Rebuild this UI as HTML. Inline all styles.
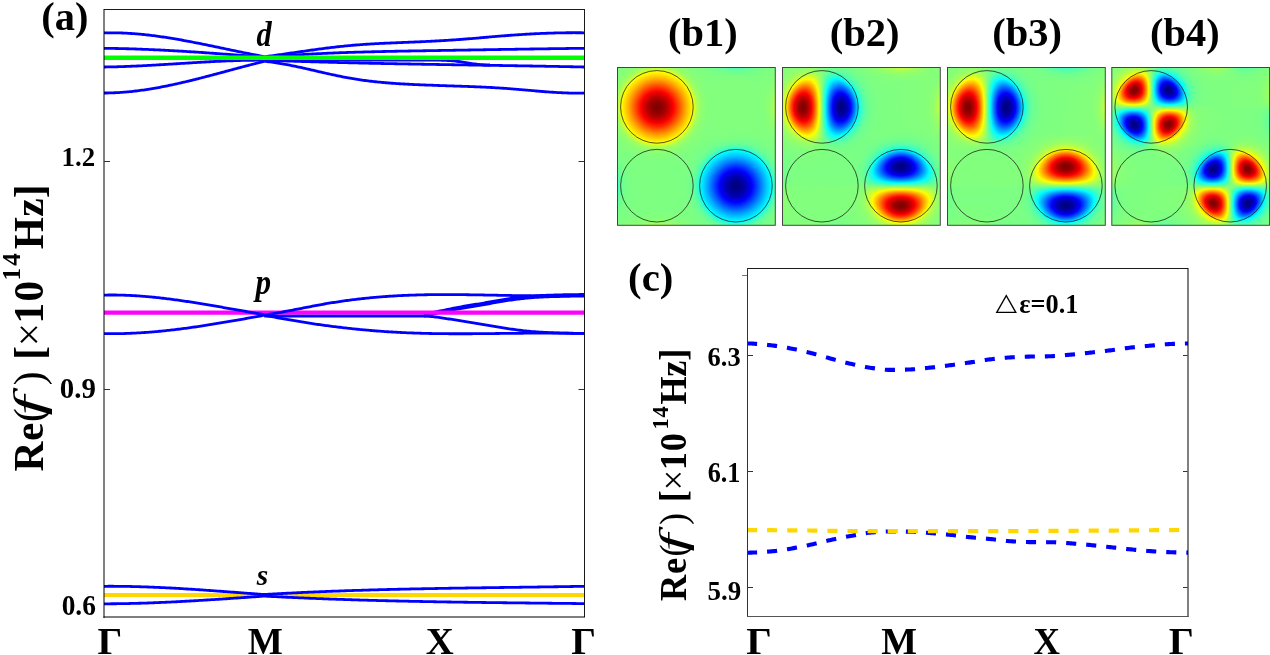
<!DOCTYPE html>
<html><head><meta charset="utf-8"><style>
html,body{margin:0;padding:0;background:#fff}
body{width:1270px;height:655px;position:relative;overflow:hidden}
.fm{position:absolute;overflow:hidden}
.fm i{position:absolute;left:0;width:100%;height:1px;display:block}
</style></head><body>
<div class="fm" style="left:617.5px;top:67.5px;width:157.8px;height:157.8px"><i style="top:0px;background:linear-gradient(90deg,#80ff7f 0.0%,#8dff72 10.5%,#beff41 23.1%,#bcff43 27.9%,#8bff74 40.2%,#7eff81 52.6%,#70ff8f 62.7%,#51ffae 73.5%,#56ffa9 79.2%,#78ff87 91.3%,#80ff7f 99.8%)"></i><i style="top:1px;background:linear-gradient(90deg,#80ff7f 0.0%,#8dff72 9.5%,#aeff51 16.5%,#cfff30 22.8%,#d0ff2f 26.9%,#afff50 33.3%,#8eff71 40.2%,#80ff7f 49.7%,#73ff8c 62.7%,#5affa5 74.1%,#64ff9b 81.4%,#7bff84 92.8%,#80ff7f 99.8%)"></i><i style="top:2px;background:linear-gradient(90deg,#80ff7f 0.0%,#8dff72 8.6%,#aaff55 14.3%,#e3ff1c 22.2%,#e9ff16 25.7%,#d9ff26 29.5%,#9aff65 38.3%,#86ff79 44.7%,#72ff8d 64.6%,#63ff9c 75.1%,#7eff81 95.7%,#80ff7f 99.8%)"></i><i style="top:3px;background:linear-gradient(90deg,#81ff7e 0.0%,#8eff71 7.9%,#aaff55 13.0%,#fbff04 21.5%,#fdff02 27.2%,#f5ff0a 29.2%,#a4ff5b 37.7%,#8bff74 43.1%,#7fff80 53.5%,#6dff92 69.7%,#6bff94 78.6%,#7fff80 96.3%,#81ff7e 99.8%)"></i><i style="top:4px;background:linear-gradient(90deg,#81ff7e 0.0%,#8fff70 7.3%,#a9ff56 11.7%,#daff25 16.2%,#fdff02 19.0%,#fff500 25.7%,#fcff03 31.1%,#b0ff4f 37.4%,#92ff6d 41.8%,#82ff7d 48.5%,#6eff91 77.0%,#81ff7e 99.8%)"></i><i style="top:5px;background:linear-gradient(90deg,#82ff7d 0.0%,#8fff70 6.7%,#a9ff56 10.8%,#d8ff27 14.6%,#fdff02 17.1%,#ffeb00 23.8%,#fff100 29.2%,#fcff03 33.0%,#b8ff47 37.7%,#98ff67 41.5%,#85ff7a 46.9%,#72ff8d 77.3%,#81ff7e 99.8%)"></i><i style="top:6px;background:linear-gradient(90deg,#82ff7d 0.0%,#91ff6e 6.3%,#acff53 10.1%,#d7ff28 13.3%,#fdff02 15.5%,#ffe200 22.5%,#ffe200 27.6%,#fffc00 33.6%,#f8ff07 34.9%,#c1ff3e 38.0%,#9dff62 41.5%,#88ff77 46.3%,#7dff82 60.8%,#76ff89 78.9%,#82ff7d 99.8%)"></i><i style="top:7px;background:linear-gradient(90deg,#83ff7c 0.0%,#91ff6e 5.7%,#abff54 9.2%,#d3ff2c 12.0%,#fdff02 14.3%,#ffda00 21.2%,#ffd500 26.3%,#ffe700 31.7%,#fcff03 35.8%,#c2ff3d 39.0%,#9eff61 42.1%,#89ff76 46.6%,#7eff81 58.0%,#79ff86 80.2%,#82ff7d 99.8%)"></i><i style="top:8px;background:linear-gradient(90deg,#83ff7c 0.0%,#93ff6c 5.4%,#b1ff4e 8.9%,#d9ff26 11.4%,#fcff03 13.0%,#ffd000 20.9%,#ffc800 25.7%,#ffd700 30.7%,#fdff02 36.8%,#f2ff0d 37.4%,#c0ff3f 39.9%,#9fff60 42.8%,#89ff76 46.9%,#7fff80 56.7%,#7bff84 81.7%,#83ff7c 99.8%)"></i><i style="top:9px;background:linear-gradient(90deg,#84ff7b 0.0%,#95ff6a 5.1%,#b2ff4d 8.2%,#deff21 10.8%,#fcff03 12.0%,#ffc800 20.0%,#ffbc00 24.7%,#ffc600 29.5%,#ffee00 35.5%,#feff01 37.7%,#f2ff0d 38.3%,#c3ff3c 40.6%,#9fff60 43.4%,#89ff76 47.5%,#7fff80 57.4%,#7cff83 84.0%,#84ff7b 99.8%)"></i><i style="top:10px;background:linear-gradient(90deg,#85ff7a 0.0%,#96ff69 4.8%,#b3ff4c 7.6%,#dbff24 9.8%,#fbff04 11.1%,#ffde00 15.2%,#ffb800 20.9%,#ffaf00 25.3%,#ffbd00 30.1%,#ffec00 36.4%,#fdff02 38.7%,#bfff40 41.5%,#9fff60 44.0%,#8aff75 47.8%,#80ff80 56.7%,#7eff81 86.8%,#84ff7b 99.8%)"></i><i style="top:11px;background:linear-gradient(90deg,#86ff79 0.0%,#98ff67 4.4%,#b8ff47 7.3%,#e6ff19 9.5%,#fdff02 10.5%,#ffb800 18.7%,#ffa300 23.4%,#ffa700 27.9%,#ffc400 33.0%,#fcff03 39.6%,#c6ff39 41.8%,#a2ff5d 44.4%,#8bff74 47.8%,#80ff7f 55.1%,#7fff80 89.4%,#85ff7a 99.8%)"></i><i style="top:12px;background:linear-gradient(90deg,#87ff78 0.0%,#9aff65 4.1%,#b7ff48 6.7%,#dfff20 8.6%,#fbff04 9.5%,#ffef00 11.4%,#ffae00 18.4%,#ff9700 22.8%,#ff9700 26.9%,#ffad00 31.4%,#fff100 38.7%,#fdff02 40.2%,#c6ff39 42.5%,#a5ff5a 44.7%,#8dff72 47.8%,#81ff7e 54.2%,#7fff80 91.3%,#86ff79 99.8%)"></i><i style="top:13px;background:linear-gradient(90deg,#88ff77 0.0%,#9bff64 3.8%,#bcff43 6.3%,#e8ff17 8.2%,#fbff04 8.9%,#ffe700 11.4%,#ffa200 18.4%,#ff8a00 22.8%,#ff8900 26.9%,#ffa000 31.4%,#ffe100 38.0%,#fdff02 40.9%,#c5ff3a 43.1%,#a3ff5c 45.3%,#8dff72 48.5%,#81ff7e 55.1%,#80ff7f 94.4%,#87ff78 99.8%)"></i><i style="top:14px;background:linear-gradient(90deg,#89ff76 0.0%,#9dff62 3.5%,#baff45 5.7%,#e7ff18 7.6%,#fbff04 8.2%,#ffed00 10.1%,#ff9b00 17.7%,#ff7e00 22.2%,#ff7a00 26.3%,#ff8d00 30.4%,#ffc300 36.1%,#fdff02 41.5%,#c4ff3b 43.7%,#a2ff5d 45.9%,#8cff73 49.1%,#80ff7f 56.1%,#82ff7d 95.7%,#88ff77 99.8%)"></i><i style="top:15px;background:linear-gradient(90deg,#8aff75 0.0%,#9eff61 3.2%,#bdff42 5.4%,#e4ff1b 7.0%,#f9ff06 7.6%,#fff800 8.6%,#ff9200 17.4%,#ff7200 21.9%,#ff6b00 25.7%,#ff7b00 29.8%,#ffaa00 34.9%,#fdff02 42.1%,#c8ff37 44.0%,#a3ff5c 46.3%,#8cff73 49.4%,#81ff7e 56.1%,#82ff7d 96.0%,#89ff76 99.8%)"></i><i style="top:16px;background:linear-gradient(90deg,#8cff73 0.0%,#a3ff5c 3.2%,#c1ff3e 5.1%,#ebff14 6.7%,#fdff02 7.3%,#ff8200 17.7%,#ff6400 21.9%,#ff5d00 25.7%,#ff6c00 29.5%,#ff9800 34.2%,#ffff00 42.5%,#fcff03 42.8%,#ccff33 44.4%,#a9ff56 46.3%,#90ff6f 49.1%,#82ff7d 54.5%,#81ff7e 94.7%,#8bff74 99.8%)"></i><i style="top:17px;background:linear-gradient(90deg,#8dff72 0.0%,#a4ff5b 2.9%,#c3ff3c 4.8%,#f0ff0f 6.3%,#fbff04 6.7%,#ffef00 8.2%,#ff7c00 17.1%,#ff5900 21.2%,#ff4e00 25.0%,#ff5a00 28.8%,#ff8100 33.3%,#feff01 43.1%,#ecff13 43.7%,#c1ff3e 45.3%,#9fff60 47.5%,#8aff75 50.7%,#80ff7f 58.3%,#83ff7c 96.0%,#8cff73 99.8%)"></i><i style="top:18px;background:linear-gradient(90deg,#8fff70 0.0%,#a5ff5a 2.5%,#c6ff39 4.4%,#fdff02 6.3%,#ff6d00 17.4%,#ff4a00 21.5%,#ff4000 25.0%,#ff4c00 28.8%,#ff7200 33.0%,#fffe00 43.4%,#fcff03 43.7%,#caff35 45.3%,#a7ff58 47.2%,#8eff71 50.1%,#82ff7d 55.4%,#82ff7d 95.1%,#8eff71 99.8%)"></i><i style="top:19px;background:linear-gradient(90deg,#91ff6e 0.0%,#aaff55 2.5%,#d0ff2f 4.4%,#faff05 5.7%,#fffb00 6.3%,#ff6400 17.1%,#ff3e00 21.2%,#ff3100 24.7%,#ff3b00 28.2%,#ff5e00 32.3%,#ffba00 39.0%,#fdff02 44.0%,#c5ff3a 45.9%,#a4ff5b 47.8%,#8dff72 50.7%,#81ff7e 56.7%,#83ff7c 95.4%,#90ff6f 99.8%)"></i><i style="top:20px;background:linear-gradient(90deg,#93ff6c 0.0%,#afff50 2.5%,#d1ff2e 4.1%,#fcff03 5.4%,#ffdf00 7.9%,#ff5800 17.1%,#ff3000 21.2%,#ff2300 24.7%,#ff2d00 28.2%,#ff4e00 32.0%,#ff9e00 37.7%,#feff01 44.4%,#f8ff07 44.7%,#ceff31 45.9%,#a8ff57 47.8%,#90ff6f 50.4%,#82ff7d 55.1%,#82ff7d 94.1%,#8eff71 99.2%,#92ff6d 99.8%)"></i><i style="top:21px;background:linear-gradient(90deg,#95ff6a 0.0%,#afff50 2.2%,#d2ff2d 3.8%,#fdff02 5.1%,#ffc000 9.5%,#ff4c00 17.1%,#ff2500 20.9%,#ff1500 24.4%,#ff1d00 27.9%,#ff3e00 31.7%,#ff8a00 37.1%,#ffff00 44.7%,#fbff04 45.0%,#cfff30 46.3%,#adff52 47.8%,#92ff6d 50.4%,#83ff7c 54.8%,#80ff7f 91.6%,#8bff74 98.2%,#94ff6b 99.8%)"></i><i style="top:22px;background:linear-gradient(90deg,#97ff68 0.0%,#b5ff4a 2.2%,#ddff22 3.8%,#fdff02 4.8%,#ffb900 9.5%,#ff4500 16.8%,#ff1a00 20.6%,#ff0800 24.1%,#ff0e00 27.6%,#ff2b00 31.1%,#ff6d00 35.8%,#fffa00 44.7%,#fbff04 45.3%,#cfff30 46.6%,#adff52 48.2%,#94ff6b 50.4%,#84ff7b 54.5%,#7fff80 80.5%,#85ff7a 96.0%,#96ff69 99.8%)"></i><i style="top:23px;background:linear-gradient(90deg,#9aff65 0.0%,#b4ff4b 1.9%,#dcff23 3.5%,#fdff02 4.4%,#ffb700 9.2%,#ff3a00 16.8%,#ff0d00 20.6%,#fe0000 22.8%,#fa0000 26.0%,#ff0500 28.2%,#ff2a00 32.0%,#ff7d00 37.4%,#fff500 44.7%,#fbff04 45.6%,#cfff30 46.9%,#acff53 48.5%,#93ff6c 50.7%,#84ff7b 54.8%,#7fff80 83.3%,#86ff79 96.0%,#95ff6a 99.5%,#98ff67 99.8%)"></i><i style="top:24px;background:linear-gradient(90deg,#9cff63 0.0%,#b9ff46 1.9%,#dbff24 3.2%,#fdff02 4.1%,#ffc100 8.2%,#ff2f00 16.8%,#ff0100 20.6%,#ed0000 24.1%,#f10000 27.2%,#ff0200 29.5%,#ff3100 33.3%,#fff500 45.0%,#fbff04 45.9%,#ceff31 47.2%,#abff54 48.8%,#93ff6c 51.0%,#84ff7b 55.1%,#80ff7f 86.5%,#87ff78 96.3%,#97ff68 99.5%,#9aff65 99.8%)"></i><i style="top:25px;background:linear-gradient(90deg,#9fff60 0.0%,#bfff40 1.9%,#e5ff1a 3.2%,#fcff03 3.8%,#ffcb00 7.3%,#ff2400 16.8%,#fd0000 19.6%,#e40000 22.8%,#e00000 26.0%,#f20000 29.2%,#ff0300 30.7%,#ff4000 34.9%,#ffec00 44.7%,#ffff00 45.9%,#f9ff06 46.3%,#ccff33 47.5%,#aaff55 49.1%,#90ff6f 51.6%,#82ff7d 56.4%,#83ff7c 93.8%,#90ff6f 98.2%,#9dff62 99.8%)"></i><i style="top:26px;background:linear-gradient(90deg,#a2ff5d 0.0%,#bdff42 1.6%,#e2ff1d 2.9%,#fbff04 3.5%,#fff000 4.8%,#ff8000 11.1%,#ff1500 17.1%,#fe0000 18.7%,#dc0000 22.2%,#d30000 25.3%,#e10000 28.5%,#ff0000 31.4%,#ff4700 35.8%,#ffe300 44.4%,#feff01 46.3%,#e9ff16 46.9%,#c2ff3d 48.2%,#a0ff5f 50.1%,#8bff74 52.9%,#80ff7f 59.6%,#83ff7c 94.1%,#91ff6e 98.2%,#9fff60 99.8%)"></i><i style="top:27px;background:linear-gradient(90deg,#a4ff5b 0.0%,#c2ff3d 1.6%,#ebff14 2.9%,#f8ff07 3.2%,#ffff00 3.5%,#ffaa00 8.6%,#ff1500 16.5%,#fc0000 18.1%,#d50000 21.5%,#c80000 24.7%,#d10000 27.9%,#f50000 31.4%,#ff0400 32.3%,#ff5d00 37.4%,#ffe400 44.7%,#fdff02 46.6%,#c7ff38 48.2%,#a7ff58 49.7%,#8fff70 52.3%,#82ff7d 57.4%,#83ff7c 93.5%,#90ff6f 97.9%,#a2ff5d 99.8%)"></i><i style="top:28px;background:linear-gradient(90deg,#a7ff58 0.0%,#c7ff38 1.6%,#fdff02 3.2%,#ffbc00 7.3%,#ff0d00 16.5%,#fc0000 17.4%,#d00000 20.9%,#be0000 24.1%,#c30000 27.2%,#df0000 30.4%,#fe0000 32.6%,#ff5600 37.4%,#ffdb00 44.4%,#fffe00 46.6%,#fbff04 46.9%,#cdff32 48.2%,#aaff55 49.7%,#92ff6d 52.0%,#83ff7c 56.1%,#81ff7e 90.6%,#8aff75 96.6%,#a0ff5f 99.5%,#a4ff5b 99.8%)"></i><i style="top:29px;background:linear-gradient(90deg,#a9ff56 0.0%,#ccff33 1.6%,#fbff04 2.9%,#ffef00 4.1%,#ff8d00 9.5%,#ff0400 16.5%,#f30000 17.4%,#c60000 20.9%,#b30000 24.1%,#b70000 26.9%,#d20000 30.1%,#ff0100 33.3%,#ff8f00 40.6%,#fff100 45.9%,#feff01 46.9%,#e9ff16 47.5%,#c0ff3f 48.8%,#9fff60 50.7%,#8aff75 53.5%,#80ff7f 60.5%,#83ff7c 93.8%,#92ff6d 97.9%,#a6ff59 99.8%)"></i><i style="top:30px;background:linear-gradient(90deg,#acff53 0.0%,#d1ff2e 1.6%,#feff01 2.9%,#ffb400 7.3%,#ff0200 16.2%,#c40000 20.3%,#ac0000 23.4%,#ab0000 26.3%,#c20000 29.5%,#f30000 33.0%,#ff0400 33.9%,#ffd900 44.7%,#fffd00 46.9%,#fcff03 47.2%,#cdff32 48.5%,#aaff55 50.1%,#91ff6e 52.3%,#83ff7c 56.4%,#81ff7e 90.9%,#8cff73 96.6%,#a0ff5f 99.2%,#a9ff56 99.8%)"></i><i style="top:31px;background:linear-gradient(90deg,#aeff51 0.0%,#d6ff29 1.6%,#fbff04 2.5%,#ffef00 3.8%,#ff9000 8.9%,#ff0100 15.8%,#c30000 19.6%,#a70000 22.8%,#a10000 25.7%,#b00000 28.5%,#d70000 31.7%,#ff0300 34.2%,#ffd000 44.4%,#feff01 47.2%,#e8ff17 47.8%,#c0ff3f 49.1%,#a2ff5d 50.7%,#8dff72 53.2%,#81ff7e 58.6%,#83ff7c 93.2%,#90ff6f 97.3%,#a6ff59 99.5%,#abff54 99.8%)"></i><i style="top:32px;background:linear-gradient(90deg,#b1ff4e 0.0%,#d0ff2f 1.3%,#fdff02 2.5%,#ffbf00 6.3%,#ff0100 15.5%,#bc0000 19.6%,#9f0000 22.8%,#9a0000 25.7%,#a90000 28.5%,#d00000 31.7%,#ff0300 34.5%,#ffce00 44.4%,#fffe00 47.2%,#fbff04 47.5%,#ccff33 48.8%,#a9ff56 50.4%,#91ff6e 52.6%,#83ff7c 57.0%,#82ff7d 92.5%,#8fff70 97.0%,#a3ff5c 99.2%,#adff52 99.8%)"></i><i style="top:33px;background:linear-gradient(90deg,#b3ff4c 0.0%,#d3ff2c 1.3%,#f9ff06 2.2%,#ffff00 2.5%,#ffaa00 7.3%,#ff0200 15.2%,#ba0000 19.3%,#9a0000 22.5%,#920000 25.3%,#a00000 28.2%,#c50000 31.4%,#fd0000 34.5%,#ffd100 44.7%,#fdff02 47.5%,#c6ff39 49.1%,#a5ff5a 50.7%,#8eff71 53.2%,#81ff7e 58.3%,#83ff7c 92.8%,#8fff70 97.0%,#a4ff5b 99.2%,#afff50 99.8%)"></i><i style="top:34px;background:linear-gradient(90deg,#b4ff4b 0.0%,#d6ff29 1.3%,#fcff03 2.2%,#ffe300 4.1%,#ff7f00 9.2%,#ff0400 14.9%,#ea0000 16.2%,#b10000 19.6%,#930000 22.8%,#8d0000 25.7%,#9d0000 28.5%,#c50000 31.7%,#ff0000 34.9%,#ffc900 44.4%,#ffff00 47.5%,#f7ff08 47.8%,#c8ff37 49.1%,#a7ff58 50.7%,#8eff71 53.2%,#81ff7e 58.3%,#83ff7c 92.8%,#90ff6f 97.0%,#a6ff59 99.2%,#b1ff4e 99.8%)"></i><i style="top:35px;background:linear-gradient(90deg,#b6ff49 0.0%,#d9ff26 1.3%,#fdff02 2.2%,#ffc500 5.7%,#ff0000 14.9%,#ba0000 18.7%,#950000 21.9%,#880000 24.7%,#910000 27.6%,#b30000 30.7%,#f50000 34.5%,#ff0300 35.2%,#ffc100 44.0%,#fffe00 47.5%,#fbff04 47.8%,#caff35 49.1%,#a8ff57 50.7%,#90ff6f 52.9%,#82ff7d 57.4%,#82ff7d 92.5%,#90ff6f 97.0%,#a7ff58 99.2%,#b2ff4d 99.8%)"></i><i style="top:36px;background:linear-gradient(90deg,#b7ff48 0.0%,#dbff24 1.3%,#feff01 2.2%,#ffb700 6.3%,#fc0000 14.9%,#b70000 18.7%,#910000 21.9%,#840000 24.7%,#8d0000 27.6%,#af0000 30.7%,#f20000 34.5%,#ff0000 35.2%,#ffc000 44.0%,#fffd00 47.5%,#fcff03 47.8%,#ccff33 49.1%,#a9ff56 50.7%,#91ff6e 52.9%,#82ff7d 57.4%,#82ff7d 92.5%,#90ff6f 97.0%,#a8ff57 99.2%,#b3ff4c 99.8%)"></i><i style="top:37px;background:linear-gradient(90deg,#b8ff47 0.0%,#dcff23 1.3%,#f7ff08 1.9%,#ffff00 2.2%,#ffb000 6.7%,#ff0200 14.6%,#b00000 19.0%,#8c0000 22.2%,#810000 25.0%,#8d0000 27.9%,#b10000 31.1%,#f60000 34.9%,#ff0500 35.5%,#ffbf00 44.0%,#fffd00 47.5%,#fdff02 47.8%,#cdff32 49.1%,#a9ff56 50.7%,#91ff6e 52.9%,#83ff7c 57.0%,#82ff7d 91.6%,#8dff72 96.3%,#a3ff5c 98.9%,#b4ff4b 99.8%)"></i><i style="top:38px;background:linear-gradient(90deg,#b8ff47 0.0%,#ddff22 1.3%,#f8ff07 1.9%,#ffff00 2.2%,#ffaf00 6.7%,#ff0100 14.6%,#b30000 18.7%,#8d0000 21.9%,#800000 24.7%,#890000 27.6%,#ab0000 30.7%,#ef0000 34.5%,#ff0400 35.5%,#ffbe00 44.0%,#fffc00 47.5%,#fdff02 47.8%,#c5ff3a 49.4%,#a5ff5a 51.0%,#8dff72 53.5%,#81ff7e 58.6%,#83ff7c 92.8%,#91ff6e 97.0%,#a9ff56 99.2%,#b4ff4b 99.8%)"></i><i style="top:39px;background:linear-gradient(90deg,#b8ff47 0.0%,#ddff22 1.3%,#f8ff07 1.9%,#ffff00 2.2%,#ffaf00 6.7%,#ff0100 14.6%,#b30000 18.7%,#8d0000 21.9%,#800000 24.7%,#890000 27.6%,#ab0000 30.7%,#ee0000 34.5%,#ff0300 35.5%,#ffbe00 44.0%,#fffc00 47.5%,#fdff02 47.8%,#c5ff3a 49.4%,#a5ff5a 51.0%,#8dff72 53.5%,#81ff7e 58.6%,#83ff7c 92.8%,#91ff6e 97.0%,#a9ff56 99.2%,#b4ff4b 99.8%)"></i><i style="top:40px;background:linear-gradient(90deg,#b8ff47 0.0%,#ddff22 1.3%,#f8ff07 1.9%,#ffff00 2.2%,#ffaf00 6.7%,#ff0100 14.6%,#b30000 18.7%,#8d0000 21.9%,#800000 24.7%,#890000 27.6%,#ac0000 30.7%,#ef0000 34.5%,#ff0400 35.5%,#ffbe00 44.0%,#fffc00 47.5%,#fdff02 47.8%,#c5ff3a 49.4%,#a5ff5a 51.0%,#8dff72 53.5%,#81ff7e 58.6%,#83ff7c 92.8%,#91ff6e 97.0%,#a8ff57 99.2%,#b4ff4b 99.8%)"></i><i style="top:41px;background:linear-gradient(90deg,#b8ff47 0.0%,#dcff23 1.3%,#f6ff09 1.9%,#feff01 2.2%,#ffb000 6.7%,#ff0200 14.6%,#b00000 19.0%,#8c0000 22.2%,#820000 25.0%,#8d0000 27.9%,#b20000 31.1%,#f70000 34.9%,#ff0500 35.5%,#ffbf00 44.0%,#fffd00 47.5%,#fcff03 47.8%,#cdff32 49.1%,#a9ff56 50.7%,#91ff6e 52.9%,#83ff7c 57.0%,#82ff7d 91.6%,#8dff72 96.3%,#a3ff5c 98.9%,#b4ff4b 99.8%)"></i><i style="top:42px;background:linear-gradient(90deg,#b7ff48 0.0%,#daff25 1.3%,#feff01 2.2%,#ffbe00 6.0%,#fd0000 14.9%,#b70000 18.7%,#920000 21.9%,#850000 24.7%,#8e0000 27.6%,#b00000 30.7%,#f30000 34.5%,#ff0100 35.2%,#ffc000 44.0%,#fffd00 47.5%,#fcff03 47.8%,#ccff33 49.1%,#a8ff57 50.7%,#91ff6e 52.9%,#82ff7d 57.4%,#82ff7d 92.5%,#90ff6f 97.0%,#a7ff58 99.2%,#b3ff4c 99.8%)"></i><i style="top:43px;background:linear-gradient(90deg,#b5ff4a 0.0%,#d8ff27 1.3%,#fdff02 2.2%,#ffcb00 5.4%,#ff4500 11.7%,#ff0100 14.9%,#b60000 19.0%,#930000 22.2%,#890000 25.0%,#940000 27.9%,#b80000 31.1%,#fc0000 34.9%,#ff3a00 37.7%,#ffc800 44.4%,#fffe00 47.5%,#faff05 47.8%,#caff35 49.1%,#a8ff57 50.7%,#90ff6f 52.9%,#82ff7d 57.4%,#82ff7d 92.5%,#90ff6f 97.0%,#a7ff58 99.2%,#b2ff4d 99.8%)"></i><i style="top:44px;background:linear-gradient(90deg,#b4ff4b 0.0%,#d6ff29 1.3%,#fbff04 2.2%,#ffee00 3.5%,#ff8d00 8.6%,#fd0000 15.2%,#bb0000 19.0%,#980000 22.2%,#8e0000 25.0%,#990000 27.9%,#bc0000 31.1%,#ff0100 34.9%,#ffc900 44.4%,#feff01 47.5%,#e8ff17 48.2%,#bfff40 49.4%,#a2ff5d 51.0%,#8cff73 53.5%,#81ff7e 59.3%,#83ff7c 93.2%,#92ff6d 97.3%,#abff54 99.5%,#b0ff4f 99.8%)"></i><i style="top:45px;background:linear-gradient(90deg,#b2ff4d 0.0%,#d2ff2d 1.3%,#f8ff07 2.2%,#ffff00 2.5%,#ffaa00 7.3%,#ff0300 15.2%,#b70000 19.6%,#9a0000 22.8%,#940000 25.7%,#a40000 28.5%,#cb0000 31.7%,#fe0000 34.5%,#ffcc00 44.4%,#fdff02 47.5%,#c5ff3a 49.1%,#a5ff5a 50.7%,#8dff72 53.2%,#81ff7e 58.3%,#83ff7c 93.2%,#91ff6e 97.3%,#a9ff56 99.5%,#afff50 99.8%)"></i><i style="top:46px;background:linear-gradient(90deg,#b0ff4f 0.0%,#cfff30 1.3%,#fdff02 2.5%,#ffc600 6.0%,#ff0200 15.5%,#be0000 19.6%,#a00000 22.8%,#9b0000 25.7%,#aa0000 28.5%,#d10000 31.7%,#fd0000 34.2%,#ffd400 44.7%,#fffe00 47.2%,#fbff04 47.5%,#cbff34 48.8%,#a8ff57 50.4%,#91ff6e 52.6%,#83ff7c 57.0%,#82ff7d 92.5%,#8eff71 97.0%,#a3ff5c 99.2%,#adff52 99.8%)"></i><i style="top:47px;background:linear-gradient(90deg,#aeff51 0.0%,#d5ff2a 1.6%,#fbff04 2.5%,#fff400 3.5%,#ff9800 8.6%,#ff0200 15.8%,#c10000 20.0%,#a70000 23.1%,#a40000 26.0%,#b50000 28.8%,#e20000 32.3%,#fe0000 33.9%,#ff8700 40.6%,#ffec00 45.9%,#feff01 47.2%,#c7ff38 48.8%,#a7ff58 50.4%,#8eff71 52.9%,#82ff7d 58.0%,#83ff7c 93.2%,#90ff6f 97.3%,#a6ff59 99.5%,#abff54 99.8%)"></i><i style="top:48px;background:linear-gradient(90deg,#abff54 0.0%,#d0ff2f 1.6%,#fdff02 2.9%,#ffbb00 7.0%,#ff0300 16.2%,#de0000 18.4%,#b90000 21.5%,#ab0000 24.4%,#b10000 27.2%,#cf0000 30.4%,#ff0000 33.6%,#ffda00 44.7%,#fffe00 46.9%,#fbff04 47.2%,#ccff33 48.5%,#a9ff56 50.1%,#91ff6e 52.3%,#83ff7c 56.4%,#81ff7e 91.3%,#8cff73 96.6%,#a0ff5f 99.2%,#a8ff57 99.8%)"></i><i style="top:49px;background:linear-gradient(90deg,#a9ff56 0.0%,#cbff34 1.6%,#faff05 2.9%,#fffa00 3.5%,#ffa000 8.6%,#ff0600 16.5%,#fa0000 17.1%,#cb0000 20.6%,#b60000 23.8%,#b80000 26.6%,#d00000 29.8%,#ff0300 33.3%,#ff9000 40.6%,#fff200 45.9%,#feff01 46.9%,#c8ff37 48.5%,#a7ff58 50.1%,#8eff71 52.6%,#82ff7d 57.7%,#83ff7c 93.5%,#90ff6f 97.6%,#a6ff59 99.8%)"></i><i style="top:50px;background:linear-gradient(90deg,#a6ff59 0.0%,#c6ff39 1.6%,#fdff02 3.2%,#ffc900 6.7%,#ff0900 16.8%,#fe0000 17.4%,#d20000 20.9%,#c00000 24.1%,#c50000 27.2%,#e10000 30.4%,#ff0100 32.6%,#ff6300 38.0%,#ffe100 44.7%,#ffff00 46.6%,#faff05 46.9%,#cbff34 48.2%,#a9ff56 49.7%,#91ff6e 52.0%,#83ff7c 56.4%,#82ff7d 92.5%,#8dff72 97.3%,#a4ff5b 99.8%)"></i><i style="top:51px;background:linear-gradient(90deg,#a4ff5b 0.0%,#c1ff3e 1.6%,#e9ff16 2.9%,#feff01 3.5%,#ffb100 8.2%,#ff1700 16.5%,#fe0000 18.1%,#d70000 21.5%,#ca0000 24.7%,#d40000 27.9%,#f70000 31.4%,#ff0600 32.3%,#ff5e00 37.4%,#ffe500 44.7%,#fcff03 46.6%,#c6ff39 48.2%,#a6ff59 49.7%,#8eff71 52.3%,#82ff7d 57.4%,#83ff7c 93.5%,#90ff6f 97.9%,#a1ff5e 99.8%)"></i><i style="top:52px;background:linear-gradient(90deg,#a1ff5e 0.0%,#c4ff3b 1.9%,#ecff13 3.2%,#faff05 3.5%,#fffa00 4.1%,#ff9900 9.8%,#ff1c00 16.8%,#ff0100 18.7%,#de0000 22.2%,#d60000 25.3%,#e40000 28.5%,#ff0300 31.4%,#ff4900 35.8%,#ffe400 44.4%,#fdff02 46.3%,#c9ff36 47.8%,#a8ff57 49.4%,#8fff70 52.0%,#82ff7d 56.7%,#82ff7d 93.5%,#8fff70 97.9%,#9fff60 99.8%)"></i><i style="top:53px;background:linear-gradient(90deg,#9eff61 0.0%,#beff41 1.9%,#e3ff1c 3.2%,#fcff03 3.8%,#ffeb00 5.4%,#ff2100 17.1%,#ff0100 19.6%,#e50000 23.1%,#e40000 26.3%,#f70000 29.5%,#ff0600 30.7%,#ff4200 34.9%,#ffed00 44.7%,#feff01 45.9%,#eaff15 46.6%,#c2ff3d 47.8%,#a1ff5e 49.7%,#8bff74 52.6%,#81ff7e 58.9%,#83ff7c 94.1%,#91ff6e 98.5%,#9cff63 99.8%)"></i><i style="top:54px;background:linear-gradient(90deg,#9cff63 0.0%,#b8ff47 1.9%,#daff25 3.2%,#fcff03 4.1%,#ffd200 7.3%,#ff3100 16.8%,#ff0300 20.6%,#ee0000 24.7%,#f70000 27.9%,#ff0400 29.5%,#ff3300 33.3%,#fff600 45.0%,#ffff00 45.6%,#f9ff06 45.9%,#ccff33 47.2%,#abff54 48.8%,#90ff6f 51.3%,#82ff7d 56.1%,#82ff7d 93.8%,#90ff6f 98.5%,#9aff65 99.8%)"></i><i style="top:55px;background:linear-gradient(90deg,#99ff66 0.0%,#b3ff4c 1.9%,#daff25 3.5%,#fcff03 4.4%,#ffcd00 7.9%,#ff3c00 16.8%,#ff1000 20.6%,#fe0000 23.4%,#ff0300 27.6%,#ff2100 31.1%,#ff6500 35.8%,#fff600 44.7%,#ffff00 45.3%,#f9ff06 45.6%,#cdff32 46.9%,#abff54 48.5%,#91ff6e 51.0%,#83ff7c 55.4%,#81ff7e 92.8%,#8dff72 98.2%,#98ff67 99.8%)"></i><i style="top:56px;background:linear-gradient(90deg,#97ff68 0.0%,#b3ff4c 2.2%,#dbff24 3.8%,#fcff03 4.8%,#ffcf00 8.2%,#ff4700 16.8%,#ff1d00 20.6%,#ff0b00 24.1%,#ff1100 27.6%,#ff2d00 31.1%,#ff6f00 35.8%,#fffb00 44.7%,#f9ff06 45.3%,#cdff32 46.6%,#acff53 48.2%,#91ff6e 50.7%,#83ff7c 55.1%,#81ff7e 92.5%,#8cff73 98.2%,#95ff6a 99.8%)"></i><i style="top:57px;background:linear-gradient(90deg,#95ff6a 0.0%,#aeff51 2.2%,#d1ff2e 3.8%,#fcff03 5.1%,#ffe800 7.0%,#ff4f00 17.1%,#ff2700 20.9%,#ff1800 24.4%,#ff2000 27.9%,#ff4100 31.7%,#ff8c00 37.1%,#feff01 44.7%,#ebff14 45.3%,#beff41 46.9%,#9fff60 48.8%,#8aff75 52.0%,#80ff7f 59.6%,#83ff7c 95.1%,#91ff6e 99.5%,#93ff6c 99.8%)"></i><i style="top:58px;background:linear-gradient(90deg,#93ff6c 0.0%,#aeff51 2.5%,#cfff30 4.1%,#faff05 5.4%,#fffb00 6.0%,#ff5b00 17.1%,#ff3300 21.2%,#ff2600 24.7%,#ff3000 28.2%,#ff5100 32.0%,#ffa400 38.0%,#fdff02 44.4%,#c4ff3b 46.3%,#a3ff5c 48.2%,#8cff73 51.0%,#81ff7e 57.0%,#83ff7c 95.1%,#91ff6e 99.8%)"></i><i style="top:59px;background:linear-gradient(90deg,#90ff6f 0.0%,#a9ff56 2.5%,#ceff31 4.4%,#feff01 6.0%,#ff6300 17.4%,#ff3e00 21.5%,#ff3400 25.0%,#ff3f00 28.5%,#ff6400 32.6%,#ffd200 40.6%,#fcff03 44.0%,#caff35 45.6%,#a7ff58 47.5%,#8eff71 50.4%,#82ff7d 55.8%,#82ff7d 95.1%,#8fff70 99.8%)"></i><i style="top:60px;background:linear-gradient(90deg,#8fff70 0.0%,#a8ff57 2.9%,#cbff34 4.8%,#fcff03 6.3%,#ffc200 11.1%,#ff6c00 17.7%,#ff4b00 21.9%,#ff4300 25.3%,#ff5100 29.2%,#ff7c00 33.6%,#ffff00 43.4%,#faff05 43.7%,#c8ff37 45.3%,#a6ff59 47.2%,#8eff71 50.1%,#81ff7e 55.8%,#82ff7d 95.4%,#8eff71 99.8%)"></i><i style="top:61px;background:linear-gradient(90deg,#8dff72 0.0%,#a3ff5c 2.9%,#c2ff3d 4.8%,#edff12 6.3%,#feff01 7.0%,#ff7c00 17.4%,#ff5a00 21.5%,#ff5100 25.3%,#ff5f00 29.2%,#ff8700 33.6%,#fdff02 43.1%,#c6ff39 45.0%,#a5ff5a 46.9%,#8eff71 49.7%,#81ff7e 55.4%,#82ff7d 95.4%,#8cff73 99.8%)"></i><i style="top:62px;background:linear-gradient(90deg,#8bff74 0.0%,#a2ff5d 3.2%,#c5ff3a 5.4%,#fcff03 7.3%,#ffdb00 10.5%,#ff8500 17.7%,#ff6700 21.9%,#ff6000 25.7%,#ff6e00 29.5%,#ff9a00 34.2%,#feff01 42.5%,#eeff11 43.1%,#c3ff3c 44.7%,#a0ff5f 46.9%,#8bff74 50.1%,#80ff7f 57.4%,#82ff7d 96.0%,#8bff74 99.8%)"></i><i style="top:63px;background:linear-gradient(90deg,#8aff75 0.0%,#9dff62 3.2%,#bcff43 5.4%,#e1ff1e 7.0%,#fdff02 7.9%,#ff9100 17.7%,#ff7300 22.2%,#ff6e00 26.0%,#ff8000 30.1%,#ffb000 35.2%,#ffff00 41.8%,#fbff04 42.1%,#cdff32 43.7%,#aaff55 45.6%,#90ff6f 48.5%,#82ff7d 53.5%,#80ff7f 92.5%,#89ff76 99.8%)"></i><i style="top:64px;background:linear-gradient(90deg,#89ff76 0.0%,#9cff63 3.5%,#b8ff47 5.7%,#e3ff1c 7.6%,#fdff02 8.6%,#ff9b00 18.1%,#ff8000 22.5%,#ff7d00 26.6%,#ff9400 31.1%,#ffd000 37.1%,#fcff03 41.5%,#c8ff37 43.4%,#a4ff5b 45.6%,#8dff72 48.8%,#81ff7e 55.1%,#81ff7e 94.7%,#88ff77 99.8%)"></i><i style="top:65px;background:linear-gradient(90deg,#87ff78 0.0%,#9aff65 3.8%,#baff45 6.3%,#e4ff1b 8.2%,#fdff02 9.2%,#ffa700 18.1%,#ff8d00 22.5%,#ff8b00 26.6%,#ffa100 31.1%,#ffdc00 37.4%,#fcff03 40.9%,#caff35 42.8%,#a6ff59 45.0%,#8eff71 48.2%,#81ff7e 54.5%,#80ff7f 92.8%,#87ff78 99.8%)"></i><i style="top:66px;background:linear-gradient(90deg,#86ff79 0.0%,#99ff66 4.1%,#b5ff4a 6.7%,#dbff24 8.6%,#fdff02 9.8%,#ffae00 18.7%,#ff9900 23.1%,#ff9a00 27.2%,#ffb400 32.0%,#ffff00 39.9%,#fbff04 40.2%,#caff35 42.1%,#a7ff58 44.4%,#8eff71 47.5%,#81ff7e 53.5%,#7fff80 88.7%,#86ff79 99.8%)"></i><i style="top:67px;background:linear-gradient(90deg,#85ff7a 0.0%,#97ff68 4.4%,#b6ff49 7.3%,#e2ff1d 9.5%,#fcff03 10.5%,#ffd300 15.5%,#ffae00 20.9%,#ffa400 25.3%,#ffb100 29.8%,#ffdc00 35.5%,#fdff02 39.3%,#e7ff18 40.2%,#b9ff46 42.5%,#99ff66 45.3%,#86ff79 49.7%,#7dff82 68.1%,#84ff7b 98.9%,#85ff7a 99.8%)"></i><i style="top:68px;background:linear-gradient(90deg,#85ff7a 0.0%,#96ff69 4.8%,#b1ff4e 7.6%,#d8ff27 9.8%,#fdff02 11.4%,#ffc200 19.3%,#ffb200 24.1%,#ffb800 28.5%,#ffd900 33.9%,#fcff03 38.7%,#c8ff37 40.9%,#a4ff5b 43.4%,#8dff72 46.9%,#81ff7e 53.9%,#7dff82 84.0%,#84ff7b 99.8%)"></i><i style="top:69px;background:linear-gradient(90deg,#84ff7b 0.0%,#94ff6b 5.1%,#b0ff4f 8.2%,#dbff24 10.8%,#fdff02 12.4%,#ffcb00 20.0%,#ffbe00 24.7%,#ffc800 29.5%,#ffef00 35.5%,#fcff03 37.7%,#c6ff39 40.2%,#a1ff5e 43.1%,#8bff74 46.9%,#80ff7f 55.1%,#7cff83 82.4%,#84ff7b 99.8%)"></i><i style="top:70px;background:linear-gradient(90deg,#83ff7c 0.0%,#92ff6d 5.4%,#afff50 8.9%,#d5ff2a 11.4%,#fdff02 13.3%,#ffd300 20.6%,#ffcb00 25.7%,#ffda00 30.7%,#fcff03 36.8%,#c3ff3c 39.6%,#a0ff5f 42.5%,#8aff75 46.6%,#7fff80 55.8%,#7aff85 80.8%,#83ff7c 99.8%)"></i><i style="top:71px;background:linear-gradient(90deg,#83ff7c 0.0%,#92ff6d 6.0%,#adff52 9.5%,#d5ff2a 12.4%,#fbff04 14.3%,#ffec00 17.7%,#ffd800 23.1%,#ffdb00 28.2%,#fff900 34.2%,#fdff02 35.5%,#bfff40 39.0%,#9dff62 42.1%,#88ff77 46.6%,#7eff81 58.6%,#77ff88 79.5%,#82ff7d 99.8%)"></i><i style="top:72px;background:linear-gradient(90deg,#82ff7d 0.0%,#90ff6f 6.3%,#aaff55 10.1%,#d3ff2c 13.3%,#fbff04 15.5%,#fff400 18.1%,#ffe200 23.8%,#ffe900 29.2%,#fcff03 34.2%,#bbff44 38.3%,#9aff65 41.8%,#86ff79 46.9%,#74ff8b 77.3%,#82ff7d 99.8%)"></i><i style="top:73px;background:linear-gradient(90deg,#82ff7d 0.0%,#90ff6f 7.0%,#aaff55 11.1%,#d8ff27 14.9%,#fdff02 17.4%,#ffed00 24.1%,#fff400 29.5%,#fcff03 32.6%,#b6ff49 37.7%,#95ff6a 41.8%,#84ff7b 47.8%,#71ff8e 77.3%,#81ff7e 99.8%)"></i><i style="top:74px;background:linear-gradient(90deg,#81ff7e 0.0%,#8fff70 7.6%,#acff53 12.4%,#e6ff19 17.4%,#fcff03 19.3%,#fff800 26.3%,#fbff04 30.7%,#b1ff4e 37.1%,#93ff6c 41.5%,#83ff7c 48.2%,#70ff8f 69.1%,#6eff91 78.9%,#80ff7f 98.5%,#81ff7e 99.8%)"></i><i style="top:75px;background:linear-gradient(90deg,#81ff7e 0.0%,#8fff70 8.2%,#abff54 13.3%,#f7ff08 21.9%,#fdff02 25.7%,#f6ff09 28.2%,#a1ff5e 38.0%,#89ff76 43.7%,#70ff8f 66.9%,#67ff98 76.4%,#7fff80 96.0%,#81ff7e 99.8%)"></i><i style="top:76px;background:linear-gradient(90deg,#80ff7f 0.0%,#8eff71 8.9%,#acff53 14.9%,#deff21 22.2%,#e4ff1b 26.0%,#d1ff2e 30.1%,#99ff66 38.3%,#85ff7a 45.0%,#73ff8c 63.7%,#5fffa0 74.8%,#6eff91 84.0%,#7eff81 96.0%,#80ff7f 99.8%)"></i><i style="top:77px;background:linear-gradient(90deg,#80ff7f 0.0%,#8dff72 9.5%,#acff53 16.5%,#cbff34 22.8%,#ccff33 26.9%,#abff54 33.6%,#8cff73 40.6%,#7fff80 51.0%,#72ff8d 62.7%,#57ffa8 74.1%,#5fffa0 80.8%,#7aff85 92.2%,#80ff7f 99.8%)"></i><i style="top:78px;background:linear-gradient(90deg,#80ff7f 0.0%,#8cff73 10.5%,#bcff43 23.4%,#b7ff48 28.5%,#8bff74 40.2%,#73ff8c 61.2%,#4cffb3 73.5%,#50ffaf 78.9%,#77ff88 90.9%,#80ff80 99.8%)"></i><i style="top:79px;background:linear-gradient(90deg,#7fff80 0.0%,#8dff72 11.7%,#afff50 23.8%,#a7ff58 29.8%,#87ff78 41.2%,#75ff8a 59.3%,#56ffa9 67.2%,#3dffc2 73.5%,#41ffbe 78.3%,#73ff8c 90.0%,#7fff80 99.8%)"></i><i style="top:80px;background:linear-gradient(90deg,#7fff80 0.0%,#8dff72 13.0%,#a5ff5a 24.1%,#9bff64 31.4%,#84ff7b 42.8%,#75ff8a 58.0%,#5cffa3 64.3%,#2dffd2 72.6%,#2affd5 76.7%,#45ffba 82.1%,#6dff92 89.4%,#7dff82 97.3%,#7fff80 99.8%)"></i><i style="top:81px;background:linear-gradient(90deg,#7fff80 0.0%,#8dff72 14.6%,#9cff63 25.0%,#81ff7e 45.6%,#75ff8a 57.4%,#5cffa3 63.1%,#17ffe8 72.2%,#10ffef 75.7%,#21ffde 79.5%,#62ff9d 88.1%,#78ff87 94.1%,#7eff81 99.8%)"></i><i style="top:82px;background:linear-gradient(90deg,#7eff81 0.0%,#8eff71 16.8%,#96ff69 26.6%,#80ff7f 46.9%,#74ff8b 56.7%,#5dffa2 61.8%,#2affd5 67.2%,#04fffb 71.0%,#01fffe 77.9%,#0afff5 79.8%,#57ffa8 87.5%,#72ff8d 92.5%,#7eff81 99.8%)"></i><i style="top:83px;background:linear-gradient(90deg,#7eff81 0.0%,#91ff6e 26.9%,#76ff89 55.4%,#5effa1 60.5%,#36ffc9 64.6%,#03fffc 68.4%,#00f3ff 75.4%,#02fffd 81.4%,#50ffaf 87.8%,#6eff91 92.2%,#7dff82 99.2%,#7eff81 99.8%)"></i><i style="top:84px;background:linear-gradient(90deg,#7dff82 0.0%,#8dff72 27.6%,#77ff88 54.2%,#63ff9c 58.9%,#3fffc0 62.7%,#02fffd 66.9%,#00e9ff 73.5%,#00eeff 78.9%,#02fffd 83.3%,#48ffb7 88.1%,#68ff97 91.9%,#7aff85 97.3%,#7dff82 99.8%)"></i><i style="top:85px;background:linear-gradient(90deg,#7dff82 0.0%,#89ff76 28.2%,#78ff87 53.2%,#64ff9b 58.0%,#42ffbd 61.5%,#0cfff3 64.6%,#00ffff 65.6%,#00e1ff 71.9%,#00dfff 77.0%,#00f5ff 82.7%,#03fffc 84.9%,#3fffc0 88.4%,#63ff9c 91.9%,#78ff87 96.6%,#7dff82 99.8%)"></i><i style="top:86px;background:linear-gradient(90deg,#7cff83 0.0%,#87ff78 28.8%,#79ff86 52.3%,#66ff99 57.0%,#47ffb8 60.2%,#15ffea 63.1%,#03fffc 64.0%,#00d8ff 71.3%,#00d2ff 76.4%,#00e5ff 81.7%,#03fffc 86.2%,#3bffc4 89.0%,#60ff9f 92.2%,#76ff89 96.6%,#7cff83 99.8%)"></i><i style="top:87px;background:linear-gradient(90deg,#7cff83 0.0%,#85ff7a 29.5%,#79ff86 51.6%,#68ff97 56.1%,#48ffb7 59.3%,#1bffe4 61.8%,#04fffb 62.7%,#00f4ff 64.6%,#00cfff 70.7%,#00c6ff 75.4%,#00d4ff 80.5%,#03fffc 87.1%,#3cffc3 90.0%,#5fffa0 92.8%,#75ff8a 97.0%,#7bff84 99.8%)"></i><i style="top:88px;background:linear-gradient(90deg,#7bff84 0.0%,#84ff7b 29.8%,#79ff86 51.0%,#68ff97 55.4%,#4bffb4 58.3%,#24ffdb 60.5%,#04fffb 61.8%,#00f3ff 63.7%,#00c6ff 70.0%,#00b9ff 74.8%,#00c3ff 79.5%,#00ecff 85.6%,#02fffd 88.1%,#3fffc0 90.9%,#61ff9e 93.8%,#77ff88 97.9%,#7bff84 99.8%)"></i><i style="top:89px;background:linear-gradient(90deg,#7aff85 0.0%,#83ff7c 26.0%,#7aff85 50.1%,#6aff95 54.5%,#4fffb0 57.4%,#28ffd7 59.6%,#02fffd 61.2%,#00bdff 69.4%,#00adff 74.1%,#00b3ff 78.6%,#00d5ff 84.0%,#03fffc 89.0%,#37ffc8 91.3%,#5bffa4 93.8%,#73ff8c 97.3%,#7aff85 99.8%)"></i><i style="top:90px;background:linear-gradient(90deg,#79ff86 0.0%,#82ff7d 17.7%,#7bff84 48.8%,#6cff93 53.5%,#53ffac 56.4%,#2dffd2 58.6%,#04fffb 60.2%,#00daff 64.3%,#00aeff 70.0%,#009fff 74.5%,#00a8ff 78.9%,#00cdff 84.3%,#02fffd 89.7%,#3dffc2 92.2%,#5fffa0 94.7%,#75ff8a 98.5%,#79ff86 99.8%)"></i><i style="top:91px;background:linear-gradient(90deg,#78ff87 0.0%,#80ff7f 12.7%,#7dff82 47.2%,#6fff90 52.6%,#58ffa7 55.4%,#34ffcb 57.7%,#03fffc 59.6%,#00a9ff 68.8%,#0094ff 73.2%,#0095ff 77.3%,#00afff 82.1%,#01fffe 90.3%,#04fffb 90.6%,#36ffc9 92.5%,#59ffa6 94.7%,#71ff8e 97.9%,#78ff87 99.8%)"></i><i style="top:92px;background:linear-gradient(90deg,#77ff88 0.0%,#80ff7f 10.1%,#7dff82 46.9%,#6eff91 52.3%,#55ffaa 55.1%,#2dffd2 57.4%,#02fffd 58.9%,#009fff 68.4%,#0087ff 72.9%,#0086ff 77.0%,#009eff 81.4%,#00e0ff 88.1%,#00ffff 90.9%,#04fffb 91.3%,#37ffc8 93.2%,#5affa5 95.4%,#72ff8d 98.5%,#77ff88 99.8%)"></i><i style="top:93px;background:linear-gradient(90deg,#76ff89 0.0%,#7fff80 8.6%,#7dff82 46.6%,#6fff90 51.6%,#57ffa8 54.5%,#36ffc9 56.4%,#02fffd 58.3%,#0096ff 68.1%,#007aff 72.6%,#0078ff 76.7%,#008cff 80.8%,#00c4ff 86.5%,#00ffff 91.6%,#04fffb 91.9%,#32ffcd 93.5%,#54ffab 95.4%,#6eff91 98.2%,#75ff8a 99.8%)"></i><i style="top:94px;background:linear-gradient(90deg,#75ff8a 0.0%,#7fff80 7.3%,#7dff82 46.3%,#6fff90 51.3%,#55ffaa 54.2%,#32ffcd 56.1%,#03fffc 57.7%,#00e0ff 60.5%,#008cff 67.8%,#006eff 72.2%,#0069ff 76.0%,#007bff 80.2%,#00acff 85.2%,#01fffe 92.2%,#11ffee 92.8%,#3cffc3 94.4%,#5effa1 96.6%,#74ff8b 99.8%)"></i><i style="top:95px;background:linear-gradient(90deg,#73ff8c 0.0%,#7eff81 6.7%,#7dff82 45.9%,#6eff91 51.0%,#57ffa8 53.5%,#35ffca 55.4%,#06fff9 57.0%,#00fcff 57.7%,#0083ff 67.5%,#0063ff 71.6%,#005aff 75.4%,#0067ff 79.2%,#008eff 83.7%,#02fffd 92.8%,#38ffc7 94.7%,#59ffa6 96.6%,#71ff8e 99.5%,#72ff8d 99.8%)"></i><i style="top:96px;background:linear-gradient(90deg,#71ff8e 0.0%,#7eff81 5.7%,#7dff82 45.3%,#70ff8f 50.4%,#56ffa9 53.2%,#32ffcd 55.1%,#02fffd 56.7%,#0073ff 67.8%,#0053ff 71.9%,#004cff 75.7%,#005bff 79.5%,#0086ff 84.0%,#00ffff 93.2%,#04fffb 93.5%,#35ffca 95.1%,#58ffa7 97.0%,#70ff8f 99.8%)"></i><i style="top:97px;background:linear-gradient(90deg,#70ff8f 0.0%,#7dff82 5.1%,#7dff82 44.7%,#71ff8e 49.7%,#59ffa6 52.6%,#37ffc8 54.5%,#06fff9 56.1%,#00fbff 56.7%,#006eff 67.2%,#0049ff 71.3%,#003dff 74.8%,#0046ff 78.3%,#0068ff 82.4%,#00c5ff 89.4%,#02fffd 93.8%,#3affc5 95.7%,#5bffa4 97.6%,#6fff90 99.8%)"></i><i style="top:98px;background:linear-gradient(90deg,#6eff91 0.0%,#7cff83 4.8%,#7eff81 43.7%,#71ff8e 49.4%,#59ffa6 52.3%,#35ffca 54.2%,#03fffc 55.8%,#00e0ff 58.3%,#0062ff 67.2%,#003bff 71.3%,#002fff 74.8%,#0038ff 78.3%,#005cff 82.4%,#00b8ff 89.0%,#01fffe 94.1%,#07fff8 94.4%,#30ffcf 95.7%,#56ffa9 97.6%,#6cff93 99.8%)"></i><i style="top:99px;background:linear-gradient(90deg,#6cff93 0.0%,#7bff84 4.1%,#80ff7f 30.4%,#7aff85 46.6%,#69ff96 50.4%,#4fffb0 52.6%,#2bffd4 54.2%,#02fffd 55.4%,#00b2ff 60.8%,#0052ff 67.5%,#002dff 71.3%,#0020ff 74.8%,#002aff 78.3%,#004cff 82.1%,#009cff 87.8%,#00ffff 94.4%,#04fffb 94.7%,#2fffd0 96.0%,#51ffae 97.6%,#6aff95 99.8%)"></i><i style="top:100px;background:linear-gradient(90deg,#69ff96 0.0%,#7aff85 3.8%,#80ff7f 20.3%,#7bff84 45.6%,#6cff93 49.7%,#54ffab 52.0%,#33ffcc 53.5%,#01fffe 55.1%,#00a5ff 61.2%,#0046ff 67.5%,#0020ff 71.3%,#0012ff 74.8%,#001cff 78.3%,#0040ff 82.1%,#0093ff 87.8%,#00feff 94.7%,#03fffc 95.1%,#37ffc8 96.6%,#5affa5 98.5%,#68ff97 99.8%)"></i><i style="top:101px;background:linear-gradient(90deg,#67ff98 0.0%,#79ff86 3.5%,#80ff7f 15.2%,#7cff83 45.0%,#6eff91 49.1%,#54ffab 51.6%,#33ffcc 53.2%,#01fffe 54.8%,#00a2ff 60.8%,#003eff 67.2%,#0015ff 71.0%,#0005ff 74.5%,#000bff 77.6%,#0028ff 81.1%,#006bff 85.9%,#00f9ff 94.7%,#03fffc 95.4%,#37ffc8 97.0%,#5bffa4 98.9%,#65ff9a 99.8%)"></i><i style="top:102px;background:linear-gradient(90deg,#65ff9a 0.0%,#77ff88 3.2%,#7fff80 12.4%,#7cff83 44.7%,#6fff90 48.8%,#55ffaa 51.3%,#34ffcb 52.9%,#01fffe 54.5%,#00abff 59.9%,#0037ff 66.9%,#000bff 70.7%,#0000fd 72.6%,#0000f7 75.7%,#0002ff 78.3%,#0024ff 81.7%,#0071ff 86.8%,#00f4ff 94.7%,#03fffc 95.7%,#37ffc8 97.3%,#57ffa8 98.9%,#63ff9c 99.8%)"></i><i style="top:103px;background:linear-gradient(90deg,#62ff9d 0.0%,#76ff89 3.2%,#7fff80 11.4%,#7cff83 44.7%,#6dff92 48.8%,#56ffa9 51.0%,#35ffca 52.6%,#01fffe 54.2%,#00afff 59.3%,#002dff 66.9%,#0001ff 70.3%,#0000ea 74.1%,#0000ef 77.3%,#0003ff 79.8%,#0033ff 83.7%,#00f4ff 95.1%,#03fffc 96.0%,#38ffc7 97.6%,#58ffa7 99.2%,#60ff9f 99.8%)"></i><i style="top:104px;background:linear-gradient(90deg,#60ff9f 0.0%,#75ff8a 2.9%,#7fff80 9.5%,#7cff83 44.4%,#6eff91 48.5%,#57ffa8 50.7%,#37ffc8 52.3%,#02fffd 53.9%,#00bfff 58.0%,#0022ff 66.9%,#0000ff 69.4%,#0000e2 72.9%,#0000de 76.0%,#0000f0 79.2%,#0001ff 80.8%,#003eff 84.9%,#00ebff 94.7%,#00feff 96.0%,#04fffb 96.3%,#32ffcd 97.6%,#54ffab 99.2%,#5dffa2 99.8%)"></i><i style="top:105px;background:linear-gradient(90deg,#5dffa2 0.0%,#74ff8b 2.9%,#7eff81 9.2%,#7cff83 44.0%,#6fff90 48.2%,#59ffa6 50.4%,#39ffc6 52.0%,#03fffc 53.5%,#00d5ff 56.4%,#0018ff 66.9%,#0001ff 68.4%,#0000dc 71.9%,#0000d1 75.1%,#0000dd 78.3%,#0003ff 81.7%,#0051ff 86.5%,#00e2ff 94.4%,#00ffff 96.3%,#07fff8 96.6%,#34ffcb 97.9%,#56ffa9 99.5%,#5affa5 99.8%)"></i><i style="top:106px;background:linear-gradient(90deg,#5affa5 0.0%,#71ff8e 2.5%,#7dff82 7.6%,#7cff83 43.7%,#6dff92 48.2%,#56ffa9 50.4%,#33ffcc 52.0%,#05fffa 53.2%,#00faff 53.9%,#009dff 59.3%,#0014ff 66.5%,#0000ff 67.8%,#0000d5 71.3%,#0000c6 74.5%,#0000cd 77.6%,#0000eb 80.8%,#0002ff 82.4%,#005bff 87.5%,#00e3ff 94.7%,#01fffe 96.6%,#37ffc8 98.2%,#58ffa7 99.8%)"></i><i style="top:107px;background:linear-gradient(90deg,#58ffa7 0.0%,#70ff8f 2.5%,#7dff82 7.6%,#7cff83 43.4%,#6eff91 47.8%,#58ffa7 50.1%,#37ffc8 51.6%,#01fffe 53.2%,#00b5ff 57.7%,#000bff 66.5%,#0000ff 67.2%,#0000d1 70.7%,#0000bc 73.8%,#0000be 76.7%,#0000d6 79.8%,#0002ff 83.0%,#0074ff 89.0%,#00e4ff 95.1%,#03fffc 97.0%,#31ffce 98.2%,#55ffaa 99.8%)"></i><i style="top:108px;background:linear-gradient(90deg,#55ffaa 0.0%,#6dff92 2.2%,#7cff83 6.3%,#7eff81 40.9%,#74ff8b 46.6%,#5effa1 49.4%,#42ffbd 51.0%,#1cffe3 52.3%,#03fffc 52.9%,#00e4ff 54.8%,#0072ff 60.8%,#0003ff 66.5%,#0000c8 70.7%,#0000b2 73.8%,#0000b4 76.7%,#0000cc 79.8%,#0000fe 83.3%,#006eff 89.0%,#00e1ff 95.1%,#00ffff 97.0%,#07fff8 97.3%,#35ffca 98.5%,#52ffad 99.8%)"></i><i style="top:109px;background:linear-gradient(90deg,#53ffac 0.0%,#6cff93 2.2%,#7cff83 6.3%,#7fff80 39.6%,#75ff8a 46.3%,#60ff9f 49.1%,#46ffb9 50.7%,#22ffdd 52.0%,#09fff6 52.6%,#01fffe 52.9%,#00b3ff 57.4%,#0001ff 66.2%,#0000c6 70.0%,#0000ac 73.2%,#0000a9 76.0%,#0000bd 79.2%,#0000ec 82.7%,#0003ff 84.0%,#00d8ff 94.7%,#03fffc 97.3%,#3affc5 98.9%,#4fffb0 99.8%)"></i><i style="top:110px;background:linear-gradient(90deg,#50ffaf 0.0%,#6cff93 2.2%,#7bff84 6.0%,#7fff80 30.1%,#7aff85 44.4%,#6cff93 47.8%,#50ffaf 50.1%,#28ffd7 51.6%,#03fffc 52.6%,#00e4ff 54.5%,#0075ff 60.2%,#0000ff 65.9%,#0000c2 69.7%,#0000a5 72.9%,#0000a0 75.7%,#0000af 78.6%,#0000d5 81.7%,#0002ff 84.3%,#00d0ff 94.4%,#00ffff 97.3%,#08fff7 97.6%,#36ffc9 98.9%,#4dffb2 99.8%)"></i><i style="top:111px;background:linear-gradient(90deg,#4effb1 0.0%,#68ff97 1.9%,#79ff86 5.4%,#7fff80 18.7%,#7bff84 43.7%,#6dff92 47.5%,#54ffab 49.7%,#2fffd0 51.3%,#01fffe 52.6%,#00b9ff 56.7%,#0000ff 65.6%,#0000bf 69.4%,#00009f 72.6%,#000098 75.4%,#0000a5 78.3%,#0000ca 81.4%,#0002ff 84.6%,#00cdff 94.4%,#00fdff 97.3%,#03fffc 97.6%,#32ffcd 98.9%,#4affb5 99.8%)"></i><i style="top:112px;background:linear-gradient(90deg,#4cffb3 0.0%,#67ff98 1.9%,#78ff87 5.1%,#7fff80 15.5%,#7cff83 43.4%,#6cff93 47.5%,#52ffad 49.7%,#2bffd4 51.3%,#05fffa 52.3%,#00faff 52.9%,#00a3ff 57.7%,#0001ff 65.3%,#0000b9 69.4%,#000099 72.6%,#000091 75.4%,#00009f 78.3%,#0000c4 81.4%,#0000fc 84.6%,#0046ff 88.1%,#00cbff 94.4%,#01fffe 97.6%,#39ffc6 99.2%,#48ffb7 99.8%)"></i><i style="top:113px;background:linear-gradient(90deg,#4affb5 0.0%,#66ff99 1.9%,#78ff87 5.1%,#7fff80 15.2%,#7cff83 43.4%,#6eff91 47.2%,#56ffa9 49.4%,#32ffcd 51.0%,#03fffc 52.3%,#00ddff 54.5%,#0071ff 59.9%,#0003ff 65.0%,#0000b4 69.4%,#000094 72.6%,#00008c 75.4%,#000099 78.3%,#0000bf 81.4%,#0000fe 84.9%,#00c9ff 94.4%,#00ffff 97.6%,#07fff8 97.9%,#36ffc9 99.2%,#46ffb9 99.8%)"></i><i style="top:114px;background:linear-gradient(90deg,#49ffb6 0.0%,#66ff99 1.9%,#78ff87 5.1%,#7fff80 14.9%,#7cff83 43.4%,#6eff91 47.2%,#55ffaa 49.4%,#30ffcf 51.0%,#02fffd 52.3%,#00c5ff 55.8%,#0000ff 65.0%,#0000b9 68.8%,#000094 71.9%,#000087 74.8%,#000090 77.6%,#0000b2 80.8%,#0000f4 84.6%,#0002ff 85.2%,#00c1ff 94.1%,#00feff 97.6%,#04fffb 97.9%,#34ffcb 99.2%,#45ffba 99.8%)"></i><i style="top:115px;background:linear-gradient(90deg,#48ffb7 0.0%,#65ff9a 1.9%,#78ff87 5.1%,#7fff80 14.6%,#7bff84 43.4%,#6dff92 47.2%,#54ffab 49.4%,#2fffd0 51.0%,#01fffe 52.3%,#00b7ff 56.4%,#0004ff 64.6%,#0000dc 66.5%,#0000a4 70.0%,#00008a 72.9%,#000084 75.7%,#000094 78.6%,#0000bd 81.7%,#0000ff 85.2%,#00c6ff 94.4%,#00fdff 97.6%,#03fffc 97.9%,#33ffcc 99.2%,#44ffbb 99.8%)"></i><i style="top:116px;background:linear-gradient(90deg,#47ffb8 0.0%,#65ff9a 1.9%,#78ff87 5.1%,#7fff80 14.6%,#7bff84 43.4%,#6dff92 47.2%,#54ffab 49.4%,#2dffd2 51.0%,#08fff7 52.0%,#00ffff 52.3%,#00afff 56.7%,#0002ff 64.6%,#0000af 69.1%,#00008c 72.2%,#000081 75.1%,#00008d 77.9%,#0000b1 81.1%,#0000f6 84.9%,#0004ff 85.6%,#00bfff 94.1%,#00fcff 97.6%,#02fffd 97.9%,#3bffc4 99.5%,#43ffbc 99.8%)"></i><i style="top:117px;background:linear-gradient(90deg,#47ffb8 0.0%,#65ff9a 1.9%,#78ff87 5.1%,#7fff80 14.6%,#7bff84 43.4%,#6dff92 47.2%,#53ffac 49.4%,#2dffd2 51.0%,#07fff8 52.0%,#00ffff 52.3%,#00afff 56.7%,#0001ff 64.6%,#0000b3 68.8%,#00008d 71.9%,#000080 74.8%,#000089 77.6%,#0000ab 80.8%,#0000ef 84.6%,#0004ff 85.6%,#00beff 94.1%,#00fcff 97.6%,#02fffd 97.9%,#3affc5 99.5%,#42ffbd 99.8%)"></i><i style="top:118px;background:linear-gradient(90deg,#47ffb8 0.0%,#65ff9a 1.9%,#78ff87 5.1%,#7fff80 14.6%,#7bff84 43.4%,#6dff92 47.2%,#53ffac 49.4%,#2dffd2 51.0%,#07fff8 52.0%,#00ffff 52.3%,#00afff 56.7%,#0001ff 64.6%,#0000b3 68.8%,#00008d 71.9%,#000080 74.8%,#000089 77.6%,#0000ab 80.8%,#0000ee 84.6%,#0003ff 85.6%,#00beff 94.1%,#00fcff 97.6%,#02fffd 97.9%,#3affc5 99.5%,#42ffbd 99.8%)"></i><i style="top:119px;background:linear-gradient(90deg,#47ffb8 0.0%,#65ff9a 1.9%,#78ff87 5.1%,#7fff80 14.6%,#7bff84 43.4%,#6dff92 47.2%,#53ffac 49.4%,#2dffd2 51.0%,#08fff7 52.0%,#00ffff 52.3%,#00afff 56.7%,#0001ff 64.6%,#0000b3 68.8%,#00008d 71.9%,#000081 74.8%,#00008a 77.6%,#0000ac 80.8%,#0000ef 84.6%,#0004ff 85.6%,#00beff 94.1%,#00fcff 97.6%,#02fffd 97.9%,#3affc5 99.5%,#42ffbd 99.8%)"></i><i style="top:120px;background:linear-gradient(90deg,#47ffb8 0.0%,#65ff9a 1.9%,#78ff87 5.1%,#7fff80 14.6%,#7bff84 43.4%,#6dff92 47.2%,#54ffab 49.4%,#2effd1 51.0%,#01fffe 52.3%,#00b6ff 56.4%,#0003ff 64.6%,#0000b0 69.1%,#00008d 72.2%,#000082 75.1%,#00008e 77.9%,#0000b2 81.1%,#0000f7 84.9%,#0005ff 85.6%,#00bfff 94.1%,#00fdff 97.6%,#03fffc 97.9%,#32ffcd 99.2%,#43ffbc 99.8%)"></i><i style="top:121px;background:linear-gradient(90deg,#48ffb7 0.0%,#65ff9a 1.9%,#78ff87 5.1%,#7fff80 14.9%,#7bff84 43.4%,#6eff91 47.2%,#55ffaa 49.4%,#30ffcf 51.0%,#01fffe 52.3%,#00beff 56.1%,#0000fd 65.0%,#0000b8 68.8%,#000092 71.9%,#000086 74.8%,#00008e 77.6%,#0000b0 80.8%,#0000f3 84.6%,#0001ff 85.2%,#00c0ff 94.1%,#00feff 97.6%,#03fffc 97.9%,#33ffcc 99.2%,#44ffbb 99.8%)"></i><i style="top:122px;background:linear-gradient(90deg,#4affb5 0.0%,#66ff99 1.9%,#78ff87 5.1%,#7fff80 15.2%,#7cff83 43.4%,#6eff91 47.2%,#56ffa9 49.4%,#32ffcd 51.0%,#02fffd 52.3%,#00cbff 55.4%,#0046ff 61.8%,#0002ff 65.0%,#0000b7 69.1%,#000094 72.2%,#00008a 75.1%,#000095 77.9%,#0000b9 81.1%,#0000fd 84.9%,#00ceff 94.7%,#00ffff 97.6%,#06fff9 97.9%,#35ffca 99.2%,#46ffb9 99.8%)"></i><i style="top:123px;background:linear-gradient(90deg,#4bffb4 0.0%,#67ff98 1.9%,#78ff87 5.1%,#7fff80 15.5%,#7cff83 43.4%,#6eff91 47.2%,#57ffa8 49.4%,#34ffcb 51.0%,#04fffb 52.3%,#00f4ff 53.2%,#009bff 58.0%,#0000fe 65.3%,#0000bc 69.1%,#000099 72.2%,#00008f 75.1%,#00009a 77.9%,#0000bd 81.1%,#0002ff 84.9%,#00caff 94.4%,#01fffe 97.6%,#38ffc7 99.2%,#47ffb8 99.8%)"></i><i style="top:124px;background:linear-gradient(90deg,#4dffb2 0.0%,#68ff97 1.9%,#79ff86 5.4%,#7fff80 18.4%,#7bff84 43.7%,#6dff92 47.5%,#53ffac 49.7%,#2dffd2 51.3%,#08fff7 52.3%,#01fffe 52.6%,#00b1ff 57.0%,#0004ff 65.3%,#0000eb 66.5%,#0000b5 70.0%,#000099 73.2%,#000096 76.0%,#0000a8 78.9%,#0000d1 82.1%,#0000ff 84.6%,#00ccff 94.4%,#02fffd 97.6%,#3affc5 99.2%,#49ffb6 99.8%)"></i><i style="top:125px;background:linear-gradient(90deg,#4fffb0 0.0%,#6bff94 2.2%,#7bff84 6.0%,#80ff7f 29.2%,#7aff85 44.4%,#6bff94 47.8%,#4fffb0 50.1%,#31ffce 51.3%,#02fffd 52.6%,#00ccff 55.8%,#0003ff 65.6%,#0000bb 70.0%,#0000a0 73.2%,#00009d 76.0%,#0000af 78.9%,#0000dd 82.4%,#0000ff 84.3%,#00cfff 94.4%,#00ffff 97.3%,#05fffa 97.6%,#35ffca 98.9%,#4cffb3 99.8%)"></i><i style="top:126px;background:linear-gradient(90deg,#52ffad 0.0%,#6cff93 2.2%,#7cff83 6.3%,#7fff80 39.3%,#76ff89 45.9%,#63ff9c 48.8%,#45ffba 50.7%,#20ffdf 52.0%,#06fff9 52.6%,#00faff 53.2%,#009fff 58.3%,#0004ff 65.9%,#0000e2 67.8%,#0000b5 71.3%,#0000a5 74.1%,#0000a9 77.0%,#0000c4 80.2%,#0000ff 84.0%,#00d2ff 94.4%,#02fffd 97.3%,#38ffc7 98.9%,#4effb1 99.8%)"></i><i style="top:127px;background:linear-gradient(90deg,#54ffab 0.0%,#6dff92 2.2%,#7cff83 6.3%,#7eff81 40.6%,#74ff8b 46.6%,#61ff9e 49.1%,#41ffbe 51.0%,#1affe5 52.3%,#02fffd 52.9%,#00c7ff 56.4%,#0000fe 66.5%,#0000cb 70.0%,#0000b1 73.2%,#0000ae 76.0%,#0000c2 79.2%,#0000f1 82.7%,#0002ff 83.7%,#00daff 94.7%,#00feff 97.0%,#04fffb 97.3%,#34ffcb 98.5%,#51ffae 99.8%)"></i><i style="top:128px;background:linear-gradient(90deg,#57ffa8 0.0%,#6eff91 2.2%,#7cff83 6.7%,#7dff82 42.8%,#70ff8f 47.5%,#5bffa4 49.7%,#3dffc2 51.3%,#14ffeb 52.6%,#07fff8 52.9%,#00ffff 53.2%,#00a7ff 58.3%,#0007ff 66.5%,#0000f7 67.5%,#0000ca 71.0%,#0000b7 74.1%,#0000bb 77.0%,#0000d5 80.2%,#0000fe 83.0%,#0058ff 87.8%,#00deff 94.7%,#02fffd 97.0%,#38ffc7 98.5%,#54ffab 99.8%)"></i><i style="top:129px;background:linear-gradient(90deg,#59ffa6 0.0%,#71ff8e 2.5%,#7dff82 7.6%,#7cff83 43.7%,#6fff90 47.8%,#59ffa6 50.1%,#3affc5 51.6%,#0ffff0 52.9%,#03fffc 53.2%,#00daff 55.8%,#000bff 66.9%,#0000fb 67.8%,#0000d1 71.3%,#0000c1 74.5%,#0000c9 77.6%,#0000e7 80.8%,#0003ff 82.7%,#0065ff 88.1%,#00e1ff 94.7%,#00ffff 96.6%,#07fff8 97.0%,#35ffca 98.2%,#56ffa9 99.8%)"></i><i style="top:130px;background:linear-gradient(90deg,#5cffa3 0.0%,#72ff8d 2.5%,#7eff81 7.9%,#7cff83 43.7%,#6eff91 48.2%,#57ffa8 50.4%,#37ffc8 52.0%,#02fffd 53.5%,#00b7ff 58.0%,#0019ff 66.5%,#0001ff 68.1%,#0000d7 71.9%,#0000cc 75.1%,#0000d8 78.3%,#0003ff 82.1%,#005aff 87.1%,#00e0ff 94.4%,#00feff 96.3%,#03fffc 96.6%,#31ffce 97.9%,#54ffab 99.5%,#59ffa6 99.8%)"></i><i style="top:131px;background:linear-gradient(90deg,#5fffa0 0.0%,#74ff8b 2.9%,#7fff80 9.2%,#7cff83 44.0%,#6dff92 48.5%,#56ffa9 50.7%,#34ffcb 52.3%,#07fff8 53.5%,#00ffff 53.9%,#00a6ff 59.3%,#001eff 66.9%,#0000fe 69.1%,#0000df 72.6%,#0000d8 75.7%,#0000e8 78.9%,#0001ff 81.1%,#0045ff 85.6%,#00e4ff 94.4%,#02fffd 96.3%,#38ffc7 97.9%,#58ffa7 99.5%,#5cffa3 99.8%)"></i><i style="top:132px;background:linear-gradient(90deg,#61ff9e 0.0%,#76ff89 3.2%,#7fff80 11.1%,#7cff83 44.4%,#6fff90 48.5%,#59ffa6 50.7%,#3bffc4 52.3%,#12ffed 53.5%,#05fffa 53.9%,#00faff 54.5%,#0090ff 60.8%,#0024ff 67.2%,#0000ff 70.0%,#0000e8 73.2%,#0000e6 76.4%,#0000fa 79.5%,#0008ff 80.8%,#0049ff 85.2%,#00eeff 94.7%,#02fffd 96.0%,#3effc1 97.9%,#5fffa0 99.8%)"></i><i style="top:133px;background:linear-gradient(90deg,#64ff9b 0.0%,#77ff88 3.2%,#7fff80 11.7%,#7cff83 44.7%,#6eff91 48.8%,#58ffa7 51.0%,#39ffc6 52.6%,#11ffee 53.9%,#04fffb 54.2%,#00f1ff 55.4%,#002eff 67.2%,#0003ff 71.0%,#0000f1 75.1%,#0000fc 78.3%,#000dff 80.2%,#0043ff 84.3%,#00f2ff 94.7%,#01fffe 95.7%,#3cffc3 97.6%,#5effa1 99.5%,#62ff9d 99.8%)"></i><i style="top:134px;background:linear-gradient(90deg,#66ff99 0.0%,#78ff87 3.5%,#7fff80 14.6%,#7cff83 45.0%,#6eff91 49.1%,#57ffa8 51.3%,#39ffc6 52.9%,#10ffef 54.2%,#04fffb 54.5%,#00f1ff 55.8%,#003aff 67.2%,#0010ff 71.0%,#0000ff 74.1%,#0005ff 77.3%,#0020ff 80.8%,#005dff 85.2%,#00f7ff 94.7%,#01fffe 95.4%,#15ffea 96.0%,#3cffc3 97.3%,#5dffa2 99.2%,#64ff9b 99.8%)"></i><i style="top:135px;background:linear-gradient(90deg,#69ff96 0.0%,#7aff85 3.8%,#80ff7f 19.3%,#7bff84 45.3%,#6dff92 49.4%,#52ffad 52.0%,#30ffcf 53.5%,#04fffb 54.8%,#00f1ff 56.1%,#0045ff 67.2%,#001dff 71.0%,#000dff 74.5%,#0015ff 77.9%,#0037ff 81.7%,#0085ff 87.1%,#00fcff 94.7%,#01fffe 95.1%,#3bffc4 97.0%,#5dffa2 98.9%,#67ff98 99.8%)"></i><i style="top:136px;background:linear-gradient(90deg,#6bff94 0.0%,#7bff84 4.1%,#80ff7f 28.2%,#7aff85 46.3%,#6bff94 50.1%,#52ffad 52.3%,#30ffcf 53.9%,#05fffa 55.1%,#00fbff 55.8%,#0051ff 67.2%,#002aff 71.0%,#001bff 74.5%,#0023ff 77.9%,#0043ff 81.7%,#008eff 87.1%,#00fdff 94.4%,#02fffd 94.7%,#3cffc3 96.6%,#5dffa2 98.5%,#69ff96 99.8%)"></i><i style="top:137px;background:linear-gradient(90deg,#6dff92 0.0%,#7cff83 4.4%,#7fff80 40.9%,#76ff89 48.2%,#62ff9d 51.3%,#47ffb8 53.2%,#1fffe0 54.8%,#08fff7 55.4%,#00fcff 56.1%,#005dff 67.2%,#0035ff 71.3%,#0029ff 74.8%,#0032ff 78.3%,#0053ff 82.1%,#00a6ff 88.1%,#00feff 94.1%,#03fffc 94.4%,#35ffca 96.0%,#59ffa6 97.9%,#6cff93 99.8%)"></i><i style="top:138px;background:linear-gradient(90deg,#6fff90 0.0%,#7dff82 5.1%,#7dff82 44.7%,#71ff8e 49.7%,#57ffa8 52.6%,#33ffcc 54.5%,#02fffd 56.1%,#00b2ff 61.8%,#0062ff 67.8%,#003fff 71.9%,#0037ff 75.4%,#0044ff 78.9%,#006aff 83.0%,#00ffff 93.8%,#04fffb 94.1%,#2effd1 95.4%,#55ffaa 97.3%,#6eff91 99.8%)"></i><i style="top:139px;background:linear-gradient(90deg,#71ff8e 0.0%,#7dff82 5.4%,#7dff82 45.3%,#6fff90 50.4%,#58ffa7 52.9%,#36ffc9 54.8%,#04fffb 56.4%,#00f7ff 57.4%,#0075ff 67.2%,#0051ff 71.3%,#0045ff 75.1%,#0052ff 78.9%,#007aff 83.3%,#02fffd 93.5%,#39ffc6 95.4%,#5affa5 97.3%,#70ff8f 99.8%)"></i><i style="top:140px;background:linear-gradient(90deg,#72ff8d 0.0%,#7eff81 6.3%,#7cff83 45.9%,#6fff90 50.7%,#55ffaa 53.5%,#31ffce 55.4%,#02fffd 57.0%,#007bff 67.8%,#005bff 71.9%,#0054ff 75.7%,#0064ff 79.5%,#0091ff 84.3%,#00ffff 92.8%,#04fffb 93.2%,#34ffcb 94.7%,#57ffa8 96.6%,#70ff8f 99.5%,#72ff8d 99.8%)"></i><i style="top:141px;background:linear-gradient(90deg,#74ff8b 0.0%,#7fff80 7.0%,#7cff83 46.3%,#6eff91 51.3%,#57ffa8 53.9%,#35ffca 55.8%,#05fffa 57.4%,#00f8ff 58.3%,#008aff 67.5%,#0069ff 71.9%,#0062ff 75.7%,#0071ff 79.5%,#009cff 84.3%,#02fffd 92.5%,#37ffc8 94.4%,#58ffa7 96.3%,#70ff8f 99.2%,#73ff8c 99.8%)"></i><i style="top:142px;background:linear-gradient(90deg,#75ff8a 0.0%,#7fff80 8.2%,#7dff82 46.6%,#6eff91 51.6%,#54ffab 54.5%,#32ffcd 56.4%,#03fffc 58.0%,#00ecff 59.9%,#0094ff 67.8%,#0076ff 72.2%,#0071ff 76.0%,#0083ff 80.2%,#00b6ff 85.6%,#01fffe 91.9%,#12ffed 92.5%,#3bffc4 94.1%,#5effa1 96.3%,#73ff8c 99.5%,#75ff8a 99.8%)"></i><i style="top:143px;background:linear-gradient(90deg,#77ff88 0.0%,#80ff7f 9.5%,#7dff82 46.9%,#6fff90 52.0%,#57ffa8 54.8%,#2fffd0 57.0%,#03fffc 58.6%,#009aff 68.4%,#0081ff 72.9%,#0081ff 77.0%,#0099ff 81.4%,#00dcff 88.1%,#01fffe 91.3%,#05fffa 91.6%,#32ffcd 93.2%,#58ffa7 95.4%,#71ff8e 98.5%,#76ff89 99.8%)"></i><i style="top:144px;background:linear-gradient(90deg,#78ff87 0.0%,#80ff7f 11.4%,#7dff82 47.2%,#6eff91 52.6%,#55ffaa 55.4%,#2effd1 57.7%,#03fffc 59.3%,#00a4ff 68.8%,#008eff 73.2%,#008fff 77.3%,#00a8ff 81.7%,#00f3ff 89.4%,#01fffe 90.6%,#10ffef 91.3%,#3effc1 93.2%,#5effa1 95.4%,#74ff8b 98.9%,#77ff88 99.8%)"></i><i style="top:145px;background:linear-gradient(90deg,#79ff86 0.0%,#81ff7e 14.9%,#7cff83 47.8%,#6dff92 53.2%,#54ffab 56.1%,#2effd1 58.3%,#04fffb 59.9%,#00e6ff 62.7%,#00aeff 69.1%,#009bff 73.5%,#009fff 77.9%,#00bbff 82.7%,#02fffd 90.0%,#3effc1 92.5%,#60ff9f 95.1%,#76ff89 98.9%,#78ff87 99.8%)"></i><i style="top:146px;background:linear-gradient(90deg,#7aff85 0.0%,#83ff7c 22.5%,#7bff84 49.4%,#6bff94 54.2%,#50ffaf 57.0%,#28ffd7 59.3%,#02fffd 60.8%,#00bbff 69.1%,#00a8ff 73.8%,#00adff 78.3%,#00cbff 83.3%,#03fffc 89.4%,#38ffc7 91.6%,#5cffa3 94.1%,#73ff8c 97.6%,#79ff86 99.8%)"></i><i style="top:147px;background:linear-gradient(90deg,#7bff84 0.0%,#83ff7c 29.5%,#79ff86 50.7%,#68ff97 55.1%,#4cffb3 58.0%,#24ffdb 60.2%,#04fffb 61.5%,#00e7ff 64.6%,#00c0ff 70.3%,#00b4ff 75.1%,#00c0ff 79.8%,#00ebff 85.9%,#02fffd 88.4%,#3fffc0 91.3%,#62ff9d 94.1%,#77ff88 98.2%,#7aff85 99.8%)"></i><i style="top:148px;background:linear-gradient(90deg,#7bff84 0.0%,#84ff7b 29.8%,#79ff86 51.3%,#68ff97 55.8%,#48ffb7 58.9%,#1affe5 61.5%,#03fffc 62.4%,#00dbff 67.5%,#00c4ff 72.6%,#00c3ff 77.3%,#00dcff 82.7%,#02fffd 87.5%,#41ffbe 90.6%,#62ff9d 93.5%,#77ff88 97.6%,#7bff84 99.8%)"></i><i style="top:149px;background:linear-gradient(90deg,#7cff83 0.0%,#86ff79 29.5%,#79ff86 52.0%,#66ff99 56.7%,#46ffb9 59.9%,#1affe5 62.4%,#04fffb 63.4%,#00f2ff 65.6%,#00d2ff 71.6%,#00ceff 76.4%,#00e1ff 81.7%,#02fffd 86.5%,#3fffc0 89.7%,#62ff9d 92.8%,#77ff88 97.3%,#7cff83 99.8%)"></i><i style="top:150px;background:linear-gradient(90deg,#7dff82 0.0%,#88ff77 28.5%,#78ff87 52.9%,#64ff9b 57.7%,#45ffba 60.8%,#16ffe9 63.7%,#03fffc 64.6%,#00ddff 71.9%,#00daff 77.0%,#00f1ff 82.7%,#02fffd 85.2%,#12ffed 86.2%,#43ffbc 89.0%,#65ff9a 92.5%,#78ff87 97.3%,#7cff83 99.8%)"></i><i style="top:151px;background:linear-gradient(90deg,#7dff82 0.0%,#8bff74 27.9%,#77ff88 53.9%,#63ff9c 58.6%,#41ffbe 62.1%,#09fff6 65.6%,#00ffff 66.5%,#00e6ff 72.6%,#00e7ff 77.9%,#03fffc 84.0%,#43ffbc 88.1%,#64ff9b 91.6%,#78ff87 96.6%,#7dff82 99.8%)"></i><i style="top:152px;background:linear-gradient(90deg,#7eff81 0.0%,#8eff71 27.2%,#77ff88 54.8%,#60ff9f 59.9%,#3bffc4 63.7%,#02fffd 67.8%,#00efff 74.5%,#00f8ff 80.2%,#03fffc 82.4%,#48ffb7 87.5%,#69ff96 91.6%,#7bff84 97.3%,#7dff82 99.8%)"></i><i style="top:153px;background:linear-gradient(90deg,#7eff81 0.0%,#8fff70 19.0%,#91ff6e 28.8%,#7fff80 48.2%,#73ff8c 57.0%,#5affa5 61.8%,#26ffd9 66.9%,#03fffc 70.0%,#00faff 77.0%,#03fffc 80.2%,#53ffac 87.5%,#70ff8f 92.2%,#7eff81 99.8%)"></i><i style="top:154px;background:linear-gradient(90deg,#7eff81 0.0%,#8dff72 15.8%,#98ff67 26.0%,#80ff7f 46.3%,#75ff8a 57.0%,#5dffa2 62.4%,#0cfff3 72.2%,#04fffb 75.4%,#13ffec 78.9%,#60ff9f 88.1%,#77ff88 93.8%,#7eff81 99.8%)"></i><i style="top:155px;background:linear-gradient(90deg,#7fff80 0.0%,#8dff72 13.9%,#a0ff5f 24.7%,#91ff6e 33.9%,#81ff7e 45.9%,#75ff8a 58.0%,#5bffa4 64.0%,#25ffda 72.2%,#20ffdf 76.0%,#34ffcb 80.5%,#68ff97 88.4%,#7bff84 95.4%,#7fff80 99.8%)"></i><i style="top:156px;background:linear-gradient(90deg,#7fff80 0.0%,#8cff73 12.4%,#a8ff57 24.1%,#a0ff5f 30.7%,#85ff7a 42.1%,#75ff8a 58.6%,#5affa5 65.6%,#37ffc8 72.9%,#38ffc7 77.3%,#71ff8e 90.0%,#7fff80 99.8%)"></i><i style="top:157px;background:linear-gradient(90deg,#7fff80 0.0%,#8cff73 11.1%,#b3ff4c 23.4%,#afff50 28.8%,#88ff77 40.9%,#74ff8b 60.2%,#46ffb9 73.5%,#4bffb4 78.6%,#76ff89 90.6%,#7fff80 99.8%)"></i></div><div class="fm" style="left:782.5px;top:67.5px;width:157.8px;height:157.8px"><i style="top:0px;background:linear-gradient(90deg,#84ff7b 0.0%,#90ff6f 18.4%,#6fff90 32.0%,#7bff84 45.6%,#8dff72 59.6%,#bfff40 73.2%,#bcff43 78.3%,#8cff73 91.3%,#84ff7b 99.8%)"></i><i style="top:1px;background:linear-gradient(90deg,#84ff7b 0.0%,#94ff6b 18.1%,#81ff7e 24.7%,#6bff94 31.7%,#72ff8d 39.9%,#8eff71 60.8%,#b4ff4b 73.5%,#afff50 79.2%,#89ff76 91.9%,#84ff7b 99.8%)"></i><i style="top:2px;background:linear-gradient(90deg,#84ff7b 0.0%,#94ff6b 12.0%,#99ff66 18.4%,#84ff7b 24.1%,#68ff97 30.7%,#69ff96 36.8%,#80ff7f 52.0%,#93ff6c 63.7%,#abff54 73.8%,#a3ff5c 80.8%,#87ff78 92.8%,#84ff7b 99.8%)"></i><i style="top:3px;background:linear-gradient(90deg,#84ff7b 0.0%,#94ff6b 10.1%,#a0ff5f 17.4%,#91ff6e 22.2%,#65ff9a 29.8%,#60ff9f 34.5%,#7dff82 49.7%,#91ff6e 64.3%,#a3ff5c 74.5%,#97ff68 83.0%,#84ff7b 94.7%,#84ff7b 99.8%)"></i><i style="top:4px;background:linear-gradient(90deg,#85ff7a 0.0%,#95ff6a 9.2%,#a8ff57 16.8%,#9eff61 20.9%,#5fffa0 29.5%,#58ffa7 33.9%,#7bff84 48.5%,#93ff6c 66.9%,#9cff63 76.0%,#84ff7b 95.4%,#84ff7b 99.8%)"></i><i style="top:5px;background:linear-gradient(90deg,#85ff7a 0.0%,#96ff69 8.2%,#b1ff4e 16.5%,#acff53 19.6%,#8cff73 23.8%,#57ffa8 29.5%,#4dffb2 32.6%,#5cffa3 38.3%,#78ff87 47.2%,#97ff68 75.4%,#84ff7b 96.0%,#85ff7a 99.8%)"></i><i style="top:6px;background:linear-gradient(90deg,#86ff79 0.0%,#98ff67 7.6%,#beff41 16.5%,#b8ff47 19.3%,#95ff6a 23.1%,#52ffad 29.2%,#41ffbe 32.3%,#4affb5 36.1%,#73ff8c 45.6%,#84ff7b 59.3%,#93ff6c 76.0%,#83ff7c 96.3%,#85ff7a 99.8%)"></i><i style="top:7px;background:linear-gradient(90deg,#86ff79 0.0%,#99ff66 7.0%,#ccff33 16.2%,#c4ff3b 19.0%,#a1ff5e 22.5%,#4affb5 29.2%,#34ffcb 32.3%,#38ffc7 35.2%,#6cff93 44.4%,#7dff82 52.6%,#8fff70 76.7%,#84ff7b 96.6%,#86ff79 99.8%)"></i><i style="top:8px;background:linear-gradient(90deg,#87ff78 0.0%,#9aff65 6.3%,#c9ff36 13.0%,#daff25 15.5%,#d6ff29 18.1%,#b8ff47 21.2%,#42ffbd 29.2%,#29ffd6 32.0%,#26ffd9 34.5%,#41ffbe 38.3%,#68ff97 44.4%,#7bff84 51.3%,#8cff73 76.7%,#84ff7b 97.0%,#87ff78 99.8%)"></i><i style="top:9px;background:linear-gradient(90deg,#88ff77 0.0%,#9bff64 5.7%,#c3ff3c 10.8%,#e5ff1a 14.3%,#e9ff16 16.8%,#d4ff2b 19.6%,#a1ff5e 23.1%,#3effc1 28.8%,#1effe1 31.7%,#15ffea 34.2%,#22ffdd 36.8%,#56ffa9 42.1%,#72ff8d 47.5%,#80ff7f 57.4%,#8aff75 78.3%,#84ff7b 97.0%,#88ff77 99.8%)"></i><i style="top:10px;background:linear-gradient(90deg,#89ff76 0.0%,#9eff61 5.4%,#c5ff3a 9.8%,#f2ff0d 13.6%,#f9ff06 16.2%,#eaff15 18.7%,#bcff43 21.9%,#36ffc9 28.8%,#11ffee 31.7%,#05fffa 34.2%,#10ffef 36.8%,#4fffb0 42.1%,#6dff92 46.9%,#7dff82 54.2%,#88ff77 78.3%,#85ff7a 97.0%,#89ff76 99.8%)"></i><i style="top:11px;background:linear-gradient(90deg,#8aff75 0.0%,#a1ff5e 5.1%,#c6ff39 8.9%,#fcff03 12.7%,#fff300 15.5%,#fdff02 18.1%,#d5ff2a 20.9%,#69ff96 26.0%,#1dffe2 29.8%,#01fffe 32.0%,#00f3ff 34.5%,#01fffe 37.1%,#46ffb9 42.1%,#67ff98 46.3%,#7aff85 52.3%,#87ff78 77.0%,#85ff7a 96.6%,#8aff75 99.8%)"></i><i style="top:12px;background:linear-gradient(90deg,#8cff73 0.0%,#a3ff5c 4.8%,#c9ff36 8.2%,#ffff00 11.4%,#ffe700 13.6%,#ffe300 15.8%,#fff300 18.1%,#feff01 19.0%,#caff35 21.9%,#25ffda 28.8%,#00feff 31.1%,#00e5ff 33.6%,#00e4ff 35.8%,#00f8ff 38.0%,#07fff8 39.0%,#38ffc7 41.8%,#5dffa2 45.3%,#74ff8b 50.1%,#81ff7e 60.5%,#84ff7b 84.0%,#86ff79 97.6%,#8bff74 99.8%)"></i><i style="top:13px;background:linear-gradient(90deg,#8dff72 0.0%,#a3ff5c 4.1%,#c7ff38 7.3%,#f0ff0f 9.5%,#fdff02 10.1%,#ffdb00 12.7%,#ffd000 14.9%,#ffdb00 17.1%,#fffe00 19.6%,#c1ff3e 22.5%,#1dffe2 28.8%,#00fcff 30.4%,#00daff 33.0%,#00d1ff 35.2%,#00ddff 37.4%,#00fdff 39.6%,#35ffca 42.5%,#5affa5 45.6%,#73ff8c 50.1%,#80ff7f 58.9%,#83ff7c 85.2%,#87ff78 97.6%,#8cff73 99.8%)"></i><i style="top:14px;background:linear-gradient(90deg,#8fff70 0.0%,#a9ff56 4.1%,#cdff32 7.0%,#f5ff0a 8.9%,#fffa00 9.5%,#ffd300 11.7%,#ffc000 13.9%,#ffc300 16.2%,#ffdc00 18.4%,#feff01 20.3%,#a3ff5c 23.8%,#1dffe2 28.5%,#00feff 29.8%,#00d1ff 32.3%,#00bfff 34.5%,#00c4ff 36.8%,#00deff 39.0%,#00fdff 40.6%,#2fffd0 42.8%,#55ffaa 45.6%,#6fff90 49.4%,#7eff81 56.4%,#82ff7d 84.0%,#87ff78 97.0%,#8eff71 99.8%)"></i><i style="top:15px;background:linear-gradient(90deg,#90ff6f 0.0%,#abff54 3.8%,#d4ff2b 6.7%,#fffd00 8.6%,#ffcd00 10.8%,#ffb200 13.0%,#ffad00 15.2%,#ffc000 17.4%,#ffe800 19.6%,#fffe00 20.6%,#a5ff5a 23.8%,#15ffea 28.5%,#00fbff 29.5%,#00c7ff 32.0%,#00afff 34.2%,#00afff 36.4%,#00c5ff 38.7%,#00f1ff 40.9%,#02fffd 41.5%,#28ffd7 43.1%,#52ffad 45.9%,#6eff91 49.7%,#7dff82 56.4%,#82ff7d 85.6%,#88ff77 97.3%,#90ff6f 99.8%)"></i><i style="top:16px;background:linear-gradient(90deg,#92ff6d 0.0%,#adff52 3.5%,#d3ff2c 6.0%,#faff05 7.6%,#fff200 8.2%,#ffbf00 10.5%,#ffa000 12.7%,#ff9a00 14.6%,#ffa800 16.8%,#ffce00 19.0%,#fffe00 20.9%,#a8ff57 23.8%,#0dfff2 28.5%,#00faff 29.2%,#00bfff 31.7%,#00a1ff 33.9%,#009aff 35.8%,#00a5ff 37.7%,#00c7ff 39.9%,#00ffff 42.1%,#28ffd7 43.7%,#50ffaf 46.3%,#6cff93 49.7%,#7cff83 55.8%,#82ff7d 83.7%,#87ff78 96.3%,#92ff6d 99.8%)"></i><i style="top:17px;background:linear-gradient(90deg,#95ff6a 0.0%,#afff50 3.2%,#d9ff26 5.7%,#f9ff06 7.0%,#fff100 7.6%,#ffb700 9.8%,#ff9300 12.0%,#ff8700 13.9%,#ff8e00 15.8%,#ffad00 18.1%,#ffe200 20.3%,#fffe00 21.2%,#7dff82 25.0%,#05fffa 28.5%,#00f1ff 29.2%,#00b1ff 31.7%,#0090ff 33.9%,#0087ff 35.8%,#0091ff 37.7%,#00b3ff 39.9%,#00ebff 42.1%,#00ffff 42.8%,#29ffd6 44.4%,#51ffae 46.9%,#6dff92 50.4%,#7cff83 56.4%,#86ff79 95.4%,#94ff6b 99.8%)"></i><i style="top:18px;background:linear-gradient(90deg,#97ff68 0.0%,#b5ff4a 3.2%,#deff21 5.4%,#fffc00 6.7%,#ffb200 9.2%,#ff8700 11.4%,#ff7500 13.3%,#ff7800 15.2%,#ff8e00 17.1%,#ffbe00 19.3%,#fdff02 21.5%,#08fff7 28.2%,#00fdff 28.5%,#00b2ff 31.1%,#0087ff 33.3%,#0076ff 35.2%,#0078ff 37.1%,#008dff 39.0%,#00bdff 41.2%,#01fffe 43.4%,#2bffd4 45.0%,#53ffac 47.5%,#6eff91 51.0%,#7dff82 57.4%,#85ff7a 94.7%,#96ff69 99.8%)"></i><i style="top:19px;background:linear-gradient(90deg,#99ff66 0.0%,#b7ff48 2.9%,#e2ff1d 5.1%,#feff01 6.0%,#ffae00 8.6%,#ff7d00 10.8%,#ff6600 12.7%,#ff6300 14.6%,#ff7400 16.5%,#ffa100 18.7%,#ffee00 21.2%,#fffa00 21.5%,#edff12 22.2%,#01fffe 28.2%,#00a6ff 31.1%,#0077ff 33.3%,#0064ff 35.2%,#0064ff 37.1%,#0079ff 39.0%,#00a9ff 41.2%,#00f9ff 43.7%,#10ffef 44.4%,#3bffc4 46.3%,#5cffa3 48.8%,#73ff8c 52.6%,#7fff80 60.8%,#85ff7a 94.4%,#96ff69 99.5%,#98ff67 99.8%)"></i><i style="top:20px;background:linear-gradient(90deg,#9cff63 0.0%,#b8ff47 2.5%,#deff21 4.4%,#f8ff07 5.4%,#fffa00 5.7%,#ffa400 8.2%,#ff6e00 10.5%,#ff5500 12.4%,#ff5000 14.3%,#ff6000 16.2%,#ff8500 18.1%,#ffc500 20.3%,#ffff00 21.9%,#07fff8 27.9%,#00faff 28.2%,#00a3ff 30.7%,#006eff 33.0%,#0054ff 34.9%,#0050ff 36.8%,#0061ff 38.7%,#0086ff 40.6%,#00c6ff 42.8%,#00ffff 44.4%,#2cffd3 45.9%,#51ffae 48.2%,#6cff93 51.3%,#7cff83 57.0%,#85ff7a 94.1%,#96ff69 99.2%,#9bff64 99.8%)"></i><i style="top:21px;background:linear-gradient(90deg,#9fff60 0.0%,#bfff40 2.5%,#e9ff16 4.4%,#fdff02 5.1%,#ff9b00 7.9%,#ff6100 10.1%,#ff4500 12.0%,#ff3d00 13.9%,#ff4c00 15.8%,#ff6f00 17.7%,#ffb100 20.0%,#fff800 21.9%,#f9ff06 22.2%,#01fffe 27.9%,#00a2ff 30.4%,#0065ff 32.6%,#0046ff 34.5%,#003dff 36.4%,#0049ff 38.3%,#006bff 40.2%,#00a9ff 42.5%,#00faff 44.7%,#11ffee 45.3%,#3dffc2 47.2%,#5fffa0 49.7%,#74ff8b 53.5%,#7fff80 62.1%,#85ff7a 93.8%,#94ff6b 98.5%,#9dff62 99.8%)"></i><i style="top:22px;background:linear-gradient(90deg,#a2ff5d 0.0%,#bfff40 2.2%,#ebff14 4.1%,#fffe00 4.8%,#ff9d00 7.3%,#ff5c00 9.5%,#ff3900 11.4%,#ff2b00 13.3%,#ff3400 15.2%,#ff5300 17.1%,#ff8700 19.0%,#ffd800 21.2%,#ffff00 22.2%,#09fff6 27.6%,#00faff 27.9%,#0097ff 30.4%,#005fff 32.3%,#003aff 34.2%,#002bff 36.1%,#0033ff 38.0%,#0051ff 39.9%,#008cff 42.1%,#00e9ff 44.7%,#04fffb 45.3%,#2fffd0 46.9%,#54ffab 49.1%,#6eff91 52.3%,#7cff83 58.0%,#85ff7a 93.5%,#94ff6b 98.2%,#a0ff5f 99.8%)"></i><i style="top:23px;background:linear-gradient(90deg,#a5ff5a 0.0%,#c6ff39 2.2%,#edff12 3.8%,#fffb00 4.4%,#ff9600 7.0%,#ff5200 9.2%,#ff2b00 11.1%,#ff1a00 13.0%,#ff2100 14.9%,#ff3e00 16.8%,#ff7100 18.7%,#ffc300 20.9%,#fffa00 22.2%,#e7ff18 22.8%,#04fffb 27.6%,#00beff 29.2%,#006dff 31.4%,#003cff 33.3%,#0020ff 35.2%,#001bff 37.1%,#002dff 39.0%,#0055ff 40.9%,#009bff 43.1%,#02fffd 45.6%,#2fffd0 47.2%,#54ffab 49.4%,#6eff91 52.6%,#7dff82 58.3%,#85ff7a 93.5%,#96ff69 98.2%,#a3ff5c 99.8%)"></i><i style="top:24px;background:linear-gradient(90deg,#a8ff57 0.0%,#ccff33 2.2%,#f8ff07 3.8%,#fffa00 4.1%,#ff8500 7.0%,#ff4000 9.2%,#ff1900 11.1%,#ff0900 13.0%,#ff0e00 14.6%,#ff2a00 16.5%,#ff5c00 18.4%,#ffae00 20.6%,#fff500 22.2%,#faff05 22.5%,#00feff 27.6%,#008fff 30.1%,#004eff 32.0%,#0021ff 33.9%,#000bff 35.8%,#000bff 37.4%,#0021ff 39.3%,#004cff 41.2%,#0096ff 43.4%,#01fffe 45.9%,#2fffd0 47.5%,#55ffaa 49.7%,#6fff90 52.9%,#7dff82 58.9%,#85ff7a 93.2%,#96ff69 97.9%,#a6ff59 99.8%)"></i><i style="top:25px;background:linear-gradient(90deg,#abff54 0.0%,#ccff33 1.9%,#f8ff07 3.5%,#fffa00 3.8%,#ff8100 6.7%,#ff3700 8.9%,#ff0d00 10.8%,#fd0000 12.0%,#f80000 13.6%,#ff0200 14.9%,#ff2400 16.8%,#ff5c00 18.7%,#ffb400 20.9%,#ffff00 22.5%,#0afff5 27.2%,#00f9ff 27.6%,#0087ff 30.1%,#0043ff 32.0%,#0014ff 33.9%,#0001ff 35.2%,#0000f8 37.1%,#0002ff 38.3%,#0023ff 40.2%,#0058ff 42.1%,#00acff 44.4%,#01fffe 46.3%,#2fffd0 47.8%,#55ffaa 50.1%,#6fff90 53.2%,#7dff82 59.3%,#85ff7a 92.8%,#95ff6a 97.6%,#a9ff56 99.8%)"></i><i style="top:26px;background:linear-gradient(90deg,#afff50 0.0%,#d2ff2d 1.9%,#fffc00 3.5%,#ff7e00 6.3%,#ff3000 8.6%,#ff0300 10.5%,#e90000 12.7%,#ed0000 14.3%,#ff0300 15.8%,#ff3200 17.7%,#ff7600 19.6%,#ffdb00 21.9%,#fffb00 22.5%,#d1ff2e 23.4%,#06fff9 27.2%,#00e5ff 27.9%,#007eff 30.1%,#0038ff 32.0%,#0006ff 33.9%,#0000fa 34.5%,#0000ea 36.1%,#0000eb 37.7%,#0000fe 39.3%,#0022ff 40.9%,#005eff 42.8%,#00c7ff 45.3%,#02fffd 46.6%,#30ffcf 48.2%,#52ffad 50.1%,#6cff93 52.9%,#7bff84 58.0%,#85ff7a 92.8%,#94ff6b 97.3%,#acff53 99.8%)"></i><i style="top:27px;background:linear-gradient(90deg,#b2ff4d 0.0%,#d8ff27 1.9%,#fffe00 3.2%,#ff6f00 6.3%,#ff2100 8.6%,#ff0000 9.8%,#e40000 11.4%,#da0000 13.0%,#e20000 14.6%,#fc0000 16.2%,#ff1400 17.1%,#ff5400 19.0%,#ffb700 21.2%,#fff700 22.5%,#f6ff09 22.8%,#02fffd 27.2%,#0076ff 30.1%,#002dff 32.0%,#0001ff 33.6%,#0000e0 35.5%,#0000da 37.1%,#0000e5 38.7%,#0003ff 40.2%,#0039ff 42.1%,#008fff 44.4%,#00f5ff 46.6%,#04fffb 46.9%,#32ffcd 48.5%,#53ffac 50.4%,#6dff92 53.2%,#7cff83 58.6%,#85ff7a 92.5%,#96ff69 97.3%,#afff50 99.8%)"></i><i style="top:28px;background:linear-gradient(90deg,#b5ff4a 0.0%,#deff21 1.9%,#fdff02 2.9%,#ff6200 6.3%,#ff1300 8.6%,#ff0100 9.2%,#d90000 11.1%,#cc0000 12.7%,#d20000 14.3%,#e90000 15.8%,#ff0100 16.8%,#ff3f00 18.7%,#ffa100 20.9%,#fff300 22.5%,#f9ff06 22.8%,#00feff 27.2%,#007dff 29.8%,#002fff 31.7%,#0006ff 33.0%,#0000f4 33.6%,#0000d7 35.2%,#0000cc 36.8%,#0000d3 38.3%,#0000ec 39.9%,#0004ff 40.9%,#0042ff 42.8%,#00adff 45.3%,#00f9ff 46.9%,#11ffee 47.5%,#3bffc4 49.1%,#5cffa3 51.3%,#73ff8c 54.8%,#7eff81 62.4%,#85ff7a 92.2%,#95ff6a 97.0%,#adff52 99.5%,#b2ff4d 99.8%)"></i><i style="top:29px;background:linear-gradient(90deg,#b8ff47 0.0%,#dbff24 1.6%,#f9ff06 2.5%,#fff800 2.9%,#ff7000 5.7%,#ff1900 7.9%,#ff0500 8.6%,#f20000 9.2%,#d10000 10.8%,#c10000 12.4%,#c30000 13.9%,#d80000 15.5%,#ff0000 17.1%,#ff4400 19.0%,#ffac00 21.2%,#fcff03 22.8%,#0dfff2 26.9%,#00fbff 27.2%,#0076ff 29.8%,#0026ff 31.7%,#0005ff 32.6%,#0000f2 33.3%,#0000d0 34.9%,#0000c0 36.4%,#0000c3 38.0%,#0000d8 39.6%,#0000ff 41.2%,#0041ff 43.1%,#00b0ff 45.6%,#00fdff 47.2%,#2fffd0 48.8%,#53ffac 50.7%,#6dff92 53.5%,#7cff83 58.6%,#85ff7a 92.2%,#94ff6b 96.6%,#acff53 99.2%,#b5ff4a 99.8%)"></i><i style="top:30px;background:linear-gradient(90deg,#bbff44 0.0%,#e0ff1f 1.6%,#fffd00 2.5%,#ff6500 5.7%,#ff0d00 7.9%,#ff0300 8.2%,#ca0000 10.5%,#b60000 12.0%,#b50000 13.6%,#c70000 15.2%,#ec0000 16.8%,#ff0100 17.4%,#ff4a00 19.3%,#ffb800 21.5%,#ffff00 22.8%,#0bfff4 26.9%,#00f8ff 27.2%,#0070ff 29.8%,#001eff 31.7%,#0007ff 32.3%,#0000fb 32.6%,#0000d1 34.2%,#0000b9 35.8%,#0000b4 37.4%,#0000c2 39.0%,#0000e1 40.6%,#0000fc 41.5%,#001dff 42.5%,#0079ff 44.7%,#00f5ff 47.2%,#03fffc 47.5%,#33ffcc 49.1%,#55ffaa 51.0%,#6eff91 53.9%,#7cff83 59.3%,#85ff7a 92.2%,#95ff6a 96.6%,#aeff51 99.2%,#b8ff47 99.8%)"></i><i style="top:31px;background:linear-gradient(90deg,#beff41 0.0%,#e5ff1a 1.6%,#fbff04 2.2%,#fff600 2.5%,#ff5a00 5.7%,#ff0200 7.9%,#c50000 10.1%,#ae0000 11.7%,#a90000 13.3%,#b90000 14.9%,#db0000 16.5%,#ff0400 17.7%,#ff5300 19.6%,#ffc600 21.9%,#fffc00 22.8%,#09fff6 26.9%,#00f5ff 27.2%,#006bff 29.8%,#0017ff 31.7%,#0000fe 32.3%,#0000cf 33.9%,#0000b2 35.5%,#0000a9 37.1%,#0000b2 38.7%,#0000ce 40.2%,#0000fb 41.8%,#0012ff 42.5%,#006eff 44.7%,#00fbff 47.5%,#36ffc9 49.4%,#57ffa8 51.3%,#6fff90 54.2%,#7dff82 59.9%,#85ff7a 91.9%,#94ff6b 96.3%,#acff53 98.9%,#bbff44 99.8%)"></i><i style="top:32px;background:linear-gradient(90deg,#c1ff3e 0.0%,#eaff15 1.6%,#fffd00 2.2%,#ff5100 5.7%,#ff0300 7.6%,#c10000 9.8%,#a70000 11.4%,#9f0000 13.0%,#ab0000 14.6%,#ca0000 16.2%,#fc0000 17.7%,#ff2200 18.7%,#ff7d00 20.6%,#fffa00 22.8%,#deff21 23.4%,#07fff8 26.9%,#00f3ff 27.2%,#0066ff 29.8%,#0010ff 31.7%,#0004ff 32.0%,#0000d8 33.3%,#0000b3 34.9%,#0000a1 36.4%,#0000a2 38.0%,#0000b7 39.6%,#0000e7 41.5%,#0000fc 42.1%,#0020ff 43.1%,#0084ff 45.3%,#00f5ff 47.5%,#03fffc 47.8%,#33ffcc 49.4%,#55ffaa 51.3%,#6eff91 54.2%,#7cff83 59.6%,#85ff7a 91.9%,#94ff6b 96.3%,#adff52 98.9%,#bdff42 99.8%)"></i><i style="top:33px;background:linear-gradient(90deg,#c3ff3c 0.0%,#eeff11 1.6%,#faff05 1.9%,#fff800 2.2%,#ff5700 5.4%,#ff0700 7.3%,#fa0000 7.6%,#c00000 9.5%,#a20000 11.1%,#970000 12.7%,#9f0000 14.3%,#bb0000 15.8%,#ea0000 17.4%,#ff0300 18.1%,#ff5800 20.0%,#ffd200 22.2%,#fff800 22.8%,#f2ff0d 23.1%,#05fffa 26.9%,#00ddff 27.6%,#0062ff 29.8%,#000aff 31.7%,#0000fd 32.0%,#0000c8 33.6%,#0000a6 35.2%,#000097 36.8%,#00009c 38.3%,#0000b4 39.9%,#0000e8 41.8%,#0000fe 42.5%,#004fff 44.4%,#00fdff 47.8%,#30ffcf 49.4%,#54ffab 51.3%,#6eff91 54.2%,#7cff83 59.6%,#85ff7a 91.9%,#95ff6a 96.3%,#afff50 98.9%,#bfff40 99.8%)"></i><i style="top:34px;background:linear-gradient(90deg,#c5ff3a 0.0%,#f2ff0d 1.6%,#feff01 1.9%,#ffe200 2.5%,#ff5000 5.4%,#fe0000 7.3%,#c00000 9.2%,#9f0000 10.8%,#900000 12.4%,#950000 13.9%,#ae0000 15.5%,#da0000 17.1%,#fd0000 18.1%,#ff3500 19.3%,#ffab00 21.5%,#fff600 22.8%,#f4ff0b 23.1%,#03fffc 26.9%,#005eff 29.8%,#0006ff 31.7%,#0000ec 32.3%,#0000ba 33.9%,#00009b 35.5%,#000090 37.1%,#000098 38.7%,#0000b4 40.2%,#0000ec 42.1%,#0004ff 42.8%,#0066ff 45.0%,#00f9ff 47.8%,#06fff9 48.2%,#36ffc9 49.7%,#57ffa8 51.6%,#6fff90 54.5%,#7dff82 60.2%,#84ff7b 91.6%,#93ff6c 96.0%,#acff53 98.5%,#c1ff3e 99.8%)"></i><i style="top:35px;background:linear-gradient(90deg,#c7ff38 0.0%,#f5ff0a 1.6%,#fffd00 1.9%,#ff4b00 5.4%,#ff0600 7.0%,#ec0000 7.6%,#b20000 9.5%,#940000 11.1%,#8a0000 12.7%,#930000 14.3%,#b00000 15.8%,#e10000 17.4%,#f90000 18.1%,#ff0700 18.4%,#ff6200 20.3%,#fff500 22.8%,#f5ff0a 23.1%,#02fffd 26.9%,#005bff 29.8%,#0002ff 31.7%,#0000be 33.6%,#00009a 35.2%,#00008b 36.8%,#00008f 38.3%,#0000a7 39.9%,#0000d0 41.5%,#0000fd 42.8%,#0042ff 44.4%,#00d3ff 47.2%,#00f5ff 47.8%,#03fffc 48.2%,#34ffcb 49.7%,#56ffa9 51.6%,#6eff91 54.5%,#7cff83 59.9%,#85ff7a 91.6%,#94ff6b 96.0%,#adff52 98.5%,#c3ff3c 99.8%)"></i><i style="top:36px;background:linear-gradient(90deg,#c8ff37 0.0%,#f7ff08 1.6%,#fffa00 1.9%,#ff4600 5.4%,#ff0100 7.0%,#be0000 8.9%,#990000 10.5%,#870000 12.0%,#890000 13.6%,#9e0000 15.2%,#c80000 16.8%,#f60000 18.1%,#ff0400 18.4%,#ff6000 20.3%,#fff400 22.8%,#f6ff09 23.1%,#01fffe 26.9%,#006aff 29.5%,#000cff 31.4%,#0000fe 31.7%,#0000c4 33.3%,#00009c 34.9%,#000088 36.4%,#000088 38.0%,#00009c 39.6%,#0000c2 41.2%,#0000f8 42.8%,#0006ff 43.1%,#006bff 45.3%,#00ffff 48.2%,#2affd5 49.4%,#51ffae 51.3%,#6aff95 53.9%,#7bff84 58.6%,#85ff7a 91.9%,#96ff69 96.3%,#b2ff4d 98.9%,#c4ff3b 99.8%)"></i><i style="top:37px;background:linear-gradient(90deg,#c9ff36 0.0%,#f9ff06 1.6%,#fff800 1.9%,#ff4300 5.4%,#fd0000 7.0%,#bb0000 8.9%,#960000 10.5%,#840000 12.0%,#850000 13.6%,#9b0000 15.2%,#c50000 16.8%,#ff0200 18.4%,#ff5e00 20.3%,#fff300 22.8%,#f7ff08 23.1%,#00ffff 26.9%,#0068ff 29.5%,#000aff 31.4%,#0000fb 31.7%,#0000c1 33.3%,#000099 34.9%,#000085 36.4%,#000084 38.0%,#000098 39.6%,#0000be 41.2%,#0003ff 43.1%,#0068ff 45.3%,#00fdff 48.2%,#31ffce 49.7%,#54ffab 51.6%,#6eff91 54.5%,#7cff83 59.9%,#85ff7a 91.6%,#94ff6b 96.0%,#aeff51 98.5%,#c5ff3a 99.8%)"></i><i style="top:38px;background:linear-gradient(90deg,#caff35 0.0%,#faff05 1.6%,#fff700 1.9%,#ff4100 5.4%,#ff0900 6.7%,#fb0000 7.0%,#b90000 8.9%,#940000 10.5%,#820000 12.0%,#840000 13.6%,#9a0000 15.2%,#c30000 16.8%,#ff0000 18.4%,#ff5d00 20.3%,#fff300 22.8%,#f7ff08 23.1%,#00ffff 26.9%,#0068ff 29.5%,#0009ff 31.4%,#0000fa 31.7%,#0000bf 33.3%,#000097 34.9%,#000083 36.4%,#000082 38.0%,#000096 39.6%,#0000bd 41.2%,#0001ff 43.1%,#0067ff 45.3%,#00fcff 48.2%,#38ffc7 50.1%,#58ffa7 52.0%,#70ff8f 54.8%,#7dff82 60.5%,#85ff7a 91.6%,#95ff6a 96.0%,#afff50 98.5%,#c6ff39 99.8%)"></i><i style="top:39px;background:linear-gradient(90deg,#caff35 0.0%,#fbff04 1.6%,#fff600 1.9%,#ff5000 5.1%,#ff0800 6.7%,#fa0000 7.0%,#b80000 8.9%,#930000 10.5%,#810000 12.0%,#830000 13.6%,#990000 15.2%,#c30000 16.8%,#ff0000 18.4%,#ff5d00 20.3%,#fff300 22.8%,#f7ff08 23.1%,#00ffff 26.9%,#0067ff 29.5%,#0008ff 31.4%,#0000fa 31.7%,#0000bf 33.3%,#000097 34.9%,#000082 36.4%,#000082 38.0%,#000096 39.6%,#0000bc 41.2%,#0000ff 43.1%,#0066ff 45.3%,#00fcff 48.2%,#38ffc7 50.1%,#58ffa7 52.0%,#6fff90 54.8%,#7dff82 60.5%,#85ff7a 91.6%,#95ff6a 96.0%,#afff50 98.5%,#c6ff39 99.8%)"></i><i style="top:40px;background:linear-gradient(90deg,#caff35 0.0%,#faff05 1.6%,#fff700 1.9%,#ff4200 5.4%,#ff0900 6.7%,#fb0000 7.0%,#b90000 8.9%,#940000 10.5%,#820000 12.0%,#840000 13.6%,#9a0000 15.2%,#c40000 16.8%,#ff0100 18.4%,#ff5d00 20.3%,#fff300 22.8%,#f7ff08 23.1%,#00ffff 26.9%,#0068ff 29.5%,#0009ff 31.4%,#0000fa 31.7%,#0000c0 33.3%,#000097 34.9%,#000083 36.4%,#000083 38.0%,#000096 39.6%,#0000bd 41.2%,#0001ff 43.1%,#0067ff 45.3%,#00fcff 48.2%,#31ffce 49.7%,#54ffab 51.6%,#6eff91 54.5%,#7cff83 59.9%,#85ff7a 91.6%,#95ff6a 96.0%,#aeff51 98.5%,#c6ff39 99.8%)"></i><i style="top:41px;background:linear-gradient(90deg,#c9ff36 0.0%,#f9ff06 1.6%,#fff800 1.9%,#ff4400 5.4%,#fd0000 7.0%,#bb0000 8.9%,#960000 10.5%,#840000 12.0%,#860000 13.6%,#9c0000 15.2%,#c50000 16.8%,#ff0200 18.4%,#ff5e00 20.3%,#fff300 22.8%,#f7ff08 23.1%,#00ffff 26.9%,#0069ff 29.5%,#000aff 31.4%,#0000fc 31.7%,#0000c1 33.3%,#000099 34.9%,#000085 36.4%,#000085 38.0%,#000099 39.6%,#0000bf 41.2%,#0003ff 43.1%,#0069ff 45.3%,#00feff 48.2%,#31ffce 49.7%,#54ffab 51.6%,#6eff91 54.5%,#7cff83 59.9%,#85ff7a 91.6%,#94ff6b 96.0%,#aeff51 98.5%,#c5ff3a 99.8%)"></i><i style="top:42px;background:linear-gradient(90deg,#c8ff37 0.0%,#f7ff08 1.6%,#fffa00 1.9%,#ff4700 5.4%,#ff0200 7.0%,#b60000 9.2%,#950000 10.8%,#870000 12.4%,#8c0000 13.9%,#a60000 15.5%,#d30000 17.1%,#f60000 18.1%,#ff0400 18.4%,#ff6000 20.3%,#fff400 22.8%,#f6ff09 23.1%,#01fffe 26.9%,#006aff 29.5%,#000dff 31.4%,#0000fe 31.7%,#0000c4 33.3%,#00009c 34.9%,#000088 36.4%,#000089 38.0%,#00009c 39.6%,#0000c3 41.2%,#0000f9 42.8%,#0007ff 43.1%,#006cff 45.3%,#00f2ff 47.8%,#01fffe 48.2%,#2affd5 49.4%,#51ffae 51.3%,#6aff95 53.9%,#7bff84 58.6%,#85ff7a 91.9%,#96ff69 96.3%,#b2ff4d 98.9%,#c4ff3b 99.8%)"></i><i style="top:43px;background:linear-gradient(90deg,#c7ff38 0.0%,#f4ff0b 1.6%,#fffd00 1.9%,#ff4c00 5.4%,#ff0700 7.0%,#f90000 7.3%,#bb0000 9.2%,#9a0000 10.8%,#8b0000 12.4%,#910000 13.9%,#aa0000 15.5%,#d60000 17.1%,#fa0000 18.1%,#ff0800 18.4%,#ff6300 20.3%,#fff500 22.8%,#f5ff0a 23.1%,#02fffd 26.9%,#005cff 29.8%,#0002ff 31.7%,#0000bf 33.6%,#00009b 35.2%,#00008c 36.8%,#000090 38.3%,#0000a8 39.9%,#0000d1 41.5%,#0000fe 42.8%,#0052ff 44.7%,#00f5ff 47.8%,#03fffc 48.2%,#34ffcb 49.7%,#56ffa9 51.6%,#6eff91 54.5%,#7cff83 59.9%,#85ff7a 91.6%,#94ff6b 96.0%,#adff52 98.5%,#c3ff3c 99.8%)"></i><i style="top:44px;background:linear-gradient(90deg,#c5ff3a 0.0%,#f1ff0e 1.6%,#fdff02 1.9%,#ffe300 2.5%,#ff5200 5.4%,#ff0100 7.3%,#c20000 9.2%,#a00000 10.8%,#920000 12.4%,#960000 13.9%,#af0000 15.5%,#db0000 17.1%,#fe0000 18.1%,#ff4500 19.6%,#ffbe00 21.9%,#fff700 22.8%,#f4ff0b 23.1%,#04fffb 26.9%,#0092ff 28.8%,#0030ff 30.7%,#0006ff 31.7%,#0000f9 32.0%,#0000c4 33.6%,#0000a1 35.2%,#000092 36.8%,#000096 38.3%,#0000ae 39.9%,#0000e2 41.8%,#0000f8 42.5%,#0005ff 42.8%,#0067ff 45.0%,#00f9ff 47.8%,#12ffed 48.5%,#3dffc2 50.1%,#5effa1 52.3%,#74ff8b 55.8%,#7fff80 63.7%,#84ff7b 91.6%,#93ff6c 96.0%,#abff54 98.5%,#c1ff3e 99.8%)"></i><i style="top:45px;background:linear-gradient(90deg,#c3ff3c 0.0%,#edff12 1.6%,#f9ff06 1.9%,#fff900 2.2%,#ff5900 5.4%,#ff0800 7.3%,#fb0000 7.6%,#c10000 9.5%,#a40000 11.1%,#980000 12.7%,#a10000 14.3%,#bd0000 15.8%,#eb0000 17.4%,#ff0400 18.1%,#ff5900 20.0%,#ffd300 22.2%,#fff900 22.8%,#f2ff0d 23.1%,#05fffa 26.9%,#00deff 27.6%,#0063ff 29.8%,#000bff 31.7%,#0000fe 32.0%,#0000ca 33.6%,#0000a8 35.2%,#000099 36.8%,#00009e 38.3%,#0000b6 39.9%,#0000ea 41.8%,#0001ff 42.5%,#005fff 44.7%,#00feff 47.8%,#31ffce 49.4%,#54ffab 51.3%,#6eff91 54.2%,#7cff83 59.6%,#85ff7a 91.9%,#95ff6a 96.3%,#afff50 98.9%,#bfff40 99.8%)"></i><i style="top:46px;background:linear-gradient(90deg,#c0ff3f 0.0%,#e9ff16 1.6%,#fffe00 2.2%,#ff5300 5.7%,#ff0500 7.6%,#ef0000 8.2%,#bc0000 10.1%,#a60000 11.7%,#a20000 13.3%,#b20000 14.9%,#d40000 16.5%,#fd0000 17.7%,#ff3100 19.0%,#ffa000 21.2%,#fffb00 22.8%,#ddff22 23.4%,#07fff8 26.9%,#00f3ff 27.2%,#0067ff 29.8%,#0011ff 31.7%,#0005ff 32.0%,#0000ee 32.6%,#0000c1 34.2%,#0000a8 35.8%,#0000a1 37.4%,#0000ae 39.0%,#0000ce 40.6%,#0000fe 42.1%,#004aff 44.0%,#00d5ff 46.9%,#00f6ff 47.5%,#04fffb 47.8%,#34ffcb 49.4%,#55ffaa 51.3%,#6eff91 54.2%,#7cff83 59.6%,#85ff7a 91.9%,#94ff6b 96.3%,#adff52 98.9%,#bdff42 99.8%)"></i><i style="top:47px;background:linear-gradient(90deg,#bdff42 0.0%,#e4ff1b 1.6%,#faff05 2.2%,#fff800 2.5%,#ff5c00 5.7%,#ff0400 7.9%,#e60000 8.9%,#c10000 10.5%,#ad0000 12.0%,#ad0000 13.6%,#c00000 15.2%,#e50000 16.8%,#f90000 17.4%,#ff0500 17.7%,#ff5400 19.6%,#ffc600 21.9%,#fffd00 22.8%,#09fff6 26.9%,#00f5ff 27.2%,#006cff 29.8%,#0018ff 31.7%,#0001ff 32.3%,#0000ca 34.2%,#0000b1 35.8%,#0000ab 37.4%,#0000b9 39.0%,#0000d8 40.6%,#0000fd 41.8%,#0039ff 43.4%,#00adff 45.9%,#00fdff 47.5%,#37ffc8 49.4%,#5bffa4 51.6%,#72ff8d 54.8%,#7eff81 61.5%,#84ff7b 91.9%,#93ff6c 96.3%,#abff54 98.9%,#baff45 99.8%)"></i><i style="top:48px;background:linear-gradient(90deg,#bbff44 0.0%,#dfff20 1.6%,#ffff00 2.5%,#ff5900 6.0%,#ff0500 8.2%,#f10000 8.9%,#c70000 10.8%,#b70000 12.4%,#ba0000 13.9%,#cf0000 15.5%,#ff0200 17.4%,#ff4c00 19.3%,#ffb900 21.5%,#ffff00 22.8%,#0bfff4 26.9%,#00f8ff 27.2%,#0072ff 29.8%,#001fff 31.7%,#0000fd 32.6%,#0000d3 34.2%,#0000bb 35.8%,#0000b6 37.4%,#0000c4 39.0%,#0000e3 40.6%,#0000fe 41.5%,#0044ff 43.4%,#00b7ff 45.9%,#00f7ff 47.2%,#04fffb 47.5%,#33ffcc 49.1%,#55ffaa 51.0%,#6eff91 53.9%,#7cff83 59.3%,#85ff7a 92.2%,#95ff6a 96.6%,#adff52 99.2%,#b7ff48 99.8%)"></i><i style="top:49px;background:linear-gradient(90deg,#b8ff47 0.0%,#daff25 1.6%,#f8ff07 2.5%,#fffa00 2.9%,#ff7200 5.7%,#ff1c00 7.9%,#fe0000 8.9%,#d30000 10.8%,#c30000 12.4%,#c50000 13.9%,#da0000 15.5%,#ff0100 17.1%,#ff4500 19.0%,#ffad00 21.2%,#fcff03 22.8%,#0efff1 26.9%,#00fbff 27.2%,#0078ff 29.8%,#0028ff 31.7%,#0000fd 33.0%,#0000d8 34.5%,#0000c4 36.1%,#0000c4 37.7%,#0000d5 39.3%,#0002ff 41.2%,#0043ff 43.1%,#00b2ff 45.6%,#00ffff 47.2%,#30ffcf 48.8%,#53ffac 50.7%,#6dff92 53.5%,#7cff83 58.9%,#85ff7a 92.2%,#96ff69 97.0%,#b0ff4f 99.5%,#b4ff4b 99.8%)"></i><i style="top:50px;background:linear-gradient(90deg,#b4ff4b 0.0%,#ddff22 1.9%,#fbff04 2.9%,#ffe600 3.5%,#ff6400 6.3%,#ff1500 8.6%,#ff0400 9.2%,#e10000 10.8%,#d00000 12.4%,#d20000 13.9%,#e50000 15.5%,#ff0300 16.8%,#ff4100 18.7%,#ffa200 20.9%,#fff400 22.5%,#f9ff06 22.8%,#00feff 27.2%,#007eff 29.8%,#0030ff 31.7%,#0000fe 33.3%,#0000de 34.9%,#0000cf 36.4%,#0000d3 38.0%,#0000e9 39.6%,#0000fe 40.6%,#002eff 42.1%,#0085ff 44.4%,#00fbff 46.9%,#2effd1 48.5%,#51ffae 50.4%,#6cff93 53.2%,#7bff84 58.3%,#85ff7a 92.5%,#95ff6a 97.0%,#adff52 99.5%,#b1ff4e 99.8%)"></i><i style="top:51px;background:linear-gradient(90deg,#b1ff4e 0.0%,#d7ff28 1.9%,#feff01 3.2%,#ff7200 6.3%,#ff2400 8.6%,#ff0300 9.8%,#e10000 12.0%,#de0000 13.6%,#ed0000 15.2%,#fe0000 16.2%,#ff2900 17.7%,#ff7000 19.6%,#ffd700 21.9%,#fff800 22.5%,#f5ff0a 22.8%,#03fffc 27.2%,#0078ff 30.1%,#002fff 32.0%,#0003ff 33.6%,#0000e0 35.8%,#0000de 37.4%,#0000ed 39.0%,#0000fe 39.9%,#0028ff 41.5%,#0077ff 43.7%,#00f8ff 46.6%,#05fffa 46.9%,#33ffcc 48.5%,#58ffa7 50.7%,#70ff8f 53.9%,#7dff82 60.2%,#84ff7b 92.2%,#93ff6c 97.0%,#aeff51 99.8%)"></i><i style="top:52px;background:linear-gradient(90deg,#aeff51 0.0%,#d1ff2e 1.9%,#fffe00 3.5%,#ff8100 6.3%,#ff3300 8.6%,#ff0600 10.5%,#fa0000 11.1%,#ec0000 12.7%,#f00000 14.3%,#ff0000 15.5%,#ff2200 17.1%,#ff5f00 19.0%,#ffbe00 21.2%,#fffc00 22.5%,#9eff61 24.4%,#07fff8 27.2%,#00f6ff 27.6%,#0080ff 30.1%,#003aff 32.0%,#0009ff 33.9%,#0000f8 34.9%,#0000ec 36.4%,#0000f1 38.0%,#0002ff 39.3%,#002eff 41.2%,#0079ff 43.4%,#00f6ff 46.3%,#04fffb 46.6%,#31ffce 48.2%,#57ffa8 50.4%,#70ff8f 53.5%,#7dff82 59.6%,#84ff7b 92.5%,#94ff6b 97.3%,#abff54 99.8%)"></i><i style="top:53px;background:linear-gradient(90deg,#abff54 0.0%,#caff35 1.9%,#fffd00 3.8%,#ff8400 6.7%,#ff3b00 8.9%,#ff1100 10.8%,#fe0000 12.4%,#fd0000 13.9%,#ff0900 15.2%,#ff2e00 17.1%,#ff6900 19.0%,#ffc400 21.2%,#feff01 22.5%,#0bfff4 27.2%,#00faff 27.6%,#0088ff 30.1%,#0045ff 32.0%,#0016ff 33.9%,#0001ff 35.5%,#0000fd 37.4%,#0009ff 38.7%,#002dff 40.6%,#0066ff 42.5%,#00caff 45.0%,#03fffc 46.3%,#30ffcf 47.8%,#56ffa9 50.1%,#6fff90 53.2%,#7dff82 59.3%,#84ff7b 92.5%,#93ff6c 97.3%,#a8ff57 99.8%)"></i><i style="top:54px;background:linear-gradient(90deg,#a7ff58 0.0%,#cbff34 2.2%,#fffd00 4.1%,#ff8900 7.0%,#ff4400 9.2%,#ff1d00 11.1%,#ff0d00 13.0%,#ff1100 14.6%,#ff2d00 16.5%,#ff5e00 18.4%,#ffb000 20.6%,#fff600 22.2%,#f9ff06 22.5%,#00ffff 27.6%,#0091ff 30.1%,#0051ff 32.0%,#0024ff 33.9%,#000eff 35.8%,#0010ff 37.7%,#002aff 39.6%,#0059ff 41.5%,#00a5ff 43.7%,#03fffc 45.9%,#30ffcf 47.5%,#55ffaa 49.7%,#6fff90 52.9%,#7dff82 58.9%,#84ff7b 92.8%,#93ff6c 97.6%,#a5ff5a 99.8%)"></i><i style="top:55px;background:linear-gradient(90deg,#a4ff5b 0.0%,#c4ff3b 2.2%,#eaff15 3.8%,#fffe00 4.4%,#ff9a00 7.0%,#ff5500 9.2%,#ff2f00 11.1%,#ff1e00 13.0%,#ff2400 14.9%,#ff4100 16.8%,#ff7400 18.7%,#ffc500 20.9%,#fffb00 22.2%,#d7ff28 23.1%,#05fffa 27.6%,#00e8ff 28.2%,#008fff 30.4%,#0055ff 32.3%,#002eff 34.2%,#001eff 36.1%,#0025ff 38.0%,#0042ff 39.9%,#0074ff 41.8%,#00cfff 44.4%,#00f6ff 45.3%,#05fffa 45.6%,#30ffcf 47.2%,#55ffaa 49.4%,#6eff91 52.6%,#7cff83 58.6%,#84ff7b 93.2%,#93ff6c 97.9%,#a2ff5d 99.8%)"></i><i style="top:56px;background:linear-gradient(90deg,#a1ff5e 0.0%,#c4ff3b 2.5%,#f2ff0d 4.4%,#fdff02 4.8%,#ff9600 7.6%,#ff5900 9.8%,#ff3900 11.7%,#ff2f00 13.6%,#ff3b00 15.5%,#ff5d00 17.4%,#ff9e00 19.6%,#fdff02 22.2%,#0afff5 27.6%,#00fbff 27.9%,#0099ff 30.4%,#0062ff 32.3%,#003dff 34.2%,#002fff 36.1%,#0037ff 38.0%,#0055ff 39.9%,#0090ff 42.1%,#00ecff 44.7%,#00f9ff 45.0%,#11ffee 45.6%,#3dffc2 47.5%,#5fffa0 50.1%,#74ff8b 53.9%,#7eff81 62.4%,#83ff7c 92.8%,#94ff6b 98.2%,#9fff60 99.8%)"></i><i style="top:57px;background:linear-gradient(90deg,#9eff61 0.0%,#bdff42 2.5%,#e6ff19 4.4%,#f9ff06 5.1%,#ffec00 5.7%,#ff9500 8.2%,#ff5f00 10.5%,#ff4600 12.4%,#ff4200 14.3%,#ff5300 16.2%,#ff7a00 18.1%,#ffbe00 20.3%,#fff900 21.9%,#ebff14 22.5%,#02fffd 27.9%,#009aff 30.7%,#0068ff 32.6%,#004aff 34.5%,#0041ff 36.4%,#004dff 38.3%,#006fff 40.2%,#00adff 42.5%,#00fdff 44.7%,#32ffcd 46.6%,#55ffaa 48.8%,#6eff91 52.0%,#7cff83 58.0%,#84ff7b 93.5%,#94ff6b 98.5%,#9dff62 99.8%)"></i><i style="top:58px;background:linear-gradient(90deg,#9bff64 0.0%,#bcff43 2.9%,#e3ff1c 4.8%,#fffd00 5.7%,#ffa800 8.2%,#ff7200 10.5%,#ff5900 12.4%,#ff5300 14.3%,#ff6300 16.2%,#ff8700 18.1%,#ffc700 20.3%,#feff01 21.9%,#08fff7 27.9%,#00fbff 28.2%,#00a5ff 30.7%,#0070ff 33.0%,#0058ff 34.9%,#0054ff 36.8%,#0065ff 38.7%,#008aff 40.6%,#00caff 42.8%,#03fffc 44.4%,#2effd1 45.9%,#52ffad 48.2%,#6cff93 51.3%,#7bff84 57.0%,#84ff7b 93.8%,#94ff6b 98.9%,#9aff65 99.8%)"></i><i style="top:59px;background:linear-gradient(90deg,#99ff66 0.0%,#b6ff49 2.9%,#dfff20 5.1%,#fbff04 6.0%,#ffe300 7.0%,#ffa200 9.2%,#ff7700 11.4%,#ff6600 13.3%,#ff6a00 15.2%,#ff8200 17.1%,#ffb400 19.3%,#fffb00 21.5%,#e0ff1f 22.5%,#03fffc 28.2%,#00a9ff 31.1%,#007aff 33.3%,#0067ff 35.2%,#0068ff 37.1%,#007dff 39.0%,#00adff 41.2%,#00fdff 43.7%,#30ffcf 45.6%,#57ffa8 48.2%,#70ff8f 51.6%,#7dff82 58.3%,#83ff7c 93.5%,#92ff6d 98.9%,#97ff68 99.8%)"></i><i style="top:60px;background:linear-gradient(90deg,#96ff69 0.0%,#b4ff4b 3.2%,#dbff24 5.4%,#feff01 6.7%,#ffb600 9.2%,#ff8b00 11.4%,#ff7900 13.3%,#ff7b00 15.2%,#ff9100 17.1%,#ffc000 19.3%,#fcff03 21.5%,#00feff 28.5%,#00b5ff 31.1%,#008aff 33.3%,#0079ff 35.2%,#007cff 37.1%,#0091ff 39.0%,#00c1ff 41.2%,#00faff 43.1%,#10ffef 43.7%,#3fffc0 45.9%,#60ff9f 48.8%,#75ff8a 52.9%,#7eff81 62.4%,#83ff7c 93.5%,#92ff6d 99.2%,#95ff6a 99.8%)"></i><i style="top:61px;background:linear-gradient(90deg,#94ff6b 0.0%,#aeff51 3.2%,#d6ff29 5.7%,#fffe00 7.3%,#ffbb00 9.8%,#ff9700 12.0%,#ff8b00 13.9%,#ff9100 15.8%,#ffb000 18.1%,#ffe400 20.3%,#feff01 21.2%,#67ff98 25.7%,#07fff8 28.5%,#00fcff 28.8%,#00baff 31.4%,#0096ff 33.6%,#008bff 35.5%,#0092ff 37.4%,#00b1ff 39.6%,#00e6ff 41.8%,#03fffc 42.8%,#2bffd4 44.4%,#52ffad 46.9%,#6dff92 50.4%,#7cff83 56.4%,#83ff7c 94.1%,#93ff6c 99.8%)"></i><i style="top:62px;background:linear-gradient(90deg,#92ff6d 0.0%,#acff53 3.5%,#d1ff2e 6.0%,#f6ff09 7.6%,#ffff00 7.9%,#ffc900 10.1%,#ffa700 12.4%,#ff9d00 14.6%,#ffac00 16.8%,#ffd100 19.0%,#ffff00 20.9%,#88ff77 24.7%,#06fff9 28.8%,#00f3ff 29.5%,#00bcff 32.0%,#00a2ff 34.2%,#009eff 36.1%,#00b0ff 38.3%,#00d9ff 40.6%,#04fffb 42.1%,#2affd5 43.7%,#51ffae 46.3%,#6cff93 49.7%,#7bff84 55.8%,#83ff7c 94.1%,#91ff6e 99.8%)"></i><i style="top:63px;background:linear-gradient(90deg,#90ff6f 0.0%,#aaff55 3.8%,#d1ff2e 6.7%,#f4ff0b 8.2%,#fffa00 8.9%,#ffcc00 11.1%,#ffb300 13.3%,#ffb200 15.5%,#ffc700 17.7%,#fff800 20.3%,#feff01 20.6%,#9bff64 24.1%,#16ffe9 28.5%,#00fdff 29.5%,#00caff 32.0%,#00b3ff 34.2%,#00b2ff 36.4%,#00c9ff 38.7%,#00f5ff 40.9%,#06fff9 41.5%,#2affd5 43.1%,#53ffac 45.9%,#6eff91 49.7%,#7cff83 56.4%,#81ff7e 93.2%,#8fff70 99.8%)"></i><i style="top:64px;background:linear-gradient(90deg,#8eff71 0.0%,#a7ff58 4.1%,#cbff34 7.0%,#f1ff0e 8.9%,#ffff00 9.5%,#ffd700 11.7%,#ffc400 13.9%,#ffc700 16.2%,#ffdf00 18.4%,#fbff04 20.3%,#a2ff5d 23.8%,#1effe1 28.5%,#01fffe 29.8%,#00d4ff 32.3%,#00c3ff 34.5%,#00c8ff 36.8%,#00e2ff 39.0%,#02fffd 40.6%,#31ffce 42.8%,#59ffa6 45.9%,#71ff8e 50.1%,#7dff82 57.7%,#7fff80 90.9%,#8cff73 99.5%,#8dff72 99.8%)"></i><i style="top:65px;background:linear-gradient(90deg,#8cff73 0.0%,#a5ff5a 4.4%,#c9ff36 7.6%,#f3ff0c 9.8%,#ffff00 10.5%,#ffdf00 12.7%,#ffd400 14.9%,#ffde00 17.1%,#fdff02 19.6%,#b8ff47 22.8%,#26ffd9 28.5%,#00feff 30.4%,#00ddff 33.0%,#00d4ff 35.2%,#00e1ff 37.4%,#02fffd 39.6%,#33ffcc 42.1%,#58ffa7 45.3%,#72ff8d 49.7%,#7dff82 57.7%,#7eff81 87.8%,#89ff76 98.9%,#8cff73 99.8%)"></i><i style="top:66px;background:linear-gradient(90deg,#8bff74 0.0%,#a2ff5d 4.8%,#c7ff38 8.2%,#fffe00 11.7%,#ffe900 13.9%,#ffe800 16.2%,#fcff03 19.0%,#c8ff37 21.9%,#27ffd8 28.8%,#01fffe 31.1%,#00e8ff 33.6%,#00e8ff 35.8%,#01fffe 38.3%,#3affc5 41.8%,#5effa1 45.3%,#74ff8b 50.1%,#7dff82 59.3%,#7cff83 84.6%,#88ff77 98.9%,#8aff75 99.8%)"></i><i style="top:67px;background:linear-gradient(90deg,#89ff76 0.0%,#a0ff5f 5.1%,#c7ff38 9.2%,#fcff03 13.0%,#fff700 15.8%,#fdff02 17.7%,#d9ff26 20.6%,#85ff7a 24.7%,#2affd5 29.2%,#03fffc 32.0%,#00f7ff 34.9%,#02fffd 36.8%,#23ffdc 39.3%,#51ffae 43.1%,#6dff92 47.5%,#7bff84 54.5%,#7aff85 83.7%,#88ff77 99.5%,#89ff76 99.8%)"></i><i style="top:68px;background:linear-gradient(90deg,#88ff77 0.0%,#9dff62 5.4%,#c3ff3c 9.8%,#efff10 13.6%,#f6ff09 16.2%,#e7ff18 18.7%,#bbff44 21.9%,#37ffc8 28.8%,#14ffeb 31.7%,#08fff7 34.2%,#14ffeb 36.8%,#50ffaf 42.1%,#6dff92 46.9%,#7bff84 54.2%,#78ff87 81.7%,#87ff78 99.8%)"></i><i style="top:69px;background:linear-gradient(90deg,#87ff78 0.0%,#9cff63 6.0%,#c6ff39 11.4%,#e3ff1c 14.6%,#e5ff1a 17.1%,#ceff31 20.0%,#95ff6a 23.8%,#3bffc4 29.2%,#1effe1 32.0%,#19ffe6 34.5%,#29ffd6 37.1%,#5affa5 42.5%,#73ff8c 47.8%,#7cff83 56.7%,#75ff8a 79.5%,#86ff79 99.8%)"></i><i style="top:70px;background:linear-gradient(90deg,#86ff79 0.0%,#9bff64 6.7%,#d7ff28 15.5%,#d3ff2c 18.1%,#b6ff49 21.2%,#43ffbc 29.2%,#2bffd4 32.0%,#29ffd6 34.5%,#67ff98 44.0%,#79ff86 50.7%,#79ff86 63.4%,#72ff8d 78.3%,#85ff7a 99.8%)"></i><i style="top:71px;background:linear-gradient(90deg,#85ff7a 0.0%,#9aff65 7.3%,#c9ff36 16.2%,#c2ff3d 19.0%,#a0ff5f 22.5%,#4bffb4 29.2%,#37ffc8 32.3%,#3bffc4 35.2%,#6cff93 44.4%,#7bff84 52.0%,#75ff8a 65.6%,#6fff90 77.9%,#84ff7b 99.8%)"></i><i style="top:72px;background:linear-gradient(90deg,#84ff7b 0.0%,#98ff67 7.9%,#bbff44 16.5%,#b6ff49 19.3%,#95ff6a 23.1%,#53ffac 29.2%,#44ffbb 32.3%,#4fffb0 36.8%,#72ff8d 45.6%,#7cff83 55.1%,#6bff94 76.7%,#84ff7b 99.8%)"></i><i style="top:73px;background:linear-gradient(90deg,#83ff7c 0.0%,#97ff68 8.9%,#afff50 16.5%,#a9ff56 20.0%,#82ff7d 24.7%,#57ffa8 29.8%,#50ffaf 33.3%,#65ff9a 40.2%,#79ff86 48.5%,#78ff87 59.9%,#66ff99 75.4%,#83ff7c 99.8%)"></i><i style="top:74px;background:linear-gradient(90deg,#82ff7d 0.0%,#98ff67 10.5%,#a6ff59 17.1%,#9bff64 21.2%,#61ff9e 29.5%,#59ffa6 33.9%,#79ff86 48.2%,#78ff87 59.3%,#60ff9f 74.8%,#6eff91 84.9%,#82ff7d 99.8%)"></i><i style="top:75px;background:linear-gradient(90deg,#82ff7d 0.0%,#9eff61 17.1%,#92ff6d 21.9%,#65ff9a 30.1%,#62ff9d 35.2%,#7aff85 48.8%,#76ff89 59.6%,#59ffa6 74.1%,#63ff9c 81.7%,#7cff83 94.7%,#81ff7e 99.8%)"></i><i style="top:76px;background:linear-gradient(90deg,#81ff7e 0.0%,#98ff67 17.4%,#8aff75 22.8%,#6aff95 30.4%,#69ff96 36.4%,#7bff84 49.7%,#73ff8c 60.2%,#51ffae 73.8%,#58ffa7 80.2%,#79ff86 92.8%,#81ff7e 99.8%)"></i><i style="top:77px;background:linear-gradient(90deg,#80ff7f 0.0%,#94ff6b 17.4%,#84ff7b 23.8%,#6cff93 31.4%,#72ff8d 39.6%,#7bff84 52.0%,#6fff90 61.2%,#47ffb8 73.2%,#4bffb4 78.6%,#76ff89 91.9%,#80ff7f 99.8%)"></i><i style="top:78px;background:linear-gradient(90deg,#80ff7f 0.0%,#90ff6f 17.7%,#7cff83 26.0%,#6fff90 33.3%,#7bff84 51.6%,#6eff91 60.2%,#3bffc4 73.2%,#3dffc2 77.9%,#73ff8c 91.3%,#7fff80 99.8%)"></i><i style="top:79px;background:linear-gradient(90deg,#7fff80 0.0%,#8cff73 18.1%,#72ff8d 33.0%,#7bff84 52.0%,#6cff93 59.9%,#42ffbd 68.1%,#2bffd4 73.5%,#2fffd0 77.9%,#6dff92 90.3%,#7fff80 99.5%,#7fff80 99.8%)"></i><i style="top:80px;background:linear-gradient(90deg,#7fff80 0.0%,#8aff75 18.4%,#75ff8a 33.6%,#7aff85 52.0%,#6cff93 59.3%,#48ffb7 65.6%,#1dffe2 72.2%,#17ffe8 76.0%,#2bffd4 80.5%,#64ff9b 89.0%,#7aff85 96.0%,#7eff81 99.8%)"></i><i style="top:81px;background:linear-gradient(90deg,#7eff81 0.0%,#87ff78 18.7%,#77ff88 34.2%,#7aff85 52.0%,#6aff95 58.9%,#48ffb7 64.3%,#09fff6 71.9%,#00feff 75.1%,#09fff6 78.3%,#5effa1 88.7%,#76ff89 94.7%,#7eff81 99.8%)"></i><i style="top:82px;background:linear-gradient(90deg,#7dff82 0.0%,#86ff79 19.0%,#78ff87 35.2%,#7aff85 52.0%,#69ff96 58.3%,#49ffb6 63.1%,#00feff 70.0%,#00e2ff 73.5%,#00e1ff 76.4%,#00f9ff 79.5%,#03fffc 80.5%,#50ffaf 87.8%,#6eff91 92.8%,#7dff82 99.8%)"></i><i style="top:83px;background:linear-gradient(90deg,#7dff82 0.0%,#84ff7b 19.3%,#7aff85 36.4%,#79ff86 52.0%,#67ff98 58.0%,#46ffb9 62.4%,#00fcff 68.1%,#00d0ff 71.3%,#00bdff 74.1%,#00c2ff 77.0%,#00ddff 79.8%,#00feff 82.1%,#47ffb8 87.8%,#68ff97 92.2%,#7bff84 98.5%,#7dff82 99.8%)"></i><i style="top:84px;background:linear-gradient(90deg,#7cff83 0.0%,#83ff7c 19.6%,#7bff84 38.0%,#78ff87 52.0%,#65ff9a 57.7%,#43ffbc 61.8%,#08fff7 65.9%,#00fcff 66.5%,#00c3ff 69.7%,#00a3ff 72.6%,#009bff 75.4%,#00aaff 78.3%,#00cfff 81.1%,#00ffff 83.7%,#3dffc2 87.8%,#63ff9c 91.9%,#78ff87 97.3%,#7cff83 99.8%)"></i><i style="top:85px;background:linear-gradient(90deg,#7cff83 0.0%,#82ff7d 19.6%,#7cff83 40.2%,#78ff87 52.0%,#64ff9b 57.4%,#41ffbe 61.2%,#0afff5 64.6%,#00fcff 65.3%,#00b3ff 68.8%,#008bff 71.6%,#007bff 74.1%,#007eff 76.7%,#0098ff 79.5%,#00ceff 82.7%,#00ffff 84.9%,#3affc5 88.4%,#5effa1 91.9%,#75ff8a 96.6%,#7bff84 99.8%)"></i><i style="top:86px;background:linear-gradient(90deg,#7bff84 0.0%,#82ff7d 19.3%,#79ff86 51.0%,#66ff99 56.4%,#47ffb8 59.9%,#16ffe9 63.1%,#02fffd 64.0%,#00a1ff 68.1%,#0073ff 71.0%,#005dff 73.5%,#005bff 76.0%,#006dff 78.6%,#0098ff 81.4%,#00e4ff 84.9%,#00fcff 85.9%,#3dffc2 89.4%,#61ff9e 92.8%,#76ff89 97.6%,#7bff84 99.8%)"></i><i style="top:87px;background:linear-gradient(90deg,#7aff85 0.0%,#82ff7d 18.4%,#79ff86 50.4%,#68ff97 55.4%,#4bffb4 58.9%,#1effe1 61.8%,#02fffd 63.1%,#0092ff 67.5%,#005eff 70.3%,#0043ff 72.9%,#003bff 75.4%,#0049ff 77.9%,#006fff 80.8%,#00b2ff 84.0%,#00fcff 86.8%,#37ffc8 89.7%,#5cffa3 92.8%,#74ff8b 97.3%,#7aff85 99.8%)"></i><i style="top:88px;background:linear-gradient(90deg,#7aff85 0.0%,#81ff7e 17.1%,#79ff86 50.1%,#67ff98 55.1%,#4bffb4 58.3%,#23ffdc 60.8%,#00fbff 62.4%,#0086ff 66.9%,#004cff 69.7%,#002bff 72.2%,#001eff 74.8%,#0027ff 77.3%,#0044ff 79.8%,#007aff 82.7%,#00dbff 86.5%,#00ffff 87.8%,#2cffd3 89.7%,#54ffab 92.5%,#6fff90 96.3%,#79ff86 99.8%)"></i><i style="top:89px;background:linear-gradient(90deg,#79ff86 0.0%,#81ff7e 15.2%,#79ff86 49.4%,#69ff96 54.5%,#4cffb3 57.7%,#23ffdc 60.2%,#02fffd 61.5%,#0074ff 66.5%,#0032ff 69.7%,#0010ff 72.2%,#0003ff 74.8%,#000cff 77.3%,#002aff 79.8%,#0061ff 82.7%,#00c4ff 86.5%,#00fcff 88.4%,#37ffc8 90.9%,#5cffa3 93.8%,#74ff8b 97.9%,#79ff86 99.8%)"></i><i style="top:90px;background:linear-gradient(90deg,#78ff87 0.0%,#81ff7e 13.6%,#7aff85 48.8%,#6aff95 53.9%,#4effb1 57.0%,#23ffdc 59.6%,#01fffe 60.8%,#0065ff 66.2%,#001fff 69.4%,#0000fd 71.6%,#0000ea 74.1%,#0000ee 76.7%,#0003ff 78.9%,#0034ff 81.7%,#008aff 85.2%,#00fbff 89.0%,#18ffe7 90.0%,#43ffbc 92.2%,#62ff9d 95.1%,#77ff88 99.5%,#78ff87 99.8%)"></i><i style="top:91px;background:linear-gradient(90deg,#78ff87 0.0%,#80ff7f 12.0%,#7aff85 48.5%,#6aff95 53.5%,#4cffb3 56.7%,#25ffda 58.9%,#02fffd 60.2%,#0050ff 66.2%,#0009ff 69.4%,#0000f8 70.3%,#0000da 72.9%,#0000d2 75.4%,#0000e1 77.9%,#0000ff 80.2%,#003bff 83.0%,#00a4ff 86.8%,#00fbff 89.7%,#2fffd0 91.6%,#56ffa9 94.1%,#70ff8f 97.6%,#77ff88 99.8%)"></i><i style="top:92px;background:linear-gradient(90deg,#77ff88 0.0%,#80ff7f 10.8%,#7bff84 47.8%,#6bff94 52.9%,#4fffb0 56.1%,#29ffd6 58.3%,#05fffa 59.6%,#00f0ff 60.2%,#004eff 65.6%,#0001ff 68.8%,#0000d2 71.6%,#0000bf 74.1%,#0000c3 76.7%,#0000dc 79.2%,#0000fd 81.1%,#0030ff 83.3%,#00a5ff 87.5%,#00feff 90.3%,#2cffd3 91.9%,#51ffae 94.1%,#6cff93 97.3%,#76ff89 99.8%)"></i><i style="top:93px;background:linear-gradient(90deg,#76ff89 0.0%,#80ff7f 9.8%,#7bff84 47.5%,#6bff94 52.6%,#52ffad 55.4%,#2dffd2 57.7%,#00ffff 59.3%,#0046ff 65.3%,#0005ff 67.8%,#0000f6 68.4%,#0000c5 71.3%,#0000af 73.8%,#0000af 76.4%,#0000c6 78.9%,#0000f8 81.7%,#0000ff 82.1%,#005bff 85.6%,#00f9ff 90.6%,#04fffb 90.9%,#30ffcf 92.5%,#54ffab 94.7%,#6eff91 97.9%,#76ff89 99.8%)"></i><i style="top:94px;background:linear-gradient(90deg,#75ff8a 0.0%,#7fff80 8.9%,#7bff84 47.2%,#6bff94 52.3%,#52ffad 55.1%,#2bffd4 57.4%,#06fff9 58.6%,#00f1ff 59.3%,#0037ff 65.3%,#0005ff 67.2%,#0000f5 67.8%,#0000be 70.7%,#0000a3 73.2%,#00009e 75.7%,#0000b0 78.3%,#0000d6 80.8%,#0000ff 82.7%,#0060ff 86.2%,#00ffff 91.3%,#2effd1 92.8%,#54ffab 95.1%,#6eff91 98.2%,#75ff8a 99.8%)"></i><i style="top:95px;background:linear-gradient(90deg,#75ff8a 0.0%,#7fff80 8.2%,#7bff84 46.9%,#6cff93 52.0%,#52ffad 54.8%,#2affd5 57.0%,#04fffb 58.3%,#00d1ff 59.9%,#002aff 65.3%,#0000ff 66.9%,#0000c2 69.7%,#00009f 72.2%,#000091 74.8%,#00009a 77.3%,#0000b9 79.8%,#0000f3 82.7%,#0003ff 83.3%,#0070ff 87.1%,#00fdff 91.6%,#34ffcb 93.5%,#58ffa7 95.7%,#70ff8f 98.9%,#74ff8b 99.8%)"></i><i style="top:96px;background:linear-gradient(90deg,#74ff8b 0.0%,#7fff80 7.6%,#7bff84 46.6%,#6cff93 51.6%,#52ffad 54.5%,#31ffce 56.4%,#03fffc 58.0%,#0020ff 65.3%,#0000fd 66.5%,#0000be 69.4%,#000099 71.9%,#000089 74.5%,#00008f 77.0%,#0000ab 79.5%,#0000e2 82.4%,#0002ff 83.7%,#0079ff 87.8%,#00fcff 91.9%,#3affc5 94.1%,#5cffa3 96.3%,#73ff8c 99.8%)"></i><i style="top:97px;background:linear-gradient(90deg,#73ff8c 0.0%,#7eff81 7.3%,#7cff83 46.3%,#6dff92 51.3%,#53ffac 54.2%,#32ffcd 56.1%,#03fffc 57.7%,#009fff 60.8%,#0010ff 65.6%,#0000fe 66.2%,#0000be 69.1%,#000096 71.6%,#000084 74.1%,#000087 76.7%,#0000a0 79.2%,#0000d4 82.1%,#0003ff 84.0%,#0085ff 88.4%,#00fcff 92.2%,#3bffc4 94.4%,#5cffa3 96.6%,#72ff8d 99.8%)"></i><i style="top:98px;background:linear-gradient(90deg,#72ff8d 0.0%,#7eff81 6.7%,#7cff83 45.9%,#6eff91 51.0%,#55ffaa 53.9%,#33ffcc 55.8%,#05fffa 57.4%,#00f1ff 58.0%,#001dff 65.0%,#0003ff 65.9%,#0000b4 69.4%,#000090 71.9%,#000080 74.5%,#000086 77.0%,#0000a1 79.5%,#0000d7 82.4%,#0000fd 84.0%,#0058ff 87.1%,#00feff 92.5%,#3dffc2 94.7%,#5effa1 97.0%,#72ff8d 99.8%)"></i><i style="top:99px;background:linear-gradient(90deg,#72ff8d 0.0%,#7eff81 6.3%,#7cff83 45.9%,#6dff92 51.0%,#52ffad 53.9%,#34ffcb 55.4%,#00fdff 57.4%,#001aff 65.0%,#0001ff 65.9%,#0000b9 69.1%,#000090 71.9%,#000081 74.5%,#000087 77.0%,#0000a1 79.5%,#0000d6 82.4%,#0000fb 84.0%,#0015ff 84.9%,#00c8ff 90.9%,#02fffd 92.8%,#3fffc0 95.1%,#5fffa0 97.3%,#71ff8e 99.8%)"></i><i style="top:100px;background:linear-gradient(90deg,#71ff8e 0.0%,#7eff81 6.0%,#7cff83 45.6%,#6eff91 50.7%,#54ffab 53.5%,#37ffc8 55.1%,#03fffc 57.0%,#0012ff 65.3%,#0002ff 65.9%,#0000b6 69.4%,#000091 72.2%,#000084 74.8%,#00008c 77.3%,#0000a9 79.8%,#0000de 82.7%,#0000fc 84.0%,#0026ff 85.6%,#00fcff 92.8%,#41ffbe 95.4%,#61ff9e 97.6%,#70ff8f 99.8%)"></i><i style="top:101px;background:linear-gradient(90deg,#71ff8e 0.0%,#7eff81 6.0%,#7cff83 45.6%,#6dff92 50.7%,#56ffa9 53.2%,#3affc5 54.8%,#00feff 57.0%,#001dff 65.0%,#0000fc 66.2%,#0000bc 69.4%,#000097 72.2%,#00008b 74.8%,#000093 77.3%,#0000b4 80.2%,#0000f1 83.3%,#0000ff 84.0%,#0078ff 88.4%,#03fffc 93.2%,#44ffbb 95.7%,#62ff9d 97.9%,#70ff8f 99.8%)"></i><i style="top:102px;background:linear-gradient(90deg,#70ff8f 0.0%,#7dff82 5.7%,#7cff83 45.3%,#6fff90 50.4%,#55ffaa 53.2%,#37ffc8 54.8%,#00fcff 57.0%,#0022ff 65.0%,#0004ff 66.2%,#0000e1 67.8%,#0000b2 70.7%,#000099 73.5%,#000097 76.0%,#0000ac 78.9%,#0000d7 81.7%,#0000fe 83.7%,#0069ff 87.8%,#01fffe 93.2%,#48ffb7 96.0%,#64ff9b 98.2%,#6fff90 99.8%)"></i><i style="top:103px;background:linear-gradient(90deg,#70ff8f 0.0%,#7dff82 5.7%,#7cff83 45.3%,#6eff91 50.4%,#58ffa7 52.9%,#3cffc3 54.5%,#00fcff 57.0%,#002aff 65.0%,#0000fe 66.9%,#0000c7 70.0%,#0000aa 72.9%,#0000a4 75.7%,#0000b5 78.6%,#0000dc 81.4%,#0002ff 83.3%,#0065ff 87.5%,#00ffff 93.2%,#4cffb3 96.3%,#69ff96 98.9%,#6fff90 99.8%)"></i><i style="top:104px;background:linear-gradient(90deg,#70ff8f 0.0%,#7dff82 5.7%,#7cff83 45.3%,#6eff91 50.4%,#58ffa7 52.9%,#33ffcc 54.8%,#00fdff 57.0%,#0034ff 65.0%,#0000fe 67.5%,#0000ce 70.7%,#0000b7 73.5%,#0000b6 76.4%,#0000cb 79.2%,#0002ff 82.7%,#005dff 86.8%,#01fffe 93.2%,#50ffaf 96.6%,#6bff94 99.2%,#6fff90 99.8%)"></i><i style="top:105px;background:linear-gradient(90deg,#70ff8f 0.0%,#7dff82 5.7%,#7cff83 45.6%,#6eff91 50.4%,#57ffa8 52.9%,#1effe1 55.8%,#00ffff 57.0%,#0041ff 65.0%,#0004ff 68.1%,#0000f4 69.1%,#0000d1 72.2%,#0000c7 75.1%,#0000d2 77.9%,#0000f6 81.1%,#0001ff 81.7%,#004bff 85.6%,#00fbff 92.8%,#12ffed 93.8%,#55ffaa 97.0%,#6dff92 99.5%,#6fff90 99.8%)"></i><i style="top:106px;background:linear-gradient(90deg,#70ff8f 0.0%,#7dff82 5.7%,#7cff83 45.6%,#6fff90 50.4%,#58ffa7 52.9%,#00fcff 57.4%,#0050ff 65.0%,#000dff 68.8%,#0000fc 70.0%,#0000e2 73.2%,#0000df 76.0%,#0000f3 79.2%,#0002ff 80.5%,#003aff 84.0%,#00a7ff 89.0%,#00ffff 92.8%,#55ffaa 97.0%,#6eff91 99.5%,#6fff90 99.8%)"></i><i style="top:107px;background:linear-gradient(90deg,#71ff8e 0.0%,#7dff82 5.7%,#7cff83 45.6%,#6fff90 50.4%,#58ffa7 52.9%,#03fffc 57.4%,#00b0ff 61.2%,#004bff 66.2%,#0018ff 69.7%,#0000fe 72.6%,#0000f8 75.7%,#0004ff 78.3%,#002aff 81.7%,#0071ff 85.9%,#00feff 92.5%,#5affa5 97.3%,#70ff8f 99.8%)"></i><i style="top:108px;background:linear-gradient(90deg,#71ff8e 0.0%,#7eff81 5.7%,#7cff83 45.9%,#6eff91 50.7%,#5affa5 52.9%,#00fdff 58.0%,#0070ff 65.3%,#0038ff 69.1%,#001aff 72.6%,#0014ff 75.7%,#0023ff 78.9%,#004aff 82.4%,#0095ff 86.8%,#00ffff 92.2%,#5bffa4 97.3%,#70ff8f 99.8%)"></i><i style="top:109px;background:linear-gradient(90deg,#72ff8d 0.0%,#7eff81 6.0%,#7cff83 46.3%,#6dff92 51.0%,#57ffa8 53.2%,#02fffd 58.3%,#007cff 65.9%,#004aff 70.0%,#0034ff 73.5%,#0036ff 77.0%,#004eff 80.5%,#0083ff 84.6%,#00fdff 91.6%,#61ff9e 97.6%,#71ff8e 99.8%)"></i><i style="top:110px;background:linear-gradient(90deg,#73ff8c 0.0%,#7eff81 6.7%,#7cff83 46.6%,#6eff91 51.0%,#59ffa6 53.2%,#00fcff 59.3%,#0095ff 65.9%,#0068ff 70.0%,#0054ff 73.8%,#0057ff 77.3%,#0072ff 81.1%,#00a9ff 85.6%,#00feff 90.9%,#5fffa0 97.3%,#72ff8d 99.8%)"></i><i style="top:111px;background:linear-gradient(90deg,#74ff8b 0.0%,#7fff80 7.0%,#7cff83 46.9%,#6eff91 51.3%,#51ffae 54.2%,#00fdff 60.2%,#00a8ff 66.5%,#0082ff 71.0%,#0075ff 74.8%,#007fff 78.6%,#00a0ff 82.7%,#00ecff 88.7%,#00ffff 90.0%,#62ff9d 97.3%,#74ff8b 99.8%)"></i><i style="top:112px;background:linear-gradient(90deg,#76ff89 0.0%,#7fff80 7.9%,#7cff83 47.2%,#6eff91 51.6%,#36ffc9 57.0%,#00feff 61.5%,#00bdff 67.5%,#00a0ff 71.9%,#009aff 76.0%,#00aaff 80.2%,#00d7ff 85.2%,#01fffe 88.7%,#65ff9a 97.3%,#75ff8a 99.8%)"></i><i style="top:113px;background:linear-gradient(90deg,#77ff88 0.0%,#7fff80 9.5%,#7cff83 47.8%,#6dff92 52.3%,#14ffeb 61.5%,#00fdff 63.7%,#00d0ff 69.4%,#00c0ff 74.1%,#00c8ff 78.9%,#00e8ff 84.0%,#03fffc 86.8%,#6cff93 97.6%,#77ff88 99.8%)"></i><i style="top:114px;background:linear-gradient(90deg,#79ff86 0.0%,#7fff80 12.7%,#7cff83 48.5%,#6fff90 52.6%,#01fffe 67.2%,#00e9ff 72.9%,#00eaff 77.9%,#02fffd 83.0%,#73ff8c 98.2%,#78ff87 99.8%)"></i><i style="top:115px;background:linear-gradient(90deg,#7aff85 0.0%,#80ff7f 21.2%,#7bff84 49.7%,#69ff96 54.5%,#1effe1 68.1%,#10ffef 74.5%,#19ffe6 80.5%,#41ffbe 88.7%,#77ff88 98.5%,#7aff85 99.8%)"></i><i style="top:116px;background:linear-gradient(90deg,#7cff83 0.0%,#7dff82 49.4%,#6aff95 56.7%,#3effc1 69.7%,#3affc5 77.3%,#4fffb0 86.2%,#7cff83 99.5%,#7cff83 99.8%)"></i><i style="top:117px;background:linear-gradient(90deg,#7eff81 0.0%,#7cff83 52.6%,#63ff9c 73.2%,#6bff94 86.2%,#7eff81 99.8%)"></i><i style="top:118px;background:linear-gradient(90deg,#80ff7f 0.0%,#83ff7c 56.4%,#8bff74 78.9%,#80ff7f 99.8%)"></i><i style="top:119px;background:linear-gradient(90deg,#82ff7d 0.0%,#83ff7c 50.7%,#b3ff4c 71.0%,#b2ff4d 79.8%,#82ff7d 99.8%)"></i><i style="top:120px;background:linear-gradient(90deg,#84ff7b 0.0%,#80ff7f 32.6%,#85ff7a 50.7%,#abff54 59.6%,#d6ff29 69.4%,#deff21 76.0%,#cfff30 83.0%,#86ff79 98.9%,#84ff7b 99.8%)"></i><i style="top:121px;background:linear-gradient(90deg,#86ff79 0.0%,#80ff7f 14.9%,#83ff7c 48.8%,#91ff6e 52.9%,#f4ff0b 67.8%,#fffc00 71.3%,#fff800 76.7%,#fbff04 80.8%,#cdff32 88.4%,#8bff74 98.2%,#86ff79 99.8%)"></i><i style="top:122px;background:linear-gradient(90deg,#87ff78 0.0%,#80ff7f 10.5%,#83ff7c 48.2%,#91ff6e 52.3%,#fffd00 65.0%,#ffd800 70.7%,#ffcf00 75.4%,#ffdc00 80.2%,#fdff02 85.6%,#90ff6f 97.9%,#88ff77 99.8%)"></i><i style="top:123px;background:linear-gradient(90deg,#89ff76 0.0%,#80ff7f 8.6%,#83ff7c 47.5%,#92ff6d 52.0%,#d6ff29 58.6%,#fffc00 62.4%,#ffc200 68.4%,#ffab00 72.9%,#ffac00 77.3%,#ffc300 81.7%,#fdff02 88.1%,#98ff67 97.3%,#89ff76 99.8%)"></i><i style="top:124px;background:linear-gradient(90deg,#8aff75 0.0%,#80ff7f 7.3%,#83ff7c 46.9%,#90ff6f 51.3%,#b3ff4c 54.8%,#ffff00 60.5%,#ffad00 67.2%,#ff8c00 71.6%,#ff8400 75.7%,#ff9400 79.8%,#ffc000 84.6%,#fdff02 89.7%,#9cff63 97.3%,#8bff74 99.8%)"></i><i style="top:125px;background:linear-gradient(90deg,#8bff74 0.0%,#81ff7e 6.7%,#83ff7c 46.6%,#92ff6d 51.3%,#adff52 53.9%,#fffd00 59.6%,#ff9c00 66.2%,#ff7200 70.3%,#ff6100 74.1%,#ff6700 77.9%,#ff8700 82.1%,#ffc900 87.1%,#ffff00 90.6%,#9fff60 97.3%,#8cff73 99.8%)"></i><i style="top:126px;background:linear-gradient(90deg,#8cff73 0.0%,#81ff7e 6.3%,#83ff7c 46.3%,#92ff6d 51.0%,#a7ff58 53.2%,#ffff00 58.6%,#ff8600 65.9%,#ff5600 70.0%,#ff4100 73.5%,#ff4300 77.0%,#ff5a00 80.5%,#ff8c00 84.6%,#fcff03 91.6%,#a1ff5e 97.3%,#8dff72 99.8%)"></i><i style="top:127px;background:linear-gradient(90deg,#8dff72 0.0%,#81ff7e 6.0%,#83ff7c 45.9%,#91ff6e 50.7%,#a5ff5a 52.9%,#feff01 58.0%,#ff6e00 65.9%,#ff3c00 69.7%,#ff2300 73.2%,#ff2200 76.4%,#ff3700 79.8%,#ff6600 83.7%,#ffcc00 89.4%,#fffd00 91.9%,#9fff60 97.6%,#8eff71 99.8%)"></i><i style="top:128px;background:linear-gradient(90deg,#8eff71 0.0%,#82ff7d 5.7%,#83ff7c 45.6%,#90ff6f 50.4%,#a6ff59 52.9%,#fffe00 57.7%,#ff6400 65.3%,#ff2900 69.1%,#ff0b00 72.2%,#ff0300 75.4%,#ff1100 78.6%,#ff3700 82.1%,#ff7e00 86.2%,#fdff02 92.5%,#a4ff5b 97.3%,#8fff70 99.8%)"></i><i style="top:129px;background:linear-gradient(90deg,#8eff71 0.0%,#82ff7d 5.7%,#83ff7c 45.6%,#90ff6f 50.4%,#a7ff58 52.9%,#fffe00 57.4%,#ff5100 65.3%,#ff1200 69.1%,#fe0000 70.7%,#e90000 73.8%,#eb0000 76.7%,#ff0000 79.5%,#ff3100 83.0%,#ff8800 87.5%,#fdff02 92.8%,#aaff55 97.0%,#91ff6e 99.5%,#8fff70 99.8%)"></i><i style="top:130px;background:linear-gradient(90deg,#8fff70 0.0%,#82ff7d 5.7%,#83ff7c 45.3%,#90ff6f 50.4%,#a8ff57 52.9%,#efff10 56.4%,#fdff02 57.0%,#ff4000 65.3%,#ff0100 68.8%,#da0000 72.2%,#d00000 75.1%,#db0000 77.9%,#fe0000 81.1%,#ff3600 84.3%,#ffb000 89.7%,#fffc00 92.8%,#aaff55 97.0%,#92ff6d 99.5%,#90ff6f 99.8%)"></i><i style="top:131px;background:linear-gradient(90deg,#8fff70 0.0%,#82ff7d 5.7%,#83ff7c 45.3%,#91ff6e 50.4%,#a8ff57 52.9%,#ccff33 54.8%,#fffe00 57.0%,#ff3900 65.0%,#ff0000 67.8%,#d10000 71.0%,#bd0000 73.8%,#bf0000 76.7%,#d60000 79.5%,#ff0200 82.4%,#ff5200 86.2%,#fdff02 93.2%,#afff50 96.6%,#94ff6b 99.2%,#90ff6f 99.8%)"></i><i style="top:132px;background:linear-gradient(90deg,#8fff70 0.0%,#82ff7d 5.7%,#83ff7c 45.3%,#91ff6e 50.4%,#a7ff58 52.9%,#c4ff3b 54.5%,#fffc00 57.0%,#ff2e00 65.0%,#fc0000 67.2%,#c80000 70.3%,#ae0000 73.2%,#ab0000 76.0%,#be0000 78.9%,#ed0000 82.1%,#ff0000 83.0%,#ff6000 87.1%,#ffff00 93.2%,#b4ff4b 96.3%,#99ff66 98.5%,#90ff6f 99.8%)"></i><i style="top:133px;background:linear-gradient(90deg,#8fff70 0.0%,#82ff7d 5.7%,#83ff7c 45.3%,#90ff6f 50.4%,#abff54 53.2%,#c9ff36 54.8%,#fffc00 57.0%,#ff2500 65.0%,#ff0000 66.5%,#c40000 69.7%,#a40000 72.6%,#9b0000 75.4%,#aa0000 78.3%,#d00000 81.1%,#ff0300 83.7%,#ff7300 88.1%,#ffff00 93.2%,#b2ff4d 96.3%,#96ff69 98.9%,#90ff6f 99.8%)"></i><i style="top:134px;background:linear-gradient(90deg,#8eff71 0.0%,#82ff7d 6.0%,#83ff7c 45.3%,#90ff6f 50.4%,#a9ff56 53.2%,#c6ff39 54.8%,#fffd00 57.0%,#ff1f00 65.0%,#ff0000 66.2%,#bf0000 69.4%,#9b0000 72.2%,#8f0000 74.8%,#970000 77.3%,#b70000 80.2%,#f30000 83.3%,#ff0300 84.0%,#ff7900 88.4%,#fdff02 93.2%,#b6ff49 96.0%,#9aff65 98.2%,#8fff70 99.8%)"></i><i style="top:135px;background:linear-gradient(90deg,#8eff71 0.0%,#82ff7d 6.0%,#83ff7c 45.3%,#90ff6f 50.4%,#a8ff57 53.2%,#c2ff3d 54.8%,#feff01 57.0%,#ff1b00 65.0%,#ff0300 65.9%,#b30000 69.7%,#900000 72.6%,#870000 75.1%,#910000 77.6%,#b50000 80.5%,#f50000 83.7%,#ff0600 84.3%,#ff8b00 89.0%,#fffb00 92.8%,#e9ff16 93.8%,#b9ff46 95.7%,#9cff63 97.9%,#8fff70 99.8%)"></i><i style="top:136px;background:linear-gradient(90deg,#8eff71 0.0%,#81ff7e 6.3%,#83ff7c 45.6%,#91ff6e 50.7%,#aaff55 53.5%,#c5ff3a 55.1%,#f9ff06 57.0%,#fff200 57.7%,#ff1a00 65.0%,#ff0100 65.9%,#ba0000 69.1%,#910000 71.9%,#820000 74.5%,#880000 77.0%,#a20000 79.5%,#d60000 82.4%,#fb0000 84.0%,#ff1500 84.9%,#ffc600 90.9%,#ffff00 92.8%,#bcff43 95.4%,#9eff61 97.6%,#8eff71 99.8%)"></i><i style="top:137px;background:linear-gradient(90deg,#8dff72 0.0%,#81ff7e 6.7%,#83ff7c 45.6%,#90ff6f 50.7%,#a7ff58 53.5%,#c7ff38 55.4%,#fdff02 57.4%,#ff1300 65.3%,#ff0200 65.9%,#b40000 69.4%,#900000 71.9%,#800000 74.5%,#860000 77.0%,#a10000 79.5%,#d60000 82.4%,#fc0000 84.0%,#ff3100 85.9%,#fffb00 92.5%,#d5ff2a 94.1%,#b3ff4c 95.7%,#97ff68 98.2%,#8eff71 99.8%)"></i><i style="top:138px;background:linear-gradient(90deg,#8cff73 0.0%,#81ff7e 7.0%,#83ff7c 45.6%,#91ff6e 51.0%,#a9ff56 53.9%,#c9ff36 55.8%,#ffff00 57.7%,#ff1f00 65.0%,#fc0000 66.2%,#bc0000 69.1%,#950000 71.6%,#820000 74.1%,#860000 76.7%,#9e0000 79.2%,#d20000 82.1%,#ff0000 84.0%,#ff8200 88.4%,#fff900 92.2%,#fbff04 92.5%,#c6ff39 94.4%,#a4ff5b 96.6%,#8dff72 99.8%)"></i><i style="top:139px;background:linear-gradient(90deg,#8cff73 0.0%,#81ff7e 7.3%,#83ff7c 45.9%,#91ff6e 51.3%,#aaff55 54.2%,#caff35 56.1%,#fffe00 58.0%,#ff2600 65.0%,#ff0300 66.2%,#ce0000 68.4%,#9e0000 71.3%,#880000 73.8%,#890000 76.4%,#9f0000 78.9%,#d10000 81.7%,#fe0000 83.7%,#ff5800 86.8%,#fcff03 92.2%,#c7ff38 94.1%,#a5ff5a 96.3%,#8eff71 99.5%,#8cff73 99.8%)"></i><i style="top:140px;background:linear-gradient(90deg,#8bff74 0.0%,#81ff7e 7.9%,#82ff7d 45.9%,#90ff6f 51.3%,#aaff55 54.5%,#d1ff2e 56.7%,#fffe00 58.3%,#ff2f00 65.0%,#ff0400 66.5%,#ec0000 67.5%,#b30000 70.3%,#950000 72.9%,#8d0000 75.4%,#9c0000 77.9%,#c00000 80.5%,#fe0000 83.3%,#ff6200 86.8%,#fcff03 91.9%,#ceff31 93.5%,#a9ff56 95.7%,#90ff6f 98.9%,#8cff73 99.8%)"></i><i style="top:141px;background:linear-gradient(90deg,#8aff75 0.0%,#81ff7e 8.6%,#83ff7c 46.3%,#90ff6f 51.6%,#abff54 54.8%,#d0ff2f 57.0%,#feff01 58.6%,#ff3200 65.3%,#ff0000 67.2%,#c30000 70.0%,#a30000 72.6%,#980000 75.1%,#a40000 77.6%,#c50000 80.2%,#ff0300 83.0%,#ff6e00 86.8%,#fffa00 91.3%,#f0ff0f 91.9%,#c7ff38 93.5%,#a6ff59 95.7%,#8dff72 99.2%,#8bff74 99.8%)"></i><i style="top:142px;background:linear-gradient(90deg,#8aff75 0.0%,#81ff7e 9.2%,#82ff7d 46.3%,#91ff6e 52.0%,#aaff55 55.1%,#cfff30 57.4%,#fbff04 58.9%,#ffe500 59.9%,#ff3f00 65.3%,#fd0000 67.8%,#c70000 70.7%,#ac0000 73.2%,#a70000 75.7%,#b80000 78.3%,#df0000 80.8%,#ff0100 82.4%,#ff5f00 85.9%,#fffd00 90.9%,#ccff33 92.8%,#a9ff56 95.1%,#90ff6f 98.2%,#8aff75 99.8%)"></i><i style="top:143px;background:linear-gradient(90deg,#89ff76 0.0%,#81ff7e 10.1%,#82ff7d 46.3%,#91ff6e 52.3%,#aaff55 55.4%,#cdff32 57.7%,#f6ff09 59.3%,#fffe00 59.6%,#ff4f00 65.3%,#ff0100 68.4%,#cf0000 71.3%,#b90000 73.8%,#ba0000 76.4%,#d00000 78.9%,#fc0000 81.4%,#ff1900 82.7%,#ff7800 86.2%,#fcff03 90.6%,#d1ff2e 92.2%,#acff53 94.4%,#92ff6d 97.6%,#89ff76 99.8%)"></i><i style="top:144px;background:linear-gradient(90deg,#88ff77 0.0%,#81ff7e 11.1%,#82ff7d 46.3%,#8fff70 52.3%,#a9ff56 55.8%,#d0ff2f 58.3%,#faff05 59.9%,#fff100 60.5%,#ff5900 65.6%,#ff0d00 68.8%,#ff0100 69.4%,#d70000 72.2%,#ca0000 74.8%,#d30000 77.3%,#f10000 79.8%,#ff0300 80.8%,#ff4b00 84.0%,#ffd700 88.7%,#fffe00 90.0%,#d4ff2b 91.6%,#afff50 93.8%,#94ff6b 97.0%,#89ff76 99.8%)"></i><i style="top:145px;background:linear-gradient(90deg,#87ff78 0.0%,#81ff7e 12.4%,#82ff7d 46.3%,#8fff70 52.6%,#a8ff57 56.1%,#cdff32 58.6%,#f2ff0d 60.2%,#fcff03 60.5%,#ffb500 63.1%,#ff4d00 66.9%,#ff1000 69.7%,#fc0000 71.0%,#e40000 73.5%,#e10000 76.0%,#f50000 78.6%,#ff0300 79.5%,#ff3900 82.4%,#ff9400 85.9%,#fffd00 89.4%,#d0ff2f 91.3%,#aaff55 93.8%,#90ff6f 97.3%,#88ff77 99.8%)"></i><i style="top:146px;background:linear-gradient(90deg,#87ff78 0.0%,#81ff7e 14.3%,#81ff7e 45.9%,#8fff70 52.9%,#a6ff59 56.4%,#c9ff36 58.9%,#f2ff0d 60.8%,#fff900 61.5%,#ff7300 66.2%,#ff2d00 69.4%,#ff0900 71.9%,#fd0000 73.2%,#f90000 75.7%,#ff0400 77.6%,#ff2500 80.2%,#ff5f00 83.0%,#ffce00 87.1%,#fffd00 88.7%,#ccff33 90.9%,#a9ff56 93.5%,#8fff70 97.3%,#87ff78 99.8%)"></i><i style="top:147px;background:linear-gradient(90deg,#86ff79 0.0%,#81ff7e 17.4%,#80ff7f 45.3%,#8dff72 52.9%,#a5ff5a 56.7%,#c9ff36 59.6%,#f0ff0f 61.5%,#fffc00 62.1%,#ff8300 66.5%,#ff4100 69.7%,#ff2000 72.2%,#ff1300 74.8%,#ff1c00 77.3%,#ff3900 79.8%,#ff7000 82.7%,#ffd200 86.5%,#ffff00 88.1%,#d9ff26 89.7%,#b1ff4e 92.2%,#94ff6b 95.7%,#87ff78 99.8%)"></i><i style="top:148px;background:linear-gradient(90deg,#86ff79 0.0%,#7eff81 40.9%,#89ff76 52.0%,#9eff61 56.4%,#c0ff3f 59.6%,#edff12 62.1%,#feff01 62.7%,#ff8e00 67.2%,#ff5700 70.0%,#ff3900 72.6%,#ff2f00 75.1%,#ff3a00 77.6%,#ff5f00 80.5%,#ffa000 83.7%,#fffb00 87.1%,#ebff14 88.1%,#baff45 90.9%,#99ff66 94.4%,#87ff78 99.5%,#86ff79 99.8%)"></i><i style="top:149px;background:linear-gradient(90deg,#85ff7a 0.0%,#7eff81 41.8%,#89ff76 52.6%,#9fff60 57.0%,#bfff40 60.2%,#f0ff0f 63.1%,#ffff00 63.7%,#ffa300 67.5%,#ff7000 70.3%,#ff5300 73.2%,#ff4e00 75.7%,#ff5e00 78.3%,#ff8600 81.1%,#ffd100 84.6%,#fcff03 86.5%,#cbff34 89.0%,#a5ff5a 92.2%,#8eff71 96.3%,#86ff79 99.8%)"></i><i style="top:150px;background:linear-gradient(90deg,#85ff7a 0.0%,#7eff81 41.5%,#89ff76 52.9%,#9fff60 57.7%,#c2ff3d 61.2%,#f7ff08 64.3%,#feff01 64.6%,#ffa700 68.8%,#ff7f00 71.6%,#ff6e00 74.1%,#ff7100 76.7%,#ff8b00 79.5%,#ffc200 82.7%,#fffc00 85.2%,#c1ff3e 89.0%,#9eff61 92.5%,#89ff76 97.3%,#85ff7a 99.8%)"></i><i style="top:151px;background:linear-gradient(90deg,#84ff7b 0.0%,#7fff80 26.3%,#7eff81 43.7%,#8aff75 53.9%,#a1ff5e 58.6%,#c8ff37 62.4%,#ffff00 65.9%,#ffbb00 69.4%,#ff9900 72.2%,#ff8d00 75.1%,#ff9a00 77.9%,#ffbd00 80.8%,#fdff02 84.3%,#c2ff3d 88.1%,#9eff61 91.9%,#89ff76 97.0%,#85ff7a 99.8%)"></i><i style="top:152px;background:linear-gradient(90deg,#84ff7b 0.0%,#81ff7e 23.8%,#7bff84 38.3%,#87ff78 53.2%,#9cff63 58.6%,#c0ff3f 62.7%,#feff01 67.2%,#ffc600 71.0%,#ffb100 73.8%,#ffb300 76.7%,#ffcb00 79.5%,#fffd00 82.7%,#bcff43 87.8%,#9aff65 91.9%,#87ff78 97.6%,#84ff7b 99.8%)"></i><i style="top:153px;background:linear-gradient(90deg,#84ff7b 0.0%,#83ff7c 22.2%,#7aff85 36.1%,#87ff78 53.5%,#9cff63 59.3%,#c3ff3c 64.0%,#fffe00 69.1%,#ffd900 72.6%,#ffd100 75.4%,#ffdf00 78.3%,#feff01 81.1%,#b5ff4a 87.5%,#95ff6a 92.2%,#85ff7a 98.9%,#84ff7b 99.8%)"></i><i style="top:154px;background:linear-gradient(90deg,#84ff7b 0.0%,#85ff7a 20.9%,#78ff87 34.9%,#87ff78 54.2%,#9dff62 60.2%,#c7ff38 65.6%,#feff01 71.6%,#fff400 75.1%,#fdff02 78.6%,#a6ff59 88.4%,#8dff72 93.8%,#84ff7b 99.8%)"></i><i style="top:155px;background:linear-gradient(90deg,#84ff7b 0.0%,#87ff78 20.0%,#76ff89 33.9%,#88ff77 55.1%,#9fff60 61.5%,#ebff14 72.2%,#f1ff0e 75.7%,#dfff20 79.8%,#9eff61 88.7%,#89ff76 95.1%,#84ff7b 99.8%)"></i><i style="top:156px;background:linear-gradient(90deg,#83ff7c 0.0%,#8aff75 19.3%,#74ff8b 33.0%,#88ff77 56.1%,#a2ff5d 63.1%,#d7ff28 72.2%,#dbff24 76.4%,#c5ff3a 81.4%,#96ff69 89.7%,#85ff7a 97.3%,#84ff7b 99.8%)"></i><i style="top:157px;background:linear-gradient(90deg,#83ff7c 0.0%,#8dff72 18.7%,#71ff8e 32.6%,#8aff75 57.4%,#a5ff5a 65.0%,#c9ff36 72.9%,#c8ff37 77.6%,#8fff70 90.9%,#83ff7c 99.8%)"></i></div><div class="fm" style="left:947.5px;top:67.5px;width:157.8px;height:157.8px"><i style="top:0px;background:linear-gradient(90deg,#80ff7f 0.0%,#90ff6f 17.7%,#7dff82 25.7%,#6fff90 32.6%,#7bff84 52.0%,#6eff91 60.8%,#40ffbf 73.2%,#43ffbc 78.3%,#74ff8b 91.3%,#80ff7f 99.8%)"></i><i style="top:1px;background:linear-gradient(90deg,#80ff7f 0.0%,#94ff6b 17.4%,#84ff7b 23.8%,#6cff93 31.1%,#6fff90 38.3%,#7bff84 51.0%,#70ff8f 60.8%,#4bffb4 73.5%,#50ffaf 79.2%,#77ff88 92.2%,#80ff7f 99.8%)"></i><i style="top:2px;background:linear-gradient(90deg,#81ff7e 0.0%,#99ff66 17.4%,#8aff75 22.8%,#69ff96 30.4%,#68ff97 36.1%,#7bff84 49.4%,#74ff8b 60.2%,#54ffab 73.8%,#5dffa2 80.8%,#7aff85 93.5%,#81ff7e 99.8%)"></i><i style="top:3px;background:linear-gradient(90deg,#82ff7d 0.0%,#99ff66 12.0%,#9fff60 18.1%,#8dff72 22.8%,#65ff9a 29.8%,#60ff9f 34.5%,#7aff85 48.5%,#77ff88 59.6%,#5cffa3 74.5%,#68ff97 83.0%,#7eff81 96.3%,#81ff7e 99.8%)"></i><i style="top:4px;background:linear-gradient(90deg,#82ff7d 0.0%,#98ff67 10.1%,#a8ff57 16.8%,#9eff61 20.9%,#5fffa0 29.5%,#58ffa7 33.9%,#79ff86 47.8%,#79ff86 58.9%,#62ff9d 75.1%,#82ff7d 99.8%)"></i><i style="top:5px;background:linear-gradient(90deg,#83ff7c 0.0%,#98ff67 8.9%,#b1ff4e 16.5%,#acff53 19.6%,#8cff73 23.8%,#57ffa8 29.5%,#4dffb2 32.6%,#5cffa3 38.3%,#76ff89 46.9%,#7aff85 57.7%,#68ff97 75.7%,#83ff7c 99.8%)"></i><i style="top:6px;background:linear-gradient(90deg,#84ff7b 0.0%,#99ff66 7.9%,#beff41 16.5%,#b8ff47 19.3%,#95ff6a 23.1%,#52ffad 29.2%,#41ffbe 32.3%,#4affb5 36.1%,#71ff8e 45.3%,#7cff83 54.2%,#6cff93 77.0%,#84ff7b 99.8%)"></i><i style="top:7px;background:linear-gradient(90deg,#85ff7a 0.0%,#99ff66 7.0%,#ccff33 16.2%,#c4ff3b 19.0%,#a1ff5e 22.5%,#4affb5 29.2%,#34ffcb 32.3%,#38ffc7 35.2%,#6aff95 44.0%,#7aff85 51.3%,#77ff88 64.6%,#70ff8f 77.9%,#85ff7a 99.8%)"></i><i style="top:8px;background:linear-gradient(90deg,#86ff79 0.0%,#9aff65 6.3%,#c9ff36 13.0%,#daff25 15.5%,#d6ff29 18.1%,#b8ff47 21.2%,#42ffbd 29.2%,#29ffd6 32.0%,#26ffd9 34.5%,#41ffbe 38.3%,#68ff97 44.4%,#79ff86 51.0%,#78ff87 64.3%,#74ff8b 79.2%,#86ff79 99.8%)"></i><i style="top:9px;background:linear-gradient(90deg,#87ff78 0.0%,#9dff62 6.0%,#c9ff36 11.4%,#e5ff1a 14.3%,#e9ff16 16.8%,#d4ff2b 19.6%,#a1ff5e 23.1%,#3effc1 28.8%,#1effe1 31.7%,#15ffea 34.2%,#22ffdd 36.8%,#56ffa9 42.1%,#70ff8f 47.2%,#7cff83 55.1%,#76ff89 80.2%,#87ff78 99.8%)"></i><i style="top:10px;background:linear-gradient(90deg,#88ff77 0.0%,#9eff61 5.4%,#c5ff3a 9.8%,#f2ff0d 13.6%,#f9ff06 16.2%,#eaff15 18.7%,#bcff43 21.9%,#36ffc9 28.8%,#11ffee 31.7%,#05fffa 34.2%,#10ffef 36.8%,#4fffb0 42.1%,#6dff92 46.9%,#7bff84 53.9%,#79ff86 82.4%,#88ff77 99.8%)"></i><i style="top:11px;background:linear-gradient(90deg,#89ff76 0.0%,#a1ff5e 5.1%,#c6ff39 8.9%,#fcff03 12.7%,#fff300 15.5%,#fdff02 18.1%,#d5ff2a 20.9%,#69ff96 26.0%,#1dffe2 29.8%,#01fffe 32.0%,#00f3ff 34.5%,#01fffe 37.1%,#46ffb9 42.1%,#67ff98 46.3%,#79ff86 52.0%,#7bff84 65.9%,#7cff83 86.2%,#88ff77 99.5%,#89ff76 99.8%)"></i><i style="top:12px;background:linear-gradient(90deg,#8bff74 0.0%,#a3ff5c 4.8%,#c9ff36 8.2%,#ffff00 11.4%,#ffe700 13.6%,#ffe300 15.8%,#fff300 18.1%,#feff01 19.0%,#caff35 21.9%,#25ffda 28.8%,#00feff 31.1%,#00e5ff 33.6%,#00e4ff 35.8%,#00f8ff 38.0%,#07fff8 39.0%,#38ffc7 41.8%,#5dffa2 45.3%,#74ff8b 50.1%,#7dff82 59.3%,#7cff83 85.6%,#88ff77 98.9%,#8aff75 99.8%)"></i><i style="top:13px;background:linear-gradient(90deg,#8cff73 0.0%,#a6ff59 4.4%,#ccff33 7.6%,#f6ff09 9.8%,#fffb00 10.5%,#ffdb00 12.7%,#ffd000 14.9%,#ffdb00 17.1%,#fffe00 19.6%,#c1ff3e 22.5%,#1dffe2 28.8%,#00fcff 30.4%,#00daff 33.0%,#00d1ff 35.2%,#00ddff 37.4%,#00fdff 39.6%,#35ffca 42.5%,#5affa5 45.6%,#72ff8d 50.1%,#7dff82 58.3%,#7eff81 89.0%,#8aff75 99.2%,#8cff73 99.8%)"></i><i style="top:14px;background:linear-gradient(90deg,#8eff71 0.0%,#a8ff57 4.1%,#cdff32 7.0%,#f5ff0a 8.9%,#fffb00 9.5%,#ffd300 11.7%,#ffc000 13.9%,#ffc300 16.2%,#ffdc00 18.4%,#feff01 20.3%,#a3ff5c 23.8%,#1dffe2 28.5%,#00feff 29.8%,#00d1ff 32.3%,#00bfff 34.5%,#00c4ff 36.8%,#00deff 39.0%,#00fdff 40.6%,#34ffcb 43.1%,#5affa5 46.3%,#72ff8d 50.4%,#7dff82 58.3%,#80ff7f 91.6%,#8cff73 99.5%,#8dff72 99.8%)"></i><i style="top:15px;background:linear-gradient(90deg,#90ff6f 0.0%,#abff54 3.8%,#d4ff2b 6.7%,#fffe00 8.6%,#ffcd00 10.8%,#ffb200 13.0%,#ffad00 15.2%,#ffc000 17.4%,#ffe800 19.6%,#fffe00 20.6%,#a5ff5a 23.8%,#15ffea 28.5%,#00fbff 29.5%,#00c7ff 32.0%,#00afff 34.2%,#00aeff 36.4%,#00c5ff 38.7%,#00f1ff 40.9%,#02fffd 41.5%,#28ffd7 43.1%,#52ffad 45.9%,#6cff93 49.4%,#7bff84 55.4%,#82ff7d 93.8%,#8fff70 99.8%)"></i><i style="top:16px;background:linear-gradient(90deg,#92ff6d 0.0%,#adff52 3.5%,#d3ff2c 6.0%,#faff05 7.6%,#fff200 8.2%,#ffbf00 10.5%,#ffa000 12.7%,#ff9a00 14.6%,#ffa800 16.8%,#ffce00 19.0%,#fffe00 20.9%,#a8ff57 23.8%,#0dfff2 28.5%,#00faff 29.2%,#00bfff 31.7%,#00a1ff 33.9%,#009aff 35.8%,#00a5ff 37.7%,#00c7ff 39.9%,#00ffff 42.1%,#28ffd7 43.7%,#4fffb0 46.3%,#6cff93 49.7%,#7bff84 55.4%,#83ff7c 94.1%,#91ff6e 99.8%)"></i><i style="top:17px;background:linear-gradient(90deg,#94ff6b 0.0%,#afff50 3.2%,#d9ff26 5.7%,#f9ff06 7.0%,#fff100 7.6%,#ffb700 9.8%,#ff9300 12.0%,#ff8700 13.9%,#ff8e00 15.8%,#ffad00 18.1%,#ffe200 20.3%,#fffe00 21.2%,#7dff82 25.0%,#05fffa 28.5%,#00f1ff 29.2%,#00b1ff 31.7%,#0090ff 33.9%,#0087ff 35.8%,#0091ff 37.7%,#00b3ff 39.9%,#00ebff 42.1%,#00ffff 42.8%,#29ffd6 44.4%,#51ffae 46.9%,#6dff92 50.4%,#7cff83 56.4%,#83ff7c 94.1%,#93ff6c 99.8%)"></i><i style="top:18px;background:linear-gradient(90deg,#97ff68 0.0%,#b5ff4a 3.2%,#ddff22 5.4%,#fffc00 6.7%,#ffb200 9.2%,#ff8700 11.4%,#ff7500 13.3%,#ff7800 15.2%,#ff8e00 17.1%,#ffbe00 19.3%,#fdff02 21.5%,#08fff7 28.2%,#00fdff 28.5%,#00b2ff 31.1%,#0087ff 33.3%,#0076ff 35.2%,#0078ff 37.1%,#008dff 39.0%,#00bdff 41.2%,#01fffe 43.4%,#2bffd4 45.0%,#53ffac 47.5%,#6eff91 51.0%,#7cff83 57.0%,#83ff7c 93.8%,#94ff6b 99.5%,#96ff69 99.8%)"></i><i style="top:19px;background:linear-gradient(90deg,#99ff66 0.0%,#b7ff48 2.9%,#e2ff1d 5.1%,#feff01 6.0%,#ffaf00 8.6%,#ff7d00 10.8%,#ff6600 12.7%,#ff6300 14.6%,#ff7400 16.5%,#ffa100 18.7%,#ffee00 21.2%,#fffa00 21.5%,#edff12 22.2%,#01fffe 28.2%,#00a6ff 31.1%,#0077ff 33.3%,#0064ff 35.2%,#0064ff 37.1%,#0079ff 39.0%,#00a9ff 41.2%,#00f9ff 43.7%,#10ffef 44.4%,#3bffc4 46.3%,#5cffa3 48.8%,#73ff8c 52.6%,#7eff81 60.5%,#83ff7c 93.5%,#92ff6d 98.9%,#98ff67 99.8%)"></i><i style="top:20px;background:linear-gradient(90deg,#9cff63 0.0%,#b8ff47 2.5%,#deff21 4.4%,#f8ff07 5.4%,#fffa00 5.7%,#ffa400 8.2%,#ff6f00 10.5%,#ff5500 12.4%,#ff5000 14.3%,#ff6000 16.2%,#ff8500 18.1%,#ffc500 20.3%,#ffff00 21.9%,#07fff8 27.9%,#00faff 28.2%,#00a3ff 30.7%,#006eff 33.0%,#0054ff 34.9%,#0050ff 36.8%,#0061ff 38.7%,#0086ff 40.6%,#00c6ff 42.8%,#00ffff 44.4%,#2cffd3 45.9%,#51ffae 48.2%,#6cff93 51.3%,#7bff84 56.7%,#84ff7b 93.8%,#94ff6b 98.9%,#9aff65 99.8%)"></i><i style="top:21px;background:linear-gradient(90deg,#9fff60 0.0%,#bfff40 2.5%,#e9ff16 4.4%,#fdff02 5.1%,#ff9b00 7.9%,#ff6100 10.1%,#ff4500 12.0%,#ff3d00 13.9%,#ff4c00 15.8%,#ff7000 17.7%,#ffb100 20.0%,#fff800 21.9%,#f9ff06 22.2%,#01fffe 27.9%,#00a2ff 30.4%,#0065ff 32.6%,#0046ff 34.5%,#003dff 36.4%,#0049ff 38.3%,#006bff 40.2%,#00a9ff 42.5%,#00faff 44.7%,#11ffee 45.3%,#3dffc2 47.2%,#5effa1 49.7%,#74ff8b 53.5%,#7eff81 62.1%,#84ff7b 93.2%,#92ff6d 98.2%,#9dff62 99.8%)"></i><i style="top:22px;background:linear-gradient(90deg,#a2ff5d 0.0%,#bfff40 2.2%,#ebff14 4.1%,#fffe00 4.8%,#ff9d00 7.3%,#ff5c00 9.5%,#ff3900 11.4%,#ff2b00 13.3%,#ff3400 15.2%,#ff5300 17.1%,#ff8700 19.0%,#ffd800 21.2%,#ffff00 22.2%,#09fff6 27.6%,#00faff 27.9%,#0097ff 30.4%,#005fff 32.3%,#003aff 34.2%,#002bff 36.1%,#0033ff 38.0%,#0051ff 39.9%,#008cff 42.1%,#00e9ff 44.7%,#04fffb 45.3%,#2fffd0 46.9%,#54ffab 49.1%,#6eff91 52.3%,#7cff83 58.0%,#84ff7b 93.2%,#94ff6b 98.2%,#a0ff5f 99.8%)"></i><i style="top:23px;background:linear-gradient(90deg,#a5ff5a 0.0%,#c6ff39 2.2%,#edff12 3.8%,#fffb00 4.4%,#ff9600 7.0%,#ff5200 9.2%,#ff2b00 11.1%,#ff1a00 13.0%,#ff2100 14.9%,#ff3e00 16.8%,#ff7100 18.7%,#ffc300 20.9%,#fffa00 22.2%,#e7ff18 22.8%,#04fffb 27.6%,#00beff 29.2%,#006dff 31.4%,#003cff 33.3%,#0020ff 35.2%,#001bff 37.1%,#002dff 39.0%,#0055ff 40.9%,#009bff 43.1%,#02fffd 45.6%,#2fffd0 47.2%,#54ffab 49.4%,#6eff91 52.6%,#7cff83 58.3%,#84ff7b 93.2%,#94ff6b 97.9%,#a3ff5c 99.8%)"></i><i style="top:24px;background:linear-gradient(90deg,#a8ff57 0.0%,#ccff33 2.2%,#f7ff08 3.8%,#fffa00 4.1%,#ff8500 7.0%,#ff4000 9.2%,#ff1900 11.1%,#ff0900 13.0%,#ff0e00 14.6%,#ff2a00 16.5%,#ff5c00 18.4%,#ffae00 20.6%,#fff500 22.2%,#faff05 22.5%,#00feff 27.6%,#008fff 30.1%,#004eff 32.0%,#0021ff 33.9%,#000bff 35.8%,#000bff 37.4%,#0021ff 39.3%,#004cff 41.2%,#0096ff 43.4%,#01fffe 45.9%,#2fffd0 47.5%,#55ffaa 49.7%,#6eff91 52.9%,#7cff83 58.6%,#84ff7b 92.8%,#93ff6c 97.6%,#a6ff59 99.8%)"></i><i style="top:25px;background:linear-gradient(90deg,#abff54 0.0%,#ccff33 1.9%,#f7ff08 3.5%,#fffa00 3.8%,#ff8100 6.7%,#ff3700 8.9%,#ff0d00 10.8%,#fd0000 12.0%,#f80000 13.6%,#ff0200 14.9%,#ff2400 16.8%,#ff5c00 18.7%,#ffb400 20.9%,#ffff00 22.5%,#0afff5 27.2%,#00f9ff 27.6%,#0087ff 30.1%,#0043ff 32.0%,#0014ff 33.9%,#0001ff 35.2%,#0000f8 37.1%,#0002ff 38.3%,#0023ff 40.2%,#0058ff 42.1%,#00acff 44.4%,#01fffe 46.3%,#2fffd0 47.8%,#55ffaa 50.1%,#6fff90 53.2%,#7dff82 59.3%,#84ff7b 92.5%,#93ff6c 97.3%,#a9ff56 99.8%)"></i><i style="top:26px;background:linear-gradient(90deg,#aeff51 0.0%,#d2ff2d 1.9%,#fffc00 3.5%,#ff7e00 6.3%,#ff3000 8.6%,#ff0300 10.5%,#e90000 12.7%,#ed0000 14.3%,#ff0300 15.8%,#ff3200 17.7%,#ff7600 19.6%,#ffdb00 21.9%,#fffb00 22.5%,#d1ff2e 23.4%,#06fff9 27.2%,#00e5ff 27.9%,#007eff 30.1%,#0038ff 32.0%,#0006ff 33.9%,#0000fa 34.5%,#0000ea 36.1%,#0000eb 37.7%,#0000fe 39.3%,#0022ff 40.9%,#005eff 42.8%,#00c7ff 45.3%,#02fffd 46.6%,#30ffcf 48.2%,#52ffad 50.1%,#6cff93 52.9%,#7bff84 58.0%,#84ff7b 92.5%,#94ff6b 97.3%,#acff53 99.8%)"></i><i style="top:27px;background:linear-gradient(90deg,#b2ff4d 0.0%,#d8ff27 1.9%,#fffe00 3.2%,#ff6f00 6.3%,#ff2100 8.6%,#ff0000 9.8%,#e40000 11.4%,#da0000 13.0%,#e20000 14.6%,#fc0000 16.2%,#ff1400 17.1%,#ff5400 19.0%,#ffb700 21.2%,#fff700 22.5%,#f6ff09 22.8%,#02fffd 27.2%,#0076ff 30.1%,#002dff 32.0%,#0001ff 33.6%,#0000e0 35.5%,#0000da 37.1%,#0000e5 38.7%,#0003ff 40.2%,#0039ff 42.1%,#008fff 44.4%,#00f5ff 46.6%,#04fffb 46.9%,#32ffcd 48.5%,#53ffac 50.4%,#6dff92 53.2%,#7cff83 58.6%,#85ff7a 92.5%,#96ff69 97.3%,#afff50 99.8%)"></i><i style="top:28px;background:linear-gradient(90deg,#b5ff4a 0.0%,#deff21 1.9%,#fdff02 2.9%,#ff6200 6.3%,#ff1300 8.6%,#ff0100 9.2%,#d90000 11.1%,#cc0000 12.7%,#d20000 14.3%,#e90000 15.8%,#ff0100 16.8%,#ff3f00 18.7%,#ffa100 20.9%,#fff300 22.5%,#f9ff06 22.8%,#00feff 27.2%,#007dff 29.8%,#002fff 31.7%,#0006ff 33.0%,#0000f4 33.6%,#0000d7 35.2%,#0000cc 36.8%,#0000d3 38.3%,#0000ec 39.9%,#0004ff 40.9%,#0042ff 42.8%,#00adff 45.3%,#00f9ff 46.9%,#11ffee 47.5%,#3bffc4 49.1%,#5cffa3 51.3%,#73ff8c 54.8%,#7eff81 62.4%,#84ff7b 91.9%,#93ff6c 96.6%,#adff52 99.5%,#b2ff4d 99.8%)"></i><i style="top:29px;background:linear-gradient(90deg,#b8ff47 0.0%,#dbff24 1.6%,#f9ff06 2.5%,#fff800 2.9%,#ff7000 5.7%,#ff1900 7.9%,#ff0500 8.6%,#f20000 9.2%,#d10000 10.8%,#c10000 12.4%,#c30000 13.9%,#d80000 15.5%,#ff0000 17.1%,#ff4400 19.0%,#ffac00 21.2%,#fcff03 22.8%,#0dfff2 26.9%,#00fbff 27.2%,#0076ff 29.8%,#0026ff 31.7%,#0005ff 32.6%,#0000f2 33.3%,#0000d0 34.9%,#0000c0 36.4%,#0000c3 38.0%,#0000d8 39.6%,#0000ff 41.2%,#0041ff 43.1%,#00b0ff 45.6%,#00fdff 47.2%,#2fffd0 48.8%,#53ffac 50.7%,#6dff92 53.5%,#7bff84 58.6%,#85ff7a 92.2%,#94ff6b 96.6%,#acff53 99.2%,#b5ff4a 99.8%)"></i><i style="top:30px;background:linear-gradient(90deg,#bbff44 0.0%,#e0ff1f 1.6%,#fffd00 2.5%,#ff6500 5.7%,#ff0d00 7.9%,#ff0300 8.2%,#ca0000 10.5%,#b60000 12.0%,#b50000 13.6%,#c70000 15.2%,#ec0000 16.8%,#ff0100 17.4%,#ff4a00 19.3%,#ffb800 21.5%,#ffff00 22.8%,#0bfff4 26.9%,#00f8ff 27.2%,#0070ff 29.8%,#001eff 31.7%,#0007ff 32.3%,#0000fb 32.6%,#0000d1 34.2%,#0000b9 35.8%,#0000b4 37.4%,#0000c2 39.0%,#0000e1 40.6%,#0000fc 41.5%,#001dff 42.5%,#0079ff 44.7%,#00f5ff 47.2%,#03fffc 47.5%,#33ffcc 49.1%,#55ffaa 51.0%,#6eff91 53.9%,#7cff83 59.3%,#84ff7b 91.9%,#95ff6a 96.6%,#aeff51 99.2%,#b8ff47 99.8%)"></i><i style="top:31px;background:linear-gradient(90deg,#beff41 0.0%,#e5ff1a 1.6%,#fbff04 2.2%,#fff600 2.5%,#ff5a00 5.7%,#ff0200 7.9%,#c50000 10.1%,#ae0000 11.7%,#aa0000 13.3%,#b90000 14.9%,#db0000 16.5%,#ff0400 17.7%,#ff5300 19.6%,#ffc600 21.9%,#fffc00 22.8%,#09fff6 26.9%,#00f5ff 27.2%,#006bff 29.8%,#0017ff 31.7%,#0000fe 32.3%,#0000cf 33.9%,#0000b2 35.5%,#0000a9 37.1%,#0000b2 38.7%,#0000ce 40.2%,#0000fb 41.8%,#0012ff 42.5%,#006eff 44.7%,#00fbff 47.5%,#36ffc9 49.4%,#57ffa8 51.3%,#6fff90 54.2%,#7dff82 59.9%,#85ff7a 91.9%,#94ff6b 96.3%,#acff53 98.9%,#baff45 99.8%)"></i><i style="top:32px;background:linear-gradient(90deg,#c1ff3e 0.0%,#eaff15 1.6%,#fffd00 2.2%,#ff5100 5.7%,#ff0300 7.6%,#c10000 9.8%,#a70000 11.4%,#9f0000 13.0%,#ab0000 14.6%,#ca0000 16.2%,#fc0000 17.7%,#ff2200 18.7%,#ff7d00 20.6%,#fffa00 22.8%,#deff21 23.4%,#07fff8 26.9%,#00f3ff 27.2%,#0066ff 29.8%,#0010ff 31.7%,#0004ff 32.0%,#0000d8 33.3%,#0000b3 34.9%,#0000a1 36.4%,#0000a2 38.0%,#0000b7 39.6%,#0000e7 41.5%,#0000fc 42.1%,#0020ff 43.1%,#0083ff 45.3%,#00f5ff 47.5%,#03fffc 47.8%,#33ffcc 49.4%,#55ffaa 51.3%,#6eff91 54.2%,#7cff83 59.6%,#85ff7a 91.9%,#94ff6b 96.3%,#adff52 98.9%,#bdff42 99.8%)"></i><i style="top:33px;background:linear-gradient(90deg,#c3ff3c 0.0%,#eeff11 1.6%,#faff05 1.9%,#fff800 2.2%,#ff5700 5.4%,#ff0700 7.3%,#fa0000 7.6%,#c00000 9.5%,#a20000 11.1%,#970000 12.7%,#9f0000 14.3%,#bb0000 15.8%,#ea0000 17.4%,#ff0300 18.1%,#ff5800 20.0%,#ffd200 22.2%,#fff800 22.8%,#f2ff0d 23.1%,#05fffa 26.9%,#00ddff 27.6%,#0062ff 29.8%,#000aff 31.7%,#0000fd 32.0%,#0000c8 33.6%,#0000a6 35.2%,#000097 36.8%,#00009c 38.3%,#0000b4 39.9%,#0000e8 41.8%,#0000fe 42.5%,#004fff 44.4%,#00fdff 47.8%,#30ffcf 49.4%,#54ffab 51.3%,#6dff92 54.2%,#7cff83 59.6%,#85ff7a 91.9%,#95ff6a 96.3%,#afff50 98.9%,#bfff40 99.8%)"></i><i style="top:34px;background:linear-gradient(90deg,#c5ff3a 0.0%,#f2ff0d 1.6%,#feff01 1.9%,#ffe200 2.5%,#ff5000 5.4%,#fe0000 7.3%,#c00000 9.2%,#9f0000 10.8%,#900000 12.4%,#950000 13.9%,#ae0000 15.5%,#da0000 17.1%,#fd0000 18.1%,#ff3500 19.3%,#ffab00 21.5%,#fff600 22.8%,#f4ff0b 23.1%,#03fffc 26.9%,#005eff 29.8%,#0006ff 31.7%,#0000ec 32.3%,#0000ba 33.9%,#00009b 35.5%,#000090 37.1%,#000098 38.7%,#0000b4 40.2%,#0000ec 42.1%,#0004ff 42.8%,#0066ff 45.0%,#00f9ff 47.8%,#06fff9 48.2%,#36ffc9 49.7%,#57ffa8 51.6%,#6fff90 54.5%,#7dff82 60.2%,#84ff7b 91.6%,#93ff6c 96.0%,#acff53 98.5%,#c1ff3e 99.8%)"></i><i style="top:35px;background:linear-gradient(90deg,#c7ff38 0.0%,#f5ff0a 1.6%,#fffd00 1.9%,#ff4b00 5.4%,#ff0600 7.0%,#ec0000 7.6%,#b20000 9.5%,#940000 11.1%,#8a0000 12.7%,#930000 14.3%,#b00000 15.8%,#e10000 17.4%,#f90000 18.1%,#ff0700 18.4%,#ff6200 20.3%,#fff500 22.8%,#f5ff0a 23.1%,#02fffd 26.9%,#005bff 29.8%,#0002ff 31.7%,#0000be 33.6%,#00009a 35.2%,#00008b 36.8%,#00008f 38.3%,#0000a7 39.9%,#0000d0 41.5%,#0000fd 42.8%,#0042ff 44.4%,#00d3ff 47.2%,#00f5ff 47.8%,#03fffc 48.2%,#34ffcb 49.7%,#56ffa9 51.6%,#6eff91 54.5%,#7cff83 59.9%,#85ff7a 91.6%,#94ff6b 96.0%,#adff52 98.5%,#c3ff3c 99.8%)"></i><i style="top:36px;background:linear-gradient(90deg,#c8ff37 0.0%,#f7ff08 1.6%,#fffa00 1.9%,#ff4600 5.4%,#ff0100 7.0%,#be0000 8.9%,#990000 10.5%,#870000 12.0%,#890000 13.6%,#9e0000 15.2%,#c80000 16.8%,#f60000 18.1%,#ff0400 18.4%,#ff6000 20.3%,#fff400 22.8%,#f6ff09 23.1%,#01fffe 26.9%,#006aff 29.5%,#000cff 31.4%,#0000fe 31.7%,#0000c4 33.3%,#00009c 34.9%,#000088 36.4%,#000088 38.0%,#00009c 39.6%,#0000c2 41.2%,#0000f8 42.8%,#0006ff 43.1%,#006bff 45.3%,#00ffff 48.2%,#2affd5 49.4%,#50ffaf 51.3%,#6aff95 53.9%,#7bff84 58.6%,#85ff7a 91.9%,#96ff69 96.3%,#b2ff4d 98.9%,#c4ff3b 99.8%)"></i><i style="top:37px;background:linear-gradient(90deg,#c9ff36 0.0%,#f9ff06 1.6%,#fff800 1.9%,#ff4300 5.4%,#fd0000 7.0%,#bb0000 8.9%,#960000 10.5%,#840000 12.0%,#850000 13.6%,#9b0000 15.2%,#c50000 16.8%,#ff0200 18.4%,#ff5e00 20.3%,#fff300 22.8%,#f7ff08 23.1%,#00ffff 26.9%,#0068ff 29.5%,#000aff 31.4%,#0000fb 31.7%,#0000c1 33.3%,#000099 34.9%,#000085 36.4%,#000084 38.0%,#000098 39.6%,#0000be 41.2%,#0003ff 43.1%,#0068ff 45.3%,#00fdff 48.2%,#31ffce 49.7%,#54ffab 51.6%,#6eff91 54.5%,#7cff83 59.9%,#85ff7a 91.6%,#94ff6b 96.0%,#aeff51 98.5%,#c5ff3a 99.8%)"></i><i style="top:38px;background:linear-gradient(90deg,#caff35 0.0%,#faff05 1.6%,#fff700 1.9%,#ff4100 5.4%,#ff0900 6.7%,#fb0000 7.0%,#b90000 8.9%,#940000 10.5%,#820000 12.0%,#840000 13.6%,#9a0000 15.2%,#c30000 16.8%,#ff0000 18.4%,#ff5d00 20.3%,#fff300 22.8%,#f7ff08 23.1%,#00ffff 26.9%,#0068ff 29.5%,#0009ff 31.4%,#0000fa 31.7%,#0000bf 33.3%,#000097 34.9%,#000083 36.4%,#000082 38.0%,#000096 39.6%,#0000bd 41.2%,#0001ff 43.1%,#0067ff 45.3%,#00fcff 48.2%,#38ffc7 50.1%,#58ffa7 52.0%,#70ff8f 54.8%,#7dff82 60.5%,#85ff7a 91.6%,#95ff6a 96.0%,#afff50 98.5%,#c6ff39 99.8%)"></i><i style="top:39px;background:linear-gradient(90deg,#caff35 0.0%,#fbff04 1.6%,#fff600 1.9%,#ff5000 5.1%,#ff0800 6.7%,#fa0000 7.0%,#b80000 8.9%,#930000 10.5%,#810000 12.0%,#830000 13.6%,#990000 15.2%,#c30000 16.8%,#ff0000 18.4%,#ff5d00 20.3%,#fff300 22.8%,#f7ff08 23.1%,#00ffff 26.9%,#0067ff 29.5%,#0008ff 31.4%,#0000fa 31.7%,#0000bf 33.3%,#000097 34.9%,#000082 36.4%,#000082 38.0%,#000096 39.6%,#0000bc 41.2%,#0000ff 43.1%,#0066ff 45.3%,#00fcff 48.2%,#38ffc7 50.1%,#58ffa7 52.0%,#6fff90 54.8%,#7dff82 60.5%,#85ff7a 91.6%,#95ff6a 96.0%,#afff50 98.5%,#c6ff39 99.8%)"></i><i style="top:40px;background:linear-gradient(90deg,#caff35 0.0%,#faff05 1.6%,#fff700 1.9%,#ff4200 5.4%,#ff0900 6.7%,#fb0000 7.0%,#b90000 8.9%,#940000 10.5%,#820000 12.0%,#840000 13.6%,#9a0000 15.2%,#c40000 16.8%,#ff0100 18.4%,#ff5d00 20.3%,#fff300 22.8%,#f7ff08 23.1%,#00ffff 26.9%,#0068ff 29.5%,#0009ff 31.4%,#0000fa 31.7%,#0000c0 33.3%,#000097 34.9%,#000083 36.4%,#000083 38.0%,#000096 39.6%,#0000bd 41.2%,#0001ff 43.1%,#0067ff 45.3%,#00fcff 48.2%,#31ffce 49.7%,#54ffab 51.6%,#6eff91 54.5%,#7cff83 59.9%,#85ff7a 91.6%,#95ff6a 96.0%,#aeff51 98.5%,#c6ff39 99.8%)"></i><i style="top:41px;background:linear-gradient(90deg,#c9ff36 0.0%,#f9ff06 1.6%,#fff800 1.9%,#ff4400 5.4%,#fd0000 7.0%,#bb0000 8.9%,#960000 10.5%,#840000 12.0%,#860000 13.6%,#9c0000 15.2%,#c50000 16.8%,#ff0200 18.4%,#ff5e00 20.3%,#fff300 22.8%,#f7ff08 23.1%,#00ffff 26.9%,#0069ff 29.5%,#000aff 31.4%,#0000fc 31.7%,#0000c1 33.3%,#000099 34.9%,#000085 36.4%,#000085 38.0%,#000099 39.6%,#0000bf 41.2%,#0003ff 43.1%,#0069ff 45.3%,#00feff 48.2%,#31ffce 49.7%,#55ffaa 51.6%,#6eff91 54.5%,#7cff83 59.9%,#85ff7a 91.6%,#94ff6b 96.0%,#aeff51 98.5%,#c5ff3a 99.8%)"></i><i style="top:42px;background:linear-gradient(90deg,#c8ff37 0.0%,#f7ff08 1.6%,#fffa00 1.9%,#ff4700 5.4%,#ff0200 7.0%,#b60000 9.2%,#950000 10.8%,#870000 12.4%,#8c0000 13.9%,#a60000 15.5%,#d30000 17.1%,#f60000 18.1%,#ff0400 18.4%,#ff6000 20.3%,#fff400 22.8%,#f6ff09 23.1%,#01fffe 26.9%,#006aff 29.5%,#000dff 31.4%,#0000fe 31.7%,#0000c4 33.3%,#00009c 34.9%,#000088 36.4%,#000089 38.0%,#00009c 39.6%,#0000c3 41.2%,#0000f9 42.8%,#0007ff 43.1%,#006cff 45.3%,#00f2ff 47.8%,#01fffe 48.2%,#2affd5 49.4%,#51ffae 51.3%,#6aff95 53.9%,#7bff84 58.6%,#85ff7a 91.9%,#96ff69 96.3%,#b2ff4d 98.9%,#c4ff3b 99.8%)"></i><i style="top:43px;background:linear-gradient(90deg,#c7ff38 0.0%,#f4ff0b 1.6%,#fffd00 1.9%,#ff4c00 5.4%,#ff0700 7.0%,#f90000 7.3%,#bb0000 9.2%,#9a0000 10.8%,#8b0000 12.4%,#910000 13.9%,#aa0000 15.5%,#d60000 17.1%,#fa0000 18.1%,#ff0800 18.4%,#ff6300 20.3%,#fff500 22.8%,#f5ff0a 23.1%,#02fffd 26.9%,#005cff 29.8%,#0002ff 31.7%,#0000bf 33.6%,#00009b 35.2%,#00008c 36.8%,#000090 38.3%,#0000a8 39.9%,#0000d1 41.5%,#0000fe 42.8%,#0052ff 44.7%,#00f5ff 47.8%,#03fffc 48.2%,#34ffcb 49.7%,#56ffa9 51.6%,#6fff90 54.5%,#7cff83 59.9%,#85ff7a 91.6%,#94ff6b 96.0%,#adff52 98.5%,#c3ff3c 99.8%)"></i><i style="top:44px;background:linear-gradient(90deg,#c5ff3a 0.0%,#f1ff0e 1.6%,#fdff02 1.9%,#ffe300 2.5%,#ff5200 5.4%,#ff0100 7.3%,#c20000 9.2%,#a00000 10.8%,#920000 12.4%,#960000 13.9%,#af0000 15.5%,#db0000 17.1%,#fe0000 18.1%,#ff4500 19.6%,#ffbe00 21.9%,#fff700 22.8%,#f4ff0b 23.1%,#04fffb 26.9%,#0092ff 28.8%,#0030ff 30.7%,#0006ff 31.7%,#0000f9 32.0%,#0000c4 33.6%,#0000a1 35.2%,#000092 36.8%,#000096 38.3%,#0000ae 39.9%,#0000e2 41.8%,#0000f8 42.5%,#0005ff 42.8%,#0067ff 45.0%,#00f9ff 47.8%,#12ffed 48.5%,#3dffc2 50.1%,#5effa1 52.3%,#74ff8b 55.8%,#7fff80 63.7%,#84ff7b 91.6%,#93ff6c 96.0%,#abff54 98.5%,#c1ff3e 99.8%)"></i><i style="top:45px;background:linear-gradient(90deg,#c3ff3c 0.0%,#edff12 1.6%,#f9ff06 1.9%,#fff900 2.2%,#ff5900 5.4%,#ff0800 7.3%,#fb0000 7.6%,#c10000 9.5%,#a40000 11.1%,#980000 12.7%,#a10000 14.3%,#bd0000 15.8%,#eb0000 17.4%,#ff0400 18.1%,#ff5900 20.0%,#ffd300 22.2%,#fff900 22.8%,#f2ff0d 23.1%,#05fffa 26.9%,#00deff 27.6%,#0063ff 29.8%,#000bff 31.7%,#0000fe 32.0%,#0000ca 33.6%,#0000a8 35.2%,#000099 36.8%,#00009e 38.3%,#0000b6 39.9%,#0000ea 41.8%,#0001ff 42.5%,#005fff 44.7%,#00feff 47.8%,#31ffce 49.4%,#54ffab 51.3%,#6eff91 54.2%,#7cff83 59.6%,#85ff7a 91.9%,#95ff6a 96.3%,#afff50 98.9%,#bfff40 99.8%)"></i><i style="top:46px;background:linear-gradient(90deg,#c0ff3f 0.0%,#e9ff16 1.6%,#fffe00 2.2%,#ff5300 5.7%,#ff0500 7.6%,#ef0000 8.2%,#bc0000 10.1%,#a60000 11.7%,#a20000 13.3%,#b20000 14.9%,#d40000 16.5%,#fd0000 17.7%,#ff3100 19.0%,#ffa000 21.2%,#fffb00 22.8%,#ddff22 23.4%,#07fff8 26.9%,#00f3ff 27.2%,#0067ff 29.8%,#0011ff 31.7%,#0005ff 32.0%,#0000ee 32.6%,#0000c1 34.2%,#0000a8 35.8%,#0000a1 37.4%,#0000ae 39.0%,#0000ce 40.6%,#0000fe 42.1%,#004aff 44.0%,#00d5ff 46.9%,#00f6ff 47.5%,#04fffb 47.8%,#34ffcb 49.4%,#55ffaa 51.3%,#6eff91 54.2%,#7cff83 59.6%,#85ff7a 91.9%,#94ff6b 96.3%,#adff52 98.9%,#bdff42 99.8%)"></i><i style="top:47px;background:linear-gradient(90deg,#beff41 0.0%,#e4ff1b 1.6%,#faff05 2.2%,#fff800 2.5%,#ff5c00 5.7%,#ff0400 7.9%,#e60000 8.9%,#c10000 10.5%,#ad0000 12.0%,#ad0000 13.6%,#c00000 15.2%,#e50000 16.8%,#f90000 17.4%,#ff0500 17.7%,#ff5400 19.6%,#ffc600 21.9%,#fffd00 22.8%,#09fff6 26.9%,#00f5ff 27.2%,#006cff 29.8%,#0018ff 31.7%,#0001ff 32.3%,#0000ca 34.2%,#0000b1 35.8%,#0000ab 37.4%,#0000b9 39.0%,#0000d8 40.6%,#0000fd 41.8%,#0039ff 43.4%,#00adff 45.9%,#00fdff 47.5%,#37ffc8 49.4%,#5bffa4 51.6%,#72ff8d 54.8%,#7eff81 61.5%,#85ff7a 91.9%,#93ff6c 96.3%,#abff54 98.9%,#baff45 99.8%)"></i><i style="top:48px;background:linear-gradient(90deg,#bbff44 0.0%,#dfff20 1.6%,#ffff00 2.5%,#ff5900 6.0%,#ff0500 8.2%,#f10000 8.9%,#c70000 10.8%,#b70000 12.4%,#ba0000 13.9%,#cf0000 15.5%,#ff0200 17.4%,#ff4c00 19.3%,#ffb900 21.5%,#ffff00 22.8%,#0bfff4 26.9%,#00f8ff 27.2%,#0072ff 29.8%,#001fff 31.7%,#0000fd 32.6%,#0000d3 34.2%,#0000bb 35.8%,#0000b6 37.4%,#0000c4 39.0%,#0000e3 40.6%,#0000fe 41.5%,#0044ff 43.4%,#00b7ff 45.9%,#00f7ff 47.2%,#04fffb 47.5%,#34ffcb 49.1%,#55ffaa 51.0%,#6eff91 53.9%,#7cff83 59.3%,#85ff7a 92.2%,#95ff6a 96.6%,#adff52 99.2%,#b7ff48 99.8%)"></i><i style="top:49px;background:linear-gradient(90deg,#b8ff47 0.0%,#daff25 1.6%,#f8ff07 2.5%,#fffa00 2.9%,#ff7200 5.7%,#ff1c00 7.9%,#fe0000 8.9%,#d30000 10.8%,#c30000 12.4%,#c50000 13.9%,#da0000 15.5%,#ff0100 17.1%,#ff4500 19.0%,#ffad00 21.2%,#fcff03 22.8%,#0efff1 26.9%,#00fbff 27.2%,#0078ff 29.8%,#0028ff 31.7%,#0000fd 33.0%,#0000d8 34.5%,#0000c4 36.1%,#0000c4 37.7%,#0000d5 39.3%,#0002ff 41.2%,#0043ff 43.1%,#00b2ff 45.6%,#00ffff 47.2%,#30ffcf 48.8%,#53ffac 50.7%,#6dff92 53.5%,#7cff83 58.9%,#85ff7a 92.2%,#96ff69 97.0%,#b0ff4f 99.5%,#b4ff4b 99.8%)"></i><i style="top:50px;background:linear-gradient(90deg,#b4ff4b 0.0%,#ddff22 1.9%,#fbff04 2.9%,#ffe600 3.5%,#ff6400 6.3%,#ff1500 8.6%,#ff0400 9.2%,#dc0000 11.1%,#cf0000 12.7%,#d40000 14.3%,#eb0000 15.8%,#ff0300 16.8%,#ff4100 18.7%,#ffa200 20.9%,#fff400 22.5%,#f9ff06 22.8%,#00feff 27.2%,#007eff 29.8%,#0030ff 31.7%,#0000fe 33.3%,#0000de 34.9%,#0000cf 36.4%,#0000d3 38.0%,#0000e9 39.6%,#0000fe 40.6%,#002eff 42.1%,#0085ff 44.4%,#00fbff 46.9%,#2effd1 48.5%,#51ffae 50.4%,#6cff93 53.2%,#7bff84 58.3%,#85ff7a 92.5%,#95ff6a 97.0%,#adff52 99.5%,#b1ff4e 99.8%)"></i><i style="top:51px;background:linear-gradient(90deg,#b1ff4e 0.0%,#d7ff28 1.9%,#feff01 3.2%,#ff7200 6.3%,#ff2400 8.6%,#ff0300 9.8%,#e10000 12.0%,#de0000 13.6%,#ed0000 15.2%,#fe0000 16.2%,#ff2900 17.7%,#ff7000 19.6%,#ffd700 21.9%,#fff800 22.5%,#f5ff0a 22.8%,#03fffc 27.2%,#0078ff 30.1%,#002fff 32.0%,#0003ff 33.6%,#0000e0 35.8%,#0000de 37.4%,#0000ed 39.0%,#0000fe 39.9%,#0028ff 41.5%,#0077ff 43.7%,#00f8ff 46.6%,#05fffa 46.9%,#33ffcc 48.5%,#58ffa7 50.7%,#70ff8f 53.9%,#7dff82 60.2%,#85ff7a 92.5%,#95ff6a 97.3%,#aeff51 99.8%)"></i><i style="top:52px;background:linear-gradient(90deg,#aeff51 0.0%,#d1ff2e 1.9%,#fffe00 3.5%,#ff8100 6.3%,#ff3300 8.6%,#ff0600 10.5%,#fa0000 11.1%,#ec0000 12.7%,#f00000 14.3%,#ff0000 15.5%,#ff2200 17.1%,#ff5f00 19.0%,#ffbe00 21.2%,#fffc00 22.5%,#9eff61 24.4%,#07fff8 27.2%,#00f6ff 27.6%,#0080ff 30.1%,#003aff 32.0%,#0009ff 33.9%,#0000f8 34.9%,#0000ec 36.4%,#0000f1 38.0%,#0002ff 39.3%,#002eff 41.2%,#0079ff 43.4%,#00f6ff 46.3%,#04fffb 46.6%,#31ffce 48.2%,#57ffa8 50.4%,#70ff8f 53.5%,#7dff82 59.6%,#85ff7a 92.5%,#94ff6b 97.3%,#abff54 99.8%)"></i><i style="top:53px;background:linear-gradient(90deg,#abff54 0.0%,#caff35 1.9%,#fffd00 3.8%,#ff8400 6.7%,#ff3b00 8.9%,#ff1100 10.8%,#fe0000 12.4%,#fd0000 13.9%,#ff0900 15.2%,#ff2e00 17.1%,#ff6900 19.0%,#ffc400 21.2%,#feff01 22.5%,#0bfff4 27.2%,#00faff 27.6%,#0088ff 30.1%,#0045ff 32.0%,#0016ff 33.9%,#0001ff 35.5%,#0000fd 37.4%,#0009ff 38.7%,#002dff 40.6%,#0066ff 42.5%,#00caff 45.0%,#03fffc 46.3%,#30ffcf 47.8%,#56ffa9 50.1%,#6fff90 53.2%,#7dff82 59.3%,#85ff7a 92.8%,#95ff6a 97.6%,#a8ff57 99.8%)"></i><i style="top:54px;background:linear-gradient(90deg,#a7ff58 0.0%,#cbff34 2.2%,#fffd00 4.1%,#ff8900 7.0%,#ff4400 9.2%,#ff1d00 11.1%,#ff0d00 13.0%,#ff1100 14.6%,#ff2d00 16.5%,#ff5e00 18.4%,#ffb000 20.6%,#fff600 22.2%,#f9ff06 22.5%,#00ffff 27.6%,#0091ff 30.1%,#0051ff 32.0%,#0024ff 33.9%,#000eff 35.8%,#0010ff 37.7%,#002aff 39.6%,#0059ff 41.5%,#00a5ff 43.7%,#03fffc 45.9%,#30ffcf 47.5%,#55ffaa 49.7%,#6fff90 52.9%,#7dff82 58.9%,#85ff7a 93.2%,#95ff6a 97.9%,#a5ff5a 99.8%)"></i><i style="top:55px;background:linear-gradient(90deg,#a4ff5b 0.0%,#c4ff3b 2.2%,#ebff14 3.8%,#fffe00 4.4%,#ff9a00 7.0%,#ff5500 9.2%,#ff2f00 11.1%,#ff1e00 13.0%,#ff2400 14.9%,#ff4100 16.8%,#ff7400 18.7%,#ffc500 20.9%,#fffb00 22.2%,#d7ff28 23.1%,#05fffa 27.6%,#00e8ff 28.2%,#008fff 30.4%,#0055ff 32.3%,#002eff 34.2%,#001eff 36.1%,#0025ff 38.0%,#0042ff 39.9%,#0074ff 41.8%,#00cfff 44.4%,#00f6ff 45.3%,#05fffa 45.6%,#30ffcf 47.2%,#55ffaa 49.4%,#6fff90 52.6%,#7dff82 58.6%,#85ff7a 93.5%,#96ff69 98.2%,#a2ff5d 99.8%)"></i><i style="top:56px;background:linear-gradient(90deg,#a1ff5e 0.0%,#c4ff3b 2.5%,#f2ff0d 4.4%,#fdff02 4.8%,#ff9600 7.6%,#ff5900 9.8%,#ff3900 11.7%,#ff2f00 13.6%,#ff3b00 15.5%,#ff5d00 17.4%,#ff9e00 19.6%,#fdff02 22.2%,#0afff5 27.6%,#00fbff 27.9%,#0099ff 30.4%,#0062ff 32.3%,#003dff 34.2%,#002fff 36.1%,#0037ff 38.0%,#0055ff 39.9%,#0090ff 42.1%,#00ecff 44.7%,#00f9ff 45.0%,#11ffee 45.6%,#3effc1 47.5%,#5fffa0 50.1%,#75ff8a 53.9%,#7fff80 62.7%,#85ff7a 93.5%,#94ff6b 98.2%,#9fff60 99.8%)"></i><i style="top:57px;background:linear-gradient(90deg,#9eff61 0.0%,#bdff42 2.5%,#e7ff18 4.4%,#f9ff06 5.1%,#ffec00 5.7%,#ff9500 8.2%,#ff5f00 10.5%,#ff4600 12.4%,#ff4200 14.3%,#ff5300 16.2%,#ff7a00 18.1%,#ffbe00 20.3%,#fff900 21.9%,#ebff14 22.5%,#02fffd 27.9%,#009aff 30.7%,#0068ff 32.6%,#004aff 34.5%,#0041ff 36.4%,#004dff 38.3%,#006fff 40.2%,#00adff 42.5%,#00fdff 44.7%,#32ffcd 46.6%,#55ffaa 48.8%,#6eff91 52.0%,#7dff82 58.0%,#85ff7a 93.8%,#96ff69 98.9%,#9dff62 99.8%)"></i><i style="top:58px;background:linear-gradient(90deg,#9cff63 0.0%,#bcff43 2.9%,#e3ff1c 4.8%,#fffd00 5.7%,#ffa800 8.2%,#ff7200 10.5%,#ff5900 12.4%,#ff5300 14.3%,#ff6300 16.2%,#ff8700 18.1%,#ffc700 20.3%,#feff01 21.9%,#08fff7 27.9%,#00fbff 28.2%,#00a5ff 30.7%,#0070ff 33.0%,#0058ff 34.9%,#0054ff 36.8%,#0065ff 38.7%,#008aff 40.6%,#00caff 42.8%,#03fffc 44.4%,#2effd1 45.9%,#52ffad 48.2%,#6dff92 51.3%,#7cff83 57.0%,#86ff79 94.4%,#96ff69 99.2%,#9aff65 99.8%)"></i><i style="top:59px;background:linear-gradient(90deg,#99ff66 0.0%,#b6ff49 2.9%,#e0ff1f 5.1%,#fbff04 6.0%,#ffe300 7.0%,#ffa200 9.2%,#ff7700 11.4%,#ff6600 13.3%,#ff6a00 15.2%,#ff8200 17.1%,#ffb400 19.3%,#fffb00 21.5%,#e0ff1f 22.5%,#03fffc 28.2%,#00a9ff 31.1%,#007aff 33.3%,#0067ff 35.2%,#0068ff 37.1%,#007dff 39.0%,#00adff 41.2%,#00fdff 43.7%,#30ffcf 45.6%,#57ffa8 48.2%,#70ff8f 51.6%,#7eff81 58.3%,#85ff7a 94.4%,#96ff69 99.5%,#98ff67 99.8%)"></i><i style="top:60px;background:linear-gradient(90deg,#96ff69 0.0%,#b4ff4b 3.2%,#dbff24 5.4%,#feff01 6.7%,#ffb600 9.2%,#ff8b00 11.4%,#ff7900 13.3%,#ff7b00 15.2%,#ff9100 17.1%,#ffc000 19.3%,#fcff03 21.5%,#00feff 28.5%,#00b5ff 31.1%,#008aff 33.3%,#0079ff 35.2%,#007cff 37.1%,#0091ff 39.0%,#00c1ff 41.2%,#00faff 43.1%,#10ffef 43.7%,#3fffc0 45.9%,#61ff9e 48.8%,#76ff89 52.9%,#80ff7f 63.1%,#85ff7a 94.7%,#95ff6a 99.8%)"></i><i style="top:61px;background:linear-gradient(90deg,#94ff6b 0.0%,#aeff51 3.2%,#d6ff29 5.7%,#fffe00 7.3%,#ffbb00 9.8%,#ff9700 12.0%,#ff8b00 13.9%,#ff9100 15.8%,#ffb000 18.1%,#ffe400 20.3%,#feff01 21.2%,#67ff98 25.7%,#07fff8 28.5%,#00fcff 28.8%,#00baff 31.4%,#0096ff 33.6%,#008bff 35.5%,#0092ff 37.4%,#00b1ff 39.6%,#00e6ff 41.8%,#03fffc 42.8%,#2bffd4 44.4%,#52ffad 46.9%,#6dff92 50.4%,#7dff82 56.4%,#86ff79 95.4%,#93ff6c 99.8%)"></i><i style="top:62px;background:linear-gradient(90deg,#92ff6d 0.0%,#acff53 3.5%,#d1ff2e 6.0%,#f6ff09 7.6%,#ffff00 7.9%,#ffc900 10.1%,#ffa700 12.4%,#ff9d00 14.6%,#ffac00 16.8%,#ffd100 19.0%,#ffff00 20.9%,#88ff77 24.7%,#06fff9 28.8%,#00f3ff 29.5%,#00bcff 32.0%,#00a2ff 34.2%,#009eff 36.1%,#00b0ff 38.3%,#00d9ff 40.6%,#04fffb 42.1%,#2affd5 43.7%,#51ffae 46.3%,#6cff93 49.7%,#7cff83 55.8%,#82ff7d 83.3%,#87ff78 96.3%,#91ff6e 99.8%)"></i><i style="top:63px;background:linear-gradient(90deg,#90ff6f 0.0%,#aaff55 3.8%,#d1ff2e 6.7%,#f4ff0b 8.2%,#fff900 8.9%,#ffcc00 11.1%,#ffb300 13.3%,#ffb200 15.5%,#ffc700 17.7%,#fff800 20.3%,#feff01 20.6%,#9bff64 24.1%,#16ffe9 28.5%,#00fdff 29.5%,#00caff 32.0%,#00b3ff 34.2%,#00b2ff 36.4%,#00c9ff 38.7%,#00f5ff 40.9%,#06fff9 41.5%,#2affd5 43.1%,#53ffac 45.9%,#6eff91 49.7%,#7dff82 56.4%,#82ff7d 84.6%,#87ff78 97.0%,#8fff70 99.8%)"></i><i style="top:64px;background:linear-gradient(90deg,#8eff71 0.0%,#a8ff57 4.1%,#cbff34 7.0%,#f1ff0e 8.9%,#fffe00 9.5%,#ffd700 11.7%,#ffc300 13.9%,#ffc700 16.2%,#ffdf00 18.4%,#fbff04 20.3%,#a2ff5d 23.8%,#1effe1 28.5%,#01fffe 29.8%,#00d4ff 32.3%,#00c3ff 34.5%,#00c8ff 36.8%,#00e2ff 39.0%,#02fffd 40.6%,#31ffce 42.8%,#59ffa6 45.9%,#72ff8d 50.1%,#7fff80 58.0%,#82ff7d 85.6%,#88ff77 97.6%,#8eff71 99.8%)"></i><i style="top:65px;background:linear-gradient(90deg,#8dff72 0.0%,#a5ff5a 4.4%,#c9ff36 7.6%,#f3ff0c 9.8%,#ffff00 10.5%,#ffdf00 12.7%,#ffd400 14.9%,#ffde00 17.1%,#fdff02 19.6%,#b8ff47 22.8%,#26ffd9 28.5%,#00feff 30.4%,#00ddff 33.0%,#00d4ff 35.2%,#00e1ff 37.4%,#02fffd 39.6%,#33ffcc 42.1%,#59ffa6 45.3%,#72ff8d 49.7%,#7fff80 58.3%,#83ff7c 83.7%,#86ff79 97.3%,#8cff73 99.8%)"></i><i style="top:66px;background:linear-gradient(90deg,#8bff74 0.0%,#a2ff5d 4.8%,#c7ff38 8.2%,#fffe00 11.7%,#ffe900 13.9%,#ffe800 16.2%,#fcff03 19.0%,#c8ff37 21.9%,#27ffd8 28.8%,#01fffe 31.1%,#00e8ff 33.6%,#00e8ff 35.8%,#01fffe 38.3%,#3affc5 41.8%,#60ff9f 45.6%,#76ff89 50.7%,#83ff7c 64.3%,#83ff7c 86.8%,#88ff77 98.5%,#8bff74 99.8%)"></i><i style="top:67px;background:linear-gradient(90deg,#8aff75 0.0%,#a0ff5f 5.1%,#c7ff38 9.2%,#fcff03 13.0%,#fff700 15.8%,#fdff02 17.7%,#d9ff26 20.6%,#85ff7a 24.7%,#2affd5 29.2%,#03fffc 32.0%,#00f7ff 34.9%,#02fffd 36.8%,#23ffdc 39.3%,#51ffae 43.1%,#6eff91 47.5%,#7eff81 54.8%,#87ff78 78.9%,#85ff7a 97.0%,#8aff75 99.8%)"></i><i style="top:68px;background:linear-gradient(90deg,#89ff76 0.0%,#9dff62 5.4%,#c3ff3c 9.8%,#efff10 13.6%,#f6ff09 16.2%,#e7ff18 18.7%,#bbff44 21.9%,#37ffc8 28.8%,#14ffeb 31.7%,#08fff7 34.2%,#14ffeb 36.8%,#50ffaf 42.1%,#6eff91 46.9%,#7eff81 54.5%,#89ff76 78.3%,#85ff7a 97.0%,#88ff77 99.8%)"></i><i style="top:69px;background:linear-gradient(90deg,#88ff77 0.0%,#9cff63 6.0%,#c6ff39 11.4%,#e3ff1c 14.6%,#e5ff1a 17.1%,#ceff31 20.0%,#95ff6a 23.8%,#3bffc4 29.2%,#1effe1 32.0%,#19ffe6 34.5%,#29ffd6 37.1%,#5affa5 42.5%,#73ff8c 47.8%,#82ff7d 58.9%,#8aff75 78.3%,#84ff7b 97.0%,#87ff78 99.8%)"></i><i style="top:70px;background:linear-gradient(90deg,#87ff78 0.0%,#9aff65 6.3%,#c9ff36 13.3%,#d7ff28 15.8%,#cfff30 18.7%,#aeff51 21.9%,#43ffbc 29.2%,#2bffd4 32.0%,#29ffd6 34.5%,#68ff97 44.0%,#7bff84 51.0%,#8eff71 76.4%,#84ff7b 97.0%,#87ff78 99.8%)"></i><i style="top:71px;background:linear-gradient(90deg,#86ff79 0.0%,#98ff67 7.0%,#c9ff36 16.2%,#c2ff3d 19.0%,#a0ff5f 22.5%,#4bffb4 29.2%,#37ffc8 32.3%,#3bffc4 35.2%,#6eff91 44.7%,#7fff80 53.5%,#91ff6e 76.4%,#84ff7b 96.6%,#86ff79 99.8%)"></i><i style="top:72px;background:linear-gradient(90deg,#85ff7a 0.0%,#97ff68 7.6%,#bbff44 16.5%,#b6ff49 19.3%,#95ff6a 23.1%,#53ffac 29.2%,#44ffbb 32.3%,#4fffb0 36.8%,#73ff8c 45.6%,#94ff6b 72.9%,#8cff73 84.3%,#84ff7b 97.6%,#85ff7a 99.8%)"></i><i style="top:73px;background:linear-gradient(90deg,#85ff7a 0.0%,#96ff69 8.6%,#afff50 16.5%,#a9ff56 20.0%,#82ff7d 24.7%,#57ffa8 29.8%,#50ffaf 33.3%,#65ff9a 40.2%,#7bff84 49.1%,#99ff66 75.7%,#84ff7b 95.7%,#85ff7a 99.8%)"></i><i style="top:74px;background:linear-gradient(90deg,#84ff7b 0.0%,#94ff6b 9.2%,#a6ff59 16.8%,#9bff64 21.2%,#61ff9e 29.5%,#59ffa6 33.9%,#7bff84 48.8%,#92ff6d 65.6%,#9fff60 75.4%,#84ff7b 95.4%,#84ff7b 99.8%)"></i><i style="top:75px;background:linear-gradient(90deg,#84ff7b 0.0%,#94ff6b 10.5%,#9eff61 17.4%,#90ff6f 22.2%,#65ff9a 30.1%,#62ff9d 35.2%,#7eff81 50.1%,#91ff6e 64.0%,#a6ff59 74.1%,#9cff63 81.7%,#86ff79 93.5%,#84ff7b 99.8%)"></i><i style="top:76px;background:linear-gradient(90deg,#84ff7b 0.0%,#94ff6b 12.4%,#97ff68 18.7%,#7fff80 25.0%,#68ff97 31.1%,#6bff94 37.4%,#81ff7e 53.2%,#95ff6a 64.0%,#aeff51 73.8%,#a7ff58 80.2%,#88ff77 92.2%,#84ff7b 99.8%)"></i><i style="top:77px;background:linear-gradient(90deg,#84ff7b 0.0%,#93ff6c 18.1%,#7fff80 25.0%,#6cff93 31.7%,#73ff8c 40.2%,#8eff71 60.2%,#b8ff47 73.2%,#b4ff4b 78.6%,#8aff75 91.6%,#84ff7b 99.8%)"></i><i style="top:78px;background:linear-gradient(90deg,#84ff7b 0.0%,#8fff70 18.4%,#6fff90 32.3%,#88ff77 56.7%,#a1ff5e 64.6%,#c4ff3b 72.9%,#c3ff3c 77.6%,#8dff72 91.3%,#84ff7b 99.8%)"></i><i style="top:79px;background:linear-gradient(90deg,#84ff7b 0.0%,#8bff74 19.0%,#72ff8d 32.6%,#89ff76 56.7%,#a3ff5c 63.7%,#d2ff2d 72.6%,#d4ff2b 76.7%,#baff45 82.4%,#92ff6d 90.3%,#84ff7b 98.5%,#84ff7b 99.8%)"></i><i style="top:80px;background:linear-gradient(90deg,#84ff7b 0.0%,#88ff77 19.6%,#75ff8a 33.3%,#88ff77 55.4%,#a0ff5f 62.1%,#e2ff1d 72.2%,#e8ff17 76.0%,#d4ff2b 80.5%,#9bff64 89.0%,#87ff78 95.7%,#84ff7b 99.8%)"></i><i style="top:81px;background:linear-gradient(90deg,#84ff7b 0.0%,#86ff79 20.6%,#77ff88 34.2%,#87ff78 54.5%,#9eff61 60.8%,#cdff32 66.9%,#f8ff07 72.2%,#ffff00 75.7%,#edff12 79.5%,#a4ff5b 88.4%,#8bff74 94.1%,#84ff7b 99.8%)"></i><i style="top:82px;background:linear-gradient(90deg,#84ff7b 0.0%,#84ff7b 21.5%,#79ff86 35.2%,#87ff78 53.9%,#9eff61 59.9%,#c8ff37 65.0%,#fffe00 70.0%,#ffe200 73.5%,#ffe100 76.4%,#fff900 79.5%,#fcff03 80.5%,#afff50 87.8%,#91ff6e 92.8%,#84ff7b 99.8%)"></i><i style="top:83px;background:linear-gradient(90deg,#84ff7b 0.0%,#82ff7d 22.8%,#7aff85 37.1%,#88ff77 53.5%,#9dff62 58.9%,#c3ff3c 63.4%,#fffc00 68.1%,#ffd000 71.3%,#ffbd00 74.1%,#ffc200 77.0%,#ffdd00 79.8%,#fffe00 82.1%,#b8ff47 87.8%,#97ff68 92.2%,#86ff79 98.2%,#84ff7b 99.8%)"></i><i style="top:84px;background:linear-gradient(90deg,#84ff7b 0.0%,#80ff7f 24.7%,#7cff83 40.2%,#88ff77 53.2%,#9dff62 58.3%,#c3ff3c 62.4%,#fffc00 66.5%,#ffc300 69.7%,#ffa300 72.6%,#ff9b00 75.4%,#ffaa00 78.3%,#ffcf00 81.1%,#ffff00 83.7%,#c2ff3d 87.8%,#9dff62 91.9%,#88ff77 97.3%,#85ff7a 99.8%)"></i><i style="top:85px;background:linear-gradient(90deg,#85ff7a 0.0%,#7dff82 28.2%,#81ff7e 47.8%,#90ff6f 55.1%,#aaff55 59.3%,#d4ff2b 62.7%,#fffc00 65.3%,#ffb300 68.8%,#ff8b00 71.6%,#ff7b00 74.1%,#ff7e00 76.7%,#ff9800 79.5%,#ffce00 82.7%,#ffff00 84.9%,#c5ff3a 88.4%,#a1ff5e 91.9%,#8bff74 96.6%,#85ff7a 99.8%)"></i><i style="top:86px;background:linear-gradient(90deg,#85ff7a 0.0%,#7eff81 41.5%,#89ff76 52.6%,#9fff60 57.4%,#c4ff3b 60.8%,#f6ff09 63.7%,#fdff02 64.0%,#ffa100 68.1%,#ff7300 71.0%,#ff5d00 73.5%,#ff5b00 76.0%,#ff6d00 78.6%,#ff9800 81.4%,#ffe400 84.9%,#fffc00 85.9%,#c7ff38 89.0%,#a1ff5e 92.5%,#8bff74 97.0%,#85ff7a 99.8%)"></i><i style="top:87px;background:linear-gradient(90deg,#86ff79 0.0%,#7fff80 42.1%,#89ff76 52.3%,#9fff60 56.7%,#c0ff3f 59.9%,#f4ff0b 62.7%,#fdff02 63.1%,#ff9200 67.5%,#ff5e00 70.3%,#ff4300 72.9%,#ff3b00 75.4%,#ff4900 77.9%,#ff6f00 80.8%,#ffb200 84.0%,#fffc00 86.8%,#c8ff37 89.7%,#a3ff5c 92.8%,#8bff74 97.3%,#86ff79 99.8%)"></i><i style="top:88px;background:linear-gradient(90deg,#86ff79 0.0%,#7eff81 35.2%,#86ff79 50.4%,#99ff66 55.4%,#b8ff47 58.6%,#e2ff1d 61.2%,#fffb00 62.4%,#ff8600 66.9%,#ff4c00 69.7%,#ff2b00 72.2%,#ff1e00 74.8%,#ff2700 77.3%,#ff4400 79.8%,#ff7a00 82.7%,#ffdb00 86.5%,#ffff00 87.8%,#d4ff2b 89.7%,#abff54 92.5%,#90ff6f 96.3%,#86ff79 99.8%)"></i><i style="top:89px;background:linear-gradient(90deg,#87ff78 0.0%,#81ff7e 15.2%,#81ff7e 45.6%,#8eff71 52.9%,#a8ff57 56.7%,#caff35 59.3%,#f3ff0c 61.2%,#fdff02 61.5%,#ff7400 66.5%,#ff3200 69.7%,#ff1000 72.2%,#ff0300 74.8%,#ff0c00 77.3%,#ff2900 79.8%,#ff6100 82.7%,#ffc400 86.5%,#fffc00 88.4%,#c8ff37 90.9%,#a4ff5b 93.8%,#8cff73 97.9%,#87ff78 99.8%)"></i><i style="top:90px;background:linear-gradient(90deg,#87ff78 0.0%,#81ff7e 13.0%,#81ff7e 45.9%,#8eff71 52.6%,#a6ff59 56.1%,#c9ff36 58.6%,#f4ff0b 60.5%,#feff01 60.8%,#ff6500 66.2%,#ff1f00 69.4%,#fd0000 71.6%,#ea0000 74.1%,#ee0000 76.7%,#ff0300 78.9%,#ff3400 81.7%,#ff8a00 85.2%,#fffb00 89.0%,#e7ff18 90.0%,#bcff43 92.2%,#9dff62 95.1%,#88ff77 99.5%,#88ff77 99.8%)"></i><i style="top:91px;background:linear-gradient(90deg,#88ff77 0.0%,#81ff7e 11.7%,#82ff7d 46.3%,#90ff6f 52.6%,#abff54 56.1%,#d3ff2c 58.6%,#fdff02 60.2%,#ff5000 66.2%,#ff0900 69.4%,#f80000 70.3%,#da0000 72.9%,#d20000 75.4%,#e10000 77.9%,#ff0000 80.2%,#ff3b00 83.0%,#ffa400 86.8%,#fffb00 89.7%,#d7ff28 91.3%,#b1ff4e 93.5%,#95ff6a 96.6%,#88ff77 99.8%)"></i><i style="top:92px;background:linear-gradient(90deg,#89ff76 0.0%,#81ff7e 10.5%,#82ff7d 46.3%,#90ff6f 52.3%,#a8ff57 55.4%,#c9ff36 57.7%,#f0ff0f 59.3%,#fffa00 59.9%,#ff4e00 65.6%,#ff0100 68.8%,#d20000 71.6%,#bf0000 74.1%,#c30000 76.7%,#dc0000 79.2%,#fd0000 81.1%,#ff3000 83.3%,#ffa500 87.5%,#fffe00 90.3%,#d4ff2b 91.9%,#aeff51 94.1%,#93ff6c 97.3%,#89ff76 99.8%)"></i><i style="top:93px;background:linear-gradient(90deg,#89ff76 0.0%,#81ff7e 9.5%,#82ff7d 46.3%,#90ff6f 52.0%,#a9ff56 55.1%,#cbff34 57.4%,#f5ff0a 58.9%,#ffff00 59.3%,#ff4600 65.3%,#ff0500 67.8%,#f60000 68.4%,#c50000 71.3%,#af0000 73.8%,#af0000 76.4%,#c60000 78.9%,#f80000 81.7%,#ff0000 82.1%,#ff5b00 85.6%,#fff900 90.6%,#fbff04 90.9%,#cfff30 92.5%,#abff54 94.7%,#91ff6e 97.9%,#8aff75 99.8%)"></i><i style="top:94px;background:linear-gradient(90deg,#8aff75 0.0%,#81ff7e 8.9%,#82ff7d 46.3%,#92ff6d 52.0%,#adff52 55.1%,#d4ff2b 57.4%,#f9ff06 58.6%,#fff100 59.3%,#ff3700 65.3%,#ff0500 67.2%,#f50000 67.8%,#be0000 70.7%,#a30000 73.2%,#9e0000 75.7%,#b00000 78.3%,#d60000 80.8%,#ff0000 82.7%,#ff6000 86.2%,#ffff00 91.3%,#d1ff2e 92.8%,#abff54 95.1%,#91ff6e 98.2%,#8bff74 99.8%)"></i><i style="top:95px;background:linear-gradient(90deg,#8bff74 0.0%,#81ff7e 8.2%,#82ff7d 45.9%,#90ff6f 51.3%,#a9ff56 54.5%,#ceff31 56.7%,#fbff04 58.3%,#ffd100 59.9%,#ff2a00 65.3%,#ff0000 66.9%,#c20000 69.7%,#9f0000 72.2%,#910000 74.8%,#9a0000 77.3%,#b90000 79.8%,#f30000 82.7%,#ff0300 83.3%,#ff7000 87.1%,#fffd00 91.6%,#cbff34 93.5%,#a8ff57 95.7%,#8fff70 98.9%,#8bff74 99.8%)"></i><i style="top:96px;background:linear-gradient(90deg,#8bff74 0.0%,#81ff7e 7.6%,#83ff7c 45.9%,#91ff6e 51.3%,#a8ff57 54.2%,#ceff31 56.4%,#fcff03 58.0%,#ff2000 65.3%,#fd0000 66.5%,#be0000 69.4%,#990000 71.9%,#890000 74.5%,#8f0000 77.0%,#ab0000 79.5%,#e20000 82.4%,#ff0200 83.7%,#ff7900 87.8%,#fffc00 91.9%,#c5ff3a 94.1%,#a3ff5c 96.3%,#8cff73 99.8%)"></i><i style="top:97px;background:linear-gradient(90deg,#8cff73 0.0%,#81ff7e 7.3%,#83ff7c 45.9%,#90ff6f 51.0%,#a8ff57 53.9%,#cdff32 56.1%,#fcff03 57.7%,#ffa900 60.5%,#ff1000 65.6%,#fe0000 66.2%,#be0000 69.1%,#960000 71.6%,#840000 74.1%,#870000 76.7%,#a00000 79.2%,#d40000 82.1%,#ff0300 84.0%,#ff8500 88.4%,#fffc00 92.2%,#c4ff3b 94.4%,#a3ff5c 96.6%,#8dff72 99.8%)"></i><i style="top:98px;background:linear-gradient(90deg,#8dff72 0.0%,#81ff7e 6.7%,#83ff7c 45.6%,#91ff6e 51.0%,#aaff55 53.9%,#ccff33 55.8%,#faff05 57.4%,#fff100 58.0%,#ff1d00 65.0%,#ff0300 65.9%,#af0000 69.7%,#8d0000 72.2%,#800000 74.8%,#880000 77.3%,#a60000 79.8%,#de0000 82.7%,#fd0000 84.0%,#ff5800 87.1%,#fffe00 92.5%,#c3ff3c 94.7%,#a2ff5d 97.0%,#8eff71 99.8%)"></i><i style="top:99px;background:linear-gradient(90deg,#8dff72 0.0%,#81ff7e 6.3%,#83ff7c 45.6%,#90ff6f 50.7%,#a9ff56 53.5%,#cbff34 55.4%,#fffd00 57.4%,#ff1a00 65.0%,#ff0100 65.9%,#b90000 69.1%,#900000 71.9%,#810000 74.5%,#870000 77.0%,#a10000 79.5%,#d60000 82.4%,#fb0000 84.0%,#ff1500 84.9%,#ffc800 90.9%,#fdff02 92.8%,#c1ff3e 95.1%,#a0ff5f 97.3%,#8eff71 99.8%)"></i><i style="top:100px;background:linear-gradient(90deg,#8eff71 0.0%,#82ff7d 6.0%,#82ff7d 45.3%,#91ff6e 50.7%,#abff54 53.5%,#c8ff37 55.1%,#fcff03 57.0%,#ff1200 65.3%,#ff0200 65.9%,#b60000 69.4%,#910000 72.2%,#840000 74.8%,#8c0000 77.3%,#a90000 79.8%,#de0000 82.7%,#fc0000 84.0%,#ff2600 85.6%,#fffc00 92.8%,#beff41 95.4%,#9eff61 97.6%,#8fff70 99.8%)"></i><i style="top:101px;background:linear-gradient(90deg,#8eff71 0.0%,#82ff7d 6.0%,#83ff7c 45.3%,#90ff6f 50.4%,#a9ff56 53.2%,#c5ff3a 54.8%,#fffe00 57.0%,#ff1d00 65.0%,#fc0000 66.2%,#bc0000 69.4%,#970000 72.2%,#8b0000 74.8%,#930000 77.3%,#b40000 80.2%,#f10000 83.3%,#ff0000 84.0%,#ff7800 88.4%,#fcff03 93.2%,#bbff44 95.7%,#9dff62 97.9%,#8fff70 99.8%)"></i><i style="top:102px;background:linear-gradient(90deg,#8fff70 0.0%,#82ff7d 5.7%,#83ff7c 45.3%,#90ff6f 50.4%,#aaff55 53.2%,#c8ff37 54.8%,#fffc00 57.0%,#ff2200 65.0%,#ff0400 66.2%,#e10000 67.8%,#b20000 70.7%,#990000 73.5%,#970000 76.0%,#ac0000 78.9%,#d70000 81.7%,#fe0000 83.7%,#ff6900 87.8%,#feff01 93.2%,#b7ff48 96.0%,#9bff64 98.2%,#90ff6f 99.8%)"></i><i style="top:103px;background:linear-gradient(90deg,#8fff70 0.0%,#82ff7d 5.7%,#83ff7c 45.3%,#91ff6e 50.4%,#a7ff58 52.9%,#c3ff3c 54.5%,#fffc00 57.0%,#ff2a00 65.0%,#fe0000 66.9%,#c70000 70.0%,#aa0000 72.9%,#a40000 75.7%,#b50000 78.6%,#dc0000 81.4%,#ff0200 83.3%,#ff6500 87.5%,#ffff00 93.2%,#b3ff4c 96.3%,#96ff69 98.9%,#90ff6f 99.8%)"></i><i style="top:104px;background:linear-gradient(90deg,#8fff70 0.0%,#82ff7d 5.7%,#83ff7c 45.3%,#91ff6e 50.4%,#a7ff58 52.9%,#ccff33 54.8%,#fffd00 57.0%,#ff3400 65.0%,#fe0000 67.5%,#ce0000 70.7%,#b70000 73.5%,#b60000 76.4%,#cb0000 79.2%,#ff0200 82.7%,#ff5d00 86.8%,#feff01 93.2%,#afff50 96.6%,#94ff6b 99.2%,#90ff6f 99.8%)"></i><i style="top:105px;background:linear-gradient(90deg,#8fff70 0.0%,#82ff7d 5.7%,#83ff7c 45.3%,#91ff6e 50.4%,#a8ff57 52.9%,#e1ff1e 55.8%,#ffff00 57.0%,#ff4100 65.0%,#ff0400 68.1%,#f40000 69.1%,#d10000 72.2%,#c70000 75.1%,#d20000 77.9%,#f60000 81.1%,#ff0100 81.7%,#ff4b00 85.6%,#fffb00 92.8%,#edff12 93.8%,#aaff55 97.0%,#92ff6d 99.5%,#90ff6f 99.8%)"></i><i style="top:106px;background:linear-gradient(90deg,#8fff70 0.0%,#82ff7d 5.7%,#83ff7c 45.6%,#90ff6f 50.4%,#a7ff58 52.9%,#fffc00 57.4%,#ff5000 65.0%,#ff0d00 68.8%,#fc0000 70.0%,#e20000 73.2%,#df0000 76.0%,#f30000 79.2%,#ff0200 80.5%,#ff3a00 84.0%,#ffa700 89.0%,#ffff00 92.8%,#aaff55 97.0%,#91ff6e 99.5%,#90ff6f 99.8%)"></i><i style="top:107px;background:linear-gradient(90deg,#8eff71 0.0%,#82ff7d 5.7%,#83ff7c 45.6%,#90ff6f 50.4%,#a7ff58 52.9%,#fcff03 57.4%,#ffb700 60.8%,#ff4b00 66.2%,#ff1800 69.7%,#fe0000 72.6%,#f80000 75.7%,#ff0400 78.3%,#ff2a00 81.7%,#ff7100 85.9%,#fffe00 92.5%,#a5ff5a 97.3%,#8fff70 99.8%)"></i><i style="top:108px;background:linear-gradient(90deg,#8eff71 0.0%,#82ff7d 5.7%,#83ff7c 45.9%,#91ff6e 50.7%,#a5ff5a 52.9%,#fffd00 58.0%,#ff7000 65.3%,#ff3800 69.1%,#ff1a00 72.6%,#ff1400 75.7%,#ff2300 78.9%,#ff4a00 82.4%,#ff9500 86.8%,#ffff00 92.2%,#a4ff5b 97.3%,#8fff70 99.8%)"></i><i style="top:109px;background:linear-gradient(90deg,#8dff72 0.0%,#81ff7e 6.0%,#83ff7c 45.9%,#90ff6f 50.7%,#a4ff5b 52.9%,#fdff02 58.3%,#ff7c00 65.9%,#ff4a00 70.0%,#ff3400 73.5%,#ff3600 77.0%,#ff4e00 80.5%,#ff8300 84.6%,#fffd00 91.6%,#9eff61 97.6%,#8eff71 99.8%)"></i><i style="top:110px;background:linear-gradient(90deg,#8cff73 0.0%,#81ff7e 6.7%,#83ff7c 46.6%,#91ff6e 51.0%,#a6ff59 53.2%,#fffc00 59.3%,#ff9500 65.9%,#ff6800 70.0%,#ff5400 73.8%,#ff5700 77.3%,#ff7200 81.1%,#ffa900 85.6%,#fffe00 90.9%,#a0ff5f 97.3%,#8dff72 99.8%)"></i><i style="top:111px;background:linear-gradient(90deg,#8bff74 0.0%,#81ff7e 7.0%,#83ff7c 46.9%,#91ff6e 51.3%,#aeff51 54.2%,#fffd00 60.2%,#ffa800 66.5%,#ff8200 71.0%,#ff7500 74.8%,#ff7f00 78.6%,#ffa000 82.7%,#ffec00 88.7%,#ffff00 90.0%,#9dff62 97.3%,#8bff74 99.8%)"></i><i style="top:112px;background:linear-gradient(90deg,#89ff76 0.0%,#80ff7f 7.9%,#83ff7c 47.2%,#91ff6e 51.6%,#c9ff36 57.0%,#fffe00 61.5%,#ffbd00 67.5%,#ffa000 71.9%,#ff9a00 76.0%,#ffaa00 80.2%,#ffd700 85.2%,#feff01 88.7%,#9aff65 97.3%,#8aff75 99.8%)"></i><i style="top:113px;background:linear-gradient(90deg,#88ff77 0.0%,#80ff7f 9.5%,#83ff7c 47.8%,#92ff6d 52.3%,#ebff14 61.5%,#fffd00 63.7%,#ffd000 69.4%,#ffc000 74.1%,#ffc800 78.9%,#ffe800 84.0%,#fcff03 86.8%,#93ff6c 97.6%,#88ff77 99.8%)"></i><i style="top:114px;background:linear-gradient(90deg,#86ff79 0.0%,#80ff7f 12.7%,#83ff7c 48.5%,#90ff6f 52.6%,#feff01 67.2%,#ffe900 72.9%,#ffea00 77.9%,#fdff02 83.0%,#8cff73 98.2%,#87ff78 99.8%)"></i><i style="top:115px;background:linear-gradient(90deg,#85ff7a 0.0%,#80ff7f 21.2%,#83ff7c 49.4%,#94ff6b 54.2%,#e1ff1e 68.1%,#efff10 74.5%,#e6ff19 80.5%,#beff41 88.7%,#88ff77 98.5%,#85ff7a 99.8%)"></i><i style="top:116px;background:linear-gradient(90deg,#83ff7c 0.0%,#82ff7d 49.4%,#95ff6a 56.7%,#c1ff3e 69.7%,#c5ff3a 77.3%,#b0ff4f 86.2%,#83ff7c 99.5%,#83ff7c 99.8%)"></i><i style="top:117px;background:linear-gradient(90deg,#81ff7e 0.0%,#83ff7c 52.6%,#9cff63 73.2%,#94ff6b 86.2%,#81ff7e 99.8%)"></i><i style="top:118px;background:linear-gradient(90deg,#7fff80 0.0%,#7cff83 56.4%,#74ff8b 78.9%,#7fff80 99.8%)"></i><i style="top:119px;background:linear-gradient(90deg,#7dff82 0.0%,#7cff83 50.7%,#4cffb3 71.0%,#4dffb2 79.8%,#7dff82 99.8%)"></i><i style="top:120px;background:linear-gradient(90deg,#7bff84 0.0%,#7fff80 32.0%,#7bff84 50.4%,#5dffa2 57.7%,#2affd5 68.8%,#20ffdf 75.4%,#2effd1 82.4%,#79ff86 98.9%,#7bff84 99.8%)"></i><i style="top:121px;background:linear-gradient(90deg,#79ff86 0.0%,#7fff80 14.9%,#7cff83 48.8%,#6eff91 52.9%,#0bfff4 67.8%,#00fcff 71.3%,#00f8ff 76.7%,#04fffb 80.8%,#32ffcd 88.4%,#74ff8b 98.2%,#79ff86 99.8%)"></i><i style="top:122px;background:linear-gradient(90deg,#78ff87 0.0%,#7fff80 10.5%,#7cff83 48.2%,#6eff91 52.3%,#00fdff 65.0%,#00d8ff 70.7%,#00cfff 75.4%,#00dcff 80.2%,#02fffd 85.6%,#6fff90 97.9%,#77ff88 99.8%)"></i><i style="top:123px;background:linear-gradient(90deg,#76ff89 0.0%,#7fff80 8.6%,#7cff83 47.5%,#6dff92 52.0%,#29ffd6 58.6%,#00fcff 62.4%,#00c2ff 68.4%,#00abff 72.9%,#00acff 77.3%,#00c3ff 81.7%,#02fffd 88.1%,#67ff98 97.3%,#76ff89 99.8%)"></i><i style="top:124px;background:linear-gradient(90deg,#75ff8a 0.0%,#7fff80 7.3%,#7cff83 46.9%,#6fff90 51.3%,#4cffb3 54.8%,#00ffff 60.5%,#00adff 67.2%,#008cff 71.6%,#0084ff 75.7%,#0094ff 79.8%,#00c0ff 84.6%,#02fffd 89.7%,#63ff9c 97.3%,#74ff8b 99.8%)"></i><i style="top:125px;background:linear-gradient(90deg,#74ff8b 0.0%,#7eff81 6.7%,#7cff83 46.6%,#6dff92 51.3%,#52ffad 53.9%,#00fdff 59.6%,#009cff 66.2%,#0072ff 70.3%,#0061ff 74.1%,#0067ff 77.9%,#0087ff 82.1%,#00c9ff 87.1%,#00ffff 90.6%,#60ff9f 97.3%,#73ff8c 99.8%)"></i><i style="top:126px;background:linear-gradient(90deg,#73ff8c 0.0%,#7eff81 6.3%,#7cff83 46.3%,#6dff92 51.0%,#58ffa7 53.2%,#00ffff 58.6%,#0086ff 65.9%,#0056ff 70.0%,#0041ff 73.5%,#0043ff 77.0%,#005aff 80.5%,#008cff 84.6%,#03fffc 91.6%,#5effa1 97.3%,#72ff8d 99.8%)"></i><i style="top:127px;background:linear-gradient(90deg,#72ff8d 0.0%,#7eff81 6.0%,#7cff83 45.9%,#6eff91 50.7%,#5affa5 52.9%,#01fffe 58.0%,#006eff 65.9%,#003cff 69.7%,#0023ff 73.2%,#0022ff 76.4%,#0037ff 79.8%,#0066ff 83.7%,#00ccff 89.4%,#00fdff 91.9%,#60ff9f 97.6%,#71ff8e 99.8%)"></i><i style="top:128px;background:linear-gradient(90deg,#71ff8e 0.0%,#7dff82 5.7%,#7cff83 45.6%,#6fff90 50.4%,#59ffa6 52.9%,#00feff 57.7%,#0064ff 65.3%,#0029ff 69.1%,#000bff 72.2%,#0003ff 75.4%,#0011ff 78.6%,#0037ff 82.1%,#007eff 86.2%,#02fffd 92.5%,#5bffa4 97.3%,#70ff8f 99.8%)"></i><i style="top:129px;background:linear-gradient(90deg,#71ff8e 0.0%,#7dff82 5.7%,#7cff83 45.6%,#6fff90 50.4%,#58ffa7 52.9%,#00feff 57.4%,#0051ff 65.3%,#0012ff 69.1%,#0000fe 70.7%,#0000e9 73.8%,#0000eb 76.7%,#0000ff 79.5%,#0031ff 83.0%,#0088ff 87.5%,#02fffd 92.8%,#55ffaa 97.0%,#6eff91 99.5%,#70ff8f 99.8%)"></i><i style="top:130px;background:linear-gradient(90deg,#70ff8f 0.0%,#7dff82 5.7%,#7cff83 45.6%,#6eff91 50.4%,#57ffa8 52.9%,#10ffef 56.4%,#02fffd 57.0%,#0040ff 65.3%,#0001ff 68.8%,#0000da 72.2%,#0000d0 75.1%,#0000db 77.9%,#0000fe 81.1%,#0036ff 84.3%,#00b0ff 89.7%,#00fcff 92.8%,#55ffaa 97.0%,#6dff92 99.5%,#6fff90 99.8%)"></i><i style="top:131px;background:linear-gradient(90deg,#70ff8f 0.0%,#7dff82 5.7%,#7cff83 45.3%,#6eff91 50.4%,#57ffa8 52.9%,#33ffcc 54.8%,#00feff 57.0%,#0039ff 65.0%,#0000ff 67.8%,#0000d1 71.0%,#0000bd 73.8%,#0000bf 76.7%,#0000d6 79.5%,#0002ff 82.4%,#0052ff 86.2%,#02fffd 93.2%,#50ffaf 96.6%,#6bff94 99.2%,#6fff90 99.8%)"></i><i style="top:132px;background:linear-gradient(90deg,#70ff8f 0.0%,#7dff82 5.7%,#7cff83 45.3%,#6eff91 50.4%,#58ffa7 52.9%,#3bffc4 54.5%,#00fcff 57.0%,#002eff 65.0%,#0000fc 67.2%,#0000c8 70.3%,#0000ae 73.2%,#0000ab 76.0%,#0000be 78.9%,#0000ed 82.1%,#0000ff 83.0%,#0060ff 87.1%,#00ffff 93.2%,#4bffb4 96.3%,#67ff98 98.5%,#6fff90 99.8%)"></i><i style="top:133px;background:linear-gradient(90deg,#70ff8f 0.0%,#7dff82 5.7%,#7cff83 45.3%,#6fff90 50.4%,#54ffab 53.2%,#36ffc9 54.8%,#00fcff 57.0%,#0025ff 65.0%,#0000ff 66.5%,#0000c4 69.7%,#0000a4 72.6%,#00009b 75.4%,#0000aa 78.3%,#0000d0 81.1%,#0003ff 83.7%,#0073ff 88.1%,#00ffff 93.2%,#4dffb2 96.3%,#69ff96 98.9%,#6fff90 99.8%)"></i><i style="top:134px;background:linear-gradient(90deg,#71ff8e 0.0%,#7dff82 6.0%,#7cff83 45.6%,#6dff92 50.7%,#56ffa9 53.2%,#39ffc6 54.8%,#00fdff 57.0%,#001fff 65.0%,#0000ff 66.2%,#0000bf 69.4%,#00009b 72.2%,#00008f 74.8%,#000097 77.3%,#0000b7 80.2%,#0000f3 83.3%,#0003ff 84.0%,#0079ff 88.4%,#02fffd 93.2%,#49ffb6 96.0%,#65ff9a 98.2%,#70ff8f 99.8%)"></i><i style="top:135px;background:linear-gradient(90deg,#71ff8e 0.0%,#7eff81 6.0%,#7cff83 45.6%,#6eff91 50.7%,#53ffac 53.5%,#35ffca 55.1%,#01fffe 57.0%,#001bff 65.0%,#0003ff 65.9%,#0000b3 69.7%,#000090 72.6%,#000087 75.1%,#000091 77.6%,#0000b5 80.5%,#0000f5 83.7%,#0006ff 84.3%,#008bff 89.0%,#00fbff 92.8%,#16ffe9 93.8%,#46ffb9 95.7%,#63ff9c 97.9%,#70ff8f 99.8%)"></i><i style="top:136px;background:linear-gradient(90deg,#72ff8d 0.0%,#7eff81 6.3%,#7cff83 45.9%,#6cff93 51.0%,#55ffaa 53.5%,#3affc5 55.1%,#06fff9 57.0%,#00f2ff 57.7%,#001aff 65.0%,#0001ff 65.9%,#0000ba 69.1%,#000091 71.9%,#000082 74.5%,#000088 77.0%,#0000a2 79.5%,#0000d6 82.4%,#0000fb 84.0%,#0015ff 84.9%,#00c6ff 90.9%,#00ffff 92.8%,#43ffbc 95.4%,#61ff9e 97.6%,#71ff8e 99.8%)"></i><i style="top:137px;background:linear-gradient(90deg,#72ff8d 0.0%,#7eff81 6.7%,#7cff83 45.9%,#6dff92 51.0%,#53ffac 53.9%,#30ffcf 55.8%,#02fffd 57.4%,#0013ff 65.3%,#0002ff 65.9%,#0000b4 69.4%,#000090 71.9%,#000080 74.5%,#000086 77.0%,#0000a1 79.5%,#0000d6 82.4%,#0000fc 84.0%,#0031ff 85.9%,#00fbff 92.5%,#33ffcc 94.4%,#55ffaa 96.3%,#6eff91 99.2%,#71ff8e 99.8%)"></i><i style="top:138px;background:linear-gradient(90deg,#73ff8c 0.0%,#7eff81 7.0%,#7cff83 46.3%,#6cff93 51.3%,#52ffad 54.2%,#2effd1 56.1%,#00ffff 57.7%,#001fff 65.0%,#0000fc 66.2%,#0000bc 69.1%,#000095 71.6%,#000082 74.1%,#000086 76.7%,#00009e 79.2%,#0000d2 82.1%,#0001ff 84.0%,#0082ff 88.4%,#00f9ff 92.2%,#0dfff2 92.8%,#39ffc6 94.4%,#5bffa4 96.6%,#72ff8d 99.8%)"></i><i style="top:139px;background:linear-gradient(90deg,#74ff8b 0.0%,#7fff80 7.6%,#7bff84 46.6%,#6cff93 51.6%,#51ffae 54.5%,#2effd1 56.4%,#00feff 58.0%,#0026ff 65.0%,#0003ff 66.2%,#0000c7 68.8%,#00009e 71.3%,#000088 73.8%,#000089 76.4%,#00009f 78.9%,#0000d1 81.7%,#0000fe 83.7%,#0058ff 86.8%,#03fffc 92.2%,#38ffc7 94.1%,#5bffa4 96.3%,#71ff8e 99.5%,#73ff8c 99.8%)"></i><i style="top:140px;background:linear-gradient(90deg,#74ff8b 0.0%,#7fff80 7.9%,#7bff84 46.9%,#6bff94 52.0%,#50ffaf 54.8%,#2effd1 56.7%,#00feff 58.3%,#002fff 65.0%,#0004ff 66.5%,#0000ec 67.5%,#0000b3 70.3%,#000095 72.9%,#00008d 75.4%,#00009c 77.9%,#0000c0 80.5%,#0000fe 83.3%,#0062ff 86.8%,#00f8ff 91.6%,#03fffc 91.9%,#31ffce 93.5%,#56ffa9 95.7%,#70ff8f 98.9%,#74ff8b 99.8%)"></i><i style="top:141px;background:linear-gradient(90deg,#75ff8a 0.0%,#7fff80 8.6%,#7bff84 47.2%,#6bff94 52.3%,#50ffaf 55.1%,#27ffd8 57.4%,#01fffe 58.6%,#0032ff 65.3%,#0000ff 67.2%,#0000c3 70.0%,#0000a3 72.6%,#000098 75.1%,#0000a4 77.6%,#0000c5 80.2%,#0003ff 83.0%,#006eff 86.8%,#00faff 91.3%,#0ffff0 91.9%,#38ffc7 93.5%,#5affa5 95.7%,#72ff8d 99.2%,#74ff8b 99.8%)"></i><i style="top:142px;background:linear-gradient(90deg,#76ff89 0.0%,#7fff80 9.5%,#7bff84 47.5%,#6bff94 52.6%,#50ffaf 55.4%,#29ffd6 57.7%,#04fffb 58.9%,#00e5ff 59.9%,#003fff 65.3%,#0000fd 67.8%,#0000c7 70.7%,#0000ac 73.2%,#0000a7 75.7%,#0000b8 78.3%,#0000df 80.8%,#0001ff 82.4%,#005fff 85.9%,#00fdff 90.9%,#33ffcc 92.8%,#56ffa9 95.1%,#6fff90 98.2%,#75ff8a 99.8%)"></i><i style="top:143px;background:linear-gradient(90deg,#77ff88 0.0%,#80ff7f 10.5%,#7bff84 47.8%,#6bff94 52.9%,#51ffae 55.8%,#2cffd3 58.0%,#00feff 59.6%,#004fff 65.3%,#0001ff 68.4%,#0000cf 71.3%,#0000b9 73.8%,#0000ba 76.4%,#0000d0 78.9%,#0000fc 81.4%,#0019ff 82.7%,#0078ff 86.2%,#03fffc 90.6%,#2effd1 92.2%,#53ffac 94.4%,#6dff92 97.6%,#76ff89 99.8%)"></i><i style="top:144px;background:linear-gradient(90deg,#77ff88 0.0%,#80ff7f 11.4%,#7aff85 48.2%,#6bff94 53.2%,#4effb1 56.4%,#28ffd7 58.6%,#05fffa 59.9%,#00f1ff 60.5%,#0059ff 65.6%,#000dff 68.8%,#0001ff 69.4%,#0000d7 72.2%,#0000ca 74.8%,#0000d3 77.3%,#0000f1 79.8%,#0003ff 80.8%,#004bff 84.0%,#00d7ff 88.7%,#00feff 90.0%,#2bffd4 91.6%,#50ffaf 93.8%,#6cff93 97.0%,#77ff88 99.8%)"></i><i style="top:145px;background:linear-gradient(90deg,#78ff87 0.0%,#80ff7f 13.0%,#7aff85 48.8%,#69ff96 53.9%,#4cffb3 57.0%,#25ffda 59.3%,#03fffc 60.5%,#00acff 63.4%,#0045ff 67.2%,#000bff 70.0%,#0000fc 71.0%,#0000e4 73.5%,#0000e1 76.0%,#0000f5 78.6%,#0003ff 79.5%,#0039ff 82.4%,#0094ff 85.9%,#00fdff 89.4%,#2fffd0 91.3%,#55ffaa 93.8%,#6fff90 97.3%,#78ff87 99.8%)"></i><i style="top:146px;background:linear-gradient(90deg,#79ff86 0.0%,#81ff7e 14.6%,#7aff85 49.1%,#69ff96 54.2%,#4effb1 57.4%,#24ffdb 59.9%,#04fffb 61.2%,#00caff 63.1%,#0063ff 66.9%,#0028ff 69.7%,#0006ff 72.2%,#0000fa 73.8%,#0000fb 76.4%,#0007ff 77.9%,#002aff 80.5%,#006eff 83.7%,#00f3ff 88.4%,#00fdff 88.7%,#2dffd2 90.6%,#53ffac 93.2%,#6eff91 96.6%,#78ff87 99.8%)"></i><i style="top:147px;background:linear-gradient(90deg,#79ff86 0.0%,#81ff7e 16.2%,#79ff86 49.7%,#68ff97 54.8%,#4cffb3 58.0%,#24ffdb 60.5%,#00fcff 62.1%,#0083ff 66.5%,#0041ff 69.7%,#0020ff 72.2%,#0013ff 74.8%,#001cff 77.3%,#0039ff 79.8%,#0070ff 82.7%,#00d2ff 86.5%,#00ffff 88.1%,#27ffd8 89.7%,#4effb1 92.2%,#6bff94 95.7%,#79ff86 99.8%)"></i><i style="top:148px;background:linear-gradient(90deg,#7aff85 0.0%,#81ff7e 18.1%,#79ff86 50.4%,#67ff98 55.4%,#48ffb7 58.9%,#18ffe7 61.8%,#01fffe 62.7%,#008eff 67.2%,#0057ff 70.0%,#0039ff 72.6%,#002fff 75.1%,#003aff 77.6%,#005fff 80.5%,#00a0ff 83.7%,#00fbff 87.1%,#14ffeb 88.1%,#45ffba 90.9%,#66ff99 94.4%,#79ff86 99.5%,#7aff85 99.8%)"></i><i style="top:149px;background:linear-gradient(90deg,#7bff84 0.0%,#82ff7d 19.0%,#79ff86 50.7%,#67ff98 56.1%,#48ffb7 59.6%,#1bffe4 62.4%,#00ffff 63.7%,#00a3ff 67.5%,#0070ff 70.3%,#0053ff 73.2%,#004eff 75.7%,#005eff 78.3%,#0086ff 81.1%,#00d1ff 84.6%,#03fffc 86.5%,#34ffcb 89.0%,#5affa5 92.2%,#73ff8c 96.6%,#7bff84 99.8%)"></i><i style="top:150px;background:linear-gradient(90deg,#7bff84 0.0%,#82ff7d 19.6%,#7dff82 42.5%,#76ff89 52.6%,#62ff9d 57.4%,#41ffbe 60.8%,#0efff1 64.0%,#01fffe 64.6%,#00a7ff 68.8%,#007fff 71.6%,#006eff 74.1%,#0071ff 76.7%,#008bff 79.5%,#00c2ff 82.7%,#00fcff 85.2%,#3fffc0 89.0%,#61ff9e 92.5%,#77ff88 97.6%,#7bff84 99.8%)"></i><i style="top:151px;background:linear-gradient(90deg,#7cff83 0.0%,#83ff7c 20.0%,#7cff83 39.3%,#78ff87 52.0%,#66ff99 57.4%,#46ffb9 61.2%,#10ffef 65.0%,#00feff 65.9%,#00bbff 69.4%,#0099ff 72.2%,#008dff 75.1%,#009aff 77.9%,#00bdff 80.8%,#02fffd 84.3%,#3dffc2 88.1%,#61ff9e 91.9%,#77ff88 97.0%,#7cff83 99.8%)"></i><i style="top:152px;background:linear-gradient(90deg,#7dff82 0.0%,#84ff7b 19.6%,#7bff84 37.4%,#79ff86 52.0%,#68ff97 57.7%,#45ffba 62.1%,#06fff9 66.9%,#00fcff 67.5%,#00caff 70.7%,#00b2ff 73.5%,#00b1ff 76.4%,#00c8ff 79.2%,#00f8ff 82.4%,#03fffc 83.0%,#44ffbb 87.8%,#65ff9a 91.9%,#79ff86 97.6%,#7cff83 99.8%)"></i><i style="top:153px;background:linear-gradient(90deg,#7dff82 0.0%,#85ff7a 19.3%,#79ff86 36.1%,#79ff86 52.0%,#68ff97 58.3%,#46ffb9 63.1%,#00feff 69.1%,#00d9ff 72.6%,#00d1ff 75.4%,#00dfff 78.3%,#01fffe 81.1%,#4affb5 87.5%,#6aff95 92.2%,#7cff83 99.2%,#7dff82 99.8%)"></i><i style="top:154px;background:linear-gradient(90deg,#7eff81 0.0%,#86ff79 19.0%,#78ff87 34.9%,#7aff85 52.0%,#6aff95 58.6%,#47ffb8 64.0%,#01fffe 71.6%,#00f4ff 75.1%,#02fffd 78.6%,#59ffa6 88.4%,#74ff8b 94.1%,#7eff81 99.8%)"></i><i style="top:155px;background:linear-gradient(90deg,#7eff81 0.0%,#88ff77 18.7%,#76ff89 33.9%,#7aff85 52.0%,#6aff95 59.3%,#46ffb9 65.3%,#16ffe9 71.9%,#0efff1 75.7%,#20ffdf 79.8%,#61ff9e 88.7%,#78ff87 95.4%,#7eff81 99.8%)"></i><i style="top:156px;background:linear-gradient(90deg,#7fff80 0.0%,#8aff75 18.4%,#74ff8b 33.3%,#7bff84 52.3%,#6bff94 59.9%,#44ffbb 67.2%,#26ffd9 72.9%,#25ffda 77.0%,#42ffbd 82.7%,#6bff94 90.0%,#7dff82 98.2%,#7fff80 99.8%)"></i><i style="top:157px;background:linear-gradient(90deg,#7fff80 0.0%,#8dff72 18.1%,#71ff8e 32.6%,#7bff84 52.3%,#6cff93 60.5%,#36ffc9 72.9%,#37ffc8 77.6%,#71ff8e 90.9%,#7fff80 99.8%)"></i></div><div class="fm" style="left:1111.8px;top:67.5px;width:157.8px;height:157.8px"><i style="top:0px;background:linear-gradient(90deg,#80ff7f 0.0%,#9bff64 10.1%,#adff52 16.5%,#a4ff5b 20.3%,#7cff83 25.3%,#5affa5 29.8%,#52ffad 33.6%,#7dff82 49.1%,#a3ff5c 66.9%,#97ff68 71.3%,#63ff9c 79.8%,#5dffa2 84.3%,#80ff7f 99.8%)"></i><i style="top:1px;background:linear-gradient(90deg,#81ff7e 0.0%,#9aff65 8.6%,#b7ff48 16.2%,#b1ff4e 19.6%,#91ff6e 23.4%,#58ffa7 28.8%,#48ffb7 32.3%,#51ffae 36.8%,#76ff89 46.3%,#9cff63 66.5%,#91ff6e 71.6%,#67ff98 80.5%,#65ff9a 85.9%,#81ff7e 99.8%)"></i><i style="top:2px;background:linear-gradient(90deg,#82ff7d 0.0%,#9aff65 7.6%,#c3ff3c 15.8%,#c0ff3f 19.0%,#a6ff59 22.2%,#51ffae 28.5%,#3dffc2 31.4%,#3dffc2 34.5%,#72ff8d 45.6%,#97ff68 66.2%,#8dff72 71.9%,#6bff94 80.8%,#6cff93 87.1%,#82ff7d 99.8%)"></i><i style="top:3px;background:linear-gradient(90deg,#84ff7b 0.0%,#9bff64 7.0%,#d3ff2c 15.8%,#d2ff2d 18.7%,#bcff43 21.2%,#84ff7b 24.7%,#49ffb6 28.2%,#30ffcf 30.7%,#2bffd4 33.6%,#43ffbc 38.0%,#6cff93 44.7%,#81ff7e 53.2%,#92ff6d 67.2%,#84ff7b 73.8%,#6eff91 81.7%,#74ff8b 90.6%,#83ff7c 99.8%)"></i><i style="top:4px;background:linear-gradient(90deg,#85ff7a 0.0%,#9dff62 6.3%,#e5ff1a 15.8%,#e7ff18 18.4%,#d5ff2a 20.6%,#a9ff56 23.1%,#41ffbe 27.9%,#21ffde 30.1%,#16ffe9 32.6%,#24ffdb 35.8%,#61ff9e 43.4%,#79ff86 49.4%,#8fff70 66.5%,#82ff7d 74.1%,#71ff8e 82.7%,#80ff7f 97.6%,#84ff7b 99.8%)"></i><i style="top:5px;background:linear-gradient(90deg,#86ff79 0.0%,#9dff62 5.7%,#c7ff38 10.5%,#fbff04 15.5%,#fffd00 18.4%,#f2ff0d 20.0%,#c8ff37 22.2%,#2dffd2 28.2%,#08fff7 30.4%,#00fdff 31.7%,#03fffc 34.2%,#36ffc9 39.3%,#60ff9f 44.0%,#78ff87 49.7%,#8cff73 65.9%,#81ff7e 74.5%,#73ff8c 83.7%,#86ff79 99.8%)"></i><i style="top:6px;background:linear-gradient(90deg,#87ff78 0.0%,#9eff61 5.1%,#c4ff3b 9.2%,#fffe00 13.6%,#ffdf00 16.5%,#ffe000 18.1%,#fff700 20.0%,#fbff04 20.6%,#b9ff46 23.1%,#27ffd8 27.9%,#01fffe 29.5%,#00e2ff 31.7%,#00dfff 33.3%,#00f7ff 35.8%,#05fffa 36.8%,#4affb5 42.1%,#6bff94 46.6%,#7eff81 53.2%,#89ff76 67.8%,#76ff89 84.0%,#85ff7a 99.2%,#87ff78 99.8%)"></i><i style="top:7px;background:linear-gradient(90deg,#89ff76 0.0%,#a0ff5f 4.8%,#c8ff37 8.6%,#fffe00 12.0%,#ffc900 15.2%,#ffbf00 16.8%,#ffc800 18.4%,#ffe900 20.3%,#fdff02 21.2%,#abff54 23.8%,#1affe5 27.9%,#00fdff 28.8%,#00d3ff 30.7%,#00c2ff 32.3%,#00c1ff 33.9%,#00d4ff 35.5%,#01fffe 38.0%,#41ffbe 42.1%,#64ff9b 45.9%,#7aff85 51.3%,#87ff78 65.9%,#78ff87 85.2%,#87ff78 99.2%,#88ff77 99.8%)"></i><i style="top:8px;background:linear-gradient(90deg,#8aff75 0.0%,#a3ff5c 4.4%,#cbff34 7.9%,#feff01 10.8%,#ffaf00 14.6%,#ffa100 16.2%,#ffa600 17.7%,#ffbe00 19.3%,#fff100 21.2%,#fffb00 21.5%,#edff12 22.2%,#0dfff2 27.9%,#02fffd 28.2%,#00c2ff 30.4%,#00a8ff 32.0%,#00a0ff 33.6%,#00acff 35.2%,#00caff 36.8%,#00fcff 39.0%,#3fffc0 42.8%,#62ff9d 46.3%,#79ff86 51.3%,#86ff79 64.6%,#7aff85 86.5%,#87ff78 98.9%,#8aff75 99.8%)"></i><i style="top:9px;background:linear-gradient(90deg,#8cff73 0.0%,#a5ff5a 4.1%,#ccff33 7.3%,#feff01 9.8%,#ff9c00 13.6%,#ff8500 15.2%,#ff8200 16.8%,#ff9400 18.4%,#ffb800 20.0%,#fff800 21.9%,#f9ff06 22.2%,#01fffe 27.9%,#00b4ff 30.1%,#0091ff 31.7%,#0081ff 33.3%,#0086ff 34.9%,#009fff 36.4%,#00fbff 39.9%,#18ffe7 41.2%,#47ffb8 44.0%,#67ff98 47.5%,#7bff84 52.9%,#85ff7a 67.2%,#7bff84 87.1%,#87ff78 98.5%,#8bff74 99.8%)"></i><i style="top:10px;background:linear-gradient(90deg,#8eff71 0.0%,#a7ff58 3.8%,#cdff32 6.7%,#fcff03 8.9%,#ffe900 9.8%,#ff8700 13.0%,#ff6a00 14.6%,#ff6200 16.2%,#ff6f00 17.7%,#ff9100 19.3%,#ffd100 21.2%,#fff900 22.2%,#f7ff08 22.5%,#03fffc 27.6%,#00aaff 29.8%,#007eff 31.4%,#0066ff 33.0%,#0063ff 34.5%,#0075ff 36.1%,#009cff 37.7%,#00edff 40.2%,#00feff 40.9%,#3affc5 43.7%,#5cffa3 46.6%,#74ff8b 50.7%,#82ff7d 59.6%,#80ff7f 74.8%,#7dff82 90.0%,#8aff75 98.9%,#8dff72 99.8%)"></i><i style="top:11px;background:linear-gradient(90deg,#8fff70 0.0%,#a9ff56 3.5%,#ccff33 6.0%,#feff01 8.2%,#ffc400 10.1%,#ff7e00 12.0%,#ff5700 13.6%,#ff4400 15.2%,#ff4800 16.8%,#ff6200 18.4%,#ff9100 20.0%,#ffdf00 21.9%,#fffd00 22.5%,#5affa5 25.7%,#08fff7 27.2%,#00f7ff 27.6%,#00a3ff 29.5%,#006fff 31.1%,#004eff 32.6%,#0043ff 34.2%,#004eff 35.8%,#0070ff 37.4%,#00a4ff 39.0%,#00e8ff 40.9%,#00fbff 41.5%,#14ffeb 42.5%,#44ffbb 45.0%,#65ff9a 48.2%,#79ff86 52.9%,#83ff7c 65.9%,#7eff81 89.7%,#8aff75 98.5%,#8fff70 99.8%)"></i><i style="top:12px;background:linear-gradient(90deg,#91ff6e 0.0%,#aaff55 3.2%,#d1ff2e 5.7%,#ffff00 7.6%,#ffbf00 9.5%,#ff7100 11.4%,#ff4300 13.0%,#ff2900 14.6%,#ff2700 16.2%,#ff3c00 17.7%,#ff6800 19.3%,#ffa600 20.9%,#fff400 22.5%,#f9ff06 22.8%,#00feff 27.2%,#00a1ff 29.2%,#0063ff 30.7%,#003aff 32.3%,#0026ff 33.9%,#002bff 35.5%,#0046ff 37.1%,#0075ff 38.7%,#00dbff 41.2%,#00faff 42.1%,#0dfff2 42.8%,#3cffc3 45.0%,#5fffa0 47.8%,#76ff89 52.0%,#81ff7e 61.5%,#7fff80 91.6%,#8cff73 98.9%,#90ff6f 99.8%)"></i><i style="top:13px;background:linear-gradient(90deg,#93ff6c 0.0%,#afff50 3.2%,#d5ff2a 5.4%,#fdff02 7.0%,#ffd600 8.2%,#ff5b00 11.1%,#ff2a00 12.7%,#ff0f00 14.3%,#ff0a00 15.8%,#ff1e00 17.4%,#ff4900 19.0%,#ff8900 20.6%,#ffeb00 22.5%,#fffd00 22.8%,#09fff6 26.9%,#00f6ff 27.2%,#0092ff 29.2%,#0050ff 30.7%,#0022ff 32.3%,#000bff 33.9%,#000dff 35.5%,#0026ff 37.1%,#0055ff 38.7%,#00a4ff 40.6%,#00dbff 41.8%,#00fbff 42.8%,#1fffe0 44.0%,#49ffb6 46.3%,#66ff99 49.1%,#7aff85 53.9%,#82ff7d 67.5%,#80ff7f 91.6%,#8cff73 98.5%,#92ff6d 99.8%)"></i><i style="top:14px;background:linear-gradient(90deg,#95ff6a 0.0%,#b0ff4f 2.9%,#d8ff27 5.1%,#faff05 6.3%,#fffa00 6.7%,#ffbd00 8.2%,#ff6200 10.1%,#ff2700 11.7%,#ff0500 13.0%,#f90000 13.6%,#ed0000 15.2%,#f60000 16.5%,#ff0100 17.1%,#ff2c00 18.7%,#ff6c00 20.3%,#ffd100 22.2%,#fff600 22.8%,#f4ff0b 23.1%,#03fffc 26.9%,#0076ff 29.5%,#0033ff 31.1%,#0005ff 32.6%,#0000f9 33.3%,#0000ee 34.5%,#0000f6 36.1%,#0002ff 36.8%,#002bff 38.3%,#0068ff 39.9%,#00d0ff 42.1%,#00feff 43.4%,#31ffce 45.3%,#54ffab 47.5%,#6eff91 50.7%,#7dff82 56.4%,#7fff80 75.4%,#82ff7d 93.8%,#91ff6e 99.2%,#94ff6b 99.8%)"></i><i style="top:15px;background:linear-gradient(90deg,#97ff68 0.0%,#b6ff49 2.9%,#daff25 4.8%,#feff01 6.0%,#ffc100 7.6%,#ff5300 9.8%,#ff1400 11.4%,#ff0100 12.0%,#df0000 13.6%,#d50000 14.9%,#dc0000 16.2%,#f30000 17.4%,#ff0600 18.1%,#ff4200 19.6%,#ff9100 21.2%,#fff000 22.8%,#f9ff06 23.1%,#12ffed 26.6%,#00fcff 26.9%,#008aff 28.8%,#003cff 30.4%,#0002ff 32.0%,#0000de 33.6%,#0000d5 34.9%,#0000dc 36.1%,#0000fb 37.7%,#000eff 38.3%,#004aff 39.9%,#00d5ff 42.8%,#00f9ff 43.7%,#0efff1 44.4%,#3cffc3 46.3%,#5effa1 48.8%,#75ff8a 52.6%,#80ff7f 60.8%,#81ff7e 92.8%,#8fff70 98.5%,#96ff69 99.8%)"></i><i style="top:16px;background:linear-gradient(90deg,#9aff65 0.0%,#b6ff49 2.5%,#dcff23 4.4%,#fffc00 5.7%,#ffc800 7.0%,#ff4600 9.5%,#ff0500 11.1%,#f00000 11.7%,#cb0000 13.3%,#c00000 14.6%,#c40000 15.8%,#da0000 17.1%,#ff0000 18.4%,#ff4400 20.0%,#ffae00 21.9%,#feff01 23.1%,#0efff1 26.6%,#00f8ff 26.9%,#0081ff 28.8%,#002fff 30.4%,#0007ff 31.4%,#0000fb 31.7%,#0000d0 33.3%,#0000c1 34.5%,#0000c2 35.8%,#0000da 37.4%,#0000fe 38.7%,#003dff 40.2%,#00adff 42.5%,#00e9ff 43.7%,#01fffe 44.4%,#2dffd2 45.9%,#54ffab 48.2%,#6eff91 51.3%,#7dff82 57.0%,#82ff7d 93.5%,#92ff6d 98.9%,#98ff67 99.8%)"></i><i style="top:17px;background:linear-gradient(90deg,#9cff63 0.0%,#bbff44 2.5%,#e6ff19 4.4%,#faff05 5.1%,#fff900 5.4%,#ffc300 6.7%,#ff4c00 8.9%,#ff0500 10.5%,#ed0000 11.1%,#c10000 12.7%,#af0000 13.9%,#ad0000 15.2%,#bd0000 16.5%,#dc0000 17.7%,#ff0000 18.7%,#ff4b00 20.3%,#ffbc00 22.2%,#fffc00 23.1%,#64ff9b 25.3%,#0afff5 26.6%,#00f3ff 26.9%,#0079ff 28.8%,#0024ff 30.4%,#0008ff 31.1%,#0000fa 31.4%,#0000c7 33.0%,#0000b1 34.2%,#0000ac 35.5%,#0000b8 36.8%,#0000dd 38.3%,#0000fd 39.3%,#0033ff 40.6%,#00a6ff 42.8%,#00d8ff 43.7%,#00feff 44.7%,#34ffcb 46.6%,#58ffa7 48.8%,#70ff8f 52.0%,#7eff81 58.0%,#83ff7c 93.5%,#92ff6d 98.5%,#9aff65 99.8%)"></i><i style="top:18px;background:linear-gradient(90deg,#9eff61 0.0%,#baff45 2.2%,#e6ff19 4.1%,#faff05 4.8%,#ffec00 5.4%,#ffbe00 6.3%,#ff3600 8.9%,#ff0a00 9.8%,#fc0000 10.1%,#c50000 11.7%,#a40000 13.3%,#9c0000 14.6%,#a50000 15.8%,#be0000 17.1%,#ff0300 19.0%,#ff5500 20.6%,#ffcd00 22.5%,#fff900 23.1%,#eeff11 23.4%,#08fff7 26.6%,#00f0ff 26.9%,#0073ff 28.8%,#001bff 30.4%,#0000fd 31.1%,#0000c3 32.6%,#0000a7 33.9%,#00009c 35.2%,#0000a2 36.4%,#0000c0 38.0%,#0002ff 39.9%,#005cff 41.8%,#00d5ff 44.0%,#00fdff 45.0%,#35ffca 46.9%,#59ffa6 49.1%,#71ff8e 52.3%,#7eff81 58.6%,#83ff7c 93.5%,#93ff6c 98.5%,#9cff63 99.8%)"></i><i style="top:19px;background:linear-gradient(90deg,#a0ff5f 0.0%,#bfff40 2.2%,#e5ff1a 3.8%,#faff05 4.4%,#fff900 4.8%,#ffce00 5.7%,#ff3300 8.6%,#ff0600 9.5%,#f70000 9.8%,#be0000 11.4%,#9b0000 13.0%,#900000 14.3%,#950000 15.5%,#ac0000 16.8%,#e00000 18.4%,#fb0000 19.0%,#ff1b00 19.6%,#ff7600 21.2%,#fff700 23.1%,#f0ff0f 23.4%,#06fff9 26.6%,#00d8ff 27.2%,#005bff 29.2%,#0005ff 30.7%,#0000e8 31.4%,#0000b1 33.0%,#000098 34.2%,#00008f 35.5%,#000098 36.8%,#0000b9 38.3%,#0000f0 39.9%,#0000fd 40.2%,#0039ff 41.5%,#00e3ff 44.7%,#00fdff 45.3%,#36ffc9 47.2%,#5affa5 49.4%,#71ff8e 52.6%,#7eff81 58.9%,#83ff7c 93.5%,#92ff6d 98.2%,#9eff61 99.8%)"></i><i style="top:20px;background:linear-gradient(90deg,#a2ff5d 0.0%,#c3ff3c 2.2%,#edff12 3.8%,#fffa00 4.4%,#ffcf00 5.4%,#ff3300 8.2%,#ff0500 9.2%,#e90000 9.8%,#b20000 11.4%,#900000 13.0%,#860000 14.3%,#8e0000 15.5%,#a60000 16.8%,#db0000 18.4%,#f70000 19.0%,#ff0700 19.3%,#ff6000 20.9%,#fff600 23.1%,#f1ff0e 23.4%,#05fffa 26.6%,#00d6ff 27.2%,#0058ff 29.2%,#0001ff 30.7%,#0000be 32.3%,#00009b 33.6%,#000089 34.9%,#000088 36.1%,#00009d 37.7%,#0000ca 39.3%,#0000fc 40.6%,#0029ff 41.5%,#00c4ff 44.4%,#00f3ff 45.3%,#00ffff 45.6%,#30ffcf 47.2%,#53ffac 49.1%,#6dff92 52.0%,#7cff83 57.0%,#84ff7b 93.5%,#93ff6c 98.2%,#a0ff5f 99.8%)"></i><i style="top:21px;background:linear-gradient(90deg,#a3ff5c 0.0%,#c7ff38 2.2%,#f5ff0a 3.8%,#fffe00 4.1%,#ffd200 5.1%,#ff3600 7.9%,#ff0800 8.9%,#f90000 9.2%,#bc0000 10.8%,#930000 12.4%,#810000 13.9%,#860000 15.2%,#9b0000 16.5%,#cc0000 18.1%,#f50000 19.0%,#ff0600 19.3%,#ff5f00 20.9%,#fff600 23.1%,#f1ff0e 23.4%,#04fffb 26.6%,#00bfff 27.6%,#0044ff 29.5%,#0000ff 30.7%,#0000bc 32.3%,#000098 33.6%,#000085 34.9%,#000082 36.1%,#000095 37.7%,#0000c0 39.3%,#0000ff 40.9%,#006fff 43.1%,#00e8ff 45.3%,#03fffc 45.9%,#33ffcc 47.5%,#55ffaa 49.4%,#6eff91 52.3%,#7dff82 57.7%,#84ff7b 93.5%,#94ff6b 98.2%,#a1ff5e 99.8%)"></i><i style="top:22px;background:linear-gradient(90deg,#a5ff5a 0.0%,#c4ff3b 1.9%,#f0ff0f 3.5%,#fcff03 3.8%,#ffe700 4.4%,#ff2d00 7.9%,#ff0000 8.9%,#b70000 10.8%,#900000 12.4%,#800000 13.9%,#850000 15.2%,#9b0000 16.5%,#cd0000 18.1%,#f70000 19.0%,#ff0700 19.3%,#ff6000 20.9%,#fff600 23.1%,#f1ff0e 23.4%,#05fffa 26.6%,#00d7ff 27.2%,#0059ff 29.2%,#0001ff 30.7%,#0000bd 32.3%,#000098 33.6%,#000084 34.9%,#000080 36.1%,#000092 37.7%,#0000bb 39.3%,#0000f7 40.9%,#0006ff 41.2%,#0075ff 43.4%,#00edff 45.6%,#00fbff 45.9%,#1dffe2 46.9%,#44ffbb 48.5%,#62ff9d 50.7%,#76ff89 54.2%,#7fff80 63.1%,#83ff7c 93.2%,#93ff6c 97.9%,#a3ff5c 99.8%)"></i><i style="top:23px;background:linear-gradient(90deg,#a6ff59 0.0%,#c7ff38 1.9%,#fffc00 3.8%,#ffaa00 5.4%,#ff1800 8.2%,#fb0000 8.9%,#bf0000 10.5%,#960000 12.0%,#830000 13.6%,#860000 14.9%,#980000 16.2%,#c60000 17.7%,#fb0000 19.0%,#ff1b00 19.6%,#ff8c00 21.5%,#fff800 23.1%,#efff10 23.4%,#07fff8 26.6%,#00efff 26.9%,#005cff 29.2%,#0005ff 30.7%,#0000e7 31.4%,#0000ad 33.0%,#00008b 34.5%,#000082 35.8%,#00008d 37.4%,#0000b0 39.0%,#0000e6 40.6%,#0002ff 41.2%,#006dff 43.4%,#00f4ff 45.9%,#02fffd 46.3%,#33ffcc 47.8%,#56ffa9 49.7%,#6fff90 52.6%,#7dff82 58.0%,#84ff7b 93.5%,#93ff6c 97.9%,#a4ff5b 99.8%)"></i><i style="top:24px;background:linear-gradient(90deg,#a7ff58 0.0%,#c9ff36 1.9%,#fbff04 3.5%,#fff600 3.8%,#ff3400 7.6%,#ff0900 8.6%,#fb0000 8.9%,#c20000 10.5%,#9b0000 12.0%,#890000 13.6%,#900000 15.2%,#af0000 16.8%,#e60000 18.4%,#ff0300 19.0%,#ff5600 20.6%,#ffe500 22.8%,#fffb00 23.1%,#d7ff28 23.8%,#09fff6 26.6%,#00f2ff 26.9%,#0061ff 29.2%,#000cff 30.7%,#0000fc 31.1%,#0000be 32.6%,#000097 34.2%,#000089 35.8%,#000093 37.4%,#0000b3 39.0%,#0000e7 40.6%,#0001ff 41.2%,#0069ff 43.4%,#00fcff 46.3%,#39ffc6 48.2%,#59ffa6 50.1%,#70ff8f 52.9%,#7dff82 58.6%,#84ff7b 93.5%,#94ff6b 97.9%,#a5ff5a 99.8%)"></i><i style="top:25px;background:linear-gradient(90deg,#a8ff57 0.0%,#cbff34 1.9%,#f2ff0d 3.2%,#feff01 3.5%,#ff3500 7.6%,#ff0000 8.9%,#bf0000 10.8%,#9f0000 12.4%,#940000 13.9%,#a00000 15.5%,#c30000 17.1%,#fe0000 18.7%,#ff3b00 20.0%,#ffab00 21.9%,#fffe00 23.1%,#0cfff3 26.6%,#00f6ff 26.9%,#0069ff 29.2%,#0015ff 30.7%,#0007ff 31.1%,#0000f8 31.4%,#0000c0 33.0%,#00009e 34.5%,#000094 36.1%,#0000a1 37.7%,#0000c3 39.3%,#0000f7 40.9%,#0005ff 41.2%,#0068ff 43.4%,#00f7ff 46.3%,#06fff9 46.6%,#2fffd0 47.8%,#54ffab 49.7%,#6dff92 52.3%,#7cff83 57.0%,#84ff7b 93.5%,#94ff6b 97.9%,#a6ff59 99.8%)"></i><i style="top:26px;background:linear-gradient(90deg,#a8ff57 0.0%,#ccff33 1.9%,#fffd00 3.5%,#ff4800 7.3%,#ff0700 8.9%,#fb0000 9.2%,#c30000 11.1%,#a90000 12.7%,#a30000 14.3%,#b40000 15.8%,#dc0000 17.4%,#fe0000 18.4%,#ff4700 20.0%,#ffb200 21.9%,#fbff04 23.1%,#10ffef 26.6%,#00fbff 26.9%,#0073ff 29.2%,#0014ff 31.1%,#0006ff 31.4%,#0000f9 31.7%,#0000c6 33.3%,#0000a9 34.9%,#0000a3 36.4%,#0000b3 38.0%,#0000d6 39.6%,#0000ff 40.9%,#005cff 43.1%,#00f4ff 46.3%,#03fffc 46.6%,#2effd1 47.8%,#54ffab 49.7%,#6dff92 52.3%,#7cff83 57.0%,#84ff7b 93.5%,#94ff6b 97.9%,#a6ff59 99.8%)"></i><i style="top:27px;background:linear-gradient(90deg,#a8ff57 0.0%,#ccff33 1.9%,#f5ff0a 3.2%,#fffb00 3.5%,#ff5000 7.3%,#ff0800 9.2%,#fd0000 9.5%,#cd0000 11.4%,#b80000 13.0%,#b80000 14.6%,#cd0000 16.2%,#f80000 17.7%,#ff0400 18.1%,#ff4500 19.6%,#ffa900 21.5%,#fff500 22.8%,#f6ff09 23.1%,#01fffe 26.9%,#006eff 29.5%,#0017ff 31.4%,#0000fe 32.0%,#0000d1 33.6%,#0000b9 35.2%,#0000b7 36.8%,#0000c9 38.3%,#0000ee 39.9%,#0002ff 40.6%,#0055ff 42.8%,#02fffd 46.6%,#2effd1 47.8%,#4fffb0 49.4%,#6bff94 52.0%,#7bff84 56.4%,#7fff80 82.1%,#86ff79 94.7%,#98ff67 98.5%,#a5ff5a 99.8%)"></i><i style="top:28px;background:linear-gradient(90deg,#a7ff58 0.0%,#cbff34 1.9%,#fffc00 3.5%,#ff5b00 7.3%,#ff0f00 9.5%,#fc0000 10.1%,#dc0000 11.7%,#cd0000 13.3%,#d20000 14.9%,#ea0000 16.5%,#ff0400 17.4%,#ff3b00 19.0%,#ff9300 20.9%,#fffc00 22.8%,#8fff70 24.7%,#08fff7 26.9%,#00f5ff 27.2%,#007dff 29.5%,#002aff 31.4%,#0000ff 32.6%,#0000dc 34.2%,#0000cd 35.8%,#0000d2 37.4%,#0000e9 39.0%,#0001ff 39.9%,#0048ff 42.1%,#00d8ff 45.6%,#02fffd 46.6%,#2fffd0 47.8%,#50ffaf 49.4%,#6cff93 52.0%,#7bff84 56.4%,#84ff7b 93.8%,#93ff6c 97.9%,#a5ff5a 99.8%)"></i><i style="top:29px;background:linear-gradient(90deg,#a6ff59 0.0%,#c9ff36 1.9%,#f2ff0d 3.2%,#ffff00 3.5%,#ff5f00 7.6%,#ff1b00 9.8%,#ff0000 11.1%,#eb0000 12.7%,#e80000 14.3%,#f80000 15.8%,#ff0500 16.5%,#ff2f00 18.1%,#ff7700 20.0%,#ffe200 22.2%,#f9ff06 22.8%,#00feff 27.2%,#008dff 29.5%,#0040ff 31.4%,#0010ff 33.0%,#0002ff 33.6%,#0000e9 35.5%,#0000e9 37.1%,#0002ff 39.0%,#0030ff 40.9%,#0086ff 43.4%,#00f7ff 46.3%,#05fffa 46.6%,#31ffce 47.8%,#52ffad 49.4%,#6cff93 52.0%,#7bff84 56.4%,#84ff7b 93.8%,#92ff6d 97.9%,#a4ff5b 99.8%)"></i><i style="top:30px;background:linear-gradient(90deg,#a4ff5b 0.0%,#c6ff39 1.9%,#eeff11 3.2%,#f9ff06 3.5%,#ffed00 4.1%,#ff7100 7.6%,#ff3400 9.8%,#ff1200 11.7%,#ff0600 13.6%,#ff0e00 15.2%,#ff2800 16.8%,#ff5c00 18.7%,#ffa500 20.6%,#fffe00 22.5%,#09fff6 27.2%,#00f8ff 27.6%,#0093ff 29.8%,#004eff 31.7%,#001fff 33.6%,#000aff 35.2%,#0007ff 36.8%,#0018ff 38.7%,#003fff 40.6%,#008bff 43.1%,#00feff 46.3%,#34ffcb 47.8%,#58ffa7 49.7%,#71ff8e 52.6%,#7dff82 58.3%,#84ff7b 93.8%,#93ff6c 98.2%,#a2ff5d 99.8%)"></i><i style="top:31px;background:linear-gradient(90deg,#a2ff5d 0.0%,#c2ff3d 1.9%,#f2ff0d 3.5%,#fcff03 3.8%,#ff7600 8.2%,#ff4400 10.5%,#ff2c00 12.4%,#ff2900 14.3%,#ff3b00 16.2%,#ff6400 18.1%,#ffad00 20.3%,#fffc00 22.2%,#c8ff37 23.4%,#05fffa 27.6%,#00e8ff 28.2%,#0091ff 30.4%,#0059ff 32.3%,#0035ff 34.2%,#0027ff 36.1%,#0030ff 38.0%,#004cff 39.9%,#008bff 42.5%,#00fbff 45.9%,#26ffd9 47.2%,#4dffb2 48.8%,#68ff97 51.0%,#79ff86 54.8%,#7fff80 68.8%,#84ff7b 94.1%,#92ff6d 98.2%,#a0ff5f 99.8%)"></i><i style="top:32px;background:linear-gradient(90deg,#9fff60 0.0%,#bcff43 1.9%,#fbff04 4.1%,#ffe700 5.1%,#ff9100 8.2%,#ff6500 10.5%,#ff4e00 12.7%,#ff4f00 14.6%,#ff6300 16.5%,#ff8b00 18.4%,#ffce00 20.6%,#fffd00 21.9%,#6fff90 25.3%,#06fff9 27.9%,#00ecff 28.5%,#00a1ff 30.7%,#006cff 33.0%,#0052ff 34.9%,#004cff 36.8%,#005aff 38.7%,#007eff 40.9%,#00c6ff 43.7%,#00fdff 45.6%,#45ffba 48.2%,#61ff9e 50.1%,#76ff89 53.2%,#7fff80 61.2%,#84ff7b 94.1%,#92ff6d 98.5%,#9dff62 99.8%)"></i><i style="top:33px;background:linear-gradient(90deg,#9bff64 0.0%,#b6ff49 1.9%,#fdff02 4.8%,#ffa200 8.9%,#ff7d00 11.4%,#ff7300 13.6%,#ff8000 15.8%,#ffa300 18.1%,#ffe500 20.6%,#fff900 21.2%,#faff05 21.5%,#00ffff 28.5%,#00b6ff 31.1%,#008aff 33.3%,#0075ff 35.5%,#0077ff 37.7%,#008fff 39.9%,#00c6ff 42.8%,#00fcff 45.0%,#4bffb4 48.2%,#68ff97 50.4%,#79ff86 54.2%,#7fff80 68.1%,#84ff7b 94.7%,#92ff6d 98.9%,#9aff65 99.8%)"></i><i style="top:34px;background:linear-gradient(90deg,#97ff68 0.0%,#b4ff4b 2.2%,#ffff00 5.7%,#ffbf00 9.2%,#ffa300 11.7%,#ff9d00 13.9%,#ffab00 16.2%,#ffd200 18.7%,#fffd00 20.6%,#afff50 23.4%,#0cfff3 28.8%,#00faff 29.5%,#00c3ff 32.0%,#00a6ff 34.2%,#009dff 36.4%,#00a9ff 39.0%,#00d0ff 41.8%,#03fffc 44.4%,#53ffac 48.2%,#6dff92 50.7%,#7cff83 55.4%,#84ff7b 95.4%,#94ff6b 99.5%,#96ff69 99.8%)"></i><i style="top:35px;background:linear-gradient(90deg,#93ff6c 0.0%,#abff54 2.2%,#fffd00 7.3%,#ffd600 10.5%,#ffc800 13.3%,#ffd100 15.8%,#ffee00 18.4%,#fffe00 19.3%,#bdff42 22.5%,#1bffe4 29.2%,#02fffd 30.4%,#00d5ff 33.6%,#00c8ff 36.1%,#00d0ff 38.7%,#00f1ff 41.8%,#00ffff 42.8%,#5fffa0 48.5%,#73ff8c 51.3%,#7eff81 58.0%,#84ff7b 95.7%,#92ff6d 99.8%)"></i><i style="top:36px;background:linear-gradient(90deg,#8eff71 0.0%,#a5ff5a 2.5%,#f1ff0e 8.9%,#fffc00 11.1%,#fff600 14.3%,#fbff04 16.8%,#d7ff28 20.0%,#7eff81 25.0%,#2bffd4 29.8%,#05fffa 33.0%,#00faff 34.5%,#00f7ff 37.7%,#04fffb 39.9%,#33ffcc 44.4%,#69ff96 48.8%,#7aff85 52.6%,#7fff80 68.4%,#84ff7b 96.3%,#8dff72 99.8%)"></i><i style="top:37px;background:linear-gradient(90deg,#89ff76 0.0%,#a0ff5f 3.5%,#d0ff2f 9.8%,#daff25 13.6%,#cdff32 17.4%,#a5ff5a 21.9%,#45ffba 30.1%,#2affd5 33.9%,#26ffd9 37.7%,#3bffc4 42.1%,#72ff8d 49.1%,#7eff81 55.1%,#84ff7b 97.6%,#89ff76 99.8%)"></i><i style="top:38px;background:linear-gradient(90deg,#84ff7b 0.0%,#a9ff56 11.4%,#a6ff59 16.8%,#89ff76 23.4%,#5cffa3 32.0%,#55ffaa 37.4%,#67ff98 44.4%,#7cff83 50.7%,#84ff7b 99.8%)"></i><i style="top:39px;background:linear-gradient(90deg,#7fff80 0.0%,#7dff82 20.6%,#83ff7c 41.2%,#7fff80 99.8%)"></i><i style="top:40px;background:linear-gradient(90deg,#7aff85 0.0%,#4dffb2 11.1%,#4effb1 16.2%,#6aff95 21.9%,#a8ff57 31.4%,#b4ff4b 36.4%,#a7ff58 42.1%,#85ff7a 50.1%,#80ff7f 67.5%,#7bff84 99.2%,#7aff85 99.8%)"></i><i style="top:41px;background:linear-gradient(90deg,#75ff8a 0.0%,#5effa1 3.2%,#28ffd7 9.5%,#1cffe3 13.3%,#25ffda 16.8%,#47ffb8 20.6%,#c1ff3e 30.1%,#ddff22 33.9%,#e3ff1c 37.4%,#cfff30 41.5%,#8eff71 49.1%,#82ff7d 54.5%,#7bff84 97.3%,#75ff8a 99.8%)"></i><i style="top:42px;background:linear-gradient(90deg,#70ff8f 0.0%,#58ffa7 2.5%,#09fff6 8.6%,#00fcff 9.8%,#00edff 13.0%,#00f4ff 15.8%,#01fffe 17.4%,#2cffd3 20.6%,#d5ff2a 29.5%,#ffff00 32.6%,#ffee00 35.5%,#fff100 38.3%,#feff01 40.6%,#c4ff3b 45.3%,#97ff68 48.8%,#86ff79 52.6%,#80ff7f 66.9%,#7bff84 96.3%,#71ff8e 99.8%)"></i><i style="top:43px;background:linear-gradient(90deg,#6bff94 0.0%,#52ffad 2.2%,#03fffc 6.7%,#00ceff 10.5%,#00c0ff 13.0%,#00c6ff 15.5%,#00e2ff 18.1%,#00feff 19.6%,#3fffc0 22.5%,#e1ff1e 28.8%,#fcff03 30.1%,#ffd000 33.3%,#ffc000 35.8%,#ffc500 38.3%,#ffe200 41.2%,#fffe00 43.1%,#a2ff5d 48.5%,#8cff73 51.3%,#81ff7e 57.7%,#7bff84 95.4%,#6cff93 99.8%)"></i><i style="top:44px;background:linear-gradient(90deg,#67ff98 0.0%,#49ffb6 2.2%,#02fffd 5.4%,#00b8ff 9.2%,#009bff 11.7%,#0094ff 13.9%,#00a3ff 16.2%,#00c5ff 18.4%,#02fffd 20.9%,#82ff7d 25.0%,#f8ff07 28.8%,#fffe00 29.2%,#ffc200 31.7%,#ffa100 33.9%,#ff9400 36.1%,#ff9c00 38.3%,#ffba00 40.9%,#fffd00 44.4%,#a9ff56 48.5%,#90ff6f 51.0%,#83ff7c 55.8%,#7bff84 95.1%,#6dff92 99.2%,#68ff97 99.8%)"></i><i style="top:45px;background:linear-gradient(90deg,#63ff9c 0.0%,#48ffb7 1.9%,#00fdff 4.8%,#00a8ff 8.2%,#007dff 10.8%,#006cff 13.0%,#0072ff 15.2%,#0090ff 17.4%,#00c4ff 19.6%,#01fffe 21.5%,#f8ff07 28.2%,#fffb00 28.5%,#ffb000 31.1%,#ff8300 33.3%,#ff6d00 35.5%,#ff6f00 37.7%,#ff8700 39.9%,#ffc000 42.8%,#fdff02 45.3%,#b5ff4a 48.2%,#98ff67 50.4%,#86ff79 54.2%,#80ff7f 67.5%,#7bff84 94.4%,#6cff93 98.9%,#65ff9a 99.8%)"></i><i style="top:46px;background:linear-gradient(90deg,#60ff9f 0.0%,#41ffbe 1.9%,#01fffe 4.1%,#008bff 8.2%,#005eff 10.5%,#0047ff 12.7%,#0047ff 14.6%,#005cff 16.5%,#0085ff 18.4%,#00caff 20.6%,#00faff 21.9%,#15ffea 22.5%,#fcff03 27.9%,#ff9c00 30.7%,#ff6b00 32.6%,#ff4e00 34.5%,#ff4400 36.4%,#ff4f00 38.3%,#ff7200 40.6%,#ffb800 43.4%,#fffb00 45.6%,#e6ff19 46.6%,#bbff44 48.2%,#9eff61 50.1%,#8aff75 53.2%,#80ff7f 61.2%,#7bff84 94.1%,#6cff93 98.5%,#62ff9d 99.8%)"></i><i style="top:47px;background:linear-gradient(90deg,#5dffa2 0.0%,#3cffc3 1.9%,#0cfff3 3.5%,#01fffe 3.8%,#007aff 7.9%,#0044ff 10.1%,#0028ff 12.0%,#0021ff 13.9%,#0030ff 15.8%,#0056ff 17.7%,#0091ff 19.6%,#00ebff 21.9%,#00f9ff 22.2%,#08fff7 22.5%,#fcff03 27.6%,#ff8c00 30.4%,#ff5300 32.3%,#ff2e00 34.2%,#ff2000 36.1%,#ff2900 38.0%,#ff4600 39.9%,#ff7d00 42.1%,#fff900 45.9%,#efff10 46.6%,#c7ff38 47.8%,#a5ff5a 49.7%,#8dff72 52.6%,#81ff7e 58.6%,#7bff84 94.1%,#6dff92 98.2%,#5fffa0 99.8%)"></i><i style="top:48px;background:linear-gradient(90deg,#5affa5 0.0%,#38ffc7 1.9%,#10ffef 3.2%,#04fffb 3.5%,#00dfff 4.4%,#0063ff 7.9%,#0028ff 10.1%,#0008ff 12.0%,#0000ff 13.6%,#0008ff 15.2%,#0022ff 16.8%,#0057ff 18.7%,#00a1ff 20.6%,#00fcff 22.5%,#50ffaf 24.1%,#f9ff06 27.2%,#fff500 27.6%,#ff8e00 29.8%,#ff4900 31.7%,#ff1900 33.6%,#ff0400 35.2%,#ff0200 37.1%,#ff1700 39.0%,#ff4200 40.9%,#ff9200 43.4%,#fffc00 46.3%,#ccff33 47.8%,#a7ff58 49.7%,#8eff71 52.6%,#82ff7d 58.3%,#7bff84 93.8%,#6bff94 98.2%,#5dffa2 99.8%)"></i><i style="top:49px;background:linear-gradient(90deg,#59ffa6 0.0%,#35ffca 1.9%,#0cfff3 3.2%,#00feff 3.5%,#005bff 7.6%,#0017ff 9.8%,#0001ff 10.8%,#0000e5 12.7%,#0000e2 14.3%,#0000f3 15.8%,#0000fe 16.5%,#002aff 18.1%,#0073ff 20.0%,#00e0ff 22.2%,#04fffb 22.8%,#f1ff0e 26.9%,#fffc00 27.2%,#ff8a00 29.5%,#ff3b00 31.4%,#ff0b00 33.0%,#fc0000 33.6%,#e50000 35.2%,#e20000 36.8%,#f10000 38.3%,#ff0300 39.3%,#ff3500 41.2%,#ff8f00 43.7%,#fff600 46.3%,#fbff04 46.6%,#cfff30 47.8%,#aeff51 49.4%,#93ff6c 52.0%,#84ff7b 56.4%,#7bff84 93.8%,#6cff93 97.9%,#5bffa4 99.8%)"></i><i style="top:50px;background:linear-gradient(90deg,#58ffa7 0.0%,#34ffcb 1.9%,#00fcff 3.5%,#0058ff 7.3%,#000bff 9.5%,#0002ff 9.8%,#0000d7 11.7%,#0000c8 13.3%,#0000cd 14.9%,#0000e6 16.5%,#0000fe 17.4%,#0037ff 19.0%,#0090ff 20.9%,#00faff 22.8%,#22ffdd 23.4%,#f8ff07 26.9%,#fff300 27.2%,#ff7900 29.5%,#ff2600 31.4%,#ff0500 32.3%,#f20000 33.0%,#d20000 34.5%,#c70000 36.1%,#d00000 37.7%,#ec0000 39.3%,#fc0000 39.9%,#ff1900 40.9%,#ff6a00 43.1%,#fdff02 46.6%,#d1ff2e 47.8%,#afff50 49.4%,#94ff6b 52.0%,#84ff7b 56.4%,#7fff80 84.9%,#78ff87 95.1%,#67ff98 98.5%,#5affa5 99.8%)"></i><i style="top:51px;background:linear-gradient(90deg,#57ffa8 0.0%,#33ffcc 1.9%,#00fbff 3.5%,#004eff 7.3%,#0005ff 9.2%,#0000f0 9.8%,#0000c9 11.4%,#0000b4 13.0%,#0000b4 14.6%,#0000c9 16.2%,#0000f4 17.7%,#0000ff 18.1%,#0042ff 19.6%,#00a7ff 21.5%,#00f3ff 22.8%,#08fff7 23.1%,#ffff00 26.9%,#ff7c00 29.2%,#ff2000 31.1%,#ff0700 31.7%,#fb0000 32.0%,#cd0000 33.6%,#b50000 35.2%,#b30000 36.8%,#c50000 38.3%,#eb0000 39.9%,#fe0000 40.6%,#ff4600 42.5%,#fdff02 46.6%,#d1ff2e 47.8%,#b0ff4f 49.4%,#94ff6b 52.0%,#84ff7b 56.4%,#80ff7f 81.4%,#79ff86 94.4%,#69ff96 98.2%,#59ffa6 99.8%)"></i><i style="top:52px;background:linear-gradient(90deg,#57ffa8 0.0%,#33ffcc 1.9%,#00feff 3.5%,#0039ff 7.6%,#0005ff 8.9%,#0000ee 9.5%,#0000c0 11.1%,#0000a5 12.7%,#0000a0 14.3%,#0000b1 15.8%,#0000d9 17.4%,#0000fb 18.4%,#0017ff 19.0%,#0078ff 20.9%,#03fffc 23.1%,#f0ff0f 26.6%,#fff900 26.9%,#ff7100 29.2%,#ff1f00 30.7%,#ff0400 31.4%,#c30000 33.3%,#a60000 34.9%,#a00000 36.4%,#b00000 38.0%,#d40000 39.6%,#fd0000 40.9%,#ff4c00 42.8%,#fff400 46.3%,#fbff04 46.6%,#d1ff2e 47.8%,#abff54 49.7%,#92ff6d 52.3%,#83ff7c 57.0%,#7bff84 93.5%,#6bff94 97.9%,#59ffa6 99.8%)"></i><i style="top:53px;background:linear-gradient(90deg,#57ffa8 0.0%,#34ffcb 1.9%,#0efff1 3.2%,#01fffe 3.5%,#00b1ff 5.1%,#0026ff 7.9%,#0000fe 8.9%,#0000be 10.8%,#00009d 12.4%,#000091 13.9%,#00009d 15.5%,#0000c1 17.1%,#0000fb 18.7%,#0019ff 19.3%,#0082ff 21.2%,#00fdff 23.1%,#f3ff0c 26.6%,#fff500 26.9%,#ff6700 29.2%,#ff1300 30.7%,#ff0500 31.1%,#e90000 31.7%,#b50000 33.3%,#970000 34.9%,#920000 36.4%,#a40000 38.0%,#ca0000 39.6%,#ff0400 41.2%,#ff6800 43.4%,#fff800 46.3%,#f9ff06 46.6%,#d0ff2f 47.8%,#abff54 49.7%,#92ff6d 52.3%,#83ff7c 57.0%,#7bff84 93.5%,#6bff94 97.9%,#5affa5 99.8%)"></i><i style="top:54px;background:linear-gradient(90deg,#58ffa7 0.0%,#36ffc9 1.9%,#05fffa 3.5%,#00f7ff 3.8%,#0025ff 7.9%,#0009ff 8.6%,#0000fb 8.9%,#0000c1 10.5%,#000099 12.0%,#000088 13.6%,#00008e 15.2%,#0000ad 16.8%,#0000e4 18.4%,#0001ff 19.0%,#0055ff 20.6%,#00ceff 22.5%,#00faff 23.1%,#28ffd7 23.8%,#f7ff08 26.6%,#fff100 26.9%,#ff6000 29.2%,#ff0a00 30.7%,#fa0000 31.1%,#bc0000 32.6%,#950000 34.2%,#870000 35.8%,#910000 37.4%,#b20000 39.0%,#e60000 40.6%,#ff0100 41.2%,#ff6900 43.4%,#fffd00 46.3%,#ceff31 47.8%,#aaff55 49.7%,#90ff6f 52.6%,#82ff7d 58.0%,#7bff84 93.5%,#6bff94 97.9%,#5affa5 99.8%)"></i><i style="top:55px;background:linear-gradient(90deg,#59ffa6 0.0%,#38ffc7 1.9%,#0afff5 3.5%,#00fdff 3.8%,#00bdff 5.1%,#0028ff 7.9%,#0000fc 8.9%,#0000bf 10.5%,#000096 12.0%,#000082 13.6%,#000085 14.9%,#000097 16.2%,#0000c4 17.7%,#0000fa 19.0%,#000aff 19.3%,#0063ff 20.9%,#00f8ff 23.1%,#0ffff0 23.4%,#f9ff06 26.6%,#ffef00 26.9%,#ff5b00 29.2%,#ff0400 30.7%,#cc0000 32.0%,#9b0000 33.6%,#860000 34.9%,#820000 36.1%,#920000 37.7%,#b90000 39.3%,#ff0200 41.2%,#ff6e00 43.4%,#fff500 45.9%,#fcff03 46.3%,#cbff34 47.8%,#a9ff56 49.7%,#90ff6f 52.6%,#82ff7d 58.0%,#7bff84 93.5%,#6cff93 97.9%,#5bffa4 99.8%)"></i><i style="top:56px;background:linear-gradient(90deg,#5affa5 0.0%,#3cffc3 1.9%,#10ffef 3.5%,#05fffa 3.8%,#00e9ff 4.4%,#002eff 7.9%,#0001ff 8.9%,#0000b7 10.8%,#000090 12.4%,#000080 13.9%,#000085 15.2%,#00009b 16.5%,#0000cd 18.1%,#0000f6 19.0%,#0007ff 19.3%,#0060ff 20.9%,#00f6ff 23.1%,#0efff1 23.4%,#faff05 26.6%,#ffd600 27.2%,#ff5800 29.2%,#ff0000 30.7%,#bc0000 32.3%,#980000 33.6%,#840000 34.9%,#800000 36.1%,#920000 37.7%,#bb0000 39.3%,#f80000 40.9%,#ff0700 41.2%,#ff7700 43.4%,#ffef00 45.6%,#fffc00 45.9%,#c8ff37 47.8%,#a7ff58 49.7%,#8fff70 52.6%,#82ff7d 58.3%,#7bff84 93.5%,#6cff93 97.9%,#5cffa3 99.8%)"></i><i style="top:57px;background:linear-gradient(90deg,#5cffa3 0.0%,#38ffc7 2.2%,#0cfff3 3.8%,#00ffff 4.1%,#00d5ff 5.1%,#0038ff 7.9%,#000aff 8.9%,#0000fb 9.2%,#0000be 10.8%,#000094 12.4%,#000082 13.9%,#000086 15.2%,#00009b 16.5%,#0000c1 17.7%,#0000f5 19.0%,#0006ff 19.3%,#005fff 20.9%,#00f6ff 23.1%,#0efff1 23.4%,#fbff04 26.6%,#ffbf00 27.6%,#ff4400 29.5%,#ff0000 30.7%,#bc0000 32.3%,#980000 33.6%,#850000 34.9%,#830000 36.1%,#970000 37.7%,#c20000 39.3%,#ff0200 40.9%,#ff7100 43.1%,#ffea00 45.3%,#fff800 45.6%,#faff05 45.9%,#cbff34 47.5%,#a9ff56 49.4%,#90ff6f 52.3%,#82ff7d 57.7%,#7bff84 93.5%,#6bff94 98.2%,#5effa1 99.8%)"></i><i style="top:58px;background:linear-gradient(90deg,#5effa1 0.0%,#3dffc2 2.2%,#14ffeb 3.8%,#00fcff 4.4%,#00d2ff 5.4%,#0036ff 8.2%,#0008ff 9.2%,#0000f9 9.5%,#0000bd 11.1%,#000097 12.7%,#000089 13.9%,#00008c 15.2%,#00009f 16.5%,#0000c4 17.7%,#0000f8 19.0%,#0008ff 19.3%,#0060ff 20.9%,#00f6ff 23.1%,#0efff1 23.4%,#faff05 26.6%,#ffd600 27.2%,#ff5900 29.2%,#ff0200 30.7%,#bf0000 32.3%,#9d0000 33.6%,#8a0000 34.9%,#890000 36.1%,#9f0000 37.7%,#cc0000 39.3%,#ff0000 40.6%,#ff5d00 42.5%,#ffe700 45.0%,#fdff02 45.6%,#ceff31 47.2%,#abff54 49.1%,#91ff6e 52.0%,#82ff7d 57.4%,#7bff84 93.5%,#6cff93 98.2%,#60ff9f 99.8%)"></i><i style="top:59px;background:linear-gradient(90deg,#60ff9f 0.0%,#41ffbe 2.2%,#1cffe3 3.8%,#00fbff 4.8%,#00d2ff 5.7%,#0036ff 8.6%,#0009ff 9.5%,#0000fb 9.8%,#0000c1 11.4%,#00009d 13.0%,#000092 14.3%,#000097 15.5%,#0000ae 16.8%,#0000d5 18.1%,#0000fd 19.0%,#002dff 20.0%,#00a0ff 21.9%,#00f7ff 23.1%,#0ffff0 23.4%,#f9ff06 26.6%,#ffee00 26.9%,#ff6f00 28.8%,#ff1600 30.4%,#ff0600 30.7%,#f70000 31.1%,#bc0000 32.6%,#9e0000 33.9%,#920000 35.2%,#970000 36.4%,#b30000 38.0%,#e60000 39.6%,#ff0100 40.2%,#ff5d00 42.1%,#ffd800 44.4%,#feff01 45.3%,#cfff30 46.9%,#adff52 48.8%,#92ff6d 51.6%,#83ff7c 56.7%,#80ff7f 83.7%,#79ff86 95.1%,#67ff98 99.2%,#61ff9e 99.8%)"></i><i style="top:60px;background:linear-gradient(90deg,#62ff9d 0.0%,#46ffb9 2.2%,#1bffe4 4.1%,#00fbff 5.1%,#00c2ff 6.3%,#003aff 8.9%,#0001ff 10.1%,#0000c9 11.7%,#0000a8 13.3%,#00009f 14.6%,#0000a7 15.8%,#0000c0 17.1%,#0000f6 18.7%,#0005ff 19.0%,#0056ff 20.6%,#00ceff 22.5%,#00faff 23.1%,#28ffd7 23.8%,#f7ff08 26.6%,#fff100 26.9%,#ff7400 28.8%,#ff1d00 30.4%,#ff0000 31.1%,#c50000 32.6%,#aa0000 33.9%,#9f0000 35.2%,#a50000 36.4%,#c40000 38.0%,#f80000 39.6%,#ff0600 39.9%,#ff6000 41.8%,#ffd900 44.0%,#ffff00 45.0%,#d0ff2f 46.6%,#aaff55 48.8%,#8fff70 52.0%,#82ff7d 57.7%,#7cff83 93.5%,#6cff93 98.5%,#63ff9c 99.8%)"></i><i style="top:61px;background:linear-gradient(90deg,#64ff9b 0.0%,#45ffba 2.5%,#1bffe4 4.4%,#00fcff 5.4%,#00c7ff 6.7%,#0041ff 9.2%,#000aff 10.5%,#0000fd 10.8%,#0000cc 12.4%,#0000b3 13.9%,#0000b1 15.2%,#0000c0 16.5%,#0000df 17.7%,#0002ff 18.7%,#004cff 20.3%,#00bdff 22.2%,#00fdff 23.1%,#f4ff0b 26.6%,#fff400 26.9%,#ff7b00 28.8%,#ff2600 30.4%,#fc0000 31.4%,#ca0000 33.0%,#b50000 34.2%,#b00000 35.5%,#bc0000 36.8%,#e10000 38.3%,#ff0200 39.3%,#ff5700 41.2%,#ffdb00 43.7%,#feff01 44.7%,#d1ff2e 46.3%,#aaff55 48.5%,#90ff6f 51.6%,#82ff7d 57.4%,#7cff83 93.5%,#6eff91 98.5%,#65ff9a 99.8%)"></i><i style="top:62px;background:linear-gradient(90deg,#66ff99 0.0%,#4affb5 2.5%,#25ffda 4.4%,#00ffff 5.7%,#00ccff 7.0%,#004bff 9.5%,#000aff 11.1%,#0000fe 11.4%,#0000d5 13.0%,#0000c5 14.3%,#0000c6 15.5%,#0000d6 16.8%,#0003ff 18.4%,#0046ff 20.0%,#00b0ff 21.9%,#02fffd 23.1%,#f0ff0f 26.6%,#fff800 26.9%,#ff8300 28.8%,#ff3100 30.4%,#fe0000 31.7%,#d40000 33.3%,#c50000 34.5%,#c60000 35.8%,#df0000 37.4%,#ff0400 38.7%,#ff4200 40.2%,#ffb300 42.5%,#ffec00 43.7%,#fbff04 44.4%,#c9ff36 46.3%,#a7ff58 48.5%,#8fff70 51.6%,#81ff7e 58.0%,#7dff82 93.5%,#6dff92 98.9%,#67ff98 99.8%)"></i><i style="top:63px;background:linear-gradient(90deg,#68ff97 0.0%,#4affb5 2.9%,#1fffe0 5.1%,#03fffc 6.0%,#00edff 6.7%,#00b6ff 7.9%,#004aff 10.1%,#0010ff 11.7%,#0000fd 12.4%,#0000e0 13.9%,#0000da 15.2%,#0000e4 16.5%,#0000ff 17.7%,#0037ff 19.3%,#0082ff 20.9%,#00f1ff 22.8%,#07fff8 23.1%,#fffd00 26.9%,#ff8d00 28.8%,#ff3f00 30.4%,#ff0600 32.0%,#f40000 32.6%,#df0000 33.9%,#da0000 35.2%,#eb0000 36.8%,#ff0100 37.7%,#ff3600 39.3%,#ff8b00 41.2%,#ffd900 42.8%,#fffc00 43.7%,#c8ff37 45.9%,#a3ff5c 48.5%,#8cff73 52.0%,#80ff7f 59.3%,#7dff82 93.2%,#6fff90 98.9%,#69ff96 99.8%)"></i><i style="top:64px;background:linear-gradient(90deg,#6aff95 0.0%,#50ffaf 2.9%,#29ffd6 5.1%,#00feff 6.7%,#00c2ff 8.2%,#005bff 10.5%,#0023ff 12.0%,#0000ff 13.6%,#0000f3 15.2%,#0000ff 16.8%,#0026ff 18.4%,#0061ff 20.0%,#00c1ff 21.9%,#00f8ff 22.8%,#0cfff3 23.1%,#fbff04 26.9%,#ffcb00 27.9%,#ff6a00 29.8%,#ff2c00 31.4%,#ff0400 33.0%,#f30000 34.9%,#ff0200 36.4%,#ff2700 38.0%,#ff6000 39.6%,#ffd500 42.1%,#fff700 43.1%,#fcff03 43.4%,#ccff33 45.3%,#a6ff59 47.8%,#8eff71 51.3%,#80ff7f 58.3%,#7eff81 92.8%,#70ff8f 98.9%,#6bff94 99.8%)"></i><i style="top:65px;background:linear-gradient(90deg,#6cff93 0.0%,#51ffae 3.2%,#2cffd3 5.4%,#05fffa 7.0%,#00f1ff 7.6%,#00b3ff 9.2%,#0062ff 11.1%,#0031ff 12.7%,#0014ff 14.3%,#0010ff 15.8%,#0023ff 17.4%,#004dff 19.0%,#008cff 20.6%,#00edff 22.5%,#00ffff 22.8%,#f4ff0b 26.9%,#fff800 27.2%,#ff9500 29.2%,#ff5400 30.7%,#ff2700 32.3%,#ff1100 33.9%,#ff1300 35.5%,#ff2c00 37.1%,#ff5b00 38.7%,#ffaa00 40.6%,#ffdf00 41.8%,#ffff00 42.8%,#caff35 45.0%,#a6ff59 47.5%,#8eff71 51.0%,#80ff7f 58.0%,#81ff7e 77.6%,#7dff82 94.1%,#6dff92 99.8%)"></i><i style="top:66px;background:linear-gradient(90deg,#6eff91 0.0%,#52ffad 3.5%,#2affd5 6.0%,#04fffb 7.6%,#00f0ff 8.2%,#00b7ff 9.8%,#006dff 11.7%,#0042ff 13.3%,#002dff 14.9%,#002fff 16.5%,#0048ff 18.1%,#0076ff 19.6%,#00c6ff 21.5%,#00f6ff 22.5%,#08fff7 22.8%,#feff01 27.2%,#ff9600 29.5%,#ff5d00 31.1%,#ff3900 32.6%,#ff2b00 34.2%,#ff3500 35.8%,#ff5400 37.4%,#ff8800 39.0%,#ffe000 41.2%,#fffe00 42.1%,#c7ff38 44.7%,#a2ff5d 47.5%,#8aff75 51.6%,#7eff81 60.5%,#80ff7f 91.3%,#73ff8c 98.9%,#6fff90 99.8%)"></i><i style="top:67px;background:linear-gradient(90deg,#70ff8f 0.0%,#57ffa8 3.5%,#2fffd0 6.3%,#05fffa 8.2%,#00f2ff 8.9%,#00b2ff 10.8%,#007cff 12.4%,#0058ff 13.9%,#0049ff 15.5%,#0051ff 17.1%,#006eff 18.7%,#00a0ff 20.3%,#00f0ff 22.2%,#00ffff 22.5%,#f5ff0a 27.2%,#fff900 27.6%,#ffa700 29.5%,#ff7300 31.1%,#ff5300 32.6%,#ff4900 34.2%,#ff5500 35.8%,#ff7700 37.4%,#ffb700 39.3%,#fff600 41.2%,#ffff00 41.5%,#c8ff37 44.0%,#a3ff5c 46.9%,#8bff74 51.0%,#7eff81 59.6%,#80ff7f 76.0%,#80ff7f 91.9%,#72ff8d 99.5%,#71ff8e 99.8%)"></i><i style="top:68px;background:linear-gradient(90deg,#72ff8d 0.0%,#59ffa6 3.8%,#34ffcb 6.7%,#00feff 9.2%,#00beff 11.4%,#008eff 13.0%,#0071ff 14.6%,#0068ff 16.2%,#0074ff 17.7%,#0095ff 19.3%,#00d4ff 21.2%,#00fbff 22.2%,#27ffd8 23.1%,#faff05 27.6%,#ffe900 28.2%,#ffa400 30.1%,#ff7d00 31.7%,#ff6900 33.3%,#ff6b00 34.9%,#ff8300 36.4%,#ffad00 38.0%,#fff100 40.2%,#fcff03 40.9%,#c9ff36 43.4%,#a5ff5a 46.3%,#8cff73 50.4%,#7dff82 58.9%,#7eff81 73.5%,#83ff7c 88.4%,#77ff88 98.5%,#72ff8d 99.8%)"></i><i style="top:69px;background:linear-gradient(90deg,#73ff8c 0.0%,#5bffa4 4.1%,#35ffca 7.3%,#00fcff 10.1%,#009dff 13.9%,#0089ff 15.5%,#008aff 17.1%,#009eff 18.7%,#00cfff 20.6%,#00fbff 21.9%,#15ffea 22.5%,#fcff03 27.9%,#ffb900 30.1%,#ff9700 31.7%,#ff8800 33.3%,#ff8d00 34.9%,#ffa600 36.4%,#ffff00 39.9%,#c8ff37 42.8%,#a3ff5c 45.9%,#8aff75 50.4%,#7cff83 60.2%,#7eff81 73.2%,#85ff7a 86.8%,#78ff87 98.5%,#74ff8b 99.8%)"></i><i style="top:70px;background:linear-gradient(90deg,#75ff8a 0.0%,#5dffa2 4.4%,#37ffc8 7.9%,#00feff 11.1%,#00b6ff 14.6%,#00a7ff 16.2%,#00acff 17.7%,#00c3ff 19.3%,#00f4ff 21.2%,#00feff 21.5%,#4fffb0 23.8%,#efff10 27.9%,#fffa00 28.5%,#ffc700 30.4%,#ffad00 32.0%,#ffa700 33.6%,#ffb300 35.2%,#ffed00 38.0%,#feff01 39.0%,#c2ff3d 42.5%,#9eff61 45.9%,#88ff77 50.7%,#79ff86 63.1%,#7fff80 74.8%,#86ff79 86.5%,#78ff87 98.9%,#76ff89 99.8%)"></i><i style="top:71px;background:linear-gradient(90deg,#76ff89 0.0%,#60ff9f 4.8%,#39ffc6 8.6%,#00fdff 12.4%,#00ccff 15.5%,#00c6ff 17.1%,#00d1ff 18.7%,#00f4ff 20.6%,#05fffa 21.2%,#55ffaa 23.8%,#e2ff1d 27.9%,#fdff02 28.8%,#ffd300 31.1%,#ffc600 32.6%,#ffca00 34.2%,#fff500 37.1%,#feff01 37.7%,#c0ff3f 41.8%,#9cff63 45.6%,#86ff79 51.0%,#77ff88 65.6%,#84ff7b 77.6%,#87ff78 87.8%,#77ff88 99.8%)"></i><i style="top:72px;background:linear-gradient(90deg,#78ff87 0.0%,#60ff9f 5.4%,#39ffc6 9.5%,#00ffff 13.9%,#00e4ff 16.8%,#00ebff 18.7%,#02fffd 20.3%,#35ffca 22.5%,#d5ff2a 27.9%,#fffe00 29.8%,#ffe700 31.7%,#ffe600 33.6%,#feff01 36.1%,#b3ff4c 42.1%,#93ff6c 46.6%,#80ff7f 53.5%,#75ff8a 67.8%,#8aff75 83.7%,#7aff85 99.2%,#78ff87 99.8%)"></i><i style="top:73px;background:linear-gradient(90deg,#79ff86 0.0%,#63ff9c 5.7%,#37ffc8 10.8%,#09fff6 15.5%,#02fffd 18.1%,#11ffee 20.0%,#39ffc6 22.2%,#cfff30 28.2%,#f3ff0c 30.4%,#fdff02 32.3%,#f0ff0f 35.2%,#a4ff5b 43.1%,#8aff75 48.5%,#73ff8c 63.4%,#77ff88 71.3%,#8cff73 82.4%,#80ff7f 96.3%,#7aff85 99.8%)"></i><i style="top:74px;background:linear-gradient(90deg,#7aff85 0.0%,#63ff9c 6.3%,#1effe1 15.8%,#1cffe3 18.4%,#2dffd2 20.6%,#58ffa7 23.1%,#c1ff3e 28.2%,#dcff23 30.4%,#e4ff1b 33.0%,#d5ff2a 36.1%,#9bff64 43.7%,#84ff7b 50.4%,#6fff90 66.9%,#7dff82 74.1%,#90ff6f 82.4%,#83ff7c 94.7%,#7bff84 99.8%)"></i><i style="top:75px;background:linear-gradient(90deg,#7cff83 0.0%,#65ff9a 7.0%,#30ffcf 15.8%,#31ffce 18.7%,#45ffba 21.2%,#81ff7e 25.0%,#b7ff48 28.5%,#cdff32 31.1%,#d0ff2f 33.9%,#afff50 39.6%,#8eff71 45.9%,#6eff91 63.1%,#6eff91 69.7%,#93ff6c 81.4%,#8eff71 89.0%,#7cff83 99.8%)"></i><i style="top:76px;background:linear-gradient(90deg,#7dff82 0.0%,#65ff9a 7.9%,#3fffc0 15.8%,#41ffbe 19.0%,#5bffa4 22.2%,#afff50 28.8%,#c1ff3e 32.0%,#bbff44 35.8%,#8cff73 45.6%,#66ff99 66.5%,#71ff8e 71.9%,#96ff69 80.8%,#95ff6a 86.8%,#7dff82 99.8%)"></i><i style="top:77px;background:linear-gradient(90deg,#7eff81 0.0%,#65ff9a 8.9%,#4affb5 16.2%,#50ffaf 19.6%,#6fff90 23.4%,#a8ff57 29.2%,#b5ff4a 32.6%,#aaff55 37.4%,#87ff78 46.9%,#61ff9e 66.9%,#6cff93 71.6%,#9aff65 80.2%,#9dff62 85.2%,#7eff81 99.8%)"></i><i style="top:78px;background:linear-gradient(90deg,#7fff80 0.0%,#64ff9b 10.5%,#54ffab 16.8%,#5effa1 20.6%,#a3ff5c 29.8%,#abff54 33.9%,#81ff7e 49.4%,#63ff9c 61.8%,#5affa5 67.5%,#67ff98 71.6%,#9fff60 79.8%,#a5ff5a 84.3%,#80ff7f 99.8%)"></i><i style="top:79px;background:linear-gradient(90deg,#80ff7f 0.0%,#5cffa3 16.8%,#68ff97 21.2%,#9cff63 29.8%,#a2ff5d 34.2%,#69ff96 58.6%,#51ffae 66.2%,#58ffa7 70.0%,#7aff85 74.5%,#a5ff5a 79.5%,#afff50 83.3%,#9dff62 89.7%,#81ff7e 99.5%,#81ff7e 99.8%)"></i><i style="top:80px;background:linear-gradient(90deg,#81ff7e 0.0%,#63ff9c 16.8%,#6fff90 21.9%,#98ff67 30.4%,#9aff65 35.8%,#6dff92 56.4%,#46ffb9 66.2%,#4cffb3 69.7%,#6aff95 73.2%,#a9ff56 78.9%,#b9ff46 82.1%,#b3ff4c 86.2%,#89ff76 96.3%,#82ff7d 99.8%)"></i><i style="top:81px;background:linear-gradient(90deg,#83ff7c 0.0%,#68ff97 16.8%,#75ff8a 22.5%,#94ff6b 30.7%,#93ff6c 37.1%,#70ff8f 54.8%,#44ffbb 63.4%,#37ffc8 67.2%,#41ffbe 70.0%,#64ff9b 73.2%,#b0ff4f 78.6%,#c5ff3a 81.4%,#c5ff3a 84.6%,#8eff71 95.4%,#83ff7c 99.8%)"></i><i style="top:82px;background:linear-gradient(90deg,#84ff7b 0.0%,#6dff92 16.8%,#7aff85 23.4%,#91ff6e 31.7%,#8bff74 40.6%,#71ff8e 53.9%,#51ffae 59.9%,#29ffd6 65.9%,#2affd5 68.8%,#40ffbf 71.3%,#74ff8b 74.5%,#b9ff46 78.3%,#d3ff2c 80.8%,#d8ff27 83.3%,#c5ff3a 87.1%,#95ff6a 94.4%,#84ff7b 99.8%)"></i><i style="top:83px;background:linear-gradient(90deg,#85ff7a 0.0%,#70ff8f 16.5%,#7dff82 24.1%,#8eff71 32.6%,#7fff80 47.5%,#6aff95 54.8%,#45ffba 60.2%,#17ffe8 65.6%,#12ffed 68.1%,#1effe1 70.0%,#41ffbe 72.2%,#c7ff38 78.3%,#e5ff1a 80.5%,#edff12 83.0%,#dcff23 86.2%,#9fff60 93.5%,#86ff79 99.5%,#85ff7a 99.8%)"></i><i style="top:84px;background:linear-gradient(90deg,#86ff79 0.0%,#73ff8c 15.8%,#7eff81 24.4%,#8cff73 33.6%,#79ff86 49.7%,#63ff9c 55.4%,#39ffc6 60.2%,#02fffd 65.3%,#00f6ff 67.8%,#01fffe 69.4%,#26ffd9 71.6%,#78ff87 74.8%,#d5ff2a 78.3%,#fcff03 80.5%,#fff500 82.7%,#fcff03 84.9%,#a9ff56 92.8%,#8cff73 97.9%,#87ff78 99.8%)"></i><i style="top:85px;background:linear-gradient(90deg,#88ff77 0.0%,#76ff89 13.9%,#7dff82 23.4%,#89ff76 33.9%,#7aff85 49.1%,#64ff9b 54.5%,#40ffbf 58.6%,#00fdff 63.4%,#00dbff 66.2%,#00d9ff 67.8%,#00edff 69.7%,#00ffff 70.7%,#44ffbb 73.2%,#dbff24 77.9%,#fffd00 79.5%,#ffdf00 81.4%,#ffd800 83.0%,#ffe200 84.6%,#ffff00 86.8%,#b7ff48 92.2%,#96ff69 96.3%,#88ff77 99.8%)"></i><i style="top:86px;background:linear-gradient(90deg,#89ff76 0.0%,#79ff86 11.7%,#7cff83 22.5%,#87ff78 34.9%,#79ff86 48.8%,#65ff9a 53.9%,#41ffbe 57.7%,#06fff9 61.5%,#00f9ff 62.1%,#00c2ff 65.3%,#00b9ff 66.9%,#00c3ff 68.4%,#00e5ff 70.3%,#00feff 71.3%,#47ffb8 73.5%,#e8ff17 77.9%,#fbff04 78.6%,#ffe900 79.5%,#ffc500 81.4%,#ffb900 83.0%,#ffc000 84.6%,#ffe400 86.8%,#fcff03 88.4%,#c0ff3f 92.2%,#9cff63 96.0%,#8aff75 99.8%)"></i><i style="top:87px;background:linear-gradient(90deg,#8bff74 0.0%,#7cff83 9.5%,#7cff83 21.9%,#86ff79 35.8%,#78ff87 48.8%,#63ff9c 53.5%,#40ffbf 57.0%,#0afff5 60.2%,#00fcff 60.8%,#00adff 64.3%,#009bff 65.9%,#009eff 67.5%,#00b3ff 69.1%,#00e3ff 71.0%,#04fffb 71.9%,#8fff70 75.4%,#fffe00 78.3%,#ffc500 80.2%,#ffa600 81.7%,#ff9a00 83.3%,#ffa100 84.9%,#ffbc00 86.5%,#fffe00 89.4%,#c2ff3d 92.8%,#9eff61 96.3%,#8bff74 99.8%)"></i><i style="top:88px;background:linear-gradient(90deg,#8cff73 0.0%,#7eff81 8.2%,#7dff82 22.2%,#84ff7b 37.1%,#78ff87 48.5%,#61ff9e 53.2%,#3fffc0 56.4%,#0bfff4 59.3%,#00fbff 59.9%,#0095ff 63.7%,#007eff 65.3%,#007cff 66.9%,#008eff 68.4%,#00b4ff 70.0%,#03fffc 72.2%,#f4ff0b 77.6%,#fffd00 77.9%,#ffba00 79.8%,#ff9200 81.4%,#ff7d00 83.0%,#ff7d00 84.6%,#ff9100 86.2%,#ffb900 87.8%,#fffe00 90.3%,#c7ff38 93.2%,#a2ff5d 96.3%,#8dff72 99.8%)"></i><i style="top:89px;background:linear-gradient(90deg,#8eff71 0.0%,#7fff80 7.3%,#7eff81 22.5%,#83ff7c 38.7%,#77ff88 48.5%,#60ff9f 52.9%,#40ffbf 55.8%,#0ffff0 58.3%,#00ffff 58.9%,#00bbff 61.2%,#0088ff 62.7%,#0067ff 64.3%,#005bff 65.9%,#0065ff 67.5%,#0084ff 69.1%,#00b6ff 70.7%,#00f7ff 72.2%,#06fff9 72.6%,#ffff00 77.6%,#ffb100 79.5%,#ff8100 81.1%,#ff6400 82.7%,#ff5b00 84.3%,#ff6900 85.9%,#ff8c00 87.5%,#fff100 90.6%,#fcff03 91.3%,#c7ff38 93.8%,#a4ff5b 96.6%,#8fff70 99.8%)"></i><i style="top:90px;background:linear-gradient(90deg,#90ff6f 0.0%,#81ff7e 6.3%,#7eff81 22.2%,#81ff7e 39.9%,#75ff8a 48.5%,#5fffa0 52.6%,#3cffc3 55.4%,#0efff1 57.7%,#00fcff 58.3%,#00beff 60.2%,#0077ff 62.1%,#0050ff 63.7%,#003eff 65.3%,#0042ff 66.9%,#005dff 68.4%,#008dff 70.0%,#00ddff 71.9%,#00fbff 72.6%,#2dffd2 73.5%,#f9ff06 77.3%,#ffe600 77.9%,#ff9400 79.8%,#ff6200 81.4%,#ff4400 83.0%,#ff3d00 84.6%,#ff4d00 86.2%,#ff7200 87.8%,#ffb600 89.7%,#fff700 91.6%,#feff01 91.9%,#ccff33 94.1%,#a5ff5a 97.0%,#91ff6e 99.8%)"></i><i style="top:91px;background:linear-gradient(90deg,#92ff6d 0.0%,#82ff7d 5.7%,#7eff81 21.9%,#80ff7f 41.2%,#73ff8c 48.8%,#5bffa4 52.6%,#38ffc7 55.1%,#00fcff 57.7%,#00c5ff 59.3%,#006aff 61.5%,#003cff 63.1%,#0023ff 64.6%,#0022ff 66.2%,#0037ff 67.8%,#0064ff 69.4%,#00a3ff 71.0%,#00f2ff 72.6%,#04fffb 72.9%,#f0ff0f 77.0%,#fffc00 77.3%,#ff9e00 79.2%,#ff5f00 80.8%,#ff3500 82.4%,#ff2100 84.0%,#ff2500 85.6%,#ff3f00 87.1%,#ff6f00 88.7%,#ffe100 91.6%,#feff01 92.5%,#caff35 94.7%,#a6ff59 97.3%,#93ff6c 99.8%)"></i><i style="top:92px;background:linear-gradient(90deg,#94ff6b 0.0%,#83ff7c 5.4%,#7eff81 21.5%,#7fff80 41.8%,#72ff8d 48.8%,#5affa5 52.3%,#35ffca 54.8%,#00feff 57.0%,#00c4ff 58.6%,#0061ff 60.8%,#002cff 62.4%,#000cff 64.0%,#0004ff 65.6%,#0014ff 67.2%,#003bff 68.8%,#0078ff 70.3%,#00d8ff 72.2%,#00fcff 72.9%,#5cffa3 74.5%,#f7ff08 77.0%,#fff500 77.3%,#ff8f00 79.2%,#ff4c00 80.8%,#ff1e00 82.4%,#ff0600 84.0%,#ff0700 85.6%,#ff2000 87.1%,#ff4e00 88.7%,#ff9d00 90.6%,#ffd600 91.9%,#fdff02 93.2%,#cdff32 95.1%,#a7ff58 97.6%,#95ff6a 99.8%)"></i><i style="top:93px;background:linear-gradient(90deg,#96ff69 0.0%,#84ff7b 4.8%,#7eff81 19.6%,#7eff81 42.5%,#70ff8f 48.8%,#59ffa6 52.0%,#39ffc6 54.2%,#0cfff3 56.1%,#02fffd 56.4%,#00d4ff 57.7%,#004fff 60.5%,#0017ff 62.1%,#0000ff 63.1%,#0000ea 64.6%,#0000eb 65.9%,#0000fc 67.2%,#0014ff 68.1%,#004dff 69.7%,#009aff 71.3%,#00f5ff 72.9%,#0afff5 73.2%,#fdff02 77.0%,#ff8300 79.2%,#ff3b00 80.8%,#ff0800 82.4%,#ff0100 82.7%,#ea0000 84.3%,#eb0000 85.6%,#ff0200 87.1%,#ff3000 88.7%,#ff7e00 90.6%,#ffcc00 92.2%,#fffb00 93.5%,#dfff20 94.7%,#b4ff4b 97.0%,#97ff68 99.8%)"></i><i style="top:94px;background:linear-gradient(90deg,#98ff67 0.0%,#85ff7a 4.4%,#7eff81 17.7%,#7eff81 42.5%,#70ff8f 48.5%,#59ffa6 51.6%,#38ffc7 53.9%,#00fdff 56.1%,#00bcff 57.7%,#004dff 59.9%,#000fff 61.5%,#0000fb 62.1%,#0000da 63.7%,#0000d1 65.0%,#0000d8 66.2%,#0000f0 67.5%,#0002ff 68.1%,#003fff 69.7%,#0090ff 71.3%,#00efff 72.9%,#05fffa 73.2%,#eeff11 76.7%,#fffb00 77.0%,#ff8800 78.9%,#ff3900 80.5%,#ff0800 81.7%,#fd0000 82.1%,#da0000 83.7%,#d10000 84.9%,#d70000 86.2%,#f50000 87.8%,#fe0000 88.1%,#ff3700 89.7%,#ff9000 91.6%,#ffd100 92.8%,#fdff02 94.1%,#cbff34 96.0%,#a8ff57 98.2%,#99ff66 99.8%)"></i><i style="top:95px;background:linear-gradient(90deg,#9aff65 0.0%,#87ff78 4.1%,#7eff81 15.5%,#7dff82 42.8%,#6fff90 48.5%,#55ffaa 51.6%,#30ffcf 53.9%,#05fffa 55.4%,#00edff 56.1%,#00b3ff 57.4%,#0041ff 59.6%,#0000ff 61.2%,#0000d2 62.7%,#0000bd 64.3%,#0000be 65.6%,#0000d0 66.9%,#0000fd 68.4%,#0024ff 69.4%,#0074ff 71.0%,#00ffff 73.2%,#f2ff0d 76.7%,#fff700 77.0%,#ff7f00 78.9%,#ff2d00 80.5%,#ff0500 81.4%,#ee0000 82.1%,#cd0000 83.3%,#bd0000 84.6%,#be0000 85.9%,#d50000 87.5%,#f90000 88.7%,#ff0500 89.0%,#ff5600 90.9%,#ffd800 93.5%,#fffd00 94.4%,#ccff33 96.3%,#a8ff57 98.5%,#9bff64 99.8%)"></i><i style="top:96px;background:linear-gradient(90deg,#9cff63 0.0%,#88ff77 3.8%,#7fff80 13.6%,#7dff82 43.1%,#6eff91 48.5%,#56ffa9 51.3%,#30ffcf 53.5%,#03fffc 55.1%,#00eaff 55.8%,#00beff 56.7%,#0047ff 58.9%,#0001ff 60.5%,#0000cc 62.1%,#0000ae 63.7%,#0000a9 65.0%,#0000b4 66.2%,#0000d0 67.5%,#0000fc 68.8%,#0028ff 69.7%,#007fff 71.3%,#00fcff 73.2%,#56ffa9 74.5%,#f5ff0a 76.7%,#fff300 77.0%,#ff7800 78.9%,#ff2200 80.5%,#ff0500 81.1%,#eb0000 81.7%,#c50000 83.0%,#ae0000 84.3%,#a90000 85.6%,#b40000 86.8%,#d80000 88.4%,#f90000 89.4%,#ff0600 89.7%,#ff5d00 91.6%,#ffd400 93.8%,#fffb00 94.7%,#d4ff2b 96.3%,#acff53 98.5%,#9eff61 99.8%)"></i><i style="top:97px;background:linear-gradient(90deg,#9eff61 0.0%,#89ff76 3.8%,#7fff80 13.0%,#7cff83 43.1%,#6eff91 48.2%,#57ffa8 51.0%,#30ffcf 53.2%,#02fffd 54.8%,#00dbff 55.8%,#0032ff 58.9%,#0006ff 59.9%,#0000f8 60.2%,#0000c2 61.8%,#0000a1 63.4%,#000099 64.6%,#0000a2 65.9%,#0000bc 67.2%,#0000f3 68.8%,#0002ff 69.1%,#0054ff 70.7%,#00cdff 72.6%,#00f9ff 73.2%,#10ffef 73.5%,#f8ff07 76.7%,#fff000 77.0%,#ff7200 78.9%,#ff1a00 80.5%,#fb0000 81.1%,#c10000 82.7%,#a50000 84.0%,#9a0000 85.2%,#9f0000 86.5%,#bd0000 88.1%,#f10000 89.7%,#fd0000 90.0%,#ff4800 91.6%,#ffe100 94.4%,#fffb00 95.1%,#e4ff1b 96.0%,#b9ff46 97.9%,#a0ff5f 99.8%)"></i><i style="top:98px;background:linear-gradient(90deg,#a0ff5f 0.0%,#8aff75 3.5%,#80ff7f 11.4%,#7cff83 43.1%,#6dff92 48.2%,#54ffab 51.0%,#32ffcd 52.9%,#03fffc 54.5%,#00e9ff 55.1%,#00b9ff 56.1%,#002fff 58.6%,#0003ff 59.6%,#0000bb 61.5%,#000098 63.1%,#00008d 64.3%,#000094 65.6%,#0000ab 66.9%,#0000df 68.4%,#0000fa 69.1%,#001aff 69.7%,#0076ff 71.3%,#00f7ff 73.2%,#0ffff0 73.5%,#f9ff06 76.7%,#ffd700 77.3%,#ff5a00 79.2%,#ff0400 80.8%,#da0000 81.7%,#b00000 83.0%,#960000 84.3%,#8d0000 85.6%,#950000 86.8%,#b60000 88.4%,#ec0000 90.0%,#fa0000 90.3%,#ff1700 90.9%,#ff8a00 93.2%,#ffe100 94.7%,#fffb00 95.4%,#daff25 96.6%,#b3ff4c 98.5%,#a2ff5d 99.8%)"></i><i style="top:99px;background:linear-gradient(90deg,#a2ff5d 0.0%,#8cff73 3.2%,#80ff7f 10.1%,#7cff83 43.4%,#6dff92 48.2%,#51ffae 51.0%,#2cffd3 52.9%,#05fffa 54.2%,#00f8ff 54.5%,#00ccff 55.4%,#0030ff 58.3%,#0003ff 59.3%,#0000b9 61.2%,#000093 62.7%,#000086 64.0%,#000089 65.3%,#00009d 66.5%,#0000c2 67.8%,#0000f6 69.1%,#0007ff 69.4%,#0060ff 71.0%,#00f6ff 73.2%,#0efff1 73.5%,#faff05 76.7%,#ffd600 77.3%,#ff5800 79.2%,#ff0100 80.8%,#be0000 82.4%,#9a0000 83.7%,#880000 84.9%,#860000 86.2%,#9b0000 87.8%,#c80000 89.4%,#f90000 90.6%,#ff0900 90.9%,#ff7900 93.2%,#ffe300 95.1%,#fffd00 95.7%,#d0ff2f 97.3%,#acff53 99.2%,#a4ff5b 99.8%)"></i><i style="top:100px;background:linear-gradient(90deg,#a4ff5b 0.0%,#8dff72 3.2%,#81ff7e 9.8%,#7bff84 43.4%,#6cff93 48.2%,#53ffac 50.7%,#2fffd0 52.6%,#00fcff 54.2%,#00cfff 55.1%,#0034ff 58.0%,#0006ff 58.9%,#0000f7 59.3%,#0000bb 60.8%,#000092 62.4%,#000081 64.0%,#000085 65.3%,#00009b 66.5%,#0000cc 68.1%,#0000f5 69.1%,#0006ff 69.4%,#005fff 71.0%,#00f6ff 73.2%,#0efff1 73.5%,#faff05 76.7%,#ffd600 77.3%,#ff5700 79.2%,#ff0000 80.8%,#bc0000 82.4%,#980000 83.7%,#840000 84.9%,#810000 86.2%,#940000 87.8%,#bf0000 89.4%,#fd0000 90.9%,#ff4b00 92.5%,#ffe600 95.4%,#fdff02 96.0%,#cdff32 97.6%,#aaff55 99.5%,#a6ff59 99.8%)"></i><i style="top:101px;background:linear-gradient(90deg,#a5ff5a 0.0%,#8dff72 3.2%,#81ff7e 9.5%,#7bff84 43.4%,#6bff94 48.2%,#51ffae 50.7%,#2bffd4 52.6%,#02fffd 53.9%,#00d5ff 54.8%,#002bff 58.0%,#0000fe 58.9%,#0000c0 60.5%,#000095 62.1%,#000081 63.7%,#000083 65.0%,#000095 66.2%,#0000c2 67.8%,#0000f7 69.1%,#0008ff 69.4%,#0061ff 71.0%,#00f7ff 73.2%,#0ffff0 73.5%,#faff05 76.7%,#ffd700 77.3%,#ff5900 79.2%,#ff0100 80.8%,#bd0000 82.4%,#920000 84.0%,#820000 85.2%,#820000 86.5%,#980000 88.1%,#c50000 89.7%,#f60000 90.9%,#ff0500 91.3%,#ff7300 93.5%,#ffeb00 95.7%,#fff900 96.0%,#edff12 96.6%,#c2ff3d 98.2%,#a8ff57 99.8%)"></i><i style="top:102px;background:linear-gradient(90deg,#a7ff58 0.0%,#8fff70 2.9%,#82ff7d 8.6%,#7bff84 43.4%,#6cff93 47.8%,#54ffab 50.4%,#30ffcf 52.3%,#08fff7 53.5%,#00fbff 53.9%,#0026ff 58.0%,#0009ff 58.6%,#0000fb 58.9%,#0000bf 60.5%,#000097 62.1%,#000084 63.7%,#000087 65.0%,#000099 66.2%,#0000c7 67.8%,#0000fc 69.1%,#002dff 70.0%,#00a1ff 71.9%,#00f8ff 73.2%,#10ffef 73.5%,#f8ff07 76.7%,#ffef00 77.0%,#ff5d00 79.2%,#ff0600 80.8%,#f60000 81.1%,#b80000 82.7%,#910000 84.3%,#840000 85.6%,#8a0000 87.1%,#a80000 88.7%,#da0000 90.3%,#ff0100 91.3%,#ff6c00 93.5%,#fff200 96.0%,#feff01 96.3%,#d4ff2b 97.6%,#aeff51 99.5%,#a9ff56 99.8%)"></i><i style="top:103px;background:linear-gradient(90deg,#a8ff57 0.0%,#8fff70 2.9%,#82ff7d 8.6%,#7bff84 43.4%,#6cff93 47.8%,#53ffac 50.4%,#2dffd2 52.3%,#03fffc 53.5%,#00e6ff 54.2%,#0034ff 57.7%,#0009ff 58.6%,#0000fb 58.9%,#0000b9 60.8%,#000097 62.4%,#00008b 64.0%,#000096 65.6%,#0000ba 67.2%,#0000f5 68.8%,#0004ff 69.1%,#0058ff 70.7%,#00e5ff 72.9%,#00fbff 73.2%,#40ffbf 74.1%,#f5ff0a 76.7%,#fff200 77.0%,#ff6300 79.2%,#ff0e00 80.8%,#fe0000 81.1%,#c00000 82.7%,#990000 84.3%,#8b0000 85.9%,#940000 87.5%,#b40000 89.0%,#e70000 90.6%,#ff0100 91.3%,#ff6800 93.5%,#fffb00 96.3%,#e1ff1e 97.3%,#baff45 98.9%,#aaff55 99.8%)"></i><i style="top:104px;background:linear-gradient(90deg,#a8ff57 0.0%,#8fff70 2.9%,#82ff7d 8.2%,#7bff84 43.4%,#6cff93 47.8%,#52ffad 50.4%,#34ffcb 52.0%,#0dfff2 53.2%,#00ffff 53.5%,#0036ff 57.7%,#0001ff 58.9%,#0000c1 60.8%,#0000a1 62.4%,#000096 64.0%,#0000a3 65.6%,#0000c6 67.2%,#0001ff 68.8%,#004eff 70.3%,#00c0ff 72.2%,#00ffff 73.2%,#f2ff0d 76.7%,#fff700 77.0%,#ff6b00 79.2%,#ff1800 80.8%,#fb0000 81.4%,#c20000 83.0%,#a10000 84.6%,#960000 86.2%,#a30000 87.8%,#c50000 89.4%,#f90000 90.9%,#ff0600 91.3%,#ff6800 93.5%,#fff700 96.3%,#faff05 96.6%,#d0ff2f 97.9%,#abff54 99.8%)"></i><i style="top:105px;background:linear-gradient(90deg,#a8ff57 0.0%,#8fff70 2.9%,#82ff7d 8.2%,#7bff84 43.4%,#6cff93 47.8%,#52ffad 50.4%,#33ffcc 52.0%,#00fcff 53.5%,#0049ff 57.4%,#0009ff 58.9%,#0000fd 59.3%,#0000c6 61.2%,#0000ac 62.7%,#0000a7 64.3%,#0000b8 65.9%,#0000df 67.5%,#0002ff 68.4%,#0049ff 70.0%,#00b4ff 71.9%,#00efff 72.9%,#05fffa 73.2%,#eeff11 76.7%,#fffc00 77.0%,#ff7500 79.2%,#ff1700 81.1%,#fc0000 81.7%,#ca0000 83.3%,#ad0000 84.9%,#a60000 86.5%,#b60000 88.1%,#d90000 89.7%,#ff0200 90.9%,#ff5d00 93.2%,#fff300 96.3%,#fcff03 96.6%,#d1ff2e 97.9%,#abff54 99.8%)"></i><i style="top:106px;background:linear-gradient(90deg,#a8ff57 0.0%,#8fff70 2.9%,#82ff7d 8.2%,#7bff84 43.7%,#6aff95 48.2%,#53ffac 50.4%,#33ffcc 52.0%,#0afff5 53.2%,#00fbff 53.5%,#0052ff 57.4%,#0001ff 59.6%,#0000d0 61.5%,#0000bc 63.1%,#0000bc 64.6%,#0000d2 66.2%,#0000fc 67.8%,#0013ff 68.4%,#0067ff 70.3%,#00e3ff 72.6%,#00f6ff 72.9%,#0bfff4 73.2%,#fcff03 77.0%,#ff7100 79.5%,#ff1a00 81.4%,#ff0300 82.1%,#cf0000 84.0%,#bc0000 85.6%,#bd0000 87.1%,#d30000 88.7%,#fa0000 90.3%,#ff0f00 90.9%,#ff6400 93.2%,#fdff02 96.6%,#d1ff2e 97.9%,#afff50 99.5%,#abff54 99.8%)"></i><i style="top:107px;background:linear-gradient(90deg,#a7ff58 0.0%,#8fff70 2.9%,#82ff7d 8.6%,#7bff84 43.7%,#6bff94 48.2%,#4effb1 50.7%,#2cffd3 52.3%,#00fcff 53.5%,#005eff 57.4%,#0013ff 59.6%,#0001ff 60.2%,#0000dc 62.1%,#0000d1 63.7%,#0000da 65.3%,#0000f6 66.9%,#0000fe 67.2%,#0033ff 68.8%,#0086ff 70.7%,#00feff 72.9%,#f5ff0a 77.0%,#fff600 77.3%,#ff8000 79.5%,#ff2e00 81.4%,#ff0500 82.7%,#f30000 83.3%,#d80000 84.9%,#d10000 86.5%,#de0000 88.1%,#fc0000 89.7%,#ff1600 90.6%,#ff6300 92.8%,#fcff03 96.6%,#d0ff2f 97.9%,#aeff51 99.5%,#aaff55 99.8%)"></i><i style="top:108px;background:linear-gradient(90deg,#a6ff59 0.0%,#8eff71 2.9%,#82ff7d 8.6%,#7bff84 43.7%,#6cff93 48.2%,#50ffaf 50.7%,#2effd1 52.3%,#01fffe 53.5%,#0062ff 57.7%,#0020ff 59.9%,#0000ff 61.5%,#0000ee 63.1%,#0000ef 64.6%,#0000fe 65.9%,#0021ff 67.5%,#0060ff 69.4%,#00c4ff 71.6%,#00f5ff 72.6%,#07fff8 72.9%,#ffff00 77.3%,#ff8300 79.8%,#ff3a00 81.7%,#ff0e00 83.3%,#fc0000 84.3%,#ed0000 85.9%,#f10000 87.5%,#ff0200 88.7%,#ff2b00 90.6%,#ff7200 92.8%,#fff800 96.3%,#f9ff06 96.6%,#ceff31 97.9%,#adff52 99.5%,#a8ff57 99.8%)"></i><i style="top:109px;background:linear-gradient(90deg,#a4ff5b 0.0%,#8dff72 2.9%,#81ff7e 8.9%,#7bff84 44.0%,#6dff92 48.2%,#52ffad 50.7%,#32ffcd 52.3%,#07fff8 53.5%,#00faff 53.9%,#0076ff 57.7%,#0039ff 59.9%,#0018ff 61.8%,#000cff 63.7%,#0015ff 65.3%,#002eff 66.9%,#0061ff 68.8%,#00b7ff 71.0%,#01fffe 72.6%,#f4ff0b 77.3%,#fffa00 77.6%,#ff9700 79.8%,#ff5300 81.7%,#ff2500 83.7%,#ff1100 85.2%,#ff0d00 86.8%,#ff1e00 88.7%,#ff4400 90.6%,#ff8e00 93.2%,#ffff00 96.3%,#caff35 97.9%,#a6ff59 99.8%)"></i><i style="top:110px;background:linear-gradient(90deg,#a1ff5e 0.0%,#8cff73 2.9%,#81ff7e 9.2%,#7bff84 44.0%,#6cff93 48.5%,#51ffae 51.0%,#2effd1 52.6%,#05fffa 53.9%,#00efff 54.5%,#0083ff 58.0%,#0050ff 60.2%,#0035ff 62.1%,#002fff 64.0%,#003eff 65.9%,#0062ff 67.8%,#009bff 69.7%,#00feff 72.2%,#f7ff08 77.6%,#fff900 77.9%,#ff9600 80.5%,#ff5f00 82.4%,#ff3c00 84.3%,#ff2f00 86.2%,#ff3700 88.1%,#ff5900 90.3%,#ff9900 92.8%,#fffd00 96.0%,#c5ff3a 97.9%,#a4ff5b 99.8%)"></i><i style="top:111px;background:linear-gradient(90deg,#9eff61 0.0%,#8aff75 3.2%,#80ff7f 11.1%,#7bff84 44.4%,#6cff93 48.8%,#55ffaa 51.0%,#34ffcb 52.6%,#00fdff 54.5%,#0096ff 58.3%,#0067ff 60.8%,#0054ff 63.1%,#0058ff 65.0%,#006fff 66.9%,#00a2ff 69.1%,#02fffd 71.9%,#f6ff09 77.9%,#fffc00 78.3%,#ffa700 80.8%,#ff7300 83.0%,#ff5a00 84.9%,#ff5400 86.8%,#ff6500 89.0%,#ff8b00 91.3%,#ffdc00 94.4%,#feff01 95.7%,#b9ff46 98.2%,#a0ff5f 99.8%)"></i><i style="top:112px;background:linear-gradient(90deg,#9bff64 0.0%,#88ff77 3.5%,#80ff7f 13.6%,#7bff84 44.7%,#6cff93 49.1%,#55ffaa 51.3%,#35ffca 52.9%,#00fcff 55.1%,#00aeff 58.6%,#0088ff 61.2%,#007bff 63.4%,#0084ff 65.6%,#00a4ff 67.8%,#00e1ff 70.3%,#00fdff 71.3%,#6bff94 74.5%,#fbff04 78.6%,#ffe600 79.5%,#ffa800 82.1%,#ff8600 84.3%,#ff7b00 86.5%,#ff8600 88.7%,#ffab00 91.3%,#feff01 95.1%,#b2ff4d 98.2%,#9dff62 99.8%)"></i><i style="top:113px;background:linear-gradient(90deg,#97ff68 0.0%,#86ff79 3.8%,#80ff7f 18.4%,#7bff84 45.3%,#6dff92 49.4%,#52ffad 52.0%,#00fdff 56.1%,#00c2ff 59.6%,#00a9ff 62.1%,#00a6ff 64.3%,#00b6ff 66.5%,#00dfff 69.1%,#03fffc 70.7%,#78ff87 74.8%,#f7ff08 79.2%,#ffff00 79.5%,#ffcb00 82.1%,#ffac00 84.6%,#ffa500 86.8%,#ffb400 89.4%,#ffdc00 92.2%,#feff01 94.1%,#a6ff59 98.5%,#98ff67 99.8%)"></i><i style="top:114px;background:linear-gradient(90deg,#92ff6d 0.0%,#83ff7c 4.4%,#7bff84 45.9%,#6dff92 50.1%,#56ffa9 52.3%,#00ffff 57.7%,#00dcff 60.8%,#00d1ff 63.7%,#00dcff 66.2%,#00ffff 69.1%,#45ffba 72.6%,#dfff20 79.2%,#fffd00 81.1%,#ffdb00 84.0%,#ffd100 86.5%,#ffdd00 89.4%,#fdff02 92.5%,#9fff60 98.5%,#94ff6b 99.8%)"></i><i style="top:115px;background:linear-gradient(90deg,#8dff72 0.0%,#81ff7e 5.7%,#7bff84 46.6%,#6cff93 51.0%,#13ffec 59.3%,#01fffe 62.7%,#06fff9 65.9%,#22ffdd 69.1%,#5fffa0 73.2%,#caff35 79.5%,#f1ff0e 83.0%,#ffff00 86.2%,#f7ff08 89.4%,#d2ff2d 93.5%,#94ff6b 98.9%,#8eff71 99.8%)"></i><i style="top:116px;background:linear-gradient(90deg,#88ff77 0.0%,#80ff7f 8.9%,#7bff84 47.8%,#6eff91 52.0%,#39ffc6 59.6%,#2fffd0 63.7%,#3cffc3 67.8%,#64ff9b 72.6%,#b7ff48 80.5%,#ceff31 84.6%,#cdff32 88.7%,#b2ff4d 93.8%,#8aff75 99.5%,#89ff76 99.8%)"></i><i style="top:117px;background:linear-gradient(90deg,#83ff7c 0.0%,#7bff84 50.4%,#5fffa0 62.1%,#65ff9a 68.4%,#9dff62 82.7%,#9fff60 89.0%,#83ff7c 99.8%)"></i><i style="top:118px;background:linear-gradient(90deg,#7eff81 0.0%,#83ff7c 52.6%,#8eff71 65.0%,#71ff8e 85.9%,#7eff81 99.8%)"></i><i style="top:119px;background:linear-gradient(90deg,#79ff86 0.0%,#7fff80 12.4%,#83ff7c 48.5%,#92ff6d 52.9%,#b9ff46 60.5%,#bcff43 65.3%,#a7ff58 70.0%,#51ffae 81.1%,#42ffbd 85.9%,#4affb5 90.6%,#78ff87 99.8%)"></i><i style="top:120px;background:linear-gradient(90deg,#74ff8b 0.0%,#7eff81 6.7%,#83ff7c 46.9%,#92ff6d 51.3%,#ddff22 59.3%,#ecff13 63.1%,#e4ff1b 66.5%,#c2ff3d 70.3%,#38ffc7 80.2%,#1affe5 83.7%,#13ffec 87.1%,#23ffdc 90.9%,#6fff90 99.2%,#73ff8c 99.8%)"></i><i style="top:121px;background:linear-gradient(90deg,#6fff90 0.0%,#7cff83 4.8%,#84ff7b 46.3%,#92ff6d 50.4%,#a9ff56 52.6%,#fdff02 58.6%,#ffe500 62.4%,#ffe700 65.3%,#feff01 68.1%,#cdff32 71.3%,#25ffda 79.5%,#00feff 82.1%,#00e7ff 84.9%,#00e5ff 87.8%,#00fcff 90.9%,#0ffff0 92.5%,#66ff99 98.9%,#6dff92 99.8%)"></i><i style="top:122px;background:linear-gradient(90deg,#6aff95 0.0%,#7aff85 4.1%,#7fff80 25.0%,#85ff7a 45.9%,#95ff6a 50.1%,#afff50 52.3%,#fcff03 56.4%,#ffc900 60.2%,#ffb800 62.7%,#ffbc00 65.3%,#ffd600 67.8%,#fffe00 70.0%,#aaff55 73.5%,#19ffe6 78.9%,#00fcff 80.2%,#00d0ff 82.7%,#00b9ff 85.2%,#00b9ff 87.8%,#00d2ff 90.6%,#00feff 93.5%,#5cffa3 98.5%,#69ff96 99.8%)"></i><i style="top:123px;background:linear-gradient(90deg,#66ff99 0.0%,#78ff87 3.5%,#7fff80 14.3%,#84ff7b 45.0%,#92ff6d 49.1%,#acff53 51.6%,#fffd00 55.4%,#ffb600 58.9%,#ff9500 61.5%,#ff8c00 63.7%,#ff9700 65.9%,#ffb800 68.1%,#fff400 70.7%,#fffc00 71.0%,#bdff42 73.2%,#0cfff3 78.6%,#03fffc 78.9%,#00b5ff 82.1%,#0096ff 84.3%,#008cff 86.5%,#0096ff 88.7%,#00b8ff 91.3%,#01fffe 94.7%,#50ffaf 98.2%,#64ff9b 99.8%)"></i><i style="top:124px;background:linear-gradient(90deg,#62ff9d 0.0%,#76ff89 3.2%,#7fff80 11.4%,#84ff7b 44.4%,#92ff6d 48.8%,#adff52 51.3%,#d0ff2f 52.9%,#fbff04 54.5%,#ffd000 56.4%,#ff8f00 59.3%,#ff6e00 61.5%,#ff6300 63.7%,#ff6d00 65.6%,#ff8f00 67.8%,#ffc800 70.0%,#fffc00 71.6%,#bbff44 73.5%,#04fffb 78.3%,#00d8ff 79.5%,#009aff 81.7%,#0073ff 84.0%,#0064ff 85.9%,#006aff 88.1%,#0086ff 90.3%,#00c3ff 93.2%,#00fdff 95.4%,#49ffb6 98.2%,#60ff9f 99.8%)"></i><i style="top:125px;background:linear-gradient(90deg,#5fffa0 0.0%,#75ff8a 3.2%,#7fff80 10.5%,#84ff7b 44.0%,#92ff6d 48.5%,#adff52 51.0%,#cfff30 52.6%,#fffe00 54.2%,#ff8e00 58.0%,#ff5d00 60.2%,#ff4100 62.4%,#ff3e00 64.3%,#ff5000 66.2%,#ff7600 68.1%,#ffba00 70.3%,#fff700 71.9%,#faff05 72.2%,#00ffff 77.9%,#00a1ff 80.5%,#006cff 82.4%,#004aff 84.3%,#003dff 86.2%,#0045ff 88.1%,#0065ff 90.3%,#00a2ff 92.8%,#03fffc 96.0%,#3cffc3 97.9%,#5dffa2 99.8%)"></i><i style="top:126px;background:linear-gradient(90deg,#5cffa3 0.0%,#72ff8d 2.9%,#7eff81 9.2%,#84ff7b 44.0%,#94ff6b 48.5%,#abff54 50.7%,#ccff33 52.3%,#fffe00 53.9%,#ff7e00 57.7%,#ff4400 59.9%,#ff2500 61.8%,#ff1a00 63.7%,#ff2500 65.6%,#ff4800 67.5%,#ff8100 69.4%,#ffd900 71.6%,#fff600 72.2%,#f9ff06 72.6%,#00ffff 77.6%,#0093ff 80.2%,#0055ff 82.1%,#002cff 84.0%,#001aff 85.9%,#0020ff 87.8%,#003aff 89.7%,#006fff 91.9%,#00e1ff 95.4%,#03fffc 96.3%,#37ffc8 97.9%,#5affa5 99.8%)"></i><i style="top:127px;background:linear-gradient(90deg,#5affa5 0.0%,#71ff8e 2.9%,#7eff81 8.9%,#84ff7b 43.7%,#93ff6c 48.2%,#aeff51 50.7%,#d0ff2f 52.3%,#fcff03 53.5%,#ff5f00 58.0%,#ff2200 60.2%,#ff0200 62.1%,#f90000 64.0%,#ff0200 65.3%,#ff1c00 66.9%,#ff5200 68.8%,#ff9e00 70.7%,#fffa00 72.6%,#e3ff1c 73.2%,#04fffb 77.3%,#00d3ff 78.3%,#0071ff 80.5%,#0031ff 82.4%,#000dff 84.0%,#0000fd 85.2%,#0000f9 86.8%,#0004ff 88.1%,#0025ff 90.0%,#0063ff 92.2%,#00efff 96.0%,#00fbff 96.3%,#20ffdf 97.3%,#48ffb7 98.9%,#58ffa7 99.8%)"></i><i style="top:128px;background:linear-gradient(90deg,#58ffa7 0.0%,#71ff8e 2.9%,#7dff82 8.6%,#84ff7b 43.7%,#94ff6b 48.2%,#b0ff4f 50.7%,#d3ff2c 52.3%,#fffe00 53.5%,#ff5800 57.7%,#ff1200 59.9%,#ff0300 60.5%,#e00000 62.7%,#dd0000 64.3%,#ed0000 65.9%,#ff0100 66.9%,#ff3000 68.4%,#ff7d00 70.3%,#fdff02 72.9%,#0dfff2 77.0%,#00faff 77.3%,#0086ff 79.5%,#0037ff 81.4%,#0006ff 83.0%,#0000f7 83.7%,#0000e0 85.2%,#0000dd 86.8%,#0000ec 88.4%,#0000fe 89.4%,#0027ff 90.9%,#0080ff 93.5%,#00f6ff 96.3%,#04fffb 96.6%,#30ffcf 97.9%,#51ffae 99.5%,#56ffa9 99.8%)"></i><i style="top:129px;background:linear-gradient(90deg,#57ffa8 0.0%,#70ff8f 2.9%,#7dff82 8.6%,#84ff7b 43.7%,#95ff6a 48.2%,#acff53 50.4%,#ccff33 52.0%,#fffb00 53.5%,#ff5600 57.4%,#ff0800 59.6%,#fd0000 59.9%,#d30000 61.8%,#c30000 63.4%,#c80000 65.0%,#e10000 66.5%,#fa0000 67.5%,#ff0f00 68.1%,#ff4f00 69.7%,#ffb000 71.6%,#fff900 72.9%,#f2ff0d 73.2%,#05fffa 77.0%,#00dfff 77.6%,#0067ff 79.8%,#0016ff 81.7%,#0001ff 82.4%,#0000d8 84.0%,#0000c5 85.6%,#0000c6 87.1%,#0000db 88.7%,#0002ff 90.3%,#004fff 92.5%,#02fffd 96.6%,#2effd1 97.9%,#50ffaf 99.5%,#55ffaa 99.8%)"></i><i style="top:130px;background:linear-gradient(90deg,#57ffa8 0.0%,#70ff8f 2.9%,#7dff82 8.2%,#84ff7b 43.4%,#93ff6c 47.8%,#adff52 50.4%,#ccff33 52.0%,#fffc00 53.5%,#ff4c00 57.4%,#ff0300 59.3%,#c60000 61.5%,#b00000 63.1%,#b00000 64.6%,#c50000 66.2%,#f00000 67.8%,#fb0000 68.1%,#ff1500 68.8%,#ff6f00 70.7%,#fff200 72.9%,#f8ff07 73.2%,#00feff 77.0%,#007aff 79.2%,#001dff 81.1%,#0004ff 81.7%,#0000c9 83.7%,#0000b1 85.2%,#0000af 86.8%,#0000c2 88.4%,#0000e8 90.0%,#0000fb 90.6%,#001eff 91.6%,#008aff 94.1%,#03fffc 96.6%,#2effd1 97.9%,#4fffb0 99.5%,#54ffab 99.8%)"></i><i style="top:131px;background:linear-gradient(90deg,#57ffa8 0.0%,#70ff8f 2.9%,#7dff82 8.2%,#84ff7b 43.4%,#93ff6c 47.8%,#adff52 50.4%,#ccff33 52.0%,#fffe00 53.5%,#ff3800 57.7%,#ff0400 58.9%,#ce0000 60.5%,#ab0000 62.1%,#9c0000 63.7%,#a40000 65.3%,#c30000 66.9%,#f80000 68.4%,#ff0600 68.8%,#ff5300 70.3%,#ffc300 72.2%,#fdff02 73.2%,#0ffff0 76.7%,#00f8ff 77.0%,#006fff 79.2%,#001dff 80.8%,#0001ff 81.4%,#0000c8 83.0%,#0000a7 84.6%,#00009c 86.2%,#0000a8 87.8%,#0000c9 89.4%,#0000fc 90.9%,#0022ff 91.9%,#00a6ff 94.7%,#00f5ff 96.3%,#04fffb 96.6%,#2effd1 97.9%,#54ffab 99.8%)"></i><i style="top:132px;background:linear-gradient(90deg,#57ffa8 0.0%,#70ff8f 2.9%,#7dff82 8.2%,#84ff7b 43.4%,#93ff6c 47.8%,#acff53 50.4%,#d3ff2c 52.3%,#fdff02 53.5%,#ffe300 54.2%,#ff3400 57.7%,#fd0000 58.9%,#bc0000 60.8%,#9b0000 62.4%,#8f0000 64.0%,#9b0000 65.6%,#bf0000 67.2%,#f90000 68.8%,#ff0800 69.1%,#ff5b00 70.7%,#ffe700 72.9%,#fffd00 73.2%,#0bfff4 76.7%,#00f4ff 77.0%,#0066ff 79.2%,#0011ff 80.8%,#0003ff 81.1%,#0000bb 83.0%,#000099 84.6%,#00008f 86.2%,#00009c 87.8%,#0000c0 89.4%,#0003ff 91.3%,#0068ff 93.5%,#00f9ff 96.3%,#07fff8 96.6%,#37ffc8 98.2%,#55ffaa 99.8%)"></i><i style="top:133px;background:linear-gradient(90deg,#58ffa7 0.0%,#70ff8f 2.9%,#7dff82 8.6%,#84ff7b 43.4%,#93ff6c 47.8%,#abff54 50.4%,#d0ff2f 52.3%,#f9ff06 53.5%,#fff800 53.9%,#ff2600 58.0%,#ff0900 58.6%,#fa0000 58.9%,#c00000 60.5%,#980000 62.1%,#860000 63.7%,#8d0000 65.3%,#ac0000 66.9%,#e20000 68.4%,#ff0000 69.1%,#ff5400 70.7%,#ffcd00 72.6%,#fff900 73.2%,#d7ff28 73.8%,#08fff7 76.7%,#00f1ff 77.0%,#005fff 79.2%,#0009ff 80.8%,#0000f9 81.1%,#0000bb 82.7%,#000094 84.3%,#000086 85.9%,#000090 87.5%,#0000b1 89.0%,#0000e6 90.6%,#0001ff 91.3%,#006aff 93.5%,#00f0ff 96.0%,#00feff 96.3%,#32ffcd 97.9%,#55ffaa 99.8%)"></i><i style="top:134px;background:linear-gradient(90deg,#59ffa6 0.0%,#70ff8f 2.9%,#7dff82 8.6%,#84ff7b 43.4%,#92ff6d 47.8%,#aaff55 50.4%,#cdff32 52.3%,#fffe00 53.9%,#ffd100 54.8%,#ff2900 58.0%,#fc0000 58.9%,#bf0000 60.5%,#950000 62.1%,#820000 63.7%,#840000 65.0%,#960000 66.2%,#c30000 67.8%,#f90000 69.1%,#ff0900 69.4%,#ff6200 71.0%,#fff700 73.2%,#f0ff0f 73.5%,#06fff9 76.7%,#00d8ff 77.3%,#005aff 79.2%,#0003ff 80.8%,#0000b4 82.7%,#000093 84.0%,#000083 85.2%,#000082 86.5%,#000098 88.1%,#0000c4 89.7%,#0003ff 91.3%,#0070ff 93.5%,#00f6ff 96.0%,#04fffb 96.3%,#35ffca 97.9%,#57ffa8 99.8%)"></i><i style="top:135px;background:linear-gradient(90deg,#5bffa4 0.0%,#72ff8d 3.2%,#7eff81 9.8%,#84ff7b 43.4%,#94ff6b 48.2%,#adff52 50.7%,#d2ff2d 52.6%,#f9ff06 53.9%,#fff900 54.2%,#ffca00 55.1%,#ff3000 58.0%,#ff0300 58.9%,#b80000 60.8%,#900000 62.4%,#800000 64.0%,#850000 65.3%,#9b0000 66.5%,#cc0000 68.1%,#f60000 69.1%,#ff0600 69.4%,#ff6000 71.0%,#fff600 73.2%,#f1ff0e 73.5%,#05fffa 76.7%,#00d6ff 77.3%,#0058ff 79.2%,#0000ff 80.8%,#0000bc 82.4%,#000098 83.7%,#000084 84.9%,#000080 86.2%,#000093 87.8%,#0000bc 89.4%,#0000fa 90.9%,#0009ff 91.3%,#0079ff 93.5%,#00f1ff 95.7%,#00feff 96.0%,#31ffce 97.6%,#54ffab 99.5%,#58ffa7 99.8%)"></i><i style="top:136px;background:linear-gradient(90deg,#5cffa3 0.0%,#73ff8c 3.2%,#7eff81 9.8%,#83ff7c 43.4%,#93ff6c 48.2%,#abff54 50.7%,#cdff32 52.6%,#fdff02 54.2%,#ffd800 55.1%,#ff3b00 58.0%,#fd0000 59.3%,#bf0000 60.8%,#960000 62.4%,#830000 64.0%,#870000 65.3%,#9c0000 66.5%,#c10000 67.8%,#f60000 69.1%,#ff0600 69.4%,#ff5f00 71.0%,#fff600 73.2%,#f1ff0e 73.5%,#04fffb 76.7%,#00bfff 77.6%,#0044ff 79.5%,#0000ff 80.8%,#0000bd 82.4%,#000099 83.7%,#000086 84.9%,#000084 86.2%,#000098 87.8%,#0000c4 89.4%,#0000f5 90.6%,#0004ff 90.9%,#0074ff 93.2%,#00deff 95.1%,#00faff 95.7%,#12ffed 96.3%,#3cffc3 97.9%,#5affa5 99.8%)"></i><i style="top:137px;background:linear-gradient(90deg,#5effa1 0.0%,#74ff8b 3.5%,#7fff80 11.1%,#83ff7c 43.1%,#92ff6d 48.2%,#acff53 51.0%,#cfff30 52.9%,#fffe00 54.5%,#ffd500 55.4%,#ff3900 58.3%,#ff0b00 59.3%,#fc0000 59.6%,#c00000 61.2%,#990000 62.7%,#8b0000 64.0%,#8d0000 65.3%,#a00000 66.5%,#c50000 67.8%,#f80000 69.1%,#ff0900 69.4%,#ff6100 71.0%,#ffe000 72.9%,#fff600 73.2%,#f1ff0e 73.5%,#05fffa 76.7%,#00d7ff 77.3%,#0059ff 79.2%,#0002ff 80.8%,#0000c0 82.4%,#00009e 83.7%,#00008c 84.9%,#00008b 86.2%,#0000a1 87.8%,#0000cf 89.4%,#0002ff 90.6%,#0071ff 92.8%,#00dbff 94.7%,#00f7ff 95.4%,#04fffb 95.7%,#33ffcc 97.3%,#54ffab 99.2%,#5cffa3 99.8%)"></i><i style="top:138px;background:linear-gradient(90deg,#60ff9f 0.0%,#75ff8a 3.5%,#7fff80 11.7%,#83ff7c 43.1%,#91ff6e 48.2%,#aaff55 51.0%,#caff35 52.9%,#fffd00 54.8%,#ffc400 56.1%,#ff3a00 58.6%,#fe0000 59.9%,#c40000 61.5%,#a00000 63.1%,#940000 64.3%,#9a0000 65.6%,#b00000 66.9%,#d70000 68.1%,#fe0000 69.1%,#ff3f00 70.3%,#ffb600 72.2%,#fff800 73.2%,#efff10 73.5%,#06fff9 76.7%,#00efff 77.0%,#0070ff 78.9%,#0017ff 80.5%,#0008ff 80.8%,#0000f8 81.1%,#0000bd 82.7%,#0000a0 84.0%,#000094 85.2%,#000099 86.5%,#0000b6 88.1%,#0000ea 89.7%,#0005ff 90.3%,#0061ff 92.2%,#00dbff 94.4%,#03fffc 95.4%,#31ffce 97.0%,#57ffa8 99.2%,#5effa1 99.8%)"></i><i style="top:139px;background:linear-gradient(90deg,#62ff9d 0.0%,#77ff88 3.8%,#80ff7f 13.3%,#82ff7d 43.1%,#92ff6d 48.5%,#abff54 51.3%,#d2ff2d 53.5%,#fffd00 55.1%,#ffc700 56.4%,#ff3e00 58.9%,#ff0500 60.2%,#ec0000 60.8%,#bc0000 62.4%,#a50000 64.0%,#a40000 65.3%,#b40000 66.5%,#d50000 67.8%,#f80000 68.8%,#ff0700 69.1%,#ff5700 70.7%,#ffcf00 72.6%,#fffa00 73.2%,#d7ff28 73.8%,#09fff6 76.7%,#00f1ff 77.0%,#0075ff 78.9%,#001eff 80.5%,#0001ff 81.1%,#0000c8 82.7%,#0000ad 84.0%,#0000a2 85.2%,#0000a9 86.5%,#0000c7 88.1%,#0000fc 89.7%,#0035ff 90.9%,#00bcff 93.5%,#00f6ff 94.7%,#03fffc 95.1%,#30ffcf 96.6%,#56ffa9 98.9%,#60ff9f 99.8%)"></i><i style="top:140px;background:linear-gradient(90deg,#64ff9b 0.0%,#78ff87 4.1%,#80ff7f 15.2%,#82ff7d 43.1%,#90ff6f 48.5%,#abff54 51.6%,#d2ff2d 53.9%,#ffff00 55.4%,#ffcb00 56.7%,#ff4600 59.3%,#ff0200 60.8%,#ca0000 62.7%,#b50000 64.3%,#b60000 65.6%,#c90000 66.9%,#f70000 68.4%,#ff0400 68.8%,#ff4e00 70.3%,#ffbe00 72.2%,#fffe00 73.2%,#0cfff3 76.7%,#00f5ff 77.0%,#007cff 78.9%,#0028ff 80.5%,#0000fe 81.4%,#0000cd 83.0%,#0000b8 84.3%,#0000b4 85.6%,#0000c0 86.8%,#0000e5 88.4%,#0000fa 89.0%,#0013ff 89.7%,#006bff 91.6%,#00d1ff 93.5%,#00f8ff 94.4%,#04fffb 94.7%,#30ffcf 96.3%,#55ffaa 98.5%,#63ff9c 99.8%)"></i><i style="top:141px;background:linear-gradient(90deg,#66ff99 0.0%,#79ff86 4.4%,#81ff7e 17.4%,#82ff7d 42.8%,#8fff70 48.5%,#a8ff57 51.6%,#caff35 53.9%,#fdff02 55.8%,#ffde00 56.7%,#ffb100 57.7%,#ff4200 59.9%,#ff0500 61.5%,#f00000 62.1%,#d00000 63.7%,#c80000 65.0%,#d00000 66.2%,#e80000 67.5%,#fb0000 68.1%,#ff1200 68.8%,#ff5800 70.3%,#ffc500 72.2%,#fcff03 73.2%,#0ffff0 76.7%,#00f9ff 77.0%,#0085ff 78.9%,#0034ff 80.5%,#0002ff 81.7%,#0000d8 83.3%,#0000c9 84.6%,#0000cb 85.9%,#0000e3 87.5%,#0000fd 88.4%,#002cff 89.7%,#0085ff 91.6%,#00d6ff 93.2%,#00fbff 94.1%,#19ffe6 95.1%,#43ffbc 97.0%,#62ff9d 99.5%,#65ff9a 99.8%)"></i><i style="top:142px;background:linear-gradient(90deg,#68ff97 0.0%,#7aff85 4.8%,#81ff7e 19.3%,#81ff7e 42.5%,#8fff70 48.8%,#a7ff58 52.0%,#c9ff36 54.2%,#f9ff06 56.1%,#fffb00 56.4%,#ffbc00 58.0%,#ff5000 60.2%,#ff1500 61.8%,#ff0300 62.4%,#e20000 64.3%,#e00000 65.6%,#ee0000 66.9%,#ff0400 67.8%,#ff3a00 69.4%,#ff8500 71.0%,#fff300 72.9%,#f7ff08 73.2%,#00ffff 77.0%,#008fff 78.9%,#0042ff 80.5%,#0009ff 82.1%,#0001ff 82.4%,#0000e3 84.0%,#0000df 85.2%,#0000f0 86.8%,#0000fe 87.5%,#0024ff 88.7%,#0072ff 90.6%,#00d0ff 92.5%,#00ffff 93.8%,#32ffcd 95.7%,#55ffaa 97.9%,#67ff98 99.8%)"></i><i style="top:143px;background:linear-gradient(90deg,#6aff95 0.0%,#7cff83 5.1%,#81ff7e 20.9%,#81ff7e 42.5%,#8eff71 48.8%,#a7ff58 52.3%,#cdff32 54.8%,#fdff02 56.7%,#ffd400 58.0%,#ff5400 60.8%,#ff2000 62.4%,#ff0100 64.0%,#f80000 65.6%,#ff0100 66.5%,#ff2000 68.1%,#ff5700 69.7%,#ffa100 71.3%,#fff900 72.9%,#f2ff0d 73.2%,#05fffa 77.0%,#00dfff 77.6%,#007bff 79.5%,#003aff 81.1%,#000eff 82.7%,#0000fe 83.7%,#0000f9 85.2%,#0003ff 86.2%,#0024ff 87.8%,#0059ff 89.4%,#00afff 91.3%,#00e5ff 92.5%,#00fbff 93.2%,#17ffe8 94.1%,#45ffba 96.3%,#65ff9a 99.2%,#69ff96 99.8%)"></i><i style="top:144px;background:linear-gradient(90deg,#6cff93 0.0%,#7dff82 5.7%,#81ff7e 22.5%,#80ff7f 41.8%,#8dff72 48.8%,#a3ff5c 52.3%,#c5ff3a 54.8%,#f7ff08 57.0%,#fffe00 57.4%,#ffc700 58.9%,#ff6800 61.2%,#ff3700 62.7%,#ff1a00 64.3%,#ff1500 65.9%,#ff2800 67.5%,#ff5100 69.1%,#ff8f00 70.7%,#feff01 72.9%,#0cfff3 77.0%,#00f9ff 77.3%,#0098ff 79.2%,#0058ff 80.8%,#002bff 82.4%,#0016ff 84.0%,#0018ff 85.6%,#0032ff 87.1%,#0062ff 88.7%,#00b1ff 90.6%,#00eeff 92.2%,#03fffc 92.8%,#37ffc8 95.1%,#5affa5 97.6%,#6bff94 99.8%)"></i><i style="top:145px;background:linear-gradient(90deg,#6eff91 0.0%,#7eff81 6.3%,#81ff7e 22.8%,#7fff80 40.9%,#8bff74 48.8%,#a2ff5d 52.6%,#c7ff38 55.4%,#fffe00 58.0%,#ffbe00 59.9%,#ff7400 61.8%,#ff4900 63.4%,#ff3300 65.0%,#ff3400 66.5%,#ff4d00 68.1%,#ff7a00 69.7%,#ffc900 71.6%,#fff800 72.6%,#f6ff09 72.9%,#03fffc 77.3%,#0099ff 79.5%,#0062ff 81.1%,#003eff 82.7%,#0031ff 84.3%,#003bff 85.9%,#005bff 87.5%,#008fff 89.0%,#00daff 90.9%,#02fffd 92.2%,#35ffca 94.4%,#58ffa7 97.0%,#6dff92 99.8%)"></i><i style="top:146px;background:linear-gradient(90deg,#70ff8f 0.0%,#7fff80 7.0%,#81ff7e 22.8%,#7dff82 39.6%,#8aff75 48.8%,#a1ff5e 52.9%,#c3ff3c 55.8%,#f7ff08 58.3%,#ffff00 58.6%,#ffb900 60.8%,#ff8300 62.4%,#ff5f00 64.0%,#ff4f00 65.6%,#ff5600 67.2%,#ff7300 68.8%,#ffa300 70.3%,#fdff02 72.6%,#0bfff4 77.3%,#00fbff 77.6%,#00aaff 79.5%,#0078ff 81.1%,#0059ff 82.7%,#004fff 84.3%,#005cff 85.9%,#007eff 87.5%,#00beff 89.4%,#00faff 91.3%,#0bfff4 91.9%,#3effc1 94.4%,#5fffa0 97.3%,#6fff90 99.8%)"></i><i style="top:147px;background:linear-gradient(90deg,#72ff8d 0.0%,#81ff7e 7.9%,#81ff7e 22.5%,#7cff83 38.0%,#88ff77 48.5%,#9dff62 52.9%,#bfff40 56.1%,#edff12 58.6%,#fffb00 59.6%,#ffb000 62.1%,#ff8700 63.7%,#ff7100 65.3%,#ff7000 66.9%,#ff8400 68.4%,#ffac00 70.0%,#fff000 71.9%,#fffe00 72.2%,#7cff83 75.1%,#07fff8 77.6%,#00f8ff 77.9%,#00b2ff 79.8%,#0088ff 81.4%,#0071ff 83.0%,#0070ff 84.6%,#0083ff 86.2%,#00aaff 87.8%,#00f6ff 90.3%,#00feff 90.6%,#38ffc7 93.5%,#5effa1 96.6%,#71ff8e 99.8%)"></i><i style="top:148px;background:linear-gradient(90deg,#74ff8b 0.0%,#82ff7d 8.9%,#82ff7d 22.2%,#7aff85 36.4%,#87ff78 48.5%,#9bff64 53.2%,#bfff40 56.7%,#f0ff0f 59.6%,#fdff02 60.2%,#ffb900 63.1%,#ff9a00 64.6%,#ff8d00 66.2%,#ff9500 67.8%,#ffb000 69.4%,#ffe700 71.3%,#fffe00 71.9%,#98ff67 74.5%,#06fff9 77.9%,#00eeff 78.6%,#00b5ff 80.5%,#0097ff 82.1%,#008dff 83.7%,#0097ff 85.2%,#00b5ff 86.8%,#00fcff 89.7%,#3effc1 93.2%,#62ff9d 96.6%,#73ff8c 99.8%)"></i><i style="top:149px;background:linear-gradient(90deg,#75ff8a 0.0%,#85ff7a 10.8%,#83ff7c 22.5%,#79ff86 35.5%,#86ff79 48.8%,#9cff63 53.9%,#beff41 57.4%,#f6ff09 60.8%,#fffc00 61.5%,#ffb800 65.0%,#ffad00 66.5%,#ffb400 68.1%,#ffce00 69.7%,#fdff02 71.6%,#96ff69 74.5%,#12ffed 77.9%,#00fdff 78.6%,#00cbff 80.5%,#00b3ff 82.1%,#00adff 83.7%,#00baff 85.2%,#00ffff 88.7%,#3fffc0 92.5%,#62ff9d 96.0%,#75ff8a 99.8%)"></i><i style="top:150px;background:linear-gradient(90deg,#77ff88 0.0%,#87ff78 13.0%,#82ff7d 23.1%,#77ff88 34.5%,#86ff79 49.1%,#9cff63 54.5%,#bfff40 58.3%,#fffd00 62.7%,#ffd000 65.9%,#ffcc00 67.5%,#ffdf00 69.4%,#ffff00 71.0%,#b4ff4b 73.5%,#1fffe0 77.9%,#00fcff 79.2%,#00d8ff 81.1%,#00ccff 82.7%,#00d1ff 84.3%,#00ffff 87.5%,#41ffbe 91.9%,#64ff9b 95.7%,#76ff89 99.8%)"></i><i style="top:151px;background:linear-gradient(90deg,#78ff87 0.0%,#8aff75 15.2%,#81ff7e 24.4%,#75ff8a 33.9%,#85ff7a 49.4%,#9cff63 55.1%,#c3ff3c 59.6%,#feff01 64.3%,#ffea00 67.2%,#fff300 69.1%,#ffff00 70.0%,#d0ff2f 72.2%,#24ffdb 78.3%,#00fdff 80.2%,#00ebff 82.1%,#00efff 84.0%,#02fffd 85.9%,#4effb1 92.2%,#6cff93 96.6%,#78ff87 99.8%)"></i><i style="top:152px;background:linear-gradient(90deg,#79ff86 0.0%,#8dff72 16.5%,#7fff80 25.0%,#72ff8d 33.6%,#86ff79 50.1%,#9dff62 56.1%,#cbff34 61.5%,#f3ff0c 65.9%,#f6ff09 68.4%,#e5ff1a 70.3%,#b5ff4a 72.9%,#39ffc6 77.9%,#14ffeb 80.2%,#08fff7 82.1%,#11ffee 84.9%,#5cffa3 93.2%,#76ff89 98.5%,#79ff86 99.8%)"></i><i style="top:153px;background:linear-gradient(90deg,#7bff84 0.0%,#90ff6f 16.8%,#82ff7d 24.1%,#6fff90 32.3%,#7cff83 45.0%,#90ff6f 54.2%,#b2ff4d 59.9%,#dcff23 65.6%,#deff21 68.4%,#caff35 71.0%,#99ff66 73.8%,#41ffbe 78.3%,#27ffd8 80.5%,#1fffe0 83.0%,#2fffd0 86.5%,#65ff9a 93.8%,#7aff85 99.8%)"></i><i style="top:154px;background:linear-gradient(90deg,#7cff83 0.0%,#94ff6b 16.8%,#87ff78 23.1%,#6cff93 31.4%,#71ff8e 39.0%,#8eff71 54.2%,#b0ff4f 60.8%,#cdff32 66.2%,#c9ff36 69.1%,#b0ff4f 71.9%,#4affb5 78.6%,#34ffcb 81.4%,#34ffcb 84.6%,#6eff91 95.1%,#7bff84 99.8%)"></i><i style="top:155px;background:linear-gradient(90deg,#7dff82 0.0%,#99ff66 16.8%,#8dff72 22.2%,#69ff96 30.7%,#6aff95 36.8%,#91ff6e 55.8%,#beff41 66.2%,#b9ff46 69.4%,#9fff60 72.6%,#52ffad 78.9%,#41ffbe 82.1%,#47ffb8 85.9%,#73ff8c 95.7%,#7dff82 99.8%)"></i><i style="top:156px;background:linear-gradient(90deg,#7eff81 0.0%,#9eff61 16.8%,#93ff6c 21.5%,#65ff9a 30.1%,#62ff9d 35.2%,#93ff6c 57.4%,#b2ff4d 66.2%,#adff52 69.7%,#8fff70 73.5%,#59ffa6 79.2%,#4cffb3 82.7%,#57ffa8 87.5%,#78ff87 97.0%,#7eff81 99.8%)"></i><i style="top:157px;background:linear-gradient(90deg,#7fff80 0.0%,#9fff60 12.7%,#a5ff5a 18.1%,#92ff6d 22.5%,#62ff9d 29.5%,#59ffa6 33.6%,#84ff7b 52.3%,#a9ff56 66.5%,#a0ff5f 70.7%,#5dffa2 79.8%,#56ffa9 84.0%,#7fff80 99.8%)"></i></div>
<svg width="1270" height="655" viewBox="0 0 1270 655" style="position:absolute;left:0;top:0"><defs><clipPath id="ca"><rect x="104" y="9" width="481" height="608"/></clipPath><clipPath id="cc"><rect x="747" y="268" width="441" height="349"/></clipPath></defs><g clip-path="url(#ca)" fill="none" stroke-linejoin="round"><path d="M104.0,32.90 L105.5,32.86 L107.0,32.83 L108.5,32.81 L110.0,32.80 L111.6,32.79 L113.1,32.80 L114.6,32.81 L116.1,32.83 L117.6,32.86 L119.1,32.90 L120.6,32.94 L122.1,33.00 L123.7,33.06 L125.2,33.13 L126.7,33.20 L128.2,33.29 L129.7,33.38 L131.2,33.48 L132.7,33.58 L134.2,33.69 L135.8,33.81 L137.3,33.94 L138.8,34.07 L140.3,34.21 L141.8,34.36 L143.3,34.51 L144.8,34.66 L146.3,34.83 L147.9,35.00 L149.4,35.17 L150.9,35.35 L152.4,35.54 L153.9,35.73 L155.4,35.93 L156.9,36.13 L158.4,36.34 L160.0,36.55 L161.5,36.77 L163.0,36.99 L164.5,37.22 L166.0,37.45 L167.5,37.68 L169.0,37.92 L170.5,38.17 L172.1,38.42 L173.6,38.67 L175.1,38.92 L176.6,39.18 L178.1,39.45 L179.6,39.71 L181.1,39.98 L182.6,40.25 L184.2,40.53 L185.7,40.81 L187.2,41.09 L188.7,41.38 L190.2,41.66 L191.7,41.95 L193.2,42.25 L194.7,42.54 L196.2,42.84 L197.8,43.14 L199.3,43.44 L200.8,43.74 L202.3,44.05 L203.8,44.35 L205.3,44.66 L206.8,44.97 L208.3,45.28 L209.9,45.59 L211.4,45.90 L212.9,46.22 L214.4,46.53 L215.9,46.85 L217.4,47.16 L218.9,47.48 L220.4,47.80 L222.0,48.11 L223.5,48.43 L225.0,48.75 L226.5,49.06 L228.0,49.38 L229.5,49.69 L231.0,50.01 L232.5,50.33 L234.1,50.64 L235.6,50.95 L237.1,51.27 L238.6,51.58 L240.1,51.89 L241.6,52.20 L243.1,52.50 L244.6,52.81 L246.2,53.12 L247.7,53.42 L249.2,53.72 L250.7,54.02 L252.2,54.32 L253.7,54.61 L255.2,54.90 L256.7,55.19 L258.3,55.48 L259.8,55.77 L261.3,56.05 L262.8,56.33 L264.3,56.60" stroke="#0000ff" stroke-width="2.8"/><path d="M104.0,48.30 L105.5,48.31 L107.0,48.33 L108.5,48.35 L110.0,48.37 L111.6,48.40 L113.1,48.42 L114.6,48.45 L116.1,48.48 L117.6,48.51 L119.1,48.54 L120.6,48.58 L122.1,48.61 L123.7,48.65 L125.2,48.69 L126.7,48.73 L128.2,48.77 L129.7,48.82 L131.2,48.86 L132.7,48.91 L134.2,48.96 L135.8,49.01 L137.3,49.06 L138.8,49.12 L140.3,49.17 L141.8,49.23 L143.3,49.29 L144.8,49.35 L146.3,49.41 L147.9,49.47 L149.4,49.53 L150.9,49.60 L152.4,49.67 L153.9,49.73 L155.4,49.80 L156.9,49.87 L158.4,49.95 L160.0,50.02 L161.5,50.09 L163.0,50.17 L164.5,50.25 L166.0,50.32 L167.5,50.40 L169.0,50.48 L170.5,50.57 L172.1,50.65 L173.6,50.73 L175.1,50.82 L176.6,50.90 L178.1,50.99 L179.6,51.08 L181.1,51.17 L182.6,51.26 L184.2,51.35 L185.7,51.44 L187.2,51.54 L188.7,51.63 L190.2,51.73 L191.7,51.82 L193.2,51.92 L194.7,52.02 L196.2,52.12 L197.8,52.22 L199.3,52.32 L200.8,52.42 L202.3,52.52 L203.8,52.63 L205.3,52.73 L206.8,52.83 L208.3,52.94 L209.9,53.04 L211.4,53.15 L212.9,53.26 L214.4,53.37 L215.9,53.48 L217.4,53.59 L218.9,53.69 L220.4,53.81 L222.0,53.92 L223.5,54.03 L225.0,54.14 L226.5,54.25 L228.0,54.37 L229.5,54.48 L231.0,54.59 L232.5,54.71 L234.1,54.82 L235.6,54.94 L237.1,55.06 L238.6,55.17 L240.1,55.29 L241.6,55.41 L243.1,55.52 L244.6,55.64 L246.2,55.76 L247.7,55.88 L249.2,56.00 L250.7,56.12 L252.2,56.24 L253.7,56.35 L255.2,56.47 L256.7,56.59 L258.3,56.71 L259.8,56.83 L261.3,56.95 L262.8,57.07 L264.3,57.19" stroke="#0000ff" stroke-width="2.8"/><path d="M104.0,67.00 L105.5,66.99 L107.0,66.96 L108.5,66.94 L110.0,66.91 L111.6,66.88 L113.1,66.85 L114.6,66.82 L116.1,66.78 L117.6,66.74 L119.1,66.69 L120.6,66.65 L122.1,66.60 L123.7,66.55 L125.2,66.50 L126.7,66.44 L128.2,66.38 L129.7,66.32 L131.2,66.26 L132.7,66.20 L134.2,66.13 L135.8,66.06 L137.3,65.99 L138.8,65.92 L140.3,65.85 L141.8,65.78 L143.3,65.70 L144.8,65.62 L146.3,65.54 L147.9,65.46 L149.4,65.38 L150.9,65.30 L152.4,65.21 L153.9,65.13 L155.4,65.04 L156.9,64.95 L158.4,64.86 L160.0,64.77 L161.5,64.68 L163.0,64.59 L164.5,64.50 L166.0,64.41 L167.5,64.32 L169.0,64.22 L170.5,64.13 L172.1,64.03 L173.6,63.94 L175.1,63.85 L176.6,63.75 L178.1,63.66 L179.6,63.56 L181.1,63.47 L182.6,63.37 L184.2,63.28 L185.7,63.18 L187.2,63.09 L188.7,63.00 L190.2,62.90 L191.7,62.81 L193.2,62.72 L194.7,62.63 L196.2,62.54 L197.8,62.45 L199.3,62.36 L200.8,62.27 L202.3,62.18 L203.8,62.09 L205.3,62.01 L206.8,61.92 L208.3,61.84 L209.9,61.76 L211.4,61.68 L212.9,61.60 L214.4,61.52 L215.9,61.45 L217.4,61.37 L218.9,61.30 L220.4,61.23 L222.0,61.16 L223.5,61.09 L225.0,61.03 L226.5,60.96 L228.0,60.90 L229.5,60.84 L231.0,60.78 L232.5,60.73 L234.1,60.68 L235.6,60.62 L237.1,60.58 L238.6,60.53 L240.1,60.49 L241.6,60.45 L243.1,60.41 L244.6,60.38 L246.2,60.34 L247.7,60.31 L249.2,60.29 L250.7,60.26 L252.2,60.24 L253.7,60.23 L255.2,60.21 L256.7,60.20 L258.3,60.20 L259.8,60.19 L261.3,60.19 L262.8,60.20 L264.3,60.20" stroke="#0000ff" stroke-width="2.8"/><path d="M104.0,93.00 L105.5,93.00 L107.0,92.98 L108.5,92.96 L110.0,92.92 L111.6,92.88 L113.1,92.83 L114.6,92.77 L116.1,92.70 L117.6,92.62 L119.1,92.53 L120.6,92.43 L122.1,92.33 L123.7,92.21 L125.2,92.09 L126.7,91.96 L128.2,91.82 L129.7,91.68 L131.2,91.52 L132.7,91.36 L134.2,91.19 L135.8,91.01 L137.3,90.83 L138.8,90.64 L140.3,90.44 L141.8,90.23 L143.3,90.02 L144.8,89.80 L146.3,89.57 L147.9,89.34 L149.4,89.10 L150.9,88.85 L152.4,88.60 L153.9,88.35 L155.4,88.08 L156.9,87.81 L158.4,87.54 L160.0,87.26 L161.5,86.97 L163.0,86.68 L164.5,86.38 L166.0,86.08 L167.5,85.77 L169.0,85.46 L170.5,85.15 L172.1,84.82 L173.6,84.50 L175.1,84.17 L176.6,83.83 L178.1,83.50 L179.6,83.15 L181.1,82.81 L182.6,82.46 L184.2,82.10 L185.7,81.75 L187.2,81.39 L188.7,81.02 L190.2,80.66 L191.7,80.29 L193.2,79.91 L194.7,79.54 L196.2,79.16 L197.8,78.78 L199.3,78.39 L200.8,78.01 L202.3,77.62 L203.8,77.23 L205.3,76.84 L206.8,76.45 L208.3,76.05 L209.9,75.65 L211.4,75.25 L212.9,74.85 L214.4,74.45 L215.9,74.05 L217.4,73.65 L218.9,73.24 L220.4,72.84 L222.0,72.43 L223.5,72.03 L225.0,71.62 L226.5,71.21 L228.0,70.80 L229.5,70.40 L231.0,69.99 L232.5,69.58 L234.1,69.18 L235.6,68.77 L237.1,68.37 L238.6,67.96 L240.1,67.56 L241.6,67.15 L243.1,66.75 L244.6,66.35 L246.2,65.95 L247.7,65.55 L249.2,65.16 L250.7,64.76 L252.2,64.37 L253.7,63.98 L255.2,63.59 L256.7,63.20 L258.3,62.81 L259.8,62.43 L261.3,62.05 L262.8,61.67 L264.3,61.30" stroke="#0000ff" stroke-width="2.8"/><path d="M264.3,56.80 L265.8,56.60 L267.3,56.40 L268.8,56.20 L270.3,55.99 L271.8,55.79 L273.3,55.58 L274.8,55.37 L276.3,55.16 L277.8,54.95 L279.3,54.73 L280.8,54.52 L282.3,54.31 L283.8,54.09 L285.3,53.87 L286.8,53.66 L288.4,53.44 L289.9,53.22 L291.4,53.01 L292.9,52.79 L294.4,52.57 L295.9,52.35 L297.4,52.14 L298.9,51.92 L300.4,51.70 L301.9,51.49 L303.4,51.27 L304.9,51.06 L306.4,50.84 L307.9,50.63 L309.4,50.42 L310.9,50.21 L312.4,50.00 L313.9,49.79 L315.4,49.58 L316.9,49.38 L318.4,49.18 L319.9,48.97 L321.4,48.78 L322.9,48.58 L324.4,48.38 L325.9,48.19 L327.4,48.00 L328.9,47.82 L330.4,47.63 L331.9,47.45 L333.5,47.27 L335.0,47.09 L336.5,46.92 L338.0,46.75 L339.5,46.59 L341.0,46.42 L342.5,46.27 L344.0,46.11 L345.5,45.96 L347.0,45.81 L348.5,45.67 L350.0,45.53 L351.5,45.40 L353.0,45.26 L354.5,45.14 L356.0,45.01 L357.5,44.90 L359.0,44.78 L360.5,44.67 L362.0,44.56 L363.5,44.45 L365.0,44.35 L366.5,44.25 L368.0,44.15 L369.5,44.06 L371.0,43.97 L372.5,43.88 L374.0,43.80 L375.5,43.71 L377.0,43.63 L378.5,43.55 L380.1,43.47 L381.6,43.40 L383.1,43.33 L384.6,43.25 L386.1,43.18 L387.6,43.11 L389.1,43.05 L390.6,42.98 L392.1,42.92 L393.6,42.85 L395.1,42.79 L396.6,42.73 L398.1,42.66 L399.6,42.60 L401.1,42.54 L402.6,42.48 L404.1,42.42 L405.6,42.36 L407.1,42.30 L408.6,42.24 L410.1,42.18 L411.6,42.12 L413.1,42.06 L414.6,41.99 L416.1,41.93 L417.6,41.87 L419.1,41.80 L420.6,41.74 L422.1,41.67 L423.6,41.60 L425.2,41.53 L426.7,41.46 L428.2,41.39 L429.7,41.32 L431.2,41.24 L432.7,41.17 L434.2,41.09 L435.7,41.01 L437.2,40.93 L438.7,40.84 L440.2,40.76 L441.7,40.67 L443.2,40.58 L444.7,40.49 L446.2,40.40 L447.7,40.30 L449.2,40.21 L450.7,40.11 L452.2,40.01 L453.7,39.91 L455.2,39.80 L456.7,39.70 L458.2,39.59 L459.7,39.48 L461.2,39.36 L462.7,39.25 L464.2,39.13 L465.7,39.01 L467.2,38.89 L468.7,38.77 L470.3,38.65 L471.8,38.53 L473.3,38.40 L474.8,38.27 L476.3,38.15 L477.8,38.02 L479.3,37.89 L480.8,37.76 L482.3,37.63 L483.8,37.50 L485.3,37.37 L486.8,37.24 L488.3,37.11 L489.8,36.98 L491.3,36.85 L492.8,36.72 L494.3,36.59 L495.8,36.47 L497.3,36.34 L498.8,36.22 L500.3,36.09 L501.8,35.97 L503.3,35.85 L504.8,35.73 L506.3,35.61 L507.8,35.49 L509.3,35.38 L510.8,35.26 L512.3,35.15 L513.8,35.05 L515.3,34.94 L516.9,34.83 L518.4,34.73 L519.9,34.63 L521.4,34.53 L522.9,34.44 L524.4,34.34 L525.9,34.25 L527.4,34.16 L528.9,34.08 L530.4,33.99 L531.9,33.91 L533.4,33.83 L534.9,33.76 L536.4,33.68 L537.9,33.61 L539.4,33.54 L540.9,33.47 L542.4,33.41 L543.9,33.35 L545.4,33.29 L546.9,33.24 L548.4,33.18 L549.9,33.13 L551.4,33.08 L552.9,33.04 L554.4,33.00 L555.9,32.96 L557.4,32.92 L558.9,32.89 L560.4,32.86 L562.0,32.83 L563.5,32.81 L565.0,32.79 L566.5,32.77 L568.0,32.75 L569.5,32.74 L571.0,32.73 L572.5,32.73 L574.0,32.72 L575.5,32.73 L577.0,32.73 L578.5,32.74 L580.0,32.75 L581.5,32.76 L583.0,32.78 L584.5,32.80" stroke="#0000ff" stroke-width="2.8"/><path d="M264.3,57.38 L265.8,57.25 L267.3,57.11 L268.8,56.98 L270.3,56.85 L271.8,56.73 L273.3,56.60 L274.8,56.48 L276.3,56.36 L277.8,56.24 L279.3,56.12 L280.8,56.01 L282.3,55.89 L283.8,55.78 L285.3,55.67 L286.8,55.56 L288.4,55.46 L289.9,55.35 L291.4,55.25 L292.9,55.15 L294.4,55.05 L295.9,54.95 L297.4,54.86 L298.9,54.76 L300.4,54.67 L301.9,54.58 L303.4,54.49 L304.9,54.40 L306.4,54.32 L307.9,54.23 L309.4,54.15 L310.9,54.07 L312.4,53.99 L313.9,53.91 L315.4,53.83 L316.9,53.76 L318.4,53.68 L319.9,53.61 L321.4,53.54 L322.9,53.47 L324.4,53.40 L325.9,53.33 L327.4,53.26 L328.9,53.20 L330.4,53.13 L331.9,53.07 L333.5,53.01 L335.0,52.95 L336.5,52.89 L338.0,52.83 L339.5,52.77 L341.0,52.72 L342.5,52.66 L344.0,52.61 L345.5,52.56 L347.0,52.50 L348.5,52.45 L350.0,52.40 L351.5,52.35 L353.0,52.31 L354.5,52.26 L356.0,52.21 L357.5,52.17 L359.0,52.12 L360.5,52.08 L362.0,52.04 L363.5,52.00 L365.0,51.96 L366.5,51.92 L368.0,51.88 L369.5,51.84 L371.0,51.80 L372.5,51.76 L374.0,51.73 L375.5,51.69 L377.0,51.65 L378.5,51.62 L380.1,51.59 L381.6,51.55 L383.1,51.52 L384.6,51.49 L386.1,51.45 L387.6,51.42 L389.1,51.39 L390.6,51.36 L392.1,51.33 L393.6,51.30 L395.1,51.27 L396.6,51.24 L398.1,51.21 L399.6,51.19 L401.1,51.16 L402.6,51.13 L404.1,51.10 L405.6,51.08 L407.1,51.05 L408.6,51.02 L410.1,51.00 L411.6,50.97 L413.1,50.94 L414.6,50.92 L416.1,50.89 L417.6,50.87 L419.1,50.84 L420.6,50.81 L422.1,50.79 L423.6,50.76 L425.2,50.74 L426.7,50.71 L428.2,50.69 L429.7,50.66 L431.2,50.64 L432.7,50.61 L434.2,50.58 L435.7,50.56 L437.2,50.53 L438.7,50.51 L440.2,50.48 L441.7,50.46 L443.2,50.43 L444.7,50.41 L446.2,50.38 L447.7,50.36 L449.2,50.33 L450.7,50.31 L452.2,50.28 L453.7,50.25 L455.2,50.23 L456.7,50.20 L458.2,50.18 L459.7,50.15 L461.2,50.13 L462.7,50.10 L464.2,50.08 L465.7,50.05 L467.2,50.03 L468.7,50.00 L470.3,49.98 L471.8,49.95 L473.3,49.93 L474.8,49.90 L476.3,49.88 L477.8,49.85 L479.3,49.83 L480.8,49.80 L482.3,49.78 L483.8,49.76 L485.3,49.73 L486.8,49.71 L488.3,49.68 L489.8,49.66 L491.3,49.63 L492.8,49.61 L494.3,49.59 L495.8,49.56 L497.3,49.54 L498.8,49.51 L500.3,49.49 L501.8,49.47 L503.3,49.44 L504.8,49.42 L506.3,49.39 L507.8,49.37 L509.3,49.35 L510.8,49.32 L512.3,49.30 L513.8,49.28 L515.3,49.25 L516.9,49.23 L518.4,49.21 L519.9,49.18 L521.4,49.16 L522.9,49.14 L524.4,49.12 L525.9,49.09 L527.4,49.07 L528.9,49.05 L530.4,49.02 L531.9,49.00 L533.4,48.98 L534.9,48.96 L536.4,48.94 L537.9,48.91 L539.4,48.89 L540.9,48.87 L542.4,48.85 L543.9,48.83 L545.4,48.81 L546.9,48.78 L548.4,48.76 L549.9,48.74 L551.4,48.72 L552.9,48.70 L554.4,48.68 L555.9,48.66 L557.4,48.64 L558.9,48.62 L560.4,48.60 L562.0,48.57 L563.5,48.55 L565.0,48.53 L566.5,48.51 L568.0,48.49 L569.5,48.47 L571.0,48.45 L572.5,48.44 L574.0,48.42 L575.5,48.40 L577.0,48.38 L578.5,48.36 L580.0,48.34 L581.5,48.32 L583.0,48.30 L584.5,48.28" stroke="#0000ff" stroke-width="2.8"/><path d="M264.3,60.20 L265.8,60.26 L267.3,60.31 L268.8,60.37 L270.3,60.42 L271.8,60.48 L273.3,60.53 L274.8,60.59 L276.3,60.64 L277.8,60.69 L279.3,60.75 L280.8,60.80 L282.3,60.85 L283.8,60.90 L285.3,60.95 L286.8,61.00 L288.4,61.05 L289.9,61.10 L291.4,61.15 L292.9,61.20 L294.4,61.25 L295.9,61.30 L297.4,61.35 L298.9,61.39 L300.4,61.44 L301.9,61.49 L303.4,61.53 L304.9,61.58 L306.4,61.62 L307.9,61.67 L309.4,61.71 L310.9,61.76 L312.4,61.80 L313.9,61.84 L315.4,61.89 L316.9,61.93 L318.4,61.97 L319.9,62.01 L321.4,62.06 L322.9,62.10 L324.4,62.14 L325.9,62.18 L327.4,62.22 L328.9,62.26 L330.4,62.30 L331.9,62.34 L333.5,62.38 L335.0,62.42 L336.5,62.45 L338.0,62.49 L339.5,62.53 L341.0,62.57 L342.5,62.61 L344.0,62.64 L345.5,62.68 L347.0,62.72 L348.5,62.75 L350.0,62.79 L351.5,62.82 L353.0,62.86 L354.5,62.89 L356.0,62.93 L357.5,62.96 L359.0,63.00 L360.5,63.03 L362.0,63.06 L363.5,63.10 L365.0,63.13 L366.5,63.16 L368.0,63.19 L369.5,63.23 L371.0,63.26 L372.5,63.29 L374.0,63.32 L375.5,63.35 L377.0,63.39 L378.5,63.42 L380.1,63.45 L381.6,63.48 L383.1,63.51 L384.6,63.54 L386.1,63.57 L387.6,63.60 L389.1,63.63 L390.6,63.66 L392.1,63.69 L393.6,63.71 L395.1,63.74 L396.6,63.77 L398.1,63.80 L399.6,63.83 L401.1,63.86 L402.6,63.88 L404.1,63.91 L405.6,63.94 L407.1,63.97 L408.6,63.99 L410.1,64.02 L411.6,64.05 L413.1,64.07 L414.6,64.10 L416.1,64.13 L417.6,64.15 L419.1,64.18 L420.6,64.21 L422.1,64.23 L423.6,64.26 L425.2,64.28 L426.7,64.31 L428.2,64.34 L429.7,64.36 L431.2,64.39 L432.7,64.41 L434.2,64.44 L435.7,64.46 L437.2,64.49 L438.7,64.51 L440.2,64.54 L441.7,64.56 L443.2,64.58 L444.7,64.61 L446.2,64.63 L447.7,64.66 L449.2,64.68 L450.7,64.71 L452.2,64.73 L453.7,64.75 L455.2,64.78 L456.7,64.80 L458.2,64.83 L459.7,64.85 L461.2,64.87 L462.7,64.90 L464.2,64.92 L465.7,64.95 L467.2,64.97 L468.7,64.99 L470.3,65.02 L471.8,65.04 L473.3,65.06 L474.8,65.09 L476.3,65.11 L477.8,65.14 L479.3,65.16 L480.8,65.18 L482.3,65.21 L483.8,65.23 L485.3,65.25 L486.8,65.28 L488.3,65.30 L489.8,65.33 L491.3,65.35 L492.8,65.37 L494.3,65.40 L495.8,65.42 L497.3,65.44 L498.8,65.47 L500.3,65.49 L501.8,65.52 L503.3,65.54 L504.8,65.56 L506.3,65.59 L507.8,65.61 L509.3,65.64 L510.8,65.66 L512.3,65.69 L513.8,65.71 L515.3,65.74 L516.9,65.76 L518.4,65.79 L519.9,65.81 L521.4,65.84 L522.9,65.86 L524.4,65.89 L525.9,65.91 L527.4,65.94 L528.9,65.96 L530.4,65.99 L531.9,66.01 L533.4,66.04 L534.9,66.07 L536.4,66.09 L537.9,66.12 L539.4,66.14 L540.9,66.17 L542.4,66.20 L543.9,66.22 L545.4,66.25 L546.9,66.28 L548.4,66.31 L549.9,66.33 L551.4,66.36 L552.9,66.39 L554.4,66.42 L555.9,66.44 L557.4,66.47 L558.9,66.50 L560.4,66.53 L562.0,66.56 L563.5,66.59 L565.0,66.62 L566.5,66.65 L568.0,66.68 L569.5,66.71 L571.0,66.74 L572.5,66.77 L574.0,66.80 L575.5,66.83 L577.0,66.86 L578.5,66.89 L580.0,66.92 L581.5,66.95 L583.0,66.98 L584.5,67.01" stroke="#0000ff" stroke-width="2.8"/><path d="M264.3,61.30 L265.8,61.45 L267.3,61.62 L268.8,61.79 L270.3,61.98 L271.8,62.18 L273.3,62.38 L274.8,62.60 L276.3,62.83 L277.8,63.06 L279.3,63.30 L280.8,63.55 L282.3,63.81 L283.8,64.08 L285.3,64.35 L286.8,64.63 L288.4,64.92 L289.9,65.21 L291.4,65.51 L292.9,65.82 L294.4,66.13 L295.9,66.44 L297.4,66.76 L298.9,67.08 L300.4,67.41 L301.9,67.74 L303.4,68.07 L304.9,68.41 L306.4,68.75 L307.9,69.09 L309.4,69.43 L310.9,69.78 L312.4,70.12 L313.9,70.47 L315.4,70.82 L316.9,71.17 L318.4,71.51 L319.9,71.86 L321.4,72.21 L322.9,72.55 L324.4,72.89 L325.9,73.24 L327.4,73.58 L328.9,73.91 L330.4,74.25 L331.9,74.58 L333.5,74.91 L335.0,75.23 L336.5,75.55 L338.0,75.86 L339.5,76.18 L341.0,76.48 L342.5,76.78 L344.0,77.08 L345.5,77.36 L347.0,77.65 L348.5,77.92 L350.0,78.19 L351.5,78.45 L353.0,78.70 L354.5,78.95 L356.0,79.19 L357.5,79.42 L359.0,79.65 L360.5,79.87 L362.0,80.09 L363.5,80.29 L365.0,80.50 L366.5,80.69 L368.0,80.88 L369.5,81.07 L371.0,81.25 L372.5,81.42 L374.0,81.59 L375.5,81.75 L377.0,81.91 L378.5,82.06 L380.1,82.21 L381.6,82.35 L383.1,82.49 L384.6,82.63 L386.1,82.76 L387.6,82.88 L389.1,83.00 L390.6,83.12 L392.1,83.23 L393.6,83.34 L395.1,83.45 L396.6,83.55 L398.1,83.65 L399.6,83.75 L401.1,83.84 L402.6,83.93 L404.1,84.02 L405.6,84.10 L407.1,84.18 L408.6,84.26 L410.1,84.34 L411.6,84.41 L413.1,84.48 L414.6,84.55 L416.1,84.62 L417.6,84.69 L419.1,84.75 L420.6,84.82 L422.1,84.88 L423.6,84.94 L425.2,85.00 L426.7,85.05 L428.2,85.11 L429.7,85.16 L431.2,85.22 L432.7,85.27 L434.2,85.33 L435.7,85.38 L437.2,85.43 L438.7,85.48 L440.2,85.53 L441.7,85.58 L443.2,85.63 L444.7,85.68 L446.2,85.73 L447.7,85.78 L449.2,85.83 L450.7,85.88 L452.2,85.93 L453.7,85.98 L455.2,86.03 L456.7,86.08 L458.2,86.13 L459.7,86.18 L461.2,86.23 L462.7,86.28 L464.2,86.34 L465.7,86.39 L467.2,86.45 L468.7,86.50 L470.3,86.56 L471.8,86.62 L473.3,86.68 L474.8,86.74 L476.3,86.80 L477.8,86.87 L479.3,86.93 L480.8,87.00 L482.3,87.07 L483.8,87.14 L485.3,87.21 L486.8,87.29 L488.3,87.36 L489.8,87.44 L491.3,87.52 L492.8,87.60 L494.3,87.69 L495.8,87.78 L497.3,87.87 L498.8,87.96 L500.3,88.05 L501.8,88.15 L503.3,88.25 L504.8,88.36 L506.3,88.46 L507.8,88.57 L509.3,88.68 L510.8,88.80 L512.3,88.92 L513.8,89.04 L515.3,89.16 L516.9,89.29 L518.4,89.42 L519.9,89.54 L521.4,89.67 L522.9,89.81 L524.4,89.94 L525.9,90.07 L527.4,90.20 L528.9,90.34 L530.4,90.47 L531.9,90.60 L533.4,90.73 L534.9,90.86 L536.4,90.99 L537.9,91.12 L539.4,91.25 L540.9,91.37 L542.4,91.49 L543.9,91.61 L545.4,91.73 L546.9,91.84 L548.4,91.95 L549.9,92.06 L551.4,92.17 L552.9,92.26 L554.4,92.36 L555.9,92.45 L557.4,92.54 L558.9,92.62 L560.4,92.70 L562.0,92.77 L563.5,92.83 L565.0,92.89 L566.5,92.94 L568.0,92.99 L569.5,93.03 L571.0,93.06 L572.5,93.09 L574.0,93.10 L575.5,93.11 L577.0,93.12 L578.5,93.11 L580.0,93.10 L581.5,93.07 L583.0,93.04 L584.5,93.00" stroke="#0000ff" stroke-width="2.8"/><path d="M264.3,60.20 L265.8,60.16 L267.3,60.12 L268.8,60.08 L270.3,60.04 L271.8,60.00 L273.3,59.97 L274.8,59.93 L276.3,59.90 L277.8,59.86 L279.3,59.83 L280.9,59.80 L282.4,59.78 L283.9,59.75 L285.4,59.72 L286.9,59.70 L288.4,59.68 L289.9,59.66 L291.4,59.65 L292.9,59.63 L294.4,59.62 L295.9,59.61 L297.4,59.60 L298.9,59.60 L300.4,59.60 L301.9,59.60 L303.4,59.60 L304.9,59.61 L306.4,59.62 L307.9,59.62 L309.4,59.63 L310.9,59.64 L312.4,59.65 L314.0,59.67 L315.5,59.68 L317.0,59.69 L318.5,59.71 L320.0,59.73 L321.5,59.74 L323.0,59.76 L324.5,59.77 L326.0,59.79 L327.5,59.81 L329.0,59.82 L330.5,59.84 L332.0,59.86 L333.5,59.87 L335.0,59.89 L336.5,59.91 L338.0,59.92 L339.5,59.93 L341.0,59.95 L342.5,59.96 L344.0,59.97 L345.6,59.98 L347.1,59.99 L348.6,59.99 L350.1,60.00 L351.6,60.00 L353.1,60.01 L354.6,60.01 L356.1,60.02 L357.6,60.02 L359.1,60.03 L360.6,60.03 L362.1,60.03 L363.6,60.04 L365.1,60.04 L366.6,60.04 L368.1,60.04 L369.6,60.05 L371.1,60.05 L372.6,60.05 L374.1,60.05 L375.6,60.06 L377.1,60.06 L378.7,60.06 L380.2,60.06 L381.7,60.07 L383.2,60.07 L384.7,60.07 L386.2,60.07 L387.7,60.08 L389.2,60.08 L390.7,60.08 L392.2,60.08 L393.7,60.09 L395.2,60.09 L396.7,60.09 L398.2,60.10 L399.7,60.10 L401.2,60.10 L402.7,60.11 L404.2,60.11 L405.7,60.11 L407.2,60.11 L408.7,60.12 L410.3,60.12 L411.8,60.12 L413.3,60.12 L414.8,60.12 L416.3,60.13 L417.8,60.13 L419.3,60.13 L420.8,60.13 L422.3,60.14 L423.8,60.14 L425.3,60.14 L426.8,60.15 L428.3,60.15 L429.8,60.16 L431.3,60.16 L432.8,60.17 L434.3,60.17 L435.8,60.18 L437.3,60.19 L438.8,60.19 L440.3,60.20 L441.9,60.23 L443.4,60.28 L444.9,60.34 L446.4,60.42 L447.9,60.51 L449.4,60.61 L450.9,60.72 L452.4,60.83 L453.9,60.96 L455.4,61.12 L456.9,61.30 L458.4,61.50 L459.9,61.71 L461.4,61.92 L462.9,62.13 L464.4,62.37 L465.9,62.62 L467.4,62.88 L468.9,63.14 L470.4,63.38 L471.9,63.59 L473.4,63.79 L475.0,63.99 L476.5,64.18 L478.0,64.35 L479.5,64.51 L481.0,64.63 L482.5,64.73 L484.0,64.81 L485.5,64.88 L487.0,64.94 L488.5,64.98 L490.0,65.00" stroke="#0000ff" stroke-width="2.8"/><path d="M104,57.8 L584.5,57.8" stroke="#00ff00" stroke-width="4.5"/><path d="M424.0,315.60 L425.5,315.20 L427.0,314.81 L428.5,314.42 L430.0,314.04 L431.5,313.68 L433.0,313.32 L434.5,312.97 L436.0,312.63 L437.5,312.31 L439.0,311.99 L440.5,311.69 L442.0,311.39 L443.5,311.09 L445.0,310.80 L446.5,310.50 L448.0,310.20 L449.5,309.89 L451.0,309.58 L452.5,309.28 L454.0,308.97 L455.5,308.67 L457.0,308.38 L458.5,308.09 L460.0,307.82 L461.5,307.55 L463.0,307.28 L464.5,307.02 L466.0,306.77 L467.5,306.51 L469.0,306.27 L470.5,306.02 L472.0,305.77 L473.5,305.53 L475.0,305.29 L476.5,305.04 L478.0,304.80 L479.5,304.55 L481.0,304.30 L482.5,304.05 L484.0,303.80 L485.5,303.54 L487.0,303.28 L488.5,303.01 L490.0,302.74 L491.5,302.46 L493.0,302.18 L494.5,301.91 L496.0,301.63 L497.5,301.36 L499.0,301.09 L500.5,300.83 L502.0,300.57 L503.5,300.33 L505.0,300.09 L506.5,299.86 L508.0,299.64 L509.5,299.43 L511.0,299.23 L512.5,299.03 L514.0,298.83 L515.5,298.63 L517.0,298.43 L518.5,298.24 L520.0,298.05 L521.5,297.87 L523.0,297.70 L524.5,297.53 L526.0,297.37 L527.5,297.22 L529.0,297.08 L530.5,296.96 L532.0,296.84 L533.5,296.73 L535.0,296.64 L536.5,296.55 L538.0,296.46 L539.5,296.38 L541.0,296.30 L542.5,296.22 L544.0,296.15 L545.5,296.09 L547.0,296.03 L548.5,295.97 L550.0,295.92 L551.5,295.87 L553.0,295.83 L554.5,295.79 L556.0,295.75 L557.5,295.71 L559.0,295.68 L560.5,295.64 L562.0,295.61 L563.5,295.57 L565.0,295.54 L566.5,295.51 L568.0,295.48 L569.5,295.45 L571.0,295.42 L572.5,295.40 L574.0,295.38 L575.5,295.36 L577.0,295.34 L578.5,295.33 L580.0,295.32 L581.5,295.31 L583.0,295.30 L584.5,295.30" stroke="#0000ff" stroke-width="4.4"/><path d="M104,312.7 L584.5,312.7" stroke="#ff00ff" stroke-width="4.3"/><path d="M104.0,295.10 L105.5,295.06 L107.0,295.04 L108.5,295.02 L110.0,295.01 L111.6,295.00 L113.1,295.00 L114.6,295.01 L116.1,295.02 L117.6,295.05 L119.1,295.07 L120.6,295.11 L122.1,295.14 L123.7,295.19 L125.2,295.24 L126.7,295.30 L128.2,295.36 L129.7,295.43 L131.2,295.51 L132.7,295.59 L134.2,295.67 L135.8,295.76 L137.3,295.86 L138.8,295.96 L140.3,296.07 L141.8,296.18 L143.3,296.30 L144.8,296.42 L146.3,296.55 L147.9,296.68 L149.4,296.81 L150.9,296.95 L152.4,297.10 L153.9,297.25 L155.4,297.40 L156.9,297.56 L158.4,297.72 L160.0,297.89 L161.5,298.06 L163.0,298.24 L164.5,298.41 L166.0,298.60 L167.5,298.78 L169.0,298.97 L170.5,299.17 L172.1,299.36 L173.6,299.56 L175.1,299.77 L176.6,299.97 L178.1,300.18 L179.6,300.39 L181.1,300.61 L182.6,300.83 L184.2,301.05 L185.7,301.27 L187.2,301.50 L188.7,301.73 L190.2,301.96 L191.7,302.19 L193.2,302.43 L194.7,302.67 L196.2,302.91 L197.8,303.15 L199.3,303.40 L200.8,303.64 L202.3,303.89 L203.8,304.14 L205.3,304.39 L206.8,304.65 L208.3,304.90 L209.9,305.16 L211.4,305.41 L212.9,305.67 L214.4,305.93 L215.9,306.19 L217.4,306.45 L218.9,306.72 L220.4,306.98 L222.0,307.24 L223.5,307.51 L225.0,307.77 L226.5,308.04 L228.0,308.31 L229.5,308.57 L231.0,308.84 L232.5,309.11 L234.1,309.37 L235.6,309.64 L237.1,309.91 L238.6,310.17 L240.1,310.44 L241.6,310.71 L243.1,310.97 L244.6,311.24 L246.2,311.50 L247.7,311.77 L249.2,312.03 L250.7,312.29 L252.2,312.55 L253.7,312.81 L255.2,313.07 L256.7,313.33 L258.3,313.59 L259.8,313.84 L261.3,314.10 L262.8,314.35 L264.3,314.60" stroke="#0000ff" stroke-width="2.8"/><path d="M104.0,333.59 L105.5,333.62 L107.0,333.64 L108.5,333.66 L110.0,333.67 L111.6,333.68 L113.1,333.68 L114.6,333.67 L116.1,333.66 L117.6,333.64 L119.1,333.62 L120.6,333.59 L122.1,333.56 L123.7,333.53 L125.2,333.48 L126.7,333.44 L128.2,333.38 L129.7,333.33 L131.2,333.27 L132.7,333.20 L134.2,333.13 L135.8,333.05 L137.3,332.97 L138.8,332.89 L140.3,332.80 L141.8,332.70 L143.3,332.60 L144.8,332.50 L146.3,332.39 L147.9,332.28 L149.4,332.17 L150.9,332.05 L152.4,331.92 L153.9,331.79 L155.4,331.66 L156.9,331.53 L158.4,331.39 L160.0,331.24 L161.5,331.10 L163.0,330.94 L164.5,330.79 L166.0,330.63 L167.5,330.47 L169.0,330.30 L170.5,330.14 L172.1,329.96 L173.6,329.79 L175.1,329.61 L176.6,329.43 L178.1,329.24 L179.6,329.05 L181.1,328.86 L182.6,328.67 L184.2,328.47 L185.7,328.27 L187.2,328.07 L188.7,327.86 L190.2,327.65 L191.7,327.44 L193.2,327.23 L194.7,327.01 L196.2,326.79 L197.8,326.57 L199.3,326.35 L200.8,326.12 L202.3,325.89 L203.8,325.66 L205.3,325.43 L206.8,325.19 L208.3,324.96 L209.9,324.72 L211.4,324.48 L212.9,324.23 L214.4,323.99 L215.9,323.74 L217.4,323.49 L218.9,323.24 L220.4,322.99 L222.0,322.74 L223.5,322.48 L225.0,322.22 L226.5,321.97 L228.0,321.71 L229.5,321.44 L231.0,321.18 L232.5,320.92 L234.1,320.65 L235.6,320.39 L237.1,320.12 L238.6,319.85 L240.1,319.58 L241.6,319.31 L243.1,319.04 L244.6,318.77 L246.2,318.50 L247.7,318.23 L249.2,317.95 L250.7,317.68 L252.2,317.40 L253.7,317.13 L255.2,316.85 L256.7,316.58 L258.3,316.30 L259.8,316.02 L261.3,315.75 L262.8,315.47 L264.3,315.19" stroke="#0000ff" stroke-width="2.8"/><path d="M264.3,315.00 L265.8,314.78 L267.3,314.55 L268.8,314.32 L270.3,314.09 L271.8,313.85 L273.3,313.60 L274.8,313.35 L276.3,313.09 L277.8,312.83 L279.3,312.57 L280.8,312.30 L282.3,312.02 L283.8,311.75 L285.3,311.47 L286.8,311.19 L288.4,310.90 L289.9,310.61 L291.4,310.33 L292.9,310.03 L294.4,309.74 L295.9,309.45 L297.4,309.15 L298.9,308.86 L300.4,308.56 L301.9,308.27 L303.4,307.97 L304.9,307.68 L306.4,307.38 L307.9,307.09 L309.4,306.80 L310.9,306.51 L312.4,306.22 L313.9,305.93 L315.4,305.65 L316.9,305.36 L318.4,305.09 L319.9,304.81 L321.4,304.54 L322.9,304.27 L324.4,304.00 L325.9,303.74 L327.4,303.48 L328.9,303.23 L330.4,302.98 L331.9,302.74 L333.5,302.50 L335.0,302.26 L336.5,302.03 L338.0,301.80 L339.5,301.57 L341.0,301.35 L342.5,301.13 L344.0,300.92 L345.5,300.71 L347.0,300.51 L348.5,300.30 L350.0,300.11 L351.5,299.91 L353.0,299.72 L354.5,299.54 L356.0,299.35 L357.5,299.18 L359.0,299.00 L360.5,298.83 L362.0,298.66 L363.5,298.50 L365.0,298.34 L366.5,298.18 L368.0,298.03 L369.5,297.88 L371.0,297.73 L372.5,297.59 L374.0,297.45 L375.5,297.32 L377.0,297.19 L378.5,297.06 L380.1,296.94 L381.6,296.82 L383.1,296.70 L384.6,296.59 L386.1,296.48 L387.6,296.37 L389.1,296.27 L390.6,296.17 L392.1,296.07 L393.6,295.98 L395.1,295.89 L396.6,295.81 L398.1,295.72 L399.6,295.64 L401.1,295.57 L402.6,295.50 L404.1,295.43 L405.6,295.36 L407.1,295.30 L408.6,295.24 L410.1,295.18 L411.6,295.13 L413.1,295.08 L414.6,295.03 L416.1,294.98 L417.6,294.94 L419.1,294.90 L420.6,294.86 L422.1,294.83 L423.6,294.80 L425.2,294.77 L426.7,294.74 L428.2,294.72 L429.7,294.69 L431.2,294.67 L432.7,294.65 L434.2,294.64 L435.7,294.63 L437.2,294.61 L438.7,294.60 L440.2,294.60 L441.7,294.59 L443.2,294.59 L444.7,294.59 L446.2,294.59 L447.7,294.59 L449.2,294.59 L450.7,294.59 L452.2,294.60 L453.7,294.61 L455.2,294.62 L456.7,294.63 L458.2,294.64 L459.7,294.65 L461.2,294.67 L462.7,294.68 L464.2,294.70 L465.7,294.72 L467.2,294.74 L468.7,294.76 L470.3,294.78 L471.8,294.80 L473.3,294.82 L474.8,294.85 L476.3,294.87 L477.8,294.90 L479.3,294.92 L480.8,294.95 L482.3,294.97 L483.8,295.00 L485.3,295.03 L486.8,295.05 L488.3,295.08 L489.8,295.11 L491.3,295.14 L492.8,295.17 L494.3,295.20 L495.8,295.22 L497.3,295.25 L498.8,295.28 L500.3,295.31 L501.8,295.34 L503.3,295.37 L504.8,295.39 L506.3,295.42 L507.8,295.45 L509.3,295.47 L510.8,295.50 L512.3,295.53 L513.8,295.55 L515.3,295.58 L516.9,295.60 L518.4,295.62 L519.9,295.64 L521.4,295.67 L522.9,295.69 L524.4,295.71 L525.9,295.72 L527.4,295.74 L528.9,295.76 L530.4,295.77 L531.9,295.79 L533.4,295.80 L534.9,295.81 L536.4,295.82 L537.9,295.83 L539.4,295.83 L540.9,295.84 L542.4,295.84 L543.9,295.85 L545.4,295.85 L546.9,295.85 L548.4,295.84 L549.9,295.84 L551.4,295.83 L552.9,295.82 L554.4,295.81 L555.9,295.80 L557.4,295.78 L558.9,295.77 L560.4,295.75 L562.0,295.73 L563.5,295.70 L565.0,295.68 L566.5,295.65 L568.0,295.62 L569.5,295.58 L571.0,295.55 L572.5,295.51 L574.0,295.47 L575.5,295.42 L577.0,295.38 L578.5,295.33 L580.0,295.27 L581.5,295.22 L583.0,295.16 L584.5,295.10" stroke="#0000ff" stroke-width="2.8"/><path d="M264.3,315.18 L265.8,315.48 L267.3,315.78 L268.8,316.07 L270.3,316.37 L271.8,316.66 L273.3,316.94 L274.8,317.23 L276.3,317.51 L277.8,317.79 L279.3,318.07 L280.8,318.35 L282.3,318.62 L283.8,318.89 L285.3,319.16 L286.8,319.43 L288.4,319.70 L289.9,319.96 L291.4,320.22 L292.9,320.47 L294.4,320.73 L295.9,320.98 L297.4,321.23 L298.9,321.48 L300.4,321.73 L301.9,321.97 L303.4,322.21 L304.9,322.45 L306.4,322.69 L307.9,322.92 L309.4,323.15 L310.9,323.38 L312.4,323.61 L313.9,323.83 L315.4,324.05 L316.9,324.27 L318.4,324.49 L319.9,324.70 L321.4,324.91 L322.9,325.12 L324.4,325.33 L325.9,325.53 L327.4,325.73 L328.9,325.93 L330.4,326.13 L331.9,326.32 L333.5,326.52 L335.0,326.71 L336.5,326.89 L338.0,327.08 L339.5,327.26 L341.0,327.44 L342.5,327.62 L344.0,327.79 L345.5,327.96 L347.0,328.13 L348.5,328.30 L350.0,328.46 L351.5,328.62 L353.0,328.78 L354.5,328.94 L356.0,329.09 L357.5,329.25 L359.0,329.39 L360.5,329.54 L362.0,329.68 L363.5,329.83 L365.0,329.96 L366.5,330.10 L368.0,330.23 L369.5,330.37 L371.0,330.49 L372.5,330.62 L374.0,330.74 L375.5,330.86 L377.0,330.98 L378.5,331.10 L380.1,331.21 L381.6,331.32 L383.1,331.43 L384.6,331.53 L386.1,331.63 L387.6,331.73 L389.1,331.83 L390.6,331.92 L392.1,332.01 L393.6,332.10 L395.1,332.19 L396.6,332.27 L398.1,332.35 L399.6,332.43 L401.1,332.50 L402.6,332.58 L404.1,332.65 L405.6,332.71 L407.1,332.78 L408.6,332.84 L410.1,332.90 L411.6,332.96 L413.1,333.01 L414.6,333.07 L416.1,333.12 L417.6,333.17 L419.1,333.21 L420.6,333.26 L422.1,333.30 L423.6,333.34 L425.2,333.38 L426.7,333.41 L428.2,333.44 L429.7,333.48 L431.2,333.51 L432.7,333.53 L434.2,333.56 L435.7,333.58 L437.2,333.61 L438.7,333.63 L440.2,333.65 L441.7,333.66 L443.2,333.68 L444.7,333.69 L446.2,333.71 L447.7,333.72 L449.2,333.73 L450.7,333.74 L452.2,333.74 L453.7,333.75 L455.2,333.75 L456.7,333.76 L458.2,333.76 L459.7,333.76 L461.2,333.76 L462.7,333.76 L464.2,333.75 L465.7,333.75 L467.2,333.75 L468.7,333.74 L470.3,333.73 L471.8,333.73 L473.3,333.72 L474.8,333.71 L476.3,333.70 L477.8,333.69 L479.3,333.68 L480.8,333.67 L482.3,333.65 L483.8,333.64 L485.3,333.63 L486.8,333.61 L488.3,333.60 L489.8,333.58 L491.3,333.57 L492.8,333.55 L494.3,333.54 L495.8,333.52 L497.3,333.51 L498.8,333.49 L500.3,333.47 L501.8,333.46 L503.3,333.44 L504.8,333.42 L506.3,333.41 L507.8,333.39 L509.3,333.37 L510.8,333.36 L512.3,333.34 L513.8,333.32 L515.3,333.31 L516.9,333.29 L518.4,333.28 L519.9,333.26 L521.4,333.25 L522.9,333.23 L524.4,333.22 L525.9,333.21 L527.4,333.19 L528.9,333.18 L530.4,333.17 L531.9,333.16 L533.4,333.15 L534.9,333.14 L536.4,333.13 L537.9,333.12 L539.4,333.12 L540.9,333.11 L542.4,333.10 L543.9,333.10 L545.4,333.10 L546.9,333.10 L548.4,333.09 L549.9,333.10 L551.4,333.10 L552.9,333.10 L554.4,333.10 L555.9,333.11 L557.4,333.11 L558.9,333.12 L560.4,333.13 L562.0,333.14 L563.5,333.15 L565.0,333.17 L566.5,333.18 L568.0,333.20 L569.5,333.22 L571.0,333.24 L572.5,333.26 L574.0,333.28 L575.5,333.31 L577.0,333.33 L578.5,333.36 L580.0,333.39 L581.5,333.43 L583.0,333.46 L584.5,333.50" stroke="#0000ff" stroke-width="2.8"/><path d="M264.3,316.00 L265.8,316.01 L267.3,316.01 L268.8,316.02 L270.3,316.02 L271.8,316.03 L273.3,316.03 L274.8,316.04 L276.3,316.05 L277.8,316.05 L279.3,316.06 L280.8,316.06 L282.3,316.07 L283.8,316.07 L285.3,316.08 L286.8,316.08 L288.4,316.08 L289.9,316.09 L291.4,316.09 L292.9,316.09 L294.4,316.10 L295.9,316.10 L297.4,316.10 L298.9,316.10 L300.4,316.10 L301.9,316.10 L303.4,316.10 L304.9,316.10 L306.4,316.10 L307.9,316.10 L309.4,316.10 L310.9,316.10 L312.4,316.10 L313.9,316.10 L315.4,316.10 L316.9,316.10 L318.4,316.10 L319.9,316.10 L321.4,316.10 L322.9,316.10 L324.4,316.10 L325.9,316.10 L327.4,316.10 L328.9,316.10 L330.4,316.10 L331.9,316.10 L333.5,316.10 L335.0,316.10 L336.5,316.10 L338.0,316.10 L339.5,316.10 L341.0,316.10 L342.5,316.10 L344.0,316.10 L345.5,316.10 L347.0,316.10 L348.5,316.10 L350.0,316.10 L351.5,316.10 L353.0,316.10 L354.5,316.10 L356.0,316.10 L357.5,316.10 L359.0,316.10 L360.5,316.10 L362.0,316.10 L363.5,316.10 L365.0,316.10 L366.5,316.10 L368.0,316.10 L369.5,316.10 L371.0,316.10 L372.5,316.10 L374.0,316.10 L375.5,316.10 L377.0,316.10 L378.5,316.10 L380.1,316.10 L381.6,316.10 L383.1,316.10 L384.6,316.10 L386.1,316.10 L387.6,316.10 L389.1,316.10 L390.6,316.10 L392.1,316.10 L393.6,316.10 L395.1,316.10 L396.6,316.10 L398.1,316.10 L399.6,316.10 L401.1,316.10 L402.6,316.10 L404.1,316.10 L405.6,316.10 L407.1,316.10 L408.6,316.10 L410.1,316.10 L411.6,316.10 L413.1,316.10 L414.6,316.10 L416.1,316.10 L417.6,316.10 L419.1,316.10 L420.6,316.10 L422.1,316.10 L423.6,316.10 L425.2,316.12 L426.7,316.18 L428.2,316.27 L429.7,316.38 L431.2,316.49 L432.7,316.64 L434.2,316.81 L435.7,317.00 L437.2,317.22 L438.7,317.44 L440.2,317.67 L441.7,317.91 L443.2,318.14 L444.7,318.36 L446.2,318.57 L447.7,318.79 L449.2,319.01 L450.7,319.23 L452.2,319.46 L453.7,319.68 L455.2,319.91 L456.7,320.15 L458.2,320.38 L459.7,320.61 L461.2,320.85 L462.7,321.09 L464.2,321.33 L465.7,321.57 L467.2,321.82 L468.7,322.07 L470.3,322.31 L471.8,322.56 L473.3,322.81 L474.8,323.06 L476.3,323.31 L477.8,323.56 L479.3,323.81 L480.8,324.06 L482.3,324.31 L483.8,324.56 L485.3,324.82 L486.8,325.07 L488.3,325.33 L489.8,325.60 L491.3,325.86 L492.8,326.13 L494.3,326.40 L495.8,326.67 L497.3,326.93 L498.8,327.19 L500.3,327.45 L501.8,327.70 L503.3,327.95 L504.8,328.19 L506.3,328.42 L507.8,328.64 L509.3,328.85 L510.8,329.05 L512.3,329.26 L513.8,329.46 L515.3,329.66 L516.9,329.86 L518.4,330.06 L519.9,330.25 L521.4,330.43 L522.9,330.61 L524.4,330.79 L525.9,330.95 L527.4,331.11 L528.9,331.26 L530.4,331.40 L531.9,331.53 L533.4,331.65 L534.9,331.76 L536.4,331.87 L537.9,331.97 L539.4,332.07 L540.9,332.16 L542.4,332.25 L543.9,332.33 L545.4,332.41 L546.9,332.49 L548.4,332.56 L549.9,332.63 L551.4,332.69 L552.9,332.76 L554.4,332.82 L555.9,332.88 L557.4,332.94 L558.9,333.00 L560.4,333.05 L562.0,333.10 L563.5,333.15 L565.0,333.20 L566.5,333.24 L568.0,333.27 L569.5,333.29 L571.0,333.31 L572.5,333.33 L574.0,333.34 L575.5,333.36 L577.0,333.37 L578.5,333.38 L580.0,333.39 L581.5,333.39 L583.0,333.40 L584.5,333.40" stroke="#0000ff" stroke-width="2.8"/><path d="M104,595.0 L584.5,595.0" stroke="#ffd700" stroke-width="4"/><path d="M104.0,586.30 L105.5,586.29 L107.0,586.28 L108.5,586.27 L110.0,586.27 L111.6,586.27 L113.1,586.27 L114.6,586.28 L116.1,586.29 L117.6,586.30 L119.1,586.31 L120.6,586.33 L122.1,586.34 L123.7,586.36 L125.2,586.39 L126.7,586.41 L128.2,586.44 L129.7,586.47 L131.2,586.50 L132.7,586.53 L134.2,586.57 L135.8,586.61 L137.3,586.65 L138.8,586.69 L140.3,586.74 L141.8,586.78 L143.3,586.83 L144.8,586.88 L146.3,586.94 L147.9,586.99 L149.4,587.05 L150.9,587.10 L152.4,587.16 L153.9,587.23 L155.4,587.29 L156.9,587.36 L158.4,587.42 L160.0,587.49 L161.5,587.56 L163.0,587.63 L164.5,587.71 L166.0,587.78 L167.5,587.86 L169.0,587.94 L170.5,588.02 L172.1,588.10 L173.6,588.18 L175.1,588.26 L176.6,588.35 L178.1,588.43 L179.6,588.52 L181.1,588.61 L182.6,588.70 L184.2,588.79 L185.7,588.88 L187.2,588.98 L188.7,589.07 L190.2,589.17 L191.7,589.26 L193.2,589.36 L194.7,589.46 L196.2,589.56 L197.8,589.66 L199.3,589.76 L200.8,589.86 L202.3,589.97 L203.8,590.07 L205.3,590.18 L206.8,590.28 L208.3,590.39 L209.9,590.49 L211.4,590.60 L212.9,590.71 L214.4,590.82 L215.9,590.92 L217.4,591.03 L218.9,591.14 L220.4,591.25 L222.0,591.36 L223.5,591.48 L225.0,591.59 L226.5,591.70 L228.0,591.81 L229.5,591.92 L231.0,592.03 L232.5,592.15 L234.1,592.26 L235.6,592.37 L237.1,592.49 L238.6,592.60 L240.1,592.71 L241.6,592.82 L243.1,592.94 L244.6,593.05 L246.2,593.16 L247.7,593.28 L249.2,593.39 L250.7,593.50 L252.2,593.61 L253.7,593.73 L255.2,593.84 L256.7,593.95 L258.3,594.06 L259.8,594.17 L261.3,594.28 L262.8,594.39 L264.3,594.50 M264.3,594.51 L265.8,594.42 L267.3,594.33 L268.8,594.24 L270.3,594.16 L271.8,594.07 L273.3,593.99 L274.8,593.90 L276.3,593.82 L277.8,593.74 L279.3,593.65 L280.8,593.57 L282.3,593.49 L283.8,593.41 L285.3,593.33 L286.8,593.26 L288.4,593.18 L289.9,593.10 L291.4,593.03 L292.9,592.95 L294.4,592.88 L295.9,592.81 L297.4,592.73 L298.9,592.66 L300.4,592.59 L301.9,592.52 L303.4,592.45 L304.9,592.38 L306.4,592.31 L307.9,592.25 L309.4,592.18 L310.9,592.11 L312.4,592.05 L313.9,591.98 L315.4,591.92 L316.9,591.85 L318.4,591.79 L319.9,591.73 L321.4,591.67 L322.9,591.61 L324.4,591.55 L325.9,591.49 L327.4,591.43 L328.9,591.37 L330.4,591.31 L331.9,591.25 L333.5,591.20 L335.0,591.14 L336.5,591.09 L338.0,591.03 L339.5,590.98 L341.0,590.92 L342.5,590.87 L344.0,590.82 L345.5,590.77 L347.0,590.72 L348.5,590.66 L350.0,590.61 L351.5,590.56 L353.0,590.52 L354.5,590.47 L356.0,590.42 L357.5,590.37 L359.0,590.32 L360.5,590.28 L362.0,590.23 L363.5,590.19 L365.0,590.14 L366.5,590.10 L368.0,590.05 L369.5,590.01 L371.0,589.97 L372.5,589.92 L374.0,589.88 L375.5,589.84 L377.0,589.80 L378.5,589.76 L380.1,589.72 L381.6,589.68 L383.1,589.64 L384.6,589.60 L386.1,589.56 L387.6,589.52 L389.1,589.49 L390.6,589.45 L392.1,589.41 L393.6,589.38 L395.1,589.34 L396.6,589.31 L398.1,589.27 L399.6,589.24 L401.1,589.20 L402.6,589.17 L404.1,589.13 L405.6,589.10 L407.1,589.07 L408.6,589.03 L410.1,589.00 L411.6,588.97 L413.1,588.94 L414.6,588.91 L416.1,588.88 L417.6,588.85 L419.1,588.82 L420.6,588.79 L422.1,588.76 L423.6,588.73 L425.2,588.70 L426.7,588.67 L428.2,588.64 L429.7,588.61 L431.2,588.59 L432.7,588.56 L434.2,588.53 L435.7,588.50 L437.2,588.48 L438.7,588.45 L440.2,588.42 L441.7,588.40 L443.2,588.37 L444.7,588.35 L446.2,588.32 L447.7,588.30 L449.2,588.27 L450.7,588.25 L452.2,588.22 L453.7,588.20 L455.2,588.17 L456.7,588.15 L458.2,588.13 L459.7,588.10 L461.2,588.08 L462.7,588.06 L464.2,588.03 L465.7,588.01 L467.2,587.99 L468.7,587.97 L470.3,587.94 L471.8,587.92 L473.3,587.90 L474.8,587.88 L476.3,587.86 L477.8,587.83 L479.3,587.81 L480.8,587.79 L482.3,587.77 L483.8,587.75 L485.3,587.73 L486.8,587.71 L488.3,587.69 L489.8,587.66 L491.3,587.64 L492.8,587.62 L494.3,587.60 L495.8,587.58 L497.3,587.56 L498.8,587.54 L500.3,587.52 L501.8,587.50 L503.3,587.48 L504.8,587.46 L506.3,587.44 L507.8,587.42 L509.3,587.40 L510.8,587.38 L512.3,587.36 L513.8,587.34 L515.3,587.32 L516.9,587.30 L518.4,587.28 L519.9,587.26 L521.4,587.24 L522.9,587.22 L524.4,587.20 L525.9,587.18 L527.4,587.15 L528.9,587.13 L530.4,587.11 L531.9,587.09 L533.4,587.07 L534.9,587.05 L536.4,587.03 L537.9,587.01 L539.4,586.99 L540.9,586.97 L542.4,586.95 L543.9,586.93 L545.4,586.90 L546.9,586.88 L548.4,586.86 L549.9,586.84 L551.4,586.82 L552.9,586.80 L554.4,586.77 L555.9,586.75 L557.4,586.73 L558.9,586.71 L560.4,586.68 L562.0,586.66 L563.5,586.64 L565.0,586.61 L566.5,586.59 L568.0,586.57 L569.5,586.54 L571.0,586.52 L572.5,586.50 L574.0,586.47 L575.5,586.45 L577.0,586.42 L578.5,586.40 L580.0,586.37 L581.5,586.35 L583.0,586.32 L584.5,586.30" stroke="#0000ff" stroke-width="2.8"/><path d="M104.0,603.80 L105.5,603.80 L107.0,603.79 L108.5,603.79 L110.0,603.78 L111.6,603.77 L113.1,603.76 L114.6,603.75 L116.1,603.73 L117.6,603.71 L119.1,603.69 L120.6,603.67 L122.1,603.65 L123.7,603.62 L125.2,603.60 L126.7,603.57 L128.2,603.54 L129.7,603.50 L131.2,603.47 L132.7,603.43 L134.2,603.40 L135.8,603.36 L137.3,603.32 L138.8,603.27 L140.3,603.23 L141.8,603.18 L143.3,603.14 L144.8,603.09 L146.3,603.04 L147.9,602.99 L149.4,602.93 L150.9,602.88 L152.4,602.82 L153.9,602.76 L155.4,602.71 L156.9,602.65 L158.4,602.58 L160.0,602.52 L161.5,602.46 L163.0,602.39 L164.5,602.32 L166.0,602.25 L167.5,602.19 L169.0,602.11 L170.5,602.04 L172.1,601.97 L173.6,601.89 L175.1,601.82 L176.6,601.74 L178.1,601.67 L179.6,601.59 L181.1,601.51 L182.6,601.43 L184.2,601.34 L185.7,601.26 L187.2,601.18 L188.7,601.09 L190.2,601.01 L191.7,600.92 L193.2,600.83 L194.7,600.74 L196.2,600.66 L197.8,600.57 L199.3,600.47 L200.8,600.38 L202.3,600.29 L203.8,600.20 L205.3,600.10 L206.8,600.01 L208.3,599.91 L209.9,599.82 L211.4,599.72 L212.9,599.62 L214.4,599.53 L215.9,599.43 L217.4,599.33 L218.9,599.23 L220.4,599.13 L222.0,599.03 L223.5,598.93 L225.0,598.83 L226.5,598.73 L228.0,598.62 L229.5,598.52 L231.0,598.42 L232.5,598.31 L234.1,598.21 L235.6,598.11 L237.1,598.00 L238.6,597.90 L240.1,597.79 L241.6,597.69 L243.1,597.58 L244.6,597.48 L246.2,597.37 L247.7,597.27 L249.2,597.16 L250.7,597.05 L252.2,596.95 L253.7,596.84 L255.2,596.74 L256.7,596.63 L258.3,596.52 L259.8,596.42 L261.3,596.31 L262.8,596.21 L264.3,596.10 M264.3,596.10 L265.8,596.18 L267.3,596.26 L268.8,596.34 L270.3,596.41 L271.8,596.49 L273.3,596.57 L274.8,596.64 L276.3,596.72 L277.8,596.79 L279.3,596.87 L280.8,596.94 L282.3,597.02 L283.8,597.09 L285.3,597.16 L286.8,597.23 L288.4,597.30 L289.9,597.37 L291.4,597.44 L292.9,597.51 L294.4,597.58 L295.9,597.65 L297.4,597.71 L298.9,597.78 L300.4,597.84 L301.9,597.91 L303.4,597.97 L304.9,598.04 L306.4,598.10 L307.9,598.16 L309.4,598.23 L310.9,598.29 L312.4,598.35 L313.9,598.41 L315.4,598.47 L316.9,598.53 L318.4,598.59 L319.9,598.65 L321.4,598.70 L322.9,598.76 L324.4,598.82 L325.9,598.87 L327.4,598.93 L328.9,598.99 L330.4,599.04 L331.9,599.09 L333.5,599.15 L335.0,599.20 L336.5,599.25 L338.0,599.31 L339.5,599.36 L341.0,599.41 L342.5,599.46 L344.0,599.51 L345.5,599.56 L347.0,599.61 L348.5,599.66 L350.0,599.70 L351.5,599.75 L353.0,599.80 L354.5,599.85 L356.0,599.89 L357.5,599.94 L359.0,599.98 L360.5,600.03 L362.0,600.07 L363.5,600.12 L365.0,600.16 L366.5,600.20 L368.0,600.25 L369.5,600.29 L371.0,600.33 L372.5,600.37 L374.0,600.41 L375.5,600.45 L377.0,600.49 L378.5,600.53 L380.1,600.57 L381.6,600.61 L383.1,600.65 L384.6,600.69 L386.1,600.73 L387.6,600.76 L389.1,600.80 L390.6,600.84 L392.1,600.87 L393.6,600.91 L395.1,600.94 L396.6,600.98 L398.1,601.01 L399.6,601.05 L401.1,601.08 L402.6,601.12 L404.1,601.15 L405.6,601.18 L407.1,601.21 L408.6,601.25 L410.1,601.28 L411.6,601.31 L413.1,601.34 L414.6,601.37 L416.1,601.40 L417.6,601.43 L419.1,601.46 L420.6,601.49 L422.1,601.52 L423.6,601.55 L425.2,601.58 L426.7,601.61 L428.2,601.64 L429.7,601.66 L431.2,601.69 L432.7,601.72 L434.2,601.75 L435.7,601.77 L437.2,601.80 L438.7,601.82 L440.2,601.85 L441.7,601.88 L443.2,601.90 L444.7,601.93 L446.2,601.95 L447.7,601.98 L449.2,602.00 L450.7,602.02 L452.2,602.05 L453.7,602.07 L455.2,602.09 L456.7,602.12 L458.2,602.14 L459.7,602.16 L461.2,602.19 L462.7,602.21 L464.2,602.23 L465.7,602.25 L467.2,602.27 L468.7,602.29 L470.3,602.32 L471.8,602.34 L473.3,602.36 L474.8,602.38 L476.3,602.40 L477.8,602.42 L479.3,602.44 L480.8,602.46 L482.3,602.48 L483.8,602.50 L485.3,602.52 L486.8,602.54 L488.3,602.56 L489.8,602.57 L491.3,602.59 L492.8,602.61 L494.3,602.63 L495.8,602.65 L497.3,602.67 L498.8,602.68 L500.3,602.70 L501.8,602.72 L503.3,602.74 L504.8,602.76 L506.3,602.77 L507.8,602.79 L509.3,602.81 L510.8,602.83 L512.3,602.84 L513.8,602.86 L515.3,602.88 L516.9,602.89 L518.4,602.91 L519.9,602.93 L521.4,602.94 L522.9,602.96 L524.4,602.97 L525.9,602.99 L527.4,603.01 L528.9,603.02 L530.4,603.04 L531.9,603.06 L533.4,603.07 L534.9,603.09 L536.4,603.10 L537.9,603.12 L539.4,603.13 L540.9,603.15 L542.4,603.17 L543.9,603.18 L545.4,603.20 L546.9,603.21 L548.4,603.23 L549.9,603.24 L551.4,603.26 L552.9,603.28 L554.4,603.29 L555.9,603.31 L557.4,603.32 L558.9,603.34 L560.4,603.35 L562.0,603.37 L563.5,603.38 L565.0,603.40 L566.5,603.42 L568.0,603.43 L569.5,603.45 L571.0,603.46 L572.5,603.48 L574.0,603.49 L575.5,603.51 L577.0,603.53 L578.5,603.54 L580.0,603.56 L581.5,603.57 L583.0,603.59 L584.5,603.61" stroke="#0000ff" stroke-width="2.8"/></g><g fill="none"><path d="M104,9.5 L585,9.5" stroke="#1a1a1a" stroke-width="1"/><path d="M584.5,9 L584.5,617" stroke="#1a1a1a" stroke-width="1"/><path d="M104,9 L104,618" stroke="#000" stroke-width="1"/><path d="M103.5,617 L585,617" stroke="#000" stroke-width="1"/><path d="M104,161.5 L110,161.5" stroke="#333" stroke-width="1"/><path d="M578.5,161.5 L584,161.5" stroke="#333" stroke-width="1"/><path d="M104,389.5 L110,389.5" stroke="#333" stroke-width="1"/><path d="M578.5,389.5 L584,389.5" stroke="#333" stroke-width="1"/></g><g clip-path="url(#cc)" fill="none"><path d="M747.0,343.40 L748.5,343.45 L750.0,343.51 L751.5,343.57 L753.0,343.65 L754.5,343.74 L756.0,343.84 L757.5,343.95 L759.0,344.07 L760.5,344.20 L762.0,344.34 L763.5,344.48 L765.0,344.63 L766.5,344.79 L768.0,344.95 L769.5,345.11 L771.0,345.28 L772.5,345.46 L774.0,345.65 L775.5,345.85 L777.0,346.06 L778.5,346.29 L780.0,346.53 L781.5,346.78 L783.0,347.03 L784.5,347.30 L786.0,347.57 L787.5,347.85 L789.0,348.13 L790.5,348.41 L792.0,348.70 L793.5,348.99 L795.0,349.30 L796.5,349.61 L798.0,349.94 L799.5,350.27 L801.0,350.62 L802.5,350.97 L804.0,351.32 L805.5,351.68 L807.0,352.05 L808.5,352.42 L810.0,352.80 L811.5,353.17 L813.0,353.56 L814.5,353.96 L816.0,354.37 L817.5,354.79 L819.0,355.22 L820.5,355.65 L822.0,356.09 L823.5,356.53 L825.0,356.96 L826.5,357.40 L828.0,357.82 L829.5,358.24 L831.0,358.65 L832.5,359.06 L834.0,359.47 L835.5,359.88 L837.0,360.29 L838.5,360.70 L840.0,361.11 L841.5,361.51 L843.0,361.90 L844.5,362.29 L846.0,362.67 L847.5,363.04 L849.0,363.40 L850.5,363.75 L852.0,364.09 L853.5,364.43 L855.0,364.77 L856.5,365.11 L858.0,365.44 L859.5,365.77 L861.0,366.08 L862.5,366.39 L864.0,366.68 L865.5,366.96 L867.0,367.23 L868.5,367.47 L870.0,367.70 L871.5,367.92 L873.0,368.15 L874.5,368.38 L876.0,368.61 L877.5,368.84 L879.0,369.05 L880.5,369.25 L882.0,369.43 L883.5,369.59 L885.0,369.72 L886.5,369.82 L888.0,369.88 L889.5,369.90 L891.0,369.90 L892.5,369.89 L894.0,369.87 L895.5,369.85 L897.0,369.83 L898.5,369.80 L900.0,369.77 L901.5,369.73 L903.0,369.70 L904.5,369.65 L906.0,369.61 L907.5,369.56 L909.0,369.52 L910.5,369.46 L912.0,369.39 L913.5,369.30 L915.0,369.19 L916.5,369.06 L918.0,368.93 L919.5,368.78 L921.0,368.63 L922.5,368.47 L924.0,368.30 L925.5,368.14 L927.0,367.98 L928.5,367.81 L930.0,367.66 L931.5,367.50 L933.0,367.34 L934.5,367.17 L936.0,366.99 L937.5,366.81 L939.0,366.63 L940.5,366.45 L942.0,366.26 L943.5,366.07 L945.0,365.88 L946.5,365.69 L948.0,365.49 L949.5,365.30 L951.0,365.11 L952.5,364.91 L954.0,364.71 L955.5,364.51 L957.0,364.30 L958.5,364.10 L960.0,363.89 L961.5,363.68 L963.0,363.47 L964.5,363.25 L966.0,363.04 L967.5,362.82 L969.0,362.60 L970.5,362.38 L972.0,362.14 L973.5,361.90 L975.0,361.65 L976.5,361.40 L978.0,361.15 L979.5,360.91 L981.0,360.66 L982.5,360.42 L984.0,360.19 L985.5,359.97 L987.0,359.76 L988.5,359.56 L990.0,359.38 L991.5,359.20 L993.0,359.02 L994.5,358.85 L996.0,358.68 L997.5,358.51 L999.0,358.35 L1000.5,358.20 L1002.0,358.05 L1003.5,357.92 L1005.0,357.79 L1006.5,357.67 L1008.0,357.56 L1009.5,357.47 L1011.0,357.38 L1012.5,357.29 L1014.0,357.21 L1015.5,357.12 L1017.0,357.05 L1018.5,356.97 L1020.0,356.91 L1021.5,356.84 L1023.0,356.78 L1024.5,356.73 L1026.0,356.68 L1027.5,356.64 L1029.0,356.60 L1030.5,356.57 L1032.0,356.54 L1033.5,356.52 L1035.0,356.50 L1036.5,356.48 L1038.0,356.47 L1039.5,356.45 L1041.0,356.43 L1042.5,356.42 L1044.0,356.40 L1045.5,356.37 L1047.0,356.34 L1048.5,356.31 L1050.0,356.27 L1051.5,356.21 L1053.0,356.13 L1054.5,356.04 L1056.0,355.94 L1057.5,355.83 L1059.0,355.70 L1060.5,355.57 L1062.0,355.44 L1063.5,355.30 L1065.0,355.16 L1066.5,355.02 L1068.0,354.89 L1069.5,354.76 L1071.0,354.62 L1072.5,354.49 L1074.0,354.35 L1075.5,354.20 L1077.0,354.05 L1078.5,353.90 L1080.0,353.75 L1081.5,353.60 L1083.0,353.44 L1084.5,353.28 L1086.0,353.12 L1087.5,352.96 L1089.0,352.80 L1090.5,352.64 L1092.0,352.48 L1093.5,352.31 L1095.0,352.15 L1096.5,351.98 L1098.0,351.81 L1099.5,351.64 L1101.0,351.46 L1102.5,351.29 L1104.0,351.11 L1105.5,350.93 L1107.0,350.75 L1108.5,350.56 L1110.0,350.37 L1111.5,350.18 L1113.0,349.97 L1114.5,349.77 L1116.0,349.55 L1117.5,349.34 L1119.0,349.13 L1120.5,348.91 L1122.0,348.70 L1123.5,348.50 L1125.0,348.30 L1126.5,348.10 L1128.0,347.92 L1129.5,347.74 L1131.0,347.57 L1132.5,347.41 L1134.0,347.25 L1135.5,347.09 L1137.0,346.94 L1138.5,346.79 L1140.0,346.64 L1141.5,346.50 L1143.0,346.36 L1144.5,346.22 L1146.0,346.08 L1147.5,345.94 L1149.0,345.80 L1150.5,345.66 L1152.0,345.52 L1153.5,345.37 L1155.0,345.22 L1156.5,345.07 L1158.0,344.93 L1159.5,344.79 L1161.0,344.65 L1162.5,344.53 L1164.0,344.41 L1165.5,344.30 L1167.0,344.21 L1168.5,344.12 L1170.0,344.05 L1171.5,343.99 L1173.0,343.92 L1174.5,343.86 L1176.0,343.80 L1177.5,343.74 L1179.0,343.69 L1180.5,343.64 L1182.0,343.60 L1183.5,343.56 L1185.0,343.53 L1186.5,343.51 L1188.0,343.50" stroke="#0000ff" stroke-width="4.1" stroke-dasharray="10.1 10"/><path d="M747.0,552.70 L748.5,552.68 L750.0,552.65 L751.5,552.61 L753.0,552.57 L754.5,552.52 L756.0,552.45 L757.5,552.38 L759.0,552.29 L760.5,552.20 L762.0,552.11 L763.5,552.00 L765.0,551.89 L766.5,551.77 L768.0,551.65 L769.5,551.52 L771.0,551.39 L772.5,551.25 L774.0,551.10 L775.5,550.94 L777.0,550.75 L778.5,550.55 L780.0,550.34 L781.5,550.12 L783.0,549.89 L784.5,549.65 L786.0,549.41 L787.5,549.16 L789.0,548.91 L790.5,548.65 L792.0,548.40 L793.5,548.14 L795.0,547.88 L796.5,547.60 L798.0,547.32 L799.5,547.02 L801.0,546.72 L802.5,546.42 L804.0,546.11 L805.5,545.80 L807.0,545.48 L808.5,545.16 L810.0,544.83 L811.5,544.51 L813.0,544.18 L814.5,543.84 L816.0,543.49 L817.5,543.13 L819.0,542.77 L820.5,542.40 L822.0,542.03 L823.5,541.66 L825.0,541.29 L826.5,540.93 L828.0,540.58 L829.5,540.23 L831.0,539.90 L832.5,539.58 L834.0,539.26 L835.5,538.94 L837.0,538.63 L838.5,538.32 L840.0,538.02 L841.5,537.72 L843.0,537.42 L844.5,537.13 L846.0,536.84 L847.5,536.55 L849.0,536.27 L850.5,535.99 L852.0,535.71 L853.5,535.43 L855.0,535.14 L856.5,534.84 L858.0,534.55 L859.5,534.26 L861.0,533.97 L862.5,533.70 L864.0,533.45 L865.5,533.21 L867.0,533.00 L868.5,532.81 L870.0,532.65 L871.5,532.51 L873.0,532.38 L874.5,532.25 L876.0,532.12 L877.5,532.00 L879.0,531.88 L880.5,531.78 L882.0,531.68 L883.5,531.60 L885.0,531.52 L886.5,531.47 L888.0,531.43 L889.5,531.40 L891.0,531.40 L892.5,531.40 L894.0,531.41 L895.5,531.42 L897.0,531.44 L898.5,531.46 L900.0,531.48 L901.5,531.51 L903.0,531.53 L904.5,531.56 L906.0,531.59 L907.5,531.63 L909.0,531.66 L910.5,531.70 L912.0,531.75 L913.5,531.81 L915.0,531.88 L916.5,531.97 L918.0,532.06 L919.5,532.17 L921.0,532.28 L922.5,532.40 L924.0,532.52 L925.5,532.64 L927.0,532.76 L928.5,532.88 L930.0,533.00 L931.5,533.12 L933.0,533.24 L934.5,533.36 L936.0,533.48 L937.5,533.61 L939.0,533.74 L940.5,533.88 L942.0,534.02 L943.5,534.16 L945.0,534.30 L946.5,534.45 L948.0,534.60 L949.5,534.75 L951.0,534.91 L952.5,535.07 L954.0,535.25 L955.5,535.43 L957.0,535.62 L958.5,535.81 L960.0,536.00 L961.5,536.19 L963.0,536.38 L964.5,536.57 L966.0,536.75 L967.5,536.93 L969.0,537.09 L970.5,537.25 L972.0,537.40 L973.5,537.54 L975.0,537.68 L976.5,537.81 L978.0,537.94 L979.5,538.07 L981.0,538.19 L982.5,538.32 L984.0,538.45 L985.5,538.58 L987.0,538.72 L988.5,538.85 L990.0,539.00 L991.5,539.16 L993.0,539.32 L994.5,539.50 L996.0,539.69 L997.5,539.87 L999.0,540.06 L1000.5,540.25 L1002.0,540.43 L1003.5,540.61 L1005.0,540.77 L1006.5,540.92 L1008.0,541.05 L1009.5,541.17 L1011.0,541.26 L1012.5,541.36 L1014.0,541.45 L1015.5,541.54 L1017.0,541.63 L1018.5,541.71 L1020.0,541.79 L1021.5,541.86 L1023.0,541.92 L1024.5,541.98 L1026.0,542.02 L1027.5,542.06 L1029.0,542.09 L1030.5,542.10 L1032.0,542.12 L1033.5,542.12 L1035.0,542.13 L1036.5,542.14 L1038.0,542.14 L1039.5,542.15 L1041.0,542.15 L1042.5,542.16 L1044.0,542.16 L1045.5,542.17 L1047.0,542.18 L1048.5,542.19 L1050.0,542.20 L1051.5,542.22 L1053.0,542.26 L1054.5,542.31 L1056.0,542.38 L1057.5,542.46 L1059.0,542.54 L1060.5,542.64 L1062.0,542.74 L1063.5,542.84 L1065.0,542.95 L1066.5,543.06 L1068.0,543.16 L1069.5,543.27 L1071.0,543.37 L1072.5,543.48 L1074.0,543.59 L1075.5,543.71 L1077.0,543.83 L1078.5,543.95 L1080.0,544.08 L1081.5,544.21 L1083.0,544.35 L1084.5,544.49 L1086.0,544.63 L1087.5,544.77 L1089.0,544.91 L1090.5,545.05 L1092.0,545.19 L1093.5,545.34 L1095.0,545.49 L1096.5,545.65 L1098.0,545.80 L1099.5,545.96 L1101.0,546.12 L1102.5,546.29 L1104.0,546.45 L1105.5,546.61 L1107.0,546.78 L1108.5,546.94 L1110.0,547.10 L1111.5,547.26 L1113.0,547.43 L1114.5,547.60 L1116.0,547.77 L1117.5,547.94 L1119.0,548.11 L1120.5,548.28 L1122.0,548.45 L1123.5,548.61 L1125.0,548.78 L1126.5,548.94 L1128.0,549.10 L1129.5,549.25 L1131.0,549.40 L1132.5,549.55 L1134.0,549.70 L1135.5,549.84 L1137.0,549.99 L1138.5,550.14 L1140.0,550.28 L1141.5,550.41 L1143.0,550.55 L1144.5,550.68 L1146.0,550.80 L1147.5,550.92 L1149.0,551.03 L1150.5,551.13 L1152.0,551.24 L1153.5,551.34 L1155.0,551.43 L1156.5,551.53 L1158.0,551.62 L1159.5,551.71 L1161.0,551.80 L1162.5,551.88 L1164.0,551.96 L1165.5,552.03 L1167.0,552.09 L1168.5,552.15 L1170.0,552.20 L1171.5,552.25 L1173.0,552.29 L1174.5,552.34 L1176.0,552.38 L1177.5,552.42 L1179.0,552.46 L1180.5,552.49 L1182.0,552.52 L1183.5,552.55 L1185.0,552.57 L1186.5,552.59 L1188.0,552.60" stroke="#0000ff" stroke-width="4.1" stroke-dasharray="10.1 10"/><path d="M747.0,530.10 L748.5,530.10 L750.0,530.11 L751.5,530.11 L753.0,530.12 L754.5,530.12 L756.0,530.13 L757.5,530.13 L759.0,530.14 L760.5,530.15 L762.0,530.15 L763.5,530.16 L765.0,530.17 L766.5,530.18 L768.0,530.18 L769.5,530.19 L771.0,530.20 L772.5,530.21 L774.0,530.22 L775.5,530.23 L777.0,530.24 L778.5,530.25 L780.0,530.26 L781.5,530.27 L783.0,530.28 L784.5,530.29 L786.0,530.30 L787.5,530.31 L789.0,530.32 L790.5,530.33 L792.0,530.34 L793.5,530.35 L795.0,530.36 L796.5,530.37 L798.0,530.38 L799.5,530.40 L801.0,530.41 L802.5,530.42 L804.0,530.44 L805.5,530.45 L807.0,530.47 L808.5,530.49 L810.0,530.51 L811.5,530.53 L813.0,530.55 L814.5,530.57 L816.0,530.59 L817.5,530.61 L819.0,530.63 L820.5,530.66 L822.0,530.68 L823.5,530.70 L825.0,530.73 L826.5,530.75 L828.0,530.77 L829.5,530.79 L831.0,530.82 L832.5,530.84 L834.0,530.86 L835.5,530.88 L837.0,530.89 L838.5,530.91 L840.0,530.93 L841.5,530.94 L843.0,530.96 L844.5,530.97 L846.0,530.98 L847.5,530.99 L849.0,531.00 L850.5,531.00 L852.0,531.01 L853.5,531.01 L855.0,531.02 L856.5,531.02 L858.0,531.03 L859.5,531.03 L861.0,531.04 L862.5,531.04 L864.0,531.05 L865.5,531.05 L867.0,531.06 L868.5,531.06 L870.0,531.06 L871.5,531.07 L873.0,531.07 L874.5,531.08 L876.0,531.08 L877.5,531.09 L879.0,531.09 L880.5,531.09 L882.0,531.10 L883.5,531.10 L885.0,531.10 L886.5,531.11 L888.0,531.11 L889.5,531.12 L891.0,531.12 L892.5,531.12 L894.0,531.13 L895.5,531.13 L897.0,531.13 L898.5,531.14 L900.0,531.14 L901.5,531.14 L903.0,531.14 L904.5,531.15 L906.0,531.15 L907.5,531.15 L909.0,531.16 L910.5,531.16 L912.0,531.16 L913.5,531.16 L915.0,531.16 L916.5,531.17 L918.0,531.17 L919.5,531.17 L921.0,531.17 L922.5,531.18 L924.0,531.18 L925.5,531.18 L927.0,531.18 L928.5,531.18 L930.0,531.18 L931.5,531.19 L933.0,531.19 L934.5,531.19 L936.0,531.19 L937.5,531.19 L939.0,531.19 L940.5,531.19 L942.0,531.19 L943.5,531.20 L945.0,531.20 L946.5,531.20 L948.0,531.20 L949.5,531.20 L951.0,531.20 L952.5,531.20 L954.0,531.20 L955.5,531.20 L957.0,531.20 L958.5,531.20 L960.0,531.20 L961.5,531.20 L963.0,531.20 L964.5,531.20 L966.0,531.20 L967.5,531.20 L969.0,531.20 L970.5,531.19 L972.0,531.19 L973.5,531.19 L975.0,531.19 L976.5,531.19 L978.0,531.18 L979.5,531.18 L981.0,531.18 L982.5,531.17 L984.0,531.17 L985.5,531.17 L987.0,531.16 L988.5,531.16 L990.0,531.16 L991.5,531.15 L993.0,531.15 L994.5,531.14 L996.0,531.14 L997.5,531.13 L999.0,531.13 L1000.5,531.12 L1002.0,531.12 L1003.5,531.11 L1005.0,531.11 L1006.5,531.10 L1008.0,531.10 L1009.5,531.09 L1011.0,531.08 L1012.5,531.08 L1014.0,531.07 L1015.5,531.07 L1017.0,531.06 L1018.5,531.05 L1020.0,531.05 L1021.5,531.04 L1023.0,531.03 L1024.5,531.03 L1026.0,531.02 L1027.5,531.01 L1029.0,531.00 L1030.5,531.00 L1032.0,530.99 L1033.5,530.98 L1035.0,530.98 L1036.5,530.97 L1038.0,530.96 L1039.5,530.95 L1041.0,530.95 L1042.5,530.94 L1044.0,530.93 L1045.5,530.92 L1047.0,530.92 L1048.5,530.91 L1050.0,530.90 L1051.5,530.89 L1053.0,530.89 L1054.5,530.88 L1056.0,530.87 L1057.5,530.86 L1059.0,530.85 L1060.5,530.85 L1062.0,530.84 L1063.5,530.83 L1065.0,530.82 L1066.5,530.82 L1068.0,530.81 L1069.5,530.80 L1071.0,530.80 L1072.5,530.79 L1074.0,530.78 L1075.5,530.77 L1077.0,530.76 L1078.5,530.76 L1080.0,530.75 L1081.5,530.74 L1083.0,530.73 L1084.5,530.72 L1086.0,530.71 L1087.5,530.71 L1089.0,530.70 L1090.5,530.69 L1092.0,530.68 L1093.5,530.67 L1095.0,530.66 L1096.5,530.65 L1098.0,530.64 L1099.5,530.63 L1101.0,530.62 L1102.5,530.61 L1104.0,530.60 L1105.5,530.59 L1107.0,530.58 L1108.5,530.57 L1110.0,530.56 L1111.5,530.55 L1113.0,530.54 L1114.5,530.53 L1116.0,530.52 L1117.5,530.51 L1119.0,530.50 L1120.5,530.49 L1122.0,530.47 L1123.5,530.46 L1125.0,530.45 L1126.5,530.44 L1128.0,530.43 L1129.5,530.42 L1131.0,530.40 L1132.5,530.39 L1134.0,530.38 L1135.5,530.37 L1137.0,530.36 L1138.5,530.34 L1140.0,530.33 L1141.5,530.32 L1143.0,530.31 L1144.5,530.30 L1146.0,530.28 L1147.5,530.27 L1149.0,530.26 L1150.5,530.24 L1152.0,530.23 L1153.5,530.22 L1155.0,530.21 L1156.5,530.19 L1158.0,530.18 L1159.5,530.17 L1161.0,530.15 L1162.5,530.14 L1164.0,530.13 L1165.5,530.11 L1167.0,530.10 L1168.5,530.08 L1170.0,530.07 L1171.5,530.06 L1173.0,530.04 L1174.5,530.03 L1176.0,530.01 L1177.5,530.00 L1179.0,529.99 L1180.5,529.97 L1182.0,529.96 L1183.5,529.94 L1185.0,529.93 L1186.5,529.91 L1188.0,529.90" stroke="#ffd700" stroke-width="4.2" stroke-dasharray="10.1 10"/></g><g fill="none"><path d="M747,268.5 L1188,268.5" stroke="#1a1a1a" stroke-width="1"/><path d="M747.5,268 L747.5,617" stroke="#333" stroke-width="1"/><path d="M1188,268 L1188,617" stroke="#000" stroke-width="1"/><path d="M747,616.5 L1188.5,616.5" stroke="#555" stroke-width="1.2"/><path d="M748,355.5 L753,355.5" stroke="#333" stroke-width="1"/><path d="M1183,355.5 L1187.5,355.5" stroke="#333" stroke-width="1"/><path d="M748,471.5 L753,471.5" stroke="#333" stroke-width="1"/><path d="M1183,471.5 L1187.5,471.5" stroke="#333" stroke-width="1"/><path d="M748,587.5 L753,587.5" stroke="#333" stroke-width="1"/><path d="M1183,587.5 L1187.5,587.5" stroke="#333" stroke-width="1"/><path d="M742,275.5 L747,275.5" stroke="#777" stroke-width="1"/></g><g font-family="'Liberation Serif','Times New Roman',serif" font-weight="bold" fill="#000"><text transform="translate(61.55,166.49) scale(0.974,1)" font-size="27.60" font-weight="bold">1.2</text><text transform="translate(59.82,398.26) scale(0.977,1)" font-size="29.56" font-weight="bold">0.9</text><text transform="translate(61.67,615.07) scale(0.955,1)" font-size="28.68" font-weight="bold">0.6</text><text transform="translate(707.57,365.78) scale(0.938,1)" font-size="28.19" font-weight="bold">6.3</text><text transform="translate(707.68,482.07) scale(0.907,1)" font-size="28.93" font-weight="bold">6.1</text><text transform="translate(707.52,600.07) scale(0.952,1)" font-size="28.34" font-weight="bold">5.9</text><text transform="translate(97.62,654.00) scale(1.041,1)" font-size="37.40" font-weight="bold">Γ</text><text transform="translate(247.85,653.90) scale(0.999,1)" font-size="37.25" font-weight="bold">M</text><text transform="translate(425.82,654.00) scale(1.039,1)" font-size="37.40" font-weight="bold">X</text><text transform="translate(571.32,654.00) scale(1.041,1)" font-size="37.40" font-weight="bold">Γ</text><text transform="translate(746.30,654.00) scale(1.070,1)" font-size="37.56" font-weight="bold">Γ</text><text transform="translate(881.24,654.00) scale(1.009,1)" font-size="37.56" font-weight="bold">M</text><text transform="translate(1033.56,654.00) scale(0.977,1)" font-size="37.56" font-weight="bold">X</text><text transform="translate(1168.81,654.00) scale(1.051,1)" font-size="37.56" font-weight="bold">Γ</text><text transform="translate(41.28,29.81) scale(1.037,1)" font-size="39.01" font-weight="bold">(a)</text><text transform="translate(628.06,290.82) scale(1.034,1)" font-size="39.45" font-weight="bold">(c)</text><text transform="translate(668.08,45.55) scale(1.005,1)" font-size="40.22" font-weight="bold">(b1)</text><text transform="translate(829.67,45.55) scale(1.010,1)" font-size="40.22" font-weight="bold">(b2)</text><text transform="translate(992.18,45.55) scale(1.007,1)" font-size="40.22" font-weight="bold">(b3)</text><text transform="translate(1150.08,45.55) scale(1.004,1)" font-size="40.22" font-weight="bold">(b4)</text><text transform="translate(256.42,46.05) scale(0.857,1)" font-size="35.46" font-weight="bold" font-style="italic">d</text><text transform="translate(255.58,294.30) scale(0.870,1)" font-size="35.75" font-weight="bold" font-style="italic">p</text><text transform="translate(256.65,585.31) scale(1.034,1)" font-size="28.54" font-weight="bold" font-style="italic">s</text><text transform="translate(995.46,309.58) scale(1.137,1)" font-size="24.66" font-weight="normal" font-family="'DejaVu Sans',sans-serif">△</text><text transform="translate(1019.28,313.28) scale(0.948,1)" font-size="27.79" font-weight="bold">ε=0.1</text><text transform="translate(43.00,470.60) rotate(-90) scale(0.965,1)" font-size="42.80"><tspan x="-0.82 30.73" y="0.00" font-weight="bold">Re</tspan><tspan x="50.29" y="0.00" font-weight="normal">(</tspan><tspan x="57.21" y="0.00" font-weight="normal" font-style="italic" textLength="20.46" lengthAdjust="spacingAndGlyphs">f</tspan><tspan x="88.54 98.54" y="0.00" font-weight="normal">) </tspan><tspan x="114.88" y="0.00" font-weight="bold">[</tspan><tspan x="128.95" y="0.00" font-weight="normal">×</tspan><tspan x="152.55 175.26" y="0.00" font-weight="bold">10</tspan><tspan x="196.98 212.17" y="-22.90" font-weight="bold" font-size="26.00">14</tspan><tspan x="229.32 263.02 282.24" y="0.00" font-weight="bold">Hz]</tspan></text><text transform="translate(685.60,600.40) rotate(-90) scale(0.960,1)" font-size="37.80"><tspan x="-0.64 27.54" y="0.00" font-weight="bold">Re</tspan><tspan x="45.82" y="0.00" font-weight="normal">(</tspan><tspan x="50.94" y="0.00" font-weight="normal" font-style="italic" textLength="18.51" lengthAdjust="spacingAndGlyphs">f</tspan><tspan x="78.49 88.49" y="0.00" font-weight="normal">) </tspan><tspan x="102.18" y="0.00" font-weight="bold">[</tspan><tspan x="114.63" y="0.00" font-weight="normal">×</tspan><tspan x="135.55 155.45" y="0.00" font-weight="bold">10</tspan><tspan x="178.05 190.61" y="-17.70" font-weight="bold" font-size="23.00">14</tspan><tspan x="204.06 232.99 249.74" y="0.00" font-weight="bold">Hz]</tspan></text></g><rect x="617.5" y="67.5" width="157.8" height="157.8" fill="none" stroke="#444" stroke-width="1"/><circle cx="656.9" cy="106.9" r="36.3" fill="none" stroke="#111" stroke-width="0.9" stroke-opacity="0.8"/><circle cx="656.9" cy="185.7" r="36.3" fill="none" stroke="#111" stroke-width="0.9" stroke-opacity="0.8"/><circle cx="735.9" cy="185.7" r="36.3" fill="none" stroke="#111" stroke-width="0.9" stroke-opacity="0.8"/><rect x="782.5" y="67.5" width="157.8" height="157.8" fill="none" stroke="#444" stroke-width="1"/><circle cx="821.9" cy="106.9" r="36.3" fill="none" stroke="#111" stroke-width="0.9" stroke-opacity="0.8"/><circle cx="821.9" cy="185.7" r="36.3" fill="none" stroke="#111" stroke-width="0.9" stroke-opacity="0.8"/><circle cx="900.9" cy="185.7" r="36.3" fill="none" stroke="#111" stroke-width="0.9" stroke-opacity="0.8"/><rect x="947.5" y="67.5" width="157.8" height="157.8" fill="none" stroke="#444" stroke-width="1"/><circle cx="986.9" cy="106.9" r="36.3" fill="none" stroke="#111" stroke-width="0.9" stroke-opacity="0.8"/><circle cx="986.9" cy="185.7" r="36.3" fill="none" stroke="#111" stroke-width="0.9" stroke-opacity="0.8"/><circle cx="1065.9" cy="185.7" r="36.3" fill="none" stroke="#111" stroke-width="0.9" stroke-opacity="0.8"/><rect x="1111.8" y="67.5" width="157.8" height="157.8" fill="none" stroke="#444" stroke-width="1"/><circle cx="1151.2" cy="106.9" r="36.3" fill="none" stroke="#111" stroke-width="0.9" stroke-opacity="0.8"/><circle cx="1151.2" cy="185.7" r="36.3" fill="none" stroke="#111" stroke-width="0.9" stroke-opacity="0.8"/><circle cx="1230.2" cy="185.7" r="36.3" fill="none" stroke="#111" stroke-width="0.9" stroke-opacity="0.8"/></svg>
</body></html>
